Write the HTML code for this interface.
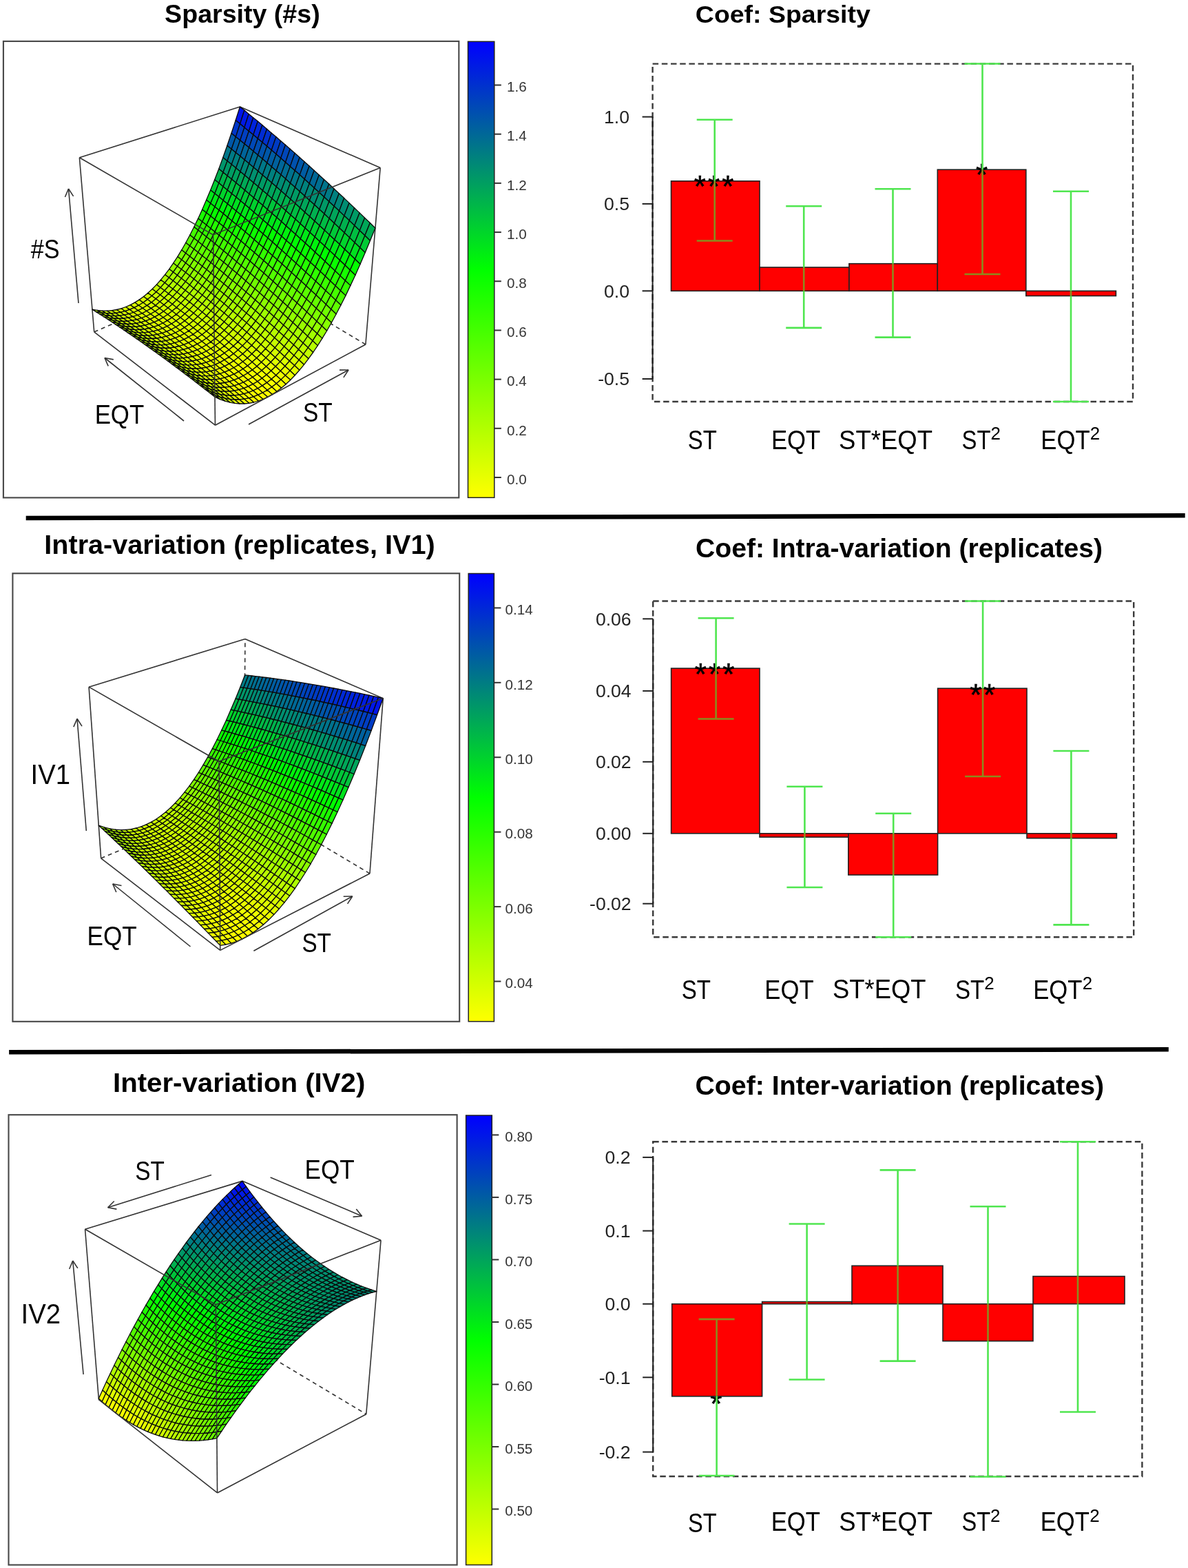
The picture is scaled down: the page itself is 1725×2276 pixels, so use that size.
<!DOCTYPE html>
<html><head><meta charset="utf-8"><title>Figure</title><style>html,body{margin:0;padding:0;background:#fff;}svg{display:block;filter:blur(0.5px);}</style></head><body>
<svg xmlns="http://www.w3.org/2000/svg" width="1725" height="2276" viewBox="0 0 1725 2276" font-family='"Liberation Sans", Arial, sans-serif' style="font-kerning:none">
<rect width="1725" height="2276" fill="#fff"/>
<line x1="37.7" y1="752.1" x2="1720.7" y2="748.3" stroke="#000" stroke-width="6.5"/>
<line x1="13.1" y1="1527.3" x2="1696.8" y2="1523.3" stroke="#000" stroke-width="6.5"/>
<text x="239.12" y="33.4" font-size="37.29" font-weight="bold" textLength="225.55" lengthAdjust="spacingAndGlyphs" fill="#000">Sparsity (#s)</text>
<text x="1009.86" y="33.4" font-size="35.88" font-weight="bold" textLength="253.94" lengthAdjust="spacingAndGlyphs" fill="#000">Coef: Sparsity</text>
<text x="64.35" y="803.5" font-size="38.66" font-weight="bold" textLength="567.32" lengthAdjust="spacingAndGlyphs" fill="#000">Intra-variation (replicates, IV1)</text>
<text x="1010" y="808.5" font-size="38.23" font-weight="bold" textLength="591.05" lengthAdjust="spacingAndGlyphs" fill="#000">Coef: Intra-variation (replicates)</text>
<text x="164.01" y="1585.1" font-size="39.24" font-weight="bold" textLength="366.29" lengthAdjust="spacingAndGlyphs" fill="#000">Inter-variation (IV2)</text>
<text x="1009.49" y="1588.5" font-size="38.52" font-weight="bold" textLength="593.67" lengthAdjust="spacingAndGlyphs" fill="#000">Coef: Inter-variation (replicates)</text>
<rect x="4.9" y="59.9" width="661.4" height="662.5" fill="none" stroke="#474747" stroke-width="2.1"/><line x1="136.72" y1="481.78" x2="115.36" y2="228.76" stroke="#333" stroke-width="1.6"/><line x1="136.72" y1="481.78" x2="347.33" y2="390.48" stroke="#333" stroke-width="1.6" stroke-dasharray="6 5"/><line x1="115.36" y1="228.76" x2="348.4" y2="154.94" stroke="#333" stroke-width="1.6"/><line x1="530.88" y1="499.97" x2="552.18" y2="243.48" stroke="#333" stroke-width="1.6"/><line x1="530.88" y1="499.97" x2="347.33" y2="390.48" stroke="#333" stroke-width="1.6" stroke-dasharray="6 5"/><line x1="552.18" y1="243.48" x2="348.4" y2="154.94" stroke="#333" stroke-width="1.6"/><line x1="347.33" y1="390.48" x2="348.4" y2="154.94" stroke="#333" stroke-width="1.6" stroke-dasharray="6 5"/><g stroke="#0a0a0a" stroke-width="1.3" stroke-linejoin="round"><path d="M263.7 377.1L269.7 367.3L263.8 362.7L257.8 372.6Z" fill="#7aff00"/><path d="M269.7 367.3L275.7 356.8L269.8 352.2L263.8 362.7Z" fill="#69ff00"/><path d="M257.6 386.4L263.7 377.1L257.8 372.6L251.7 381.9Z" fill="#89ff00"/><path d="M275.7 356.8L281.8 345.7L275.8 341.0L269.8 352.2Z" fill="#57ff00"/><path d="M251.5 395.0L257.6 386.4L251.7 381.9L245.7 390.6Z" fill="#97ff00"/><path d="M281.8 345.7L287.8 334.0L281.8 329.3L275.8 341.0Z" fill="#43ff00"/><path d="M245.4 403.1L251.5 395.0L245.7 390.6L239.6 398.7Z" fill="#a4ff00"/><path d="M287.8 334.0L293.8 321.7L287.8 316.9L281.8 329.3Z" fill="#2eff00"/><path d="M239.2 410.5L245.4 403.1L239.6 398.7L233.4 406.2Z" fill="#afff00"/><path d="M293.8 321.7L299.8 308.7L293.7 303.9L287.8 316.9Z" fill="#18ff00"/><path d="M233.0 417.4L239.2 410.5L233.4 406.2L227.3 413.1Z" fill="#baff00"/><path d="M269.6 381.7L275.7 371.9L269.7 367.3L263.7 377.1Z" fill="#7cff00"/><path d="M275.7 371.9L281.7 361.5L275.7 356.8L269.7 367.3Z" fill="#6bff00"/><path d="M263.5 390.9L269.6 381.7L263.7 377.1L257.6 386.4Z" fill="#8bff00"/><path d="M281.7 361.5L287.8 350.5L281.8 345.7L275.7 356.8Z" fill="#59ff00"/><path d="M299.8 308.7L305.8 295.0L299.7 290.1L293.7 303.9Z" fill="#01ff00"/><path d="M257.4 399.5L263.5 390.9L257.6 386.4L251.5 395.0Z" fill="#99ff00"/><path d="M226.8 423.7L233.0 417.4L227.3 413.1L221.1 419.5Z" fill="#c2ff00"/><path d="M287.8 350.5L293.8 338.8L287.8 334.0L281.8 345.7Z" fill="#46ff00"/><path d="M251.2 407.6L257.4 399.5L251.5 395.0L245.4 403.1Z" fill="#a6ff00"/><path d="M293.8 338.8L299.9 326.5L293.8 321.7L287.8 334.0Z" fill="#31ff00"/><path d="M305.8 295.0L311.9 280.7L305.7 275.8L299.7 290.1Z" fill="#00e718"/><path d="M245.1 415.0L251.2 407.6L245.4 403.1L239.2 410.5Z" fill="#b1ff00"/><path d="M220.5 429.5L226.8 423.7L221.1 419.5L214.8 425.2Z" fill="#caff00"/><path d="M299.9 326.5L305.9 313.5L299.8 308.7L293.8 321.7Z" fill="#1bff00"/><path d="M238.9 421.8L245.1 415.0L239.2 410.5L233.0 417.4Z" fill="#bbff00"/><path d="M311.9 280.7L317.9 265.6L311.7 260.7L305.7 275.8Z" fill="#00cd32"/><path d="M275.6 386.4L281.7 376.7L275.7 371.9L269.6 381.7Z" fill="#7eff00"/><path d="M281.7 376.7L287.7 366.3L281.7 361.5L275.7 371.9Z" fill="#6dff00"/><path d="M269.5 395.6L275.6 386.4L269.6 381.7L263.5 390.9Z" fill="#8dff00"/><path d="M214.2 434.6L220.5 429.5L214.8 425.2L208.5 430.5Z" fill="#d0ff00"/><path d="M305.9 313.5L312.0 299.9L305.8 295.0L299.8 308.7Z" fill="#04ff00"/><path d="M287.7 366.3L293.8 355.3L287.8 350.5L281.7 361.5Z" fill="#5cff00"/><path d="M263.3 404.1L269.5 395.6L263.5 390.9L257.4 399.5Z" fill="#9bff00"/><path d="M232.6 428.1L238.9 421.8L233.0 417.4L226.8 423.7Z" fill="#c3ff00"/><path d="M293.8 355.3L299.9 343.7L293.8 338.8L287.8 350.5Z" fill="#49ff00"/><path d="M257.1 412.1L263.3 404.1L257.4 399.5L251.2 407.6Z" fill="#a7ff00"/><path d="M299.9 343.7L306.0 331.4L299.9 326.5L293.8 338.8Z" fill="#34ff00"/><path d="M312.0 299.9L318.0 285.6L311.9 280.7L305.8 295.0Z" fill="#00ea15"/><path d="M317.9 265.6L324.0 249.9L317.8 244.9L311.7 260.7Z" fill="#00b14e"/><path d="M251.0 419.5L257.1 412.1L251.2 407.6L245.1 415.0Z" fill="#b2ff00"/><path d="M207.8 439.2L214.2 434.6L208.5 430.5L202.1 435.1Z" fill="#d5ff00"/><path d="M226.3 433.8L232.6 428.1L226.8 423.7L220.5 429.5Z" fill="#cbff00"/><path d="M306.0 331.4L312.0 318.5L305.9 313.5L299.9 326.5Z" fill="#1eff00"/><path d="M244.7 426.3L251.0 419.5L245.1 415.0L238.9 421.8Z" fill="#bcff00"/><path d="M318.0 285.6L324.1 270.7L317.9 265.6L311.9 280.7Z" fill="#00d02f"/><path d="M281.6 391.2L287.7 381.5L281.7 376.7L275.6 386.4Z" fill="#80ff00"/><path d="M287.7 381.5L293.8 371.2L287.7 366.3L281.7 376.7Z" fill="#70ff00"/><path d="M312.0 318.5L318.1 304.9L312.0 299.9L305.9 313.5Z" fill="#07ff00"/><path d="M275.5 400.3L281.6 391.2L275.6 386.4L269.5 395.6Z" fill="#8fff00"/><path d="M293.8 371.2L299.9 360.2L293.8 355.3L287.7 366.3Z" fill="#5eff00"/><path d="M219.9 438.9L226.3 433.8L220.5 429.5L214.2 434.6Z" fill="#d1ff00"/><path d="M324.0 249.9L330.1 233.5L323.8 228.5L317.8 244.9Z" fill="#00946b"/><path d="M269.3 408.8L275.5 400.3L269.5 395.6L263.3 404.1Z" fill="#9dff00"/><path d="M299.9 360.2L306.0 348.6L299.9 343.7L293.8 355.3Z" fill="#4bff00"/><path d="M201.3 443.2L207.8 439.2L202.1 435.1L195.7 439.1Z" fill="#d8ff00"/><path d="M238.4 432.5L244.7 426.3L238.9 421.8L232.6 428.1Z" fill="#c4ff00"/><path d="M263.1 416.7L269.3 408.8L263.3 404.1L257.1 412.1Z" fill="#a9ff00"/><path d="M306.0 348.6L312.1 336.4L306.0 331.4L299.9 343.7Z" fill="#37ff00"/><path d="M318.1 304.9L324.2 290.7L318.0 285.6L312.0 299.9Z" fill="#00ee11"/><path d="M324.1 270.7L330.2 255.0L324.0 249.9L317.9 265.6Z" fill="#00b54a"/><path d="M256.9 424.1L263.1 416.7L257.1 412.1L251.0 419.5Z" fill="#b4ff00"/><path d="M312.1 336.4L318.2 323.5L312.0 318.5L306.0 331.4Z" fill="#22ff00"/><path d="M213.5 443.4L219.9 438.9L214.2 434.6L207.8 439.2Z" fill="#d5ff00"/><path d="M232.1 438.1L238.4 432.5L232.6 428.1L226.3 433.8Z" fill="#ccff00"/><path d="M330.1 233.5L336.2 216.3L329.9 211.2L323.8 228.5Z" fill="#007689"/><path d="M324.2 290.7L330.3 275.7L324.1 270.7L318.0 285.6Z" fill="#00d42b"/><path d="M194.8 446.6L201.3 443.2L195.7 439.1L189.2 442.6Z" fill="#daff00"/><path d="M250.6 430.8L256.9 424.1L251.0 419.5L244.7 426.3Z" fill="#bdff00"/><path d="M318.2 323.5L324.4 310.0L318.1 304.9L312.0 318.5Z" fill="#0bff00"/><path d="M293.8 386.4L300.0 376.1L293.8 371.2L287.7 381.5Z" fill="#72ff00"/><path d="M287.7 396.0L293.8 386.4L287.7 381.5L281.6 391.2Z" fill="#83ff00"/><path d="M300.0 376.1L306.1 365.2L299.9 360.2L293.8 371.2Z" fill="#61ff00"/><path d="M330.2 255.0L336.3 238.6L330.1 233.5L324.0 249.9Z" fill="#009867"/><path d="M281.5 405.1L287.7 396.0L281.6 391.2L275.5 400.3Z" fill="#91ff00"/><path d="M306.1 365.2L312.2 353.6L306.0 348.6L299.9 360.2Z" fill="#4eff00"/><path d="M275.3 413.6L281.5 405.1L275.5 400.3L269.3 408.8Z" fill="#9fff00"/><path d="M225.8 443.2L232.1 438.1L226.3 433.8L219.9 438.9Z" fill="#d1ff00"/><path d="M207.1 447.3L213.5 443.4L207.8 439.2L201.3 443.2Z" fill="#d8ff00"/><path d="M244.3 437.0L250.6 430.8L244.7 426.3L238.4 432.5Z" fill="#c6ff00"/><path d="M324.4 310.0L330.5 295.8L324.2 290.7L318.1 304.9Z" fill="#00f10e"/><path d="M312.2 353.6L318.3 341.5L312.1 336.4L306.0 348.6Z" fill="#3aff00"/><path d="M330.3 275.7L336.5 260.1L330.2 255.0L324.1 270.7Z" fill="#00b946"/><path d="M269.1 421.4L275.3 413.6L269.3 408.8L263.1 416.7Z" fill="#abff00"/><path d="M336.2 216.3L342.4 198.4L336.0 193.3L329.9 211.2Z" fill="#0057a8"/><path d="M318.3 341.5L324.5 328.6L318.2 323.5L312.1 336.4Z" fill="#25ff00"/><path d="M188.2 449.4L194.8 446.6L189.2 442.6L182.6 445.5Z" fill="#dbff00"/><path d="M262.9 428.7L269.1 421.4L263.1 416.7L256.9 424.1Z" fill="#b5ff00"/><path d="M336.3 238.6L342.5 221.4L336.2 216.3L330.1 233.5Z" fill="#007a85"/><path d="M219.3 447.6L225.8 443.2L219.9 438.9L213.5 443.4Z" fill="#d6ff00"/><path d="M238.0 442.5L244.3 437.0L238.4 432.5L232.1 438.1Z" fill="#cdff00"/><path d="M330.5 295.8L336.6 280.9L330.3 275.7L324.2 290.7Z" fill="#00d827"/><path d="M324.5 328.6L330.6 315.2L324.4 310.0L318.2 323.5Z" fill="#0eff00"/><path d="M336.5 260.1L342.7 243.7L336.3 238.6L330.2 255.0Z" fill="#009c63"/><path d="M300.0 391.3L306.1 381.1L300.0 376.1L293.8 386.4Z" fill="#75ff00"/><path d="M200.5 450.7L207.1 447.3L201.3 443.2L194.8 446.6Z" fill="#daff00"/><path d="M256.6 435.4L262.9 428.7L256.9 424.1L250.6 430.8Z" fill="#bfff00"/><path d="M293.8 401.0L300.0 391.3L293.8 386.4L287.7 396.0Z" fill="#85ff00"/><path d="M306.1 381.1L312.3 370.2L306.1 365.2L300.0 376.1Z" fill="#64ff00"/><path d="M287.6 410.0L293.8 401.0L287.7 396.0L281.5 405.1Z" fill="#94ff00"/><path d="M312.3 370.2L318.4 358.7L312.2 353.6L306.1 365.2Z" fill="#51ff00"/><path d="M281.4 418.4L287.6 410.0L281.5 405.1L275.3 413.6Z" fill="#a1ff00"/><path d="M231.6 447.5L238.0 442.5L232.1 438.1L225.8 443.2Z" fill="#d2ff00"/><path d="M330.6 315.2L336.8 301.0L330.5 295.8L324.4 310.0Z" fill="#00f50a"/><path d="M336.6 280.9L342.8 265.3L336.5 260.1L330.3 275.7Z" fill="#00bd42"/><path d="M318.4 358.7L324.6 346.6L318.3 341.5L312.2 353.6Z" fill="#3dff00"/><path d="M342.4 198.4L348.6 179.6L342.2 174.5L336.0 193.3Z" fill="#0036c9"/><path d="M250.3 441.5L256.6 435.4L250.6 430.8L244.3 437.0Z" fill="#c7ff00"/><path d="M212.8 451.5L219.3 447.6L213.5 443.4L207.1 447.3Z" fill="#d9ff00"/><path d="M181.6 451.7L188.2 449.4L182.6 445.5L175.9 447.8Z" fill="#daff00"/><path d="M275.2 426.2L281.4 418.4L275.3 413.6L269.1 421.4Z" fill="#adff00"/><path d="M342.5 221.4L348.7 203.5L342.4 198.4L336.2 216.3Z" fill="#005ba4"/><path d="M324.6 346.6L330.8 333.8L324.5 328.6L318.3 341.5Z" fill="#28ff00"/><path d="M342.7 243.7L348.9 226.6L342.5 221.4L336.3 238.6Z" fill="#007f80"/><path d="M268.9 433.5L275.2 426.2L269.1 421.4L262.9 428.7Z" fill="#b7ff00"/><path d="M193.9 453.5L200.5 450.7L194.8 446.6L188.2 449.4Z" fill="#dbff00"/><path d="M336.8 301.0L343.0 286.1L336.6 280.9L330.5 295.8Z" fill="#00dc23"/><path d="M243.9 447.1L250.3 441.5L244.3 437.0L238.0 442.5Z" fill="#ceff00"/><path d="M225.2 452.0L231.6 447.5L225.8 443.2L219.3 447.6Z" fill="#d6ff00"/><path d="M330.8 333.8L336.9 320.4L330.6 315.2L324.5 328.6Z" fill="#12ff00"/><path d="M342.8 265.3L349.0 249.0L342.7 243.7L336.5 260.1Z" fill="#00a15e"/><path d="M306.2 396.4L312.4 386.2L306.1 381.1L300.0 391.3Z" fill="#78ff00"/><path d="M300.0 405.9L306.2 396.4L300.0 391.3L293.8 401.0Z" fill="#87ff00"/><path d="M312.4 386.2L318.5 375.4L312.3 370.2L306.1 381.1Z" fill="#67ff00"/><path d="M262.6 440.1L268.9 433.5L262.9 428.7L256.6 435.4Z" fill="#c0ff00"/><path d="M293.8 414.9L300.0 405.9L293.8 401.0L287.6 410.0Z" fill="#96ff00"/><path d="M206.3 454.8L212.8 451.5L207.1 447.3L200.5 450.7Z" fill="#dbff00"/><path d="M318.5 375.4L324.7 363.9L318.4 358.7L312.3 370.2Z" fill="#54ff00"/><path d="M348.6 179.6L354.8 160.1L348.4 154.9L342.2 174.5Z" fill="#0014eb"/><path d="M348.7 203.5L354.9 184.9L348.6 179.6L342.4 198.4Z" fill="#003ac5"/><path d="M287.5 423.3L293.8 414.9L287.6 410.0L281.4 418.4Z" fill="#a3ff00"/><path d="M336.9 320.4L343.1 306.3L336.8 301.0L330.6 315.2Z" fill="#00f906"/><path d="M343.0 286.1L349.2 270.6L342.8 265.3L336.6 280.9Z" fill="#00c13e"/><path d="M324.7 363.9L330.9 351.8L324.6 346.6L318.4 358.7Z" fill="#41ff00"/><path d="M174.8 453.3L181.6 451.7L175.9 447.8L169.2 449.5Z" fill="#d9ff00"/><path d="M348.9 226.6L355.1 208.8L348.7 203.5L342.5 221.4Z" fill="#005fa0"/><path d="M237.5 452.0L243.9 447.1L238.0 442.5L231.6 447.5Z" fill="#d3ff00"/><path d="M256.3 446.2L262.6 440.1L256.6 435.4L250.3 441.5Z" fill="#c8ff00"/><path d="M281.3 431.1L287.5 423.3L281.4 418.4L275.2 426.2Z" fill="#afff00"/><path d="M218.7 455.8L225.2 452.0L219.3 447.6L212.8 451.5Z" fill="#d9ff00"/><path d="M330.9 351.8L337.1 339.1L330.8 333.8L324.6 346.6Z" fill="#2cff00"/><path d="M349.0 249.0L355.3 231.9L348.9 226.6L342.7 243.7Z" fill="#00837c"/><path d="M187.2 455.6L193.9 453.5L188.2 449.4L181.6 451.7Z" fill="#daff00"/><path d="M343.1 306.3L349.4 291.5L343.0 286.1L336.8 301.0Z" fill="#00df20"/><path d="M275.0 438.3L281.3 431.1L275.2 426.2L268.9 433.5Z" fill="#b9ff00"/><path d="M337.1 339.1L343.3 325.7L336.9 320.4L330.8 333.8Z" fill="#15ff00"/><path d="M349.2 270.6L355.4 254.3L349.0 249.0L342.8 265.3Z" fill="#00a55a"/><path d="M199.7 457.5L206.3 454.8L200.5 450.7L193.9 453.5Z" fill="#dbff00"/><path d="M249.9 451.6L256.3 446.2L250.3 441.5L243.9 447.1Z" fill="#cfff00"/><path d="M231.1 456.4L237.5 452.0L231.6 447.5L225.2 452.0Z" fill="#d7ff00"/><path d="M312.4 401.5L318.6 391.3L312.4 386.2L306.2 396.4Z" fill="#7bff00"/><path d="M318.6 391.3L324.8 380.6L318.5 375.4L312.4 386.2Z" fill="#6aff00"/><path d="M306.2 411.0L312.4 401.5L306.2 396.4L300.0 405.9Z" fill="#8aff00"/><path d="M268.7 444.9L275.0 438.3L268.9 433.5L262.6 440.1Z" fill="#c2ff00"/><path d="M324.8 380.6L331.0 369.2L324.7 363.9L318.5 375.4Z" fill="#57ff00"/><path d="M354.9 184.9L361.2 165.4L354.8 160.1L348.6 179.6Z" fill="#0018e7"/><path d="M300.0 419.9L306.2 411.0L300.0 405.9L293.8 414.9Z" fill="#98ff00"/><path d="M355.1 208.8L361.4 190.2L354.9 184.9L348.7 203.5Z" fill="#003fc0"/><path d="M349.4 291.5L355.6 275.9L349.2 270.6L343.0 286.1Z" fill="#00c53a"/><path d="M343.3 325.7L349.5 311.6L343.1 306.3L336.9 320.4Z" fill="#00fc03"/><path d="M212.1 459.0L218.7 455.8L212.8 451.5L206.3 454.8Z" fill="#dbff00"/><path d="M167.9 454.4L174.8 453.3L169.2 449.5L162.3 450.7Z" fill="#d5ff00"/><path d="M331.0 369.2L337.3 357.1L330.9 351.8L324.7 363.9Z" fill="#44ff00"/><path d="M293.7 428.3L300.0 419.9L293.8 414.9L287.5 423.3Z" fill="#a5ff00"/><path d="M355.3 231.9L361.6 214.1L355.1 208.8L348.9 226.6Z" fill="#00649b"/><path d="M243.5 456.5L249.9 451.6L243.9 447.1L237.5 452.0Z" fill="#d4ff00"/><path d="M180.5 457.2L187.2 455.6L181.6 451.7L174.8 453.3Z" fill="#d8ff00"/><path d="M355.4 254.3L361.7 237.3L355.3 231.9L349.0 249.0Z" fill="#008778"/><path d="M337.3 357.1L343.5 344.4L337.1 339.1L330.9 351.8Z" fill="#2fff00"/><path d="M287.4 436.0L293.7 428.3L287.5 423.3L281.3 431.1Z" fill="#b1ff00"/><path d="M262.3 450.9L268.7 444.9L262.6 440.1L256.3 446.2Z" fill="#caff00"/><path d="M224.5 460.1L231.1 456.4L225.2 452.0L218.7 455.8Z" fill="#daff00"/><path d="M349.5 311.6L355.8 296.8L349.4 291.5L343.1 306.3Z" fill="#00e31c"/><path d="M193.0 459.7L199.7 457.5L193.9 453.5L187.2 455.6Z" fill="#daff00"/><path d="M355.6 275.9L361.9 259.7L355.4 254.3L349.2 270.6Z" fill="#00a956"/><path d="M343.5 344.4L349.7 331.1L343.3 325.7L337.1 339.1Z" fill="#19ff00"/><path d="M281.1 443.1L287.4 436.0L281.3 431.1L275.0 438.3Z" fill="#bbff00"/><path d="M318.7 406.7L324.9 396.6L318.6 391.3L312.4 401.5Z" fill="#7dff00"/><path d="M324.9 396.6L331.2 385.8L324.8 380.6L318.6 391.3Z" fill="#6dff00"/><path d="M256.0 456.3L262.3 450.9L256.3 446.2L249.9 451.6Z" fill="#d0ff00"/><path d="M205.5 461.7L212.1 459.0L206.3 454.8L199.7 457.5Z" fill="#dbff00"/><path d="M361.4 190.2L367.7 170.7L361.2 165.4L354.9 184.9Z" fill="#001de2"/><path d="M312.5 416.2L318.7 406.7L312.4 401.5L306.2 411.0Z" fill="#8dff00"/><path d="M361.6 214.1L367.9 195.5L361.4 190.2L355.1 208.8Z" fill="#0044bb"/><path d="M237.0 460.8L243.5 456.5L237.5 452.0L231.1 456.4Z" fill="#d8ff00"/><path d="M331.2 385.8L337.4 374.5L331.0 369.2L324.8 380.6Z" fill="#5bff00"/><path d="M306.2 425.0L312.5 416.2L306.2 411.0L300.0 419.9Z" fill="#9bff00"/><path d="M355.8 296.8L362.1 281.4L355.6 275.9L349.4 291.5Z" fill="#00c936"/><path d="M349.7 331.1L356.0 317.0L349.5 311.6L343.3 325.7Z" fill="#01ff00"/><path d="M274.8 449.7L281.1 443.1L275.0 438.3L268.7 444.9Z" fill="#c4ff00"/><path d="M361.7 237.3L368.0 219.5L361.6 214.1L355.3 231.9Z" fill="#006897"/><path d="M337.4 374.5L343.7 362.5L337.3 357.1L331.0 369.2Z" fill="#47ff00"/><path d="M161.0 454.9L167.9 454.4L162.3 450.7L155.4 451.2Z" fill="#d1ff00"/><path d="M299.9 433.3L306.2 425.0L300.0 419.9L293.7 428.3Z" fill="#a7ff00"/><path d="M218.0 463.3L224.5 460.1L218.7 455.8L212.1 459.0Z" fill="#dbff00"/><path d="M361.9 259.7L368.2 242.7L361.7 237.3L355.4 254.3Z" fill="#008c73"/><path d="M173.6 458.2L180.5 457.2L174.8 453.3L167.9 454.4Z" fill="#d5ff00"/><path d="M343.7 362.5L349.9 349.8L343.5 344.4L337.3 357.1Z" fill="#33ff00"/><path d="M293.6 441.0L299.9 433.3L293.7 428.3L287.4 436.0Z" fill="#b3ff00"/><path d="M249.5 461.1L256.0 456.3L249.9 451.6L243.5 456.5Z" fill="#d5ff00"/><path d="M356.0 317.0L362.3 302.3L355.8 296.8L349.5 311.6Z" fill="#00e718"/><path d="M268.4 455.6L274.8 449.7L268.7 444.9L262.3 450.9Z" fill="#cbff00"/><path d="M186.2 461.2L193.0 459.7L187.2 455.6L180.5 457.2Z" fill="#d8ff00"/><path d="M362.1 281.4L368.4 265.2L361.9 259.7L355.6 275.9Z" fill="#00ad52"/><path d="M230.5 464.6L237.0 460.8L231.1 456.4L224.5 460.1Z" fill="#daff00"/><path d="M349.9 349.8L356.2 336.5L349.7 331.1L343.5 344.4Z" fill="#1dff00"/><path d="M287.3 448.1L293.6 441.0L287.4 436.0L281.1 443.1Z" fill="#bdff00"/><path d="M198.7 463.8L205.5 461.7L199.7 457.5L193.0 459.7Z" fill="#daff00"/><path d="M367.9 195.5L374.3 176.1L367.7 170.7L361.4 190.2Z" fill="#0022dd"/><path d="M325.0 411.9L331.3 401.9L324.9 396.6L318.7 406.7Z" fill="#80ff00"/><path d="M368.0 219.5L374.4 201.0L367.9 195.5L361.6 214.1Z" fill="#0048b7"/><path d="M331.3 401.9L337.6 391.2L331.2 385.8L324.9 396.6Z" fill="#70ff00"/><path d="M318.8 421.4L325.0 411.9L318.7 406.7L312.5 416.2Z" fill="#8fff00"/><path d="M362.3 302.3L368.6 286.9L362.1 281.4L355.8 296.8Z" fill="#00cd32"/><path d="M337.6 391.2L343.8 379.9L337.4 374.5L331.2 385.8Z" fill="#5eff00"/><path d="M262.0 461.0L268.4 455.6L262.3 450.9L256.0 456.3Z" fill="#d1ff00"/><path d="M356.2 336.5L362.5 322.5L356.0 317.0L349.7 331.1Z" fill="#05ff00"/><path d="M368.2 242.7L374.6 225.0L368.0 219.5L361.7 237.3Z" fill="#006d92"/><path d="M312.5 430.2L318.8 421.4L312.5 416.2L306.2 425.0Z" fill="#9dff00"/><path d="M211.3 465.9L218.0 463.3L212.1 459.0L205.5 461.7Z" fill="#dbff00"/><path d="M243.0 465.4L249.5 461.1L243.5 456.5L237.0 460.8Z" fill="#d9ff00"/><path d="M343.8 379.9L350.1 367.9L343.7 362.5L337.4 374.5Z" fill="#4bff00"/><path d="M281.0 454.6L287.3 448.1L281.1 443.1L274.8 449.7Z" fill="#c5ff00"/><path d="M368.4 265.2L374.8 248.3L368.2 242.7L361.9 259.7Z" fill="#00906f"/><path d="M306.2 438.4L312.5 430.2L306.2 425.0L299.9 433.3Z" fill="#aaff00"/><path d="M153.9 454.7L161.0 454.9L155.4 451.2L148.4 451.1Z" fill="#cbff00"/><path d="M350.1 367.9L356.4 355.3L349.9 349.8L343.7 362.5Z" fill="#36ff00"/><path d="M166.6 458.6L173.6 458.2L167.9 454.4L161.0 454.9Z" fill="#d0ff00"/><path d="M223.9 467.7L230.5 464.6L224.5 460.1L218.0 463.3Z" fill="#dcff00"/><path d="M362.5 322.5L368.8 307.9L362.3 302.3L356.0 317.0Z" fill="#00ec13"/><path d="M299.9 446.1L306.2 438.4L299.9 433.3L293.6 441.0Z" fill="#b5ff00"/><path d="M179.3 462.2L186.2 461.2L180.5 457.2L173.6 458.2Z" fill="#d4ff00"/><path d="M368.6 286.9L375.0 270.7L368.4 265.2L362.1 281.4Z" fill="#00b24d"/><path d="M255.6 465.8L262.0 461.0L256.0 456.3L249.5 461.1Z" fill="#d6ff00"/><path d="M274.6 460.5L281.0 454.6L274.8 449.7L268.4 455.6Z" fill="#cdff00"/><path d="M356.4 355.3L362.7 342.1L356.2 336.5L349.9 349.8Z" fill="#21ff00"/><path d="M191.9 465.2L198.7 463.8L193.0 459.7L186.2 461.2Z" fill="#d7ff00"/><path d="M374.4 201.0L380.8 181.6L374.3 176.1L367.9 195.5Z" fill="#0027d8"/><path d="M236.5 469.0L243.0 465.4L237.0 460.8L230.5 464.6Z" fill="#dbff00"/><path d="M374.6 225.0L381.0 206.5L374.4 201.0L368.0 219.5Z" fill="#004db2"/><path d="M293.6 453.1L299.9 446.1L293.6 441.0L287.3 448.1Z" fill="#bfff00"/><path d="M331.4 417.3L337.7 407.3L331.3 401.9L325.0 411.9Z" fill="#83ff00"/><path d="M337.7 407.3L344.0 396.6L337.6 391.2L331.3 401.9Z" fill="#73ff00"/><path d="M368.8 307.9L375.2 292.5L368.6 286.9L362.3 302.3Z" fill="#00d22d"/><path d="M204.6 467.9L211.3 465.9L205.5 461.7L198.7 463.8Z" fill="#daff00"/><path d="M374.8 248.3L381.2 230.6L374.6 225.0L368.2 242.7Z" fill="#00728d"/><path d="M325.2 426.7L331.4 417.3L325.0 411.9L318.8 421.4Z" fill="#92ff00"/><path d="M362.7 342.1L369.0 328.1L362.5 322.5L356.2 336.5Z" fill="#09ff00"/><path d="M344.0 396.6L350.3 385.4L343.8 379.9L337.6 391.2Z" fill="#61ff00"/><path d="M268.2 465.8L274.6 460.5L268.4 455.6L262.0 461.0Z" fill="#d3ff00"/><path d="M318.9 435.5L325.2 426.7L318.8 421.4L312.5 430.2Z" fill="#a0ff00"/><path d="M350.3 385.4L356.6 373.4L350.1 367.9L343.8 379.9Z" fill="#4eff00"/><path d="M375.0 270.7L381.3 253.9L374.8 248.3L368.4 265.2Z" fill="#00956a"/><path d="M249.1 470.0L255.6 465.8L249.5 461.1L243.0 465.4Z" fill="#daff00"/><path d="M287.2 459.6L293.6 453.1L287.3 448.1L281.0 454.6Z" fill="#c7ff00"/><path d="M217.2 470.2L223.9 467.7L218.0 463.3L211.3 465.9Z" fill="#dbff00"/><path d="M312.5 443.7L318.9 435.5L312.5 430.2L306.2 438.4Z" fill="#acff00"/><path d="M356.6 373.4L362.9 360.9L356.4 355.3L350.1 367.9Z" fill="#3aff00"/><path d="M369.0 328.1L375.4 313.5L368.8 307.9L362.5 322.5Z" fill="#00f00f"/><path d="M146.8 454.0L153.9 454.7L148.4 451.1L141.2 450.4Z" fill="#c4ff00"/><path d="M375.2 292.5L381.5 276.4L375.0 270.7L368.6 286.9Z" fill="#00b649"/><path d="M159.6 458.4L166.6 458.6L161.0 454.9L153.9 454.7Z" fill="#caff00"/><path d="M229.9 472.1L236.5 469.0L230.5 464.6L223.9 467.7Z" fill="#dcff00"/><path d="M306.2 451.2L312.5 443.7L306.2 438.4L299.9 446.1Z" fill="#b7ff00"/><path d="M172.3 462.5L179.3 462.2L173.6 458.2L166.6 458.6Z" fill="#cfff00"/><path d="M362.9 360.9L369.2 347.7L362.7 342.1L356.4 355.3Z" fill="#24ff00"/><path d="M280.8 465.4L287.2 459.6L281.0 454.6L274.6 460.5Z" fill="#ceff00"/><path d="M381.0 206.5L387.5 187.2L380.8 181.6L374.4 201.0Z" fill="#002cd3"/><path d="M261.7 470.6L268.2 465.8L262.0 461.0L255.6 465.8Z" fill="#d7ff00"/><path d="M185.0 466.1L191.9 465.2L186.2 461.2L179.3 462.2Z" fill="#d4ff00"/><path d="M381.2 230.6L387.6 212.1L381.0 206.5L374.6 225.0Z" fill="#0052ad"/><path d="M375.4 313.5L381.8 298.1L375.2 292.5L368.8 307.9Z" fill="#00d629"/><path d="M299.9 458.2L306.2 451.2L299.9 446.1L293.6 453.1Z" fill="#c1ff00"/><path d="M381.3 253.9L387.8 236.2L381.2 230.6L374.8 248.3Z" fill="#007788"/><path d="M197.8 469.4L204.6 467.9L198.7 463.8L191.9 465.2Z" fill="#d7ff00"/><path d="M242.5 473.6L249.1 470.0L243.0 465.4L236.5 469.0Z" fill="#dcff00"/><path d="M344.2 412.7L350.5 402.1L344.0 396.6L337.7 407.3Z" fill="#76ff00"/><path d="M337.9 422.7L344.2 412.7L337.7 407.3L331.4 417.3Z" fill="#86ff00"/><path d="M369.2 347.7L375.6 333.8L369.0 328.1L362.7 342.1Z" fill="#0dff00"/><path d="M350.5 402.1L356.8 390.9L350.3 385.4L344.0 396.6Z" fill="#65ff00"/><path d="M331.6 432.1L337.9 422.7L331.4 417.3L325.2 426.7Z" fill="#95ff00"/><path d="M356.8 390.9L363.1 379.1L356.6 373.4L350.3 385.4Z" fill="#52ff00"/><path d="M210.5 472.2L217.2 470.2L211.3 465.9L204.6 467.9Z" fill="#daff00"/><path d="M381.5 276.4L388.0 259.5L381.3 253.9L375.0 270.7Z" fill="#009a65"/><path d="M325.3 440.8L331.6 432.1L325.2 426.7L318.9 435.5Z" fill="#a3ff00"/><path d="M274.4 470.7L280.8 465.4L274.6 460.5L268.2 465.8Z" fill="#d4ff00"/><path d="M293.5 464.6L299.9 458.2L293.6 453.1L287.2 459.6Z" fill="#c9ff00"/><path d="M363.1 379.1L369.5 366.5L362.9 360.9L356.6 373.4Z" fill="#3eff00"/><path d="M255.2 474.7L261.7 470.6L255.6 465.8L249.1 470.0Z" fill="#dbff00"/><path d="M318.9 448.9L325.3 440.8L318.9 435.5L312.5 443.7Z" fill="#afff00"/><path d="M375.6 333.8L382.0 319.2L375.4 313.5L369.0 328.1Z" fill="#00f40b"/><path d="M223.2 474.6L229.9 472.1L223.9 467.7L217.2 470.2Z" fill="#dcff00"/><path d="M381.8 298.1L388.2 282.1L381.5 276.4L375.2 292.5Z" fill="#00bb44"/><path d="M369.5 366.5L375.9 353.4L369.2 347.7L362.9 360.9Z" fill="#28ff00"/><path d="M387.6 212.1L394.1 192.9L387.5 187.2L381.0 206.5Z" fill="#0031ce"/><path d="M312.6 456.5L318.9 448.9L312.5 443.7L306.2 451.2Z" fill="#baff00"/><path d="M387.8 236.2L394.3 217.8L387.6 212.1L381.2 230.6Z" fill="#0057a8"/><path d="M235.9 476.6L242.5 473.6L236.5 469.0L229.9 472.1Z" fill="#ddff00"/><path d="M152.4 457.6L159.6 458.4L153.9 454.7L146.8 454.0Z" fill="#c2ff00"/><path d="M139.5 452.6L146.8 454.0L141.2 450.4L134.0 449.1Z" fill="#bbff00"/><path d="M165.2 462.2L172.3 462.5L166.6 458.6L159.6 458.4Z" fill="#c9ff00"/><path d="M287.1 470.4L293.5 464.6L287.2 459.6L280.8 465.4Z" fill="#d0ff00"/><path d="M267.9 475.4L274.4 470.7L268.2 465.8L261.7 470.6Z" fill="#d9ff00"/><path d="M178.0 466.4L185.0 466.1L179.3 462.2L172.3 462.5Z" fill="#cfff00"/><path d="M388.0 259.5L394.5 241.9L387.8 236.2L381.3 253.9Z" fill="#007b84"/><path d="M382.0 319.2L388.4 303.9L381.8 298.1L375.4 313.5Z" fill="#00da25"/><path d="M375.9 353.4L382.2 339.5L375.6 333.8L369.2 347.7Z" fill="#12ff00"/><path d="M190.8 470.2L197.8 469.4L191.9 465.2L185.0 466.1Z" fill="#d3ff00"/><path d="M350.7 418.3L357.0 407.7L350.5 402.1L344.2 412.7Z" fill="#7aff00"/><path d="M344.4 428.2L350.7 418.3L344.2 412.7L337.9 422.7Z" fill="#8aff00"/><path d="M306.2 463.4L312.6 456.5L306.2 451.2L299.9 458.2Z" fill="#c3ff00"/><path d="M357.0 407.7L363.4 396.6L356.8 390.9L350.5 402.1Z" fill="#68ff00"/><path d="M338.1 437.5L344.4 428.2L337.9 422.7L331.6 432.1Z" fill="#98ff00"/><path d="M248.6 478.3L255.2 474.7L249.1 470.0L242.5 473.6Z" fill="#ddff00"/><path d="M388.2 282.1L394.7 265.3L388.0 259.5L381.5 276.4Z" fill="#009e61"/><path d="M203.6 473.5L210.5 472.2L204.6 467.9L197.8 469.4Z" fill="#d7ff00"/><path d="M363.4 396.6L369.7 384.7L363.1 379.1L356.8 390.9Z" fill="#56ff00"/><path d="M331.7 446.2L338.1 437.5L331.6 432.1L325.3 440.8Z" fill="#a5ff00"/><path d="M216.4 476.5L223.2 474.6L217.2 470.2L210.5 472.2Z" fill="#daff00"/><path d="M369.7 384.7L376.1 372.3L369.5 366.5L363.1 379.1Z" fill="#42ff00"/><path d="M280.6 475.7L287.1 470.4L280.8 465.4L274.4 470.7Z" fill="#d6ff00"/><path d="M382.2 339.5L388.7 325.0L382.0 319.2L375.6 333.8Z" fill="#00f807"/><path d="M299.8 469.8L306.2 463.4L299.9 458.2L293.5 464.6Z" fill="#cbff00"/><path d="M388.4 303.9L394.9 287.9L388.2 282.1L381.8 298.1Z" fill="#00bf40"/><path d="M325.4 454.3L331.7 446.2L325.3 440.8L318.9 448.9Z" fill="#b1ff00"/><path d="M261.3 479.5L267.9 475.4L261.7 470.6L255.2 474.7Z" fill="#dcff00"/><path d="M394.3 217.8L400.8 198.6L394.1 192.9L387.6 212.1Z" fill="#0036c9"/><path d="M229.2 479.1L235.9 476.6L229.9 472.1L223.2 474.6Z" fill="#dcff00"/><path d="M376.1 372.3L382.5 359.1L375.9 353.4L369.5 366.5Z" fill="#2dff00"/><path d="M394.5 241.9L401.0 223.6L394.3 217.8L387.8 236.2Z" fill="#005ca3"/><path d="M319.0 461.8L325.4 454.3L318.9 448.9L312.6 456.5Z" fill="#bcff00"/><path d="M394.7 265.3L401.2 247.7L394.5 241.9L388.0 259.5Z" fill="#00807f"/><path d="M388.7 325.0L395.1 309.7L388.4 303.9L382.0 319.2Z" fill="#00df20"/><path d="M242.0 481.2L248.6 478.3L242.5 473.6L235.9 476.6Z" fill="#ddff00"/><path d="M293.4 475.5L299.8 469.8L293.5 464.6L287.1 470.4Z" fill="#d2ff00"/><path d="M382.5 359.1L388.9 345.3L382.2 339.5L375.9 353.4Z" fill="#16ff00"/><path d="M274.1 480.3L280.6 475.7L274.4 470.7L267.9 475.4Z" fill="#daff00"/><path d="M158.0 461.3L165.2 462.2L159.6 458.4L152.4 457.6Z" fill="#c1ff00"/><path d="M357.3 423.9L363.6 413.4L357.0 407.7L350.7 418.3Z" fill="#7dff00"/><path d="M171.0 466.1L178.0 466.4L172.3 462.5L165.2 462.2Z" fill="#c8ff00"/><path d="M350.9 433.8L357.3 423.9L350.7 418.3L344.4 428.2Z" fill="#8dff00"/><path d="M145.1 456.2L152.4 457.6L146.8 454.0L139.5 452.6Z" fill="#baff00"/><path d="M363.6 413.4L370.0 402.3L363.4 396.6L357.0 407.7Z" fill="#6cff00"/><path d="M394.9 287.9L401.4 271.1L394.7 265.3L388.2 282.1Z" fill="#00a35c"/><path d="M183.8 470.4L190.8 470.2L185.0 466.1L178.0 466.4Z" fill="#ceff00"/><path d="M312.6 468.7L319.0 461.8L312.6 456.5L306.2 463.4Z" fill="#c5ff00"/><path d="M344.6 443.0L350.9 433.8L344.4 428.2L338.1 437.5Z" fill="#9bff00"/><path d="M370.0 402.3L376.4 390.5L369.7 384.7L363.4 396.6Z" fill="#5aff00"/><path d="M196.7 474.3L203.6 473.5L197.8 469.4L190.8 470.2Z" fill="#d3ff00"/><path d="M254.7 483.0L261.3 479.5L255.2 474.7L248.6 478.3Z" fill="#deff00"/><path d="M338.2 451.7L344.6 443.0L338.1 437.5L331.7 446.2Z" fill="#a8ff00"/><path d="M209.6 477.8L216.4 476.5L210.5 472.2L203.6 473.5Z" fill="#d7ff00"/><path d="M388.9 345.3L395.4 330.8L388.7 325.0L382.2 339.5Z" fill="#00fd02"/><path d="M376.4 390.5L382.8 378.1L376.1 372.3L369.7 384.7Z" fill="#46ff00"/><path d="M395.1 309.7L401.6 293.8L394.9 287.9L388.4 303.9Z" fill="#00c43b"/><path d="M286.9 480.7L293.4 475.5L287.1 470.4L280.6 475.7Z" fill="#d7ff00"/><path d="M401.0 223.6L407.6 204.4L400.8 198.6L394.3 217.8Z" fill="#003bc4"/><path d="M331.8 459.7L338.2 451.7L331.7 446.2L325.4 454.3Z" fill="#b4ff00"/><path d="M306.2 475.0L312.6 468.7L306.2 463.4L299.8 469.8Z" fill="#cdff00"/><path d="M222.4 480.9L229.2 479.1L223.2 474.6L216.4 476.5Z" fill="#daff00"/><path d="M401.2 247.7L407.8 229.4L401.0 223.6L394.5 241.9Z" fill="#00619e"/><path d="M382.8 378.1L389.2 365.0L382.5 359.1L376.1 372.3Z" fill="#31ff00"/><path d="M267.6 484.3L274.1 480.3L267.9 475.4L261.3 479.5Z" fill="#ddff00"/><path d="M401.4 271.1L408.0 253.6L401.2 247.7L394.7 265.3Z" fill="#00857a"/><path d="M235.2 483.6L242.0 481.2L235.9 476.6L229.2 479.1Z" fill="#ddff00"/><path d="M325.5 467.2L331.8 459.7L325.4 454.3L319.0 461.8Z" fill="#bfff00"/><path d="M395.4 330.8L401.9 315.6L395.1 309.7L388.7 325.0Z" fill="#00e41b"/><path d="M389.2 365.0L395.7 351.2L388.9 345.3L382.5 359.1Z" fill="#1aff00"/><path d="M401.6 293.8L408.2 277.1L401.4 271.1L394.9 287.9Z" fill="#00a857"/><path d="M299.7 480.7L306.2 475.0L299.8 469.8L293.4 475.5Z" fill="#d4ff00"/><path d="M363.9 429.6L370.3 419.2L363.6 413.4L357.3 423.9Z" fill="#81ff00"/><path d="M357.5 439.4L363.9 429.6L357.3 423.9L350.9 433.8Z" fill="#90ff00"/><path d="M370.3 419.2L376.7 408.1L370.0 402.3L363.6 413.4Z" fill="#70ff00"/><path d="M248.1 485.9L254.7 483.0L248.6 478.3L242.0 481.2Z" fill="#deff00"/><path d="M280.4 485.3L286.9 480.7L280.6 475.7L274.1 480.3Z" fill="#dbff00"/><path d="M351.1 448.7L357.5 439.4L350.9 433.8L344.6 443.0Z" fill="#9eff00"/><path d="M376.7 408.1L383.1 396.3L376.4 390.5L370.0 402.3Z" fill="#5dff00"/><path d="M319.1 474.0L325.5 467.2L319.0 461.8L312.6 468.7Z" fill="#c8ff00"/><path d="M163.8 465.1L171.0 466.1L165.2 462.2L158.0 461.3Z" fill="#c0ff00"/><path d="M176.7 470.0L183.8 470.4L178.0 466.4L171.0 466.1Z" fill="#c7ff00"/><path d="M150.7 459.8L158.0 461.3L152.4 457.6L145.1 456.2Z" fill="#b8ff00"/><path d="M189.7 474.4L196.7 474.3L190.8 470.2L183.8 470.4Z" fill="#ceff00"/><path d="M395.7 351.2L402.1 336.8L395.4 330.8L388.9 345.3Z" fill="#02ff00"/><path d="M344.8 457.3L351.1 448.7L344.6 443.0L338.2 451.7Z" fill="#abff00"/><path d="M383.1 396.3L389.5 384.0L382.8 378.1L376.4 390.5Z" fill="#4aff00"/><path d="M401.9 315.6L408.4 299.7L401.6 293.8L395.1 309.7Z" fill="#00c936"/><path d="M202.6 478.5L209.6 477.8L203.6 473.5L196.7 474.3Z" fill="#d3ff00"/><path d="M260.9 487.8L267.6 484.3L261.3 479.5L254.7 483.0Z" fill="#dfff00"/><path d="M407.8 229.4L414.4 210.3L407.6 204.4L401.0 223.6Z" fill="#0041be"/><path d="M408.0 253.6L414.6 235.4L407.8 229.4L401.2 247.7Z" fill="#006699"/><path d="M215.6 482.1L222.4 480.9L216.4 476.5L209.6 477.8Z" fill="#d7ff00"/><path d="M338.4 465.3L344.8 457.3L338.2 451.7L331.8 459.7Z" fill="#b7ff00"/><path d="M389.5 384.0L395.9 370.9L389.2 365.0L382.8 378.1Z" fill="#35ff00"/><path d="M293.3 485.8L299.7 480.7L293.4 475.5L286.9 480.7Z" fill="#d9ff00"/><path d="M312.6 480.3L319.1 474.0L312.6 468.7L306.2 475.0Z" fill="#cfff00"/><path d="M408.2 277.1L414.8 259.6L408.0 253.6L401.4 271.1Z" fill="#008b74"/><path d="M228.5 485.4L235.2 483.6L229.2 479.1L222.4 480.9Z" fill="#dbff00"/><path d="M402.1 336.8L408.7 321.6L401.9 315.6L395.4 330.8Z" fill="#00e817"/><path d="M273.8 489.3L280.4 485.3L274.1 480.3L267.6 484.3Z" fill="#deff00"/><path d="M332.0 472.7L338.4 465.3L331.8 459.7L325.5 467.2Z" fill="#c1ff00"/><path d="M395.9 370.9L402.4 357.2L395.7 351.2L389.2 365.0Z" fill="#1fff00"/><path d="M241.4 488.2L248.1 485.9L242.0 481.2L235.2 483.6Z" fill="#ddff00"/><path d="M408.4 299.7L415.0 283.1L408.2 277.1L401.6 293.8Z" fill="#00ad52"/><path d="M370.6 435.4L377.0 425.0L370.3 419.2L363.9 429.6Z" fill="#84ff00"/><path d="M377.0 425.0L383.4 414.0L376.7 408.1L370.3 419.2Z" fill="#73ff00"/><path d="M364.2 445.2L370.6 435.4L363.9 429.6L357.5 439.4Z" fill="#94ff00"/><path d="M306.2 485.9L312.6 480.3L306.2 475.0L299.7 480.7Z" fill="#d6ff00"/><path d="M383.4 414.0L389.8 402.3L383.1 396.3L376.7 408.1Z" fill="#61ff00"/><path d="M357.8 454.4L364.2 445.2L357.5 439.4L351.1 448.7Z" fill="#a2ff00"/><path d="M286.7 490.3L293.3 485.8L286.9 480.7L280.4 485.3Z" fill="#ddff00"/><path d="M254.3 490.6L260.9 487.8L254.7 483.0L248.1 485.9Z" fill="#dfff00"/><path d="M325.6 479.5L332.0 472.7L325.5 467.2L319.1 474.0Z" fill="#caff00"/><path d="M402.4 357.2L408.9 342.8L402.1 336.8L395.7 351.2Z" fill="#07ff00"/><path d="M408.7 321.6L415.2 305.8L408.4 299.7L401.9 315.6Z" fill="#00ce31"/><path d="M389.8 402.3L396.3 389.9L389.5 384.0L383.1 396.3Z" fill="#4eff00"/><path d="M414.6 235.4L421.2 216.3L414.4 210.3L407.8 229.4Z" fill="#0046b9"/><path d="M351.4 462.9L357.8 454.4L351.1 448.7L344.8 457.3Z" fill="#aeff00"/><path d="M414.8 259.6L421.4 241.4L414.6 235.4L408.0 253.6Z" fill="#006c93"/><path d="M182.6 474.0L189.7 474.4L183.8 470.4L176.7 470.0Z" fill="#c7ff00"/><path d="M169.5 468.9L176.7 470.0L171.0 466.1L163.8 465.1Z" fill="#bfff00"/><path d="M195.6 478.6L202.6 478.5L196.7 474.3L189.7 474.4Z" fill="#cdff00"/><path d="M267.2 492.7L273.8 489.3L267.6 484.3L260.9 487.8Z" fill="#e0ff00"/><path d="M156.4 463.5L163.8 465.1L158.0 461.3L150.7 459.8Z" fill="#b7ff00"/><path d="M396.3 389.9L402.7 376.9L395.9 370.9L389.5 384.0Z" fill="#39ff00"/><path d="M208.6 482.8L215.6 482.1L209.6 477.8L202.6 478.5Z" fill="#d3ff00"/><path d="M345.0 470.9L351.4 462.9L344.8 457.3L338.4 465.3Z" fill="#baff00"/><path d="M415.0 283.1L421.6 265.7L414.8 259.6L408.2 277.1Z" fill="#00906f"/><path d="M299.7 491.0L306.2 485.9L299.7 480.7L293.3 485.8Z" fill="#dbff00"/><path d="M319.1 485.7L325.6 479.5L319.1 474.0L312.6 480.3Z" fill="#d2ff00"/><path d="M408.9 342.8L415.5 327.7L408.7 321.6L402.1 336.8Z" fill="#00ed12"/><path d="M221.6 486.6L228.5 485.4L222.4 480.9L215.6 482.1Z" fill="#d7ff00"/><path d="M402.7 376.9L409.3 363.3L402.4 357.2L395.9 370.9Z" fill="#23ff00"/><path d="M415.2 305.8L421.9 289.1L415.0 283.1L408.4 299.7Z" fill="#00b24d"/><path d="M234.6 489.9L241.4 488.2L235.2 483.6L228.5 485.4Z" fill="#dbff00"/><path d="M280.2 494.3L286.7 490.3L280.4 485.3L273.8 489.3Z" fill="#e0ff00"/><path d="M338.5 478.2L345.0 470.9L338.4 465.3L332.0 472.7Z" fill="#c4ff00"/><path d="M377.3 441.3L383.7 430.9L377.0 425.0L370.6 435.4Z" fill="#88ff00"/><path d="M383.7 430.9L390.1 419.9L383.4 414.0L377.0 425.0Z" fill="#77ff00"/><path d="M370.9 451.0L377.3 441.3L370.6 435.4L364.2 445.2Z" fill="#97ff00"/><path d="M247.5 492.9L254.3 490.6L248.1 485.9L241.4 488.2Z" fill="#deff00"/><path d="M390.1 419.9L396.6 408.3L389.8 402.3L383.4 414.0Z" fill="#65ff00"/><path d="M312.6 491.3L319.1 485.7L312.6 480.3L306.2 485.9Z" fill="#d8ff00"/><path d="M364.5 460.1L370.9 451.0L364.2 445.2L357.8 454.4Z" fill="#a5ff00"/><path d="M409.3 363.3L415.8 348.9L408.9 342.8L402.4 357.2Z" fill="#0cff00"/><path d="M415.5 327.7L422.1 311.9L415.2 305.8L408.7 321.6Z" fill="#00d32c"/><path d="M421.4 241.4L428.1 222.3L421.2 216.3L414.6 235.4Z" fill="#004cb3"/><path d="M396.6 408.3L403.1 396.0L396.3 389.9L389.8 402.3Z" fill="#52ff00"/><path d="M332.1 485.0L338.5 478.2L332.0 472.7L325.6 479.5Z" fill="#cdff00"/><path d="M293.1 495.5L299.7 491.0L293.3 485.8L286.7 490.3Z" fill="#dfff00"/><path d="M421.6 265.7L428.3 247.5L421.4 241.4L414.8 259.6Z" fill="#00718e"/><path d="M260.5 495.5L267.2 492.7L260.9 487.8L254.3 490.6Z" fill="#e0ff00"/><path d="M358.0 468.6L364.5 460.1L357.8 454.4L351.4 462.9Z" fill="#b2ff00"/><path d="M403.1 396.0L409.6 383.0L402.7 376.9L396.3 389.9Z" fill="#3eff00"/><path d="M421.9 289.1L428.5 271.8L421.6 265.7L415.0 283.1Z" fill="#00956a"/><path d="M351.6 476.5L358.0 468.6L351.4 462.9L345.0 470.9Z" fill="#bdff00"/><path d="M415.8 348.9L422.4 333.9L415.5 327.7L408.9 342.8Z" fill="#00f20d"/><path d="M273.5 497.6L280.2 494.3L273.8 489.3L267.2 492.7Z" fill="#e1ff00"/><path d="M188.5 478.0L195.6 478.6L189.7 474.4L182.6 474.0Z" fill="#c6ff00"/><path d="M201.6 482.8L208.6 482.8L202.6 478.5L195.6 478.6Z" fill="#cdff00"/><path d="M175.4 472.9L182.6 474.0L176.7 470.0L169.5 468.9Z" fill="#bfff00"/><path d="M325.7 491.1L332.1 485.0L325.6 479.5L319.1 485.7Z" fill="#d4ff00"/><path d="M306.1 496.3L312.6 491.3L306.2 485.9L299.7 491.0Z" fill="#ddff00"/><path d="M214.6 487.1L221.6 486.6L215.6 482.1L208.6 482.8Z" fill="#d3ff00"/><path d="M162.2 467.3L169.5 468.9L163.8 465.1L156.4 463.5Z" fill="#b6ff00"/><path d="M409.6 383.0L416.1 369.4L409.3 363.3L402.7 376.9Z" fill="#28ff00"/><path d="M422.1 311.9L428.8 295.3L421.9 289.1L415.2 305.8Z" fill="#00b748"/><path d="M227.7 491.0L234.6 489.9L228.5 485.4L221.6 486.6Z" fill="#d7ff00"/><path d="M345.2 483.8L351.6 476.5L345.0 470.9L338.5 478.2Z" fill="#c7ff00"/><path d="M286.5 499.4L293.1 495.5L286.7 490.3L280.2 494.3Z" fill="#e1ff00"/><path d="M384.1 447.2L390.5 436.9L383.7 430.9L377.3 441.3Z" fill="#8cff00"/><path d="M390.5 436.9L397.0 426.0L390.1 419.9L383.7 430.9Z" fill="#7bff00"/><path d="M240.7 494.6L247.5 492.9L241.4 488.2L234.6 489.9Z" fill="#dbff00"/><path d="M377.6 456.9L384.1 447.2L377.3 441.3L370.9 451.0Z" fill="#9bff00"/><path d="M397.0 426.0L403.4 414.4L396.6 408.3L390.1 419.9Z" fill="#6aff00"/><path d="M422.4 333.9L429.0 318.1L422.1 311.9L415.5 327.7Z" fill="#00d827"/><path d="M416.1 369.4L422.7 355.1L415.8 348.9L409.3 363.3Z" fill="#11ff00"/><path d="M428.3 247.5L435.1 228.5L428.1 222.3L421.4 241.4Z" fill="#0051ae"/><path d="M371.2 466.0L377.6 456.9L370.9 451.0L364.5 460.1Z" fill="#a8ff00"/><path d="M253.8 497.7L260.5 495.5L254.3 490.6L247.5 492.9Z" fill="#dfff00"/><path d="M403.4 414.4L410.0 402.1L403.1 396.0L396.6 408.3Z" fill="#57ff00"/><path d="M428.5 271.8L435.3 253.6L428.3 247.5L421.6 265.7Z" fill="#007788"/><path d="M319.2 496.7L325.7 491.1L319.1 485.7L312.6 491.3Z" fill="#daff00"/><path d="M338.7 490.6L345.2 483.8L338.5 478.2L332.1 485.0Z" fill="#cfff00"/><path d="M364.7 474.5L371.2 466.0L364.5 460.1L358.0 468.6Z" fill="#b5ff00"/><path d="M299.6 500.7L306.1 496.3L299.7 491.0L293.1 495.5Z" fill="#e0ff00"/><path d="M428.8 295.3L435.5 278.0L428.5 271.8L421.9 289.1Z" fill="#009a65"/><path d="M410.0 402.1L416.5 389.2L409.6 383.0L403.1 396.0Z" fill="#42ff00"/><path d="M266.8 500.4L273.5 497.6L267.2 492.7L260.5 495.5Z" fill="#e1ff00"/><path d="M422.7 355.1L429.3 340.1L422.4 333.9L415.8 348.9Z" fill="#00f708"/><path d="M358.3 482.3L364.7 474.5L358.0 468.6L351.6 476.5Z" fill="#c0ff00"/><path d="M429.0 318.1L435.7 301.6L428.8 295.3L422.1 311.9Z" fill="#00bd42"/><path d="M416.5 389.2L423.1 375.7L416.1 369.4L409.6 383.0Z" fill="#2cff00"/><path d="M279.9 502.7L286.5 499.4L280.2 494.3L273.5 497.6Z" fill="#e2ff00"/><path d="M332.2 496.7L338.7 490.6L332.1 485.0L325.7 491.1Z" fill="#d6ff00"/><path d="M312.6 501.6L319.2 496.7L312.6 491.3L306.1 496.3Z" fill="#dfff00"/><path d="M194.4 482.2L201.6 482.8L195.6 478.6L188.5 478.0Z" fill="#c6ff00"/><path d="M207.6 487.1L214.6 487.1L208.6 482.8L201.6 482.8Z" fill="#cdff00"/><path d="M181.2 476.8L188.5 478.0L182.6 474.0L175.4 472.9Z" fill="#beff00"/><path d="M220.7 491.5L227.7 491.0L221.6 486.6L214.6 487.1Z" fill="#d3ff00"/><path d="M351.9 489.6L358.3 482.3L351.6 476.5L345.2 483.8Z" fill="#c9ff00"/><path d="M397.3 443.0L403.8 432.1L397.0 426.0L390.5 436.9Z" fill="#7fff00"/><path d="M390.9 453.3L397.3 443.0L390.5 436.9L384.1 447.2Z" fill="#8fff00"/><path d="M168.0 471.1L175.4 472.9L169.5 468.9L162.2 467.3Z" fill="#b5ff00"/><path d="M435.3 253.6L442.1 234.7L435.1 228.5L428.3 247.5Z" fill="#0057a8"/><path d="M233.9 495.6L240.7 494.6L234.6 489.9L227.7 491.0Z" fill="#d8ff00"/><path d="M429.3 340.1L436.0 324.4L429.0 318.1L422.4 333.9Z" fill="#00dd22"/><path d="M403.8 432.1L410.3 420.5L403.4 414.4L397.0 426.0Z" fill="#6eff00"/><path d="M384.4 462.9L390.9 453.3L384.1 447.2L377.6 456.9Z" fill="#9eff00"/><path d="M423.1 375.7L429.7 361.4L422.7 355.1L416.1 369.4Z" fill="#15ff00"/><path d="M293.0 504.5L299.6 500.7L293.1 495.5L286.5 499.4Z" fill="#e3ff00"/><path d="M435.5 278.0L442.3 259.9L435.3 253.6L428.5 271.8Z" fill="#007c83"/><path d="M247.0 499.3L253.8 497.7L247.5 492.9L240.7 494.6Z" fill="#dcff00"/><path d="M410.3 420.5L416.9 408.4L410.0 402.1L403.4 414.4Z" fill="#5bff00"/><path d="M378.0 471.9L384.4 462.9L377.6 456.9L371.2 466.0Z" fill="#acff00"/><path d="M325.7 502.2L332.2 496.7L325.7 491.1L319.2 496.7Z" fill="#dcff00"/><path d="M435.7 301.6L442.5 284.3L435.5 278.0L428.8 295.3Z" fill="#00a05f"/><path d="M260.1 502.5L266.8 500.4L260.5 495.5L253.8 497.7Z" fill="#dfff00"/><path d="M345.4 496.2L351.9 489.6L345.2 483.8L338.7 490.6Z" fill="#d2ff00"/><path d="M416.9 408.4L423.4 395.5L416.5 389.2L410.0 402.1Z" fill="#47ff00"/><path d="M371.5 480.4L378.0 471.9L371.2 466.0L364.7 474.5Z" fill="#b8ff00"/><path d="M306.1 506.0L312.6 501.6L306.1 496.3L299.6 500.7Z" fill="#e2ff00"/><path d="M429.7 361.4L436.3 346.4L429.3 340.1L422.7 355.1Z" fill="#00fc03"/><path d="M273.2 505.3L279.9 502.7L273.5 497.6L266.8 500.4Z" fill="#e2ff00"/><path d="M436.0 324.4L442.7 307.9L435.7 301.6L429.0 318.1Z" fill="#00c23d"/><path d="M423.4 395.5L430.0 382.0L423.1 375.7L416.5 389.2Z" fill="#31ff00"/><path d="M365.1 488.2L371.5 480.4L364.7 474.5L358.3 482.3Z" fill="#c3ff00"/><path d="M338.9 502.3L345.4 496.2L338.7 490.6L332.2 496.7Z" fill="#d9ff00"/><path d="M286.3 507.8L293.0 504.5L286.5 499.4L279.9 502.7Z" fill="#e3ff00"/><path d="M319.2 507.1L325.7 502.2L319.2 496.7L312.6 501.6Z" fill="#e1ff00"/><path d="M442.3 259.9L449.1 241.0L442.1 234.7L435.3 253.6Z" fill="#005ca3"/><path d="M404.2 449.2L410.7 438.3L403.8 432.1L397.3 443.0Z" fill="#83ff00"/><path d="M436.3 346.4L443.0 330.7L436.0 324.4L429.3 340.1Z" fill="#00e21d"/><path d="M397.7 459.4L404.2 449.2L397.3 443.0L390.9 453.3Z" fill="#93ff00"/><path d="M430.0 382.0L436.7 367.7L429.7 361.4L423.1 375.7Z" fill="#1aff00"/><path d="M358.6 495.4L365.1 488.2L358.3 482.3L351.9 489.6Z" fill="#ccff00"/><path d="M410.7 438.3L417.3 426.8L410.3 420.5L403.8 432.1Z" fill="#72ff00"/><path d="M442.5 284.3L449.3 266.3L442.3 259.9L435.5 278.0Z" fill="#00827d"/><path d="M391.3 469.0L397.7 459.4L390.9 453.3L384.4 462.9Z" fill="#a2ff00"/><path d="M213.7 491.4L220.7 491.5L214.6 487.1L207.6 487.1Z" fill="#ccff00"/><path d="M200.4 486.4L207.6 487.1L201.6 482.8L194.4 482.2Z" fill="#c5ff00"/><path d="M226.9 496.0L233.9 495.6L227.7 491.0L220.7 491.5Z" fill="#d3ff00"/><path d="M187.2 480.9L194.4 482.2L188.5 478.0L181.2 476.8Z" fill="#bdff00"/><path d="M417.3 426.8L423.8 414.7L416.9 408.4L410.3 420.5Z" fill="#5fff00"/><path d="M384.8 478.0L391.3 469.0L384.4 462.9L378.0 471.9Z" fill="#afff00"/><path d="M240.1 500.3L247.0 499.3L240.7 494.6L233.9 495.6Z" fill="#d8ff00"/><path d="M299.5 509.8L306.1 506.0L299.6 500.7L293.0 504.5Z" fill="#e4ff00"/><path d="M173.9 475.0L181.2 476.8L175.4 472.9L168.0 471.1Z" fill="#b4ff00"/><path d="M442.7 307.9L449.5 290.7L442.5 284.3L435.7 301.6Z" fill="#00a55a"/><path d="M253.3 504.0L260.1 502.5L253.8 497.7L247.0 499.3Z" fill="#ddff00"/><path d="M423.8 414.7L430.4 401.9L423.4 395.5L416.9 408.4Z" fill="#4bff00"/><path d="M332.4 507.7L338.9 502.3L332.2 496.7L325.7 502.2Z" fill="#deff00"/><path d="M436.7 367.7L443.4 352.8L436.3 346.4L429.7 361.4Z" fill="#02ff00"/><path d="M378.3 486.3L384.8 478.0L378.0 471.9L371.5 480.4Z" fill="#bbff00"/><path d="M352.1 502.0L358.6 495.4L351.9 489.6L345.4 496.2Z" fill="#d5ff00"/><path d="M266.4 507.4L273.2 505.3L266.8 500.4L260.1 502.5Z" fill="#e0ff00"/><path d="M443.0 330.7L449.8 314.3L442.7 307.9L436.0 324.4Z" fill="#00c738"/><path d="M312.6 511.4L319.2 507.1L312.6 501.6L306.1 506.0Z" fill="#e4ff00"/><path d="M430.4 401.9L437.1 388.4L430.0 382.0L423.4 395.5Z" fill="#36ff00"/><path d="M371.9 494.1L378.3 486.3L371.5 480.4L365.1 488.2Z" fill="#c6ff00"/><path d="M279.6 510.4L286.3 507.8L279.9 502.7L273.2 505.3Z" fill="#e3ff00"/><path d="M449.3 266.3L456.2 247.4L449.1 241.0L442.3 259.9Z" fill="#00629d"/><path d="M443.4 352.8L450.1 337.2L443.0 330.7L436.3 346.4Z" fill="#00e817"/><path d="M345.6 508.0L352.1 502.0L345.4 496.2L338.9 502.3Z" fill="#dbff00"/><path d="M437.1 388.4L443.7 374.2L436.7 367.7L430.0 382.0Z" fill="#1fff00"/><path d="M449.5 290.7L456.4 272.7L449.3 266.3L442.5 284.3Z" fill="#008778"/><path d="M411.2 455.4L417.7 444.6L410.7 438.3L404.2 449.2Z" fill="#88ff00"/><path d="M404.7 465.6L411.2 455.4L404.2 449.2L397.7 459.4Z" fill="#97ff00"/><path d="M417.7 444.6L424.3 433.2L417.3 426.8L410.7 438.3Z" fill="#76ff00"/><path d="M325.8 512.6L332.4 507.7L325.7 502.2L319.2 507.1Z" fill="#e3ff00"/><path d="M292.8 513.0L299.5 509.8L293.0 504.5L286.3 507.8Z" fill="#e5ff00"/><path d="M398.2 475.1L404.7 465.6L397.7 459.4L391.3 469.0Z" fill="#a6ff00"/><path d="M365.4 501.3L371.9 494.1L365.1 488.2L358.6 495.4Z" fill="#cfff00"/><path d="M424.3 433.2L430.9 421.1L423.8 414.7L417.3 426.8Z" fill="#64ff00"/><path d="M449.8 314.3L456.6 297.1L449.5 290.7L442.7 307.9Z" fill="#00ab54"/><path d="M391.7 484.1L398.2 475.1L391.3 469.0L384.8 478.0Z" fill="#b3ff00"/><path d="M219.8 495.9L226.9 496.0L220.7 491.5L213.7 491.4Z" fill="#ccff00"/><path d="M430.9 421.1L437.5 408.3L430.4 401.9L423.8 414.7Z" fill="#50ff00"/><path d="M206.5 490.7L213.7 491.4L207.6 487.1L200.4 486.4Z" fill="#c5ff00"/><path d="M233.1 500.6L240.1 500.3L233.9 495.6L226.9 496.0Z" fill="#d3ff00"/><path d="M306.0 515.1L312.6 511.4L306.1 506.0L299.5 509.8Z" fill="#e6ff00"/><path d="M443.7 374.2L450.5 359.3L443.4 352.8L436.7 367.7Z" fill="#07ff00"/><path d="M193.2 485.1L200.4 486.4L194.4 482.2L187.2 480.9Z" fill="#bcff00"/><path d="M246.3 505.0L253.3 504.0L247.0 499.3L240.1 500.3Z" fill="#d8ff00"/><path d="M385.2 492.4L391.7 484.1L384.8 478.0L378.3 486.3Z" fill="#bfff00"/><path d="M450.1 337.2L456.9 320.8L449.8 314.3L443.0 330.7Z" fill="#00cd32"/><path d="M339.1 513.4L345.6 508.0L338.9 502.3L332.4 507.7Z" fill="#e1ff00"/><path d="M179.8 479.0L187.2 480.9L181.2 476.8L173.9 475.0Z" fill="#b3ff00"/><path d="M358.9 507.8L365.4 501.3L358.6 495.4L352.1 502.0Z" fill="#d7ff00"/><path d="M259.6 508.9L266.4 507.4L260.1 502.5L253.3 504.0Z" fill="#ddff00"/><path d="M437.5 408.3L444.1 394.9L437.1 388.4L430.4 401.9Z" fill="#3bff00"/><path d="M272.8 512.4L279.6 510.4L273.2 505.3L266.4 507.4Z" fill="#e1ff00"/><path d="M319.2 516.9L325.8 512.6L319.2 507.1L312.6 511.4Z" fill="#e6ff00"/><path d="M456.4 272.7L463.3 253.9L456.2 247.4L449.3 266.3Z" fill="#006897"/><path d="M378.7 500.1L385.2 492.4L378.3 486.3L371.9 494.1Z" fill="#c9ff00"/><path d="M450.5 359.3L457.2 343.7L450.1 337.2L443.4 352.8Z" fill="#00ed12"/><path d="M456.6 297.1L463.5 279.2L456.4 272.7L449.5 290.7Z" fill="#008d72"/><path d="M286.1 515.6L292.8 513.0L286.3 507.8L279.6 510.4Z" fill="#e4ff00"/><path d="M444.1 394.9L450.8 380.7L443.7 374.2L437.1 388.4Z" fill="#24ff00"/><path d="M418.2 461.8L424.7 451.0L417.7 444.6L411.2 455.4Z" fill="#8cff00"/><path d="M411.7 471.9L418.2 461.8L411.2 455.4L404.7 465.6Z" fill="#9bff00"/><path d="M424.7 451.0L431.3 439.6L424.3 433.2L417.7 444.6Z" fill="#7bff00"/><path d="M352.4 513.8L358.9 507.8L352.1 502.0L345.6 508.0Z" fill="#deff00"/><path d="M405.1 481.4L411.7 471.9L404.7 465.6L398.2 475.1Z" fill="#aaff00"/><path d="M456.9 320.8L463.8 303.7L456.6 297.1L449.8 314.3Z" fill="#00b04f"/><path d="M431.3 439.6L437.9 427.5L430.9 421.1L424.3 433.2Z" fill="#68ff00"/><path d="M332.5 518.2L339.1 513.4L332.4 507.7L325.8 512.6Z" fill="#e5ff00"/><path d="M372.2 507.2L378.7 500.1L371.9 494.1L365.4 501.3Z" fill="#d2ff00"/><path d="M299.3 518.3L306.0 515.1L299.5 509.8L292.8 513.0Z" fill="#e6ff00"/><path d="M398.6 490.3L405.1 481.4L398.2 475.1L391.7 484.1Z" fill="#b7ff00"/><path d="M437.9 427.5L444.6 414.8L437.5 408.3L430.9 421.1Z" fill="#55ff00"/><path d="M450.8 380.7L457.6 365.9L450.5 359.3L443.7 374.2Z" fill="#0dff00"/><path d="M457.2 343.7L464.1 327.4L456.9 320.8L450.1 337.2Z" fill="#00d22d"/><path d="M312.6 520.6L319.2 516.9L312.6 511.4L306.0 515.1Z" fill="#e8ff00"/><path d="M392.1 498.6L398.6 490.3L391.7 484.1L385.2 492.4Z" fill="#c2ff00"/><path d="M226.0 500.4L233.1 500.6L226.9 496.0L219.8 495.9Z" fill="#ccff00"/><path d="M239.4 505.3L246.3 505.0L240.1 500.3L233.1 500.6Z" fill="#d3ff00"/><path d="M444.6 414.8L451.3 401.4L444.1 394.9L437.5 408.3Z" fill="#40ff00"/><path d="M212.7 495.0L219.8 495.9L213.7 491.4L206.5 490.7Z" fill="#c5ff00"/><path d="M365.7 513.7L372.2 507.2L365.4 501.3L358.9 507.8Z" fill="#daff00"/><path d="M345.8 519.1L352.4 513.8L345.6 508.0L339.1 513.4Z" fill="#e3ff00"/><path d="M252.7 509.8L259.6 508.9L253.3 504.0L246.3 505.0Z" fill="#d9ff00"/><path d="M199.3 489.3L206.5 490.7L200.4 486.4L193.2 485.1Z" fill="#bcff00"/><path d="M463.5 279.2L470.5 260.5L463.3 253.9L456.4 272.7Z" fill="#006e91"/><path d="M266.0 513.9L272.8 512.4L266.4 507.4L259.6 508.9Z" fill="#deff00"/><path d="M185.8 483.1L193.2 485.1L187.2 480.9L179.8 479.0Z" fill="#b2ff00"/><path d="M457.6 365.9L464.4 350.4L457.2 343.7L450.5 359.3Z" fill="#00f20d"/><path d="M463.8 303.7L470.7 285.8L463.5 279.2L456.6 297.1Z" fill="#00936c"/><path d="M385.6 506.2L392.1 498.6L385.2 492.4L378.7 500.1Z" fill="#cdff00"/><path d="M325.9 522.4L332.5 518.2L325.8 512.6L319.2 516.9Z" fill="#e8ff00"/><path d="M279.3 517.5L286.1 515.6L279.6 510.4L272.8 512.4Z" fill="#e2ff00"/><path d="M451.3 401.4L458.0 387.3L450.8 380.7L444.1 394.9Z" fill="#2aff00"/><path d="M425.2 468.2L431.8 457.5L424.7 451.0L418.2 461.8Z" fill="#90ff00"/><path d="M431.8 457.5L438.4 446.1L431.3 439.6L424.7 451.0Z" fill="#7fff00"/><path d="M418.7 478.3L425.2 468.2L418.2 461.8L411.7 471.9Z" fill="#a0ff00"/><path d="M464.1 327.4L471.0 310.3L463.8 303.7L456.9 320.8Z" fill="#00b649"/><path d="M292.6 520.8L299.3 518.3L292.8 513.0L286.1 515.6Z" fill="#e5ff00"/><path d="M438.4 446.1L445.0 434.1L437.9 427.5L431.3 439.6Z" fill="#6dff00"/><path d="M359.2 519.7L365.7 513.7L358.9 507.8L352.4 513.8Z" fill="#e1ff00"/><path d="M412.1 487.7L418.7 478.3L411.7 471.9L405.1 481.4Z" fill="#aeff00"/><path d="M379.1 513.3L385.6 506.2L378.7 500.1L372.2 507.2Z" fill="#d6ff00"/><path d="M339.3 523.9L345.8 519.1L339.1 513.4L332.5 518.2Z" fill="#e7ff00"/><path d="M458.0 387.3L464.8 372.6L457.6 365.9L450.8 380.7Z" fill="#12ff00"/><path d="M445.0 434.1L451.7 421.4L444.6 414.8L437.9 427.5Z" fill="#5aff00"/><path d="M405.6 496.6L412.1 487.7L405.1 481.4L398.6 490.3Z" fill="#baff00"/><path d="M305.9 523.6L312.6 520.6L306.0 515.1L299.3 518.3Z" fill="#e8ff00"/><path d="M464.4 350.4L471.3 334.1L464.1 327.4L457.2 343.7Z" fill="#00d827"/><path d="M451.7 421.4L458.4 408.1L451.3 401.4L444.6 414.8Z" fill="#45ff00"/><path d="M399.1 504.8L405.6 496.6L398.6 490.3L392.1 498.6Z" fill="#c6ff00"/><path d="M470.7 285.8L477.7 267.1L470.5 260.5L463.5 279.2Z" fill="#00748b"/><path d="M319.3 526.1L325.9 522.4L319.2 516.9L312.6 520.6Z" fill="#e9ff00"/><path d="M372.6 519.8L379.1 513.3L372.2 507.2L365.7 513.7Z" fill="#ddff00"/><path d="M352.6 525.0L359.2 519.7L352.4 513.8L345.8 519.1Z" fill="#e6ff00"/><path d="M471.0 310.3L477.9 292.5L470.7 285.8L463.8 303.7Z" fill="#009966"/><path d="M464.8 372.6L471.6 357.1L464.4 350.4L457.6 365.9Z" fill="#00f807"/><path d="M245.7 510.0L252.7 509.8L246.3 505.0L239.4 505.3Z" fill="#d3ff00"/><path d="M232.3 505.0L239.4 505.3L233.1 500.6L226.0 500.4Z" fill="#ccff00"/><path d="M259.1 514.7L266.0 513.9L259.6 508.9L252.7 509.8Z" fill="#daff00"/><path d="M218.9 499.5L226.0 500.4L219.8 495.9L212.7 495.0Z" fill="#c4ff00"/><path d="M458.4 408.1L465.2 394.1L458.0 387.3L451.3 401.4Z" fill="#2fff00"/><path d="M392.6 512.4L399.1 504.8L392.1 498.6L385.6 506.2Z" fill="#d0ff00"/><path d="M272.5 518.9L279.3 517.5L272.8 512.4L266.0 513.9Z" fill="#dfff00"/><path d="M205.4 493.6L212.7 495.0L206.5 490.7L199.3 489.3Z" fill="#bbff00"/><path d="M471.3 334.1L478.2 317.1L471.0 310.3L464.1 327.4Z" fill="#00bc43"/><path d="M332.7 528.1L339.3 523.9L332.5 518.2L325.9 522.4Z" fill="#eaff00"/><path d="M432.3 474.7L438.9 464.0L431.8 457.5L425.2 468.2Z" fill="#95ff00"/><path d="M438.9 464.0L445.6 452.7L438.4 446.1L431.8 457.5Z" fill="#84ff00"/><path d="M425.8 484.7L432.3 474.7L425.2 468.2L418.7 478.3Z" fill="#a4ff00"/><path d="M285.8 522.7L292.6 520.8L286.1 515.6L279.3 517.5Z" fill="#e3ff00"/><path d="M191.9 487.2L199.3 489.3L193.2 485.1L185.8 483.1Z" fill="#b2ff00"/><path d="M445.6 452.7L452.2 440.7L445.0 434.1L438.4 446.1Z" fill="#72ff00"/><path d="M419.2 494.1L425.8 484.7L418.7 478.3L412.1 487.7Z" fill="#b2ff00"/><path d="M366.1 525.6L372.6 519.8L365.7 513.7L359.2 519.7Z" fill="#e3ff00"/><path d="M465.2 394.1L472.0 379.3L464.8 372.6L458.0 387.3Z" fill="#17ff00"/><path d="M299.2 526.1L305.9 523.6L299.3 518.3L292.6 520.8Z" fill="#e7ff00"/><path d="M452.2 440.7L458.9 428.1L451.7 421.4L445.0 434.1Z" fill="#5fff00"/><path d="M471.6 357.1L478.5 340.9L471.3 334.1L464.4 350.4Z" fill="#00de21"/><path d="M386.1 519.4L392.6 512.4L385.6 506.2L379.1 513.3Z" fill="#d9ff00"/><path d="M412.7 502.9L419.2 494.1L412.1 487.7L405.6 496.6Z" fill="#beff00"/><path d="M346.1 529.7L352.6 525.0L345.8 519.1L339.3 523.9Z" fill="#eaff00"/><path d="M312.6 529.1L319.3 526.1L312.6 520.6L305.9 523.6Z" fill="#e9ff00"/><path d="M458.9 428.1L465.6 414.8L458.4 408.1L451.7 421.4Z" fill="#4aff00"/><path d="M477.9 292.5L485.0 273.9L477.7 267.1L470.7 285.8Z" fill="#007a85"/><path d="M406.1 511.1L412.7 502.9L405.6 496.6L399.1 504.8Z" fill="#caff00"/><path d="M478.2 317.1L485.2 299.3L477.9 292.5L471.0 310.3Z" fill="#009f60"/><path d="M472.0 379.3L478.9 363.9L471.6 357.1L464.8 372.6Z" fill="#00fe01"/><path d="M379.5 525.8L386.1 519.4L379.1 513.3L372.6 519.8Z" fill="#e0ff00"/><path d="M326.0 531.6L332.7 528.1L325.9 522.4L319.3 526.1Z" fill="#ebff00"/><path d="M465.6 414.8L472.4 400.8L465.2 394.1L458.4 408.1Z" fill="#34ff00"/><path d="M359.5 530.9L366.1 525.6L359.2 519.7L352.6 525.0Z" fill="#e8ff00"/><path d="M478.5 340.9L485.5 323.9L478.2 317.1L471.3 334.1Z" fill="#00c23d"/><path d="M399.6 518.7L406.1 511.1L399.1 504.8L392.6 512.4Z" fill="#d4ff00"/><path d="M439.5 481.3L446.1 470.7L438.9 464.0L432.3 474.7Z" fill="#99ff00"/><path d="M252.1 514.8L259.1 514.7L252.7 509.8L245.7 510.0Z" fill="#d4ff00"/><path d="M446.1 470.7L452.8 459.4L445.6 452.7L438.9 464.0Z" fill="#89ff00"/><path d="M238.6 509.6L245.7 510.0L239.4 505.3L232.3 505.0Z" fill="#ccff00"/><path d="M265.5 519.6L272.5 518.9L266.0 513.9L259.1 514.7Z" fill="#daff00"/><path d="M432.9 491.3L439.5 481.3L432.3 474.7L425.8 484.7Z" fill="#a8ff00"/><path d="M225.1 504.0L232.3 505.0L226.0 500.4L218.9 499.5Z" fill="#c4ff00"/><path d="M452.8 459.4L459.4 447.5L452.2 440.7L445.6 452.7Z" fill="#77ff00"/><path d="M339.4 533.8L346.1 529.7L339.3 523.9L332.7 528.1Z" fill="#ecff00"/><path d="M279.0 524.0L285.8 522.7L279.3 517.5L272.5 518.9Z" fill="#e0ff00"/><path d="M426.3 500.6L432.9 491.3L425.8 484.7L419.2 494.1Z" fill="#b6ff00"/><path d="M472.4 400.8L479.3 386.2L472.0 379.3L465.2 394.1Z" fill="#1dff00"/><path d="M211.6 498.0L218.9 499.5L212.7 495.0L205.4 493.6Z" fill="#bbff00"/><path d="M478.9 363.9L485.8 347.7L478.5 340.9L471.6 357.1Z" fill="#00e31c"/><path d="M459.4 447.5L466.2 434.9L458.9 428.1L452.2 440.7Z" fill="#64ff00"/><path d="M292.4 528.0L299.2 526.1L292.6 520.8L285.8 522.7Z" fill="#e5ff00"/><path d="M373.0 531.7L379.5 525.8L372.6 519.8L366.1 525.6Z" fill="#e6ff00"/><path d="M198.0 491.5L205.4 493.6L199.3 489.3L191.9 487.2Z" fill="#b1ff00"/><path d="M393.1 525.7L399.6 518.7L392.6 512.4L386.1 519.4Z" fill="#dcff00"/><path d="M419.8 509.4L426.3 500.6L419.2 494.1L412.7 502.9Z" fill="#c2ff00"/><path d="M305.9 531.5L312.6 529.1L305.9 523.6L299.2 526.1Z" fill="#e8ff00"/><path d="M485.2 299.3L492.3 280.7L485.0 273.9L477.9 292.5Z" fill="#00807f"/><path d="M466.2 434.9L472.9 421.7L465.6 414.8L458.9 428.1Z" fill="#4fff00"/><path d="M352.9 535.5L359.5 530.9L352.6 525.0L346.1 529.7Z" fill="#ecff00"/><path d="M485.5 323.9L492.6 306.1L485.2 299.3L478.2 317.1Z" fill="#00a55a"/><path d="M479.3 386.2L486.2 370.8L478.9 363.9L472.0 379.3Z" fill="#04ff00"/><path d="M319.3 534.6L326.0 531.6L319.3 526.1L312.6 529.1Z" fill="#ebff00"/><path d="M413.2 517.5L419.8 509.4L412.7 502.9L406.1 511.1Z" fill="#cdff00"/><path d="M472.9 421.7L479.7 407.7L472.4 400.8L465.6 414.8Z" fill="#3aff00"/><path d="M485.8 347.7L492.8 330.8L485.5 323.9L478.5 340.9Z" fill="#00c837"/><path d="M386.5 532.0L393.1 525.7L386.1 519.4L379.5 525.8Z" fill="#e3ff00"/><path d="M332.8 537.3L339.4 533.8L332.7 528.1L326.0 531.6Z" fill="#edff00"/><path d="M366.4 536.9L373.0 531.7L366.1 525.6L359.5 530.9Z" fill="#ebff00"/><path d="M446.7 488.0L453.3 477.4L446.1 470.7L439.5 481.3Z" fill="#9eff00"/><path d="M453.3 477.4L460.0 466.2L452.8 459.4L446.1 470.7Z" fill="#8dff00"/><path d="M406.7 525.1L413.2 517.5L406.1 511.1L399.6 518.7Z" fill="#d7ff00"/><path d="M440.1 497.9L446.7 488.0L439.5 481.3L432.9 491.3Z" fill="#acff00"/><path d="M460.0 466.2L466.7 454.3L459.4 447.5L452.8 459.4Z" fill="#7cff00"/><path d="M479.7 407.7L486.6 393.1L479.3 386.2L472.4 400.8Z" fill="#22ff00"/><path d="M486.2 370.8L493.2 354.6L485.8 347.7L478.9 363.9Z" fill="#00e916"/><path d="M433.5 507.2L440.1 497.9L432.9 491.3L426.3 500.6Z" fill="#baff00"/><path d="M466.7 454.3L473.5 441.8L466.2 434.9L459.4 447.5Z" fill="#69ff00"/><path d="M258.5 519.8L265.5 519.6L259.1 514.7L252.1 514.8Z" fill="#d4ff00"/><path d="M346.3 539.6L352.9 535.5L346.1 529.7L339.4 533.8Z" fill="#eeff00"/><path d="M272.0 524.7L279.0 524.0L272.5 518.9L265.5 519.6Z" fill="#dbff00"/><path d="M245.0 514.4L252.1 514.8L245.7 510.0L238.6 509.6Z" fill="#cdff00"/><path d="M285.6 529.2L292.4 528.0L285.8 522.7L279.0 524.0Z" fill="#e1ff00"/><path d="M231.4 508.6L238.6 509.6L232.3 505.0L225.1 504.0Z" fill="#c4ff00"/><path d="M492.6 306.1L499.7 287.6L492.3 280.7L485.2 299.3Z" fill="#008778"/><path d="M380.0 537.8L386.5 532.0L379.5 525.8L373.0 531.7Z" fill="#e9ff00"/><path d="M426.9 515.9L433.5 507.2L426.3 500.6L419.8 509.4Z" fill="#c6ff00"/><path d="M299.1 533.3L305.9 531.5L299.2 526.1L292.4 528.0Z" fill="#e6ff00"/><path d="M400.1 532.0L406.7 525.1L399.6 518.7L393.1 525.7Z" fill="#dfff00"/><path d="M473.5 441.8L480.2 428.6L472.9 421.7L466.2 434.9Z" fill="#55ff00"/><path d="M217.8 502.4L225.1 504.0L218.9 499.5L211.6 498.0Z" fill="#bbff00"/><path d="M492.8 330.8L499.9 313.1L492.6 306.1L485.5 323.9Z" fill="#00ab54"/><path d="M486.6 393.1L493.6 377.7L486.2 370.8L479.3 386.2Z" fill="#0aff00"/><path d="M312.6 537.0L319.3 534.6L312.6 529.1L305.9 531.5Z" fill="#eaff00"/><path d="M359.8 541.5L366.4 536.9L359.5 530.9L352.9 535.5Z" fill="#efff00"/><path d="M204.2 495.8L211.6 498.0L205.4 493.6L198.0 491.5Z" fill="#b0ff00"/><path d="M420.4 524.0L426.9 515.9L419.8 509.4L413.2 517.5Z" fill="#d1ff00"/><path d="M480.2 428.6L487.1 414.7L479.7 407.7L472.9 421.7Z" fill="#3fff00"/><path d="M493.2 354.6L500.2 337.8L492.8 330.8L485.8 347.7Z" fill="#00ce31"/><path d="M326.1 540.2L332.8 537.3L326.0 531.6L319.3 534.6Z" fill="#edff00"/><path d="M393.6 538.3L400.1 532.0L393.1 525.7L386.5 532.0Z" fill="#e7ff00"/><path d="M460.6 484.2L467.3 473.0L460.0 466.2L453.3 477.4Z" fill="#92ff00"/><path d="M454.0 494.7L460.6 484.2L453.3 477.4L446.7 488.0Z" fill="#a2ff00"/><path d="M373.4 543.0L380.0 537.8L373.0 531.7L366.4 536.9Z" fill="#eeff00"/><path d="M467.3 473.0L474.0 461.2L466.7 454.3L460.0 466.2Z" fill="#81ff00"/><path d="M339.6 543.1L346.3 539.6L339.4 533.8L332.8 537.3Z" fill="#efff00"/><path d="M413.8 531.5L420.4 524.0L413.2 517.5L406.7 525.1Z" fill="#dbff00"/><path d="M447.3 504.6L454.0 494.7L446.7 488.0L440.1 497.9Z" fill="#b1ff00"/><path d="M487.1 414.7L494.0 400.1L486.6 393.1L479.7 407.7Z" fill="#28ff00"/><path d="M493.6 377.7L500.6 361.7L493.2 354.6L486.2 370.8Z" fill="#00ef10"/><path d="M474.0 461.2L480.8 448.7L473.5 441.8L466.7 454.3Z" fill="#6eff00"/><path d="M440.7 513.9L447.3 504.6L440.1 497.9L433.5 507.2Z" fill="#beff00"/><path d="M499.9 313.1L507.1 294.6L499.7 287.6L492.6 306.1Z" fill="#008d72"/><path d="M353.2 545.5L359.8 541.5L352.9 535.5L346.3 539.6Z" fill="#f1ff00"/><path d="M480.8 448.7L487.6 435.6L480.2 428.6L473.5 441.8Z" fill="#5aff00"/><path d="M500.2 337.8L507.4 320.1L499.9 313.1L492.8 330.8Z" fill="#00b14e"/><path d="M265.0 524.7L272.0 524.7L265.5 519.6L258.5 519.8Z" fill="#d5ff00"/><path d="M278.6 529.8L285.6 529.2L279.0 524.0L272.0 524.7Z" fill="#dcff00"/><path d="M434.1 522.6L440.7 513.9L433.5 507.2L426.9 515.9Z" fill="#caff00"/><path d="M387.0 544.0L393.6 538.3L386.5 532.0L380.0 537.8Z" fill="#ecff00"/><path d="M251.4 519.2L258.5 519.8L252.1 514.8L245.0 514.4Z" fill="#cdff00"/><path d="M407.3 538.4L413.8 531.5L406.7 525.1L400.1 532.0Z" fill="#e3ff00"/><path d="M292.2 534.5L299.1 533.3L292.4 528.0L285.6 529.2Z" fill="#e2ff00"/><path d="M494.0 400.1L501.0 384.8L493.6 377.7L486.6 393.1Z" fill="#10ff00"/><path d="M237.8 513.3L245.0 514.4L238.6 509.6L231.4 508.6Z" fill="#c4ff00"/><path d="M305.8 538.7L312.6 537.0L305.9 531.5L299.1 533.3Z" fill="#e7ff00"/><path d="M487.6 435.6L494.5 421.8L487.1 414.7L480.2 428.6Z" fill="#45ff00"/><path d="M500.6 361.7L507.7 344.9L500.2 337.8L493.2 354.6Z" fill="#00d42b"/><path d="M366.8 547.5L373.4 543.0L366.4 536.9L359.8 541.5Z" fill="#f1ff00"/><path d="M224.1 507.0L231.4 508.6L225.1 504.0L217.8 502.4Z" fill="#bbff00"/><path d="M427.6 530.6L434.1 522.6L426.9 515.9L420.4 524.0Z" fill="#d5ff00"/><path d="M319.3 542.5L326.1 540.2L319.3 534.6L312.6 537.0Z" fill="#ebff00"/><path d="M210.4 500.2L217.8 502.4L211.6 498.0L204.2 495.8Z" fill="#b0ff00"/><path d="M332.9 545.9L339.6 543.1L332.8 537.3L326.1 540.2Z" fill="#efff00"/><path d="M467.9 491.1L474.7 480.0L467.3 473.0L460.6 484.2Z" fill="#97ff00"/><path d="M400.7 544.7L407.3 538.4L400.1 532.0L393.6 538.3Z" fill="#eaff00"/><path d="M461.3 501.6L467.9 491.1L460.6 484.2L454.0 494.7Z" fill="#a7ff00"/><path d="M501.0 384.8L508.0 368.8L500.6 361.7L493.6 377.7Z" fill="#00f50a"/><path d="M494.5 421.8L501.4 407.2L494.0 400.1L487.1 414.7Z" fill="#2eff00"/><path d="M474.7 480.0L481.4 468.2L474.0 461.2L467.3 473.0Z" fill="#86ff00"/><path d="M454.6 511.5L461.3 501.6L454.0 494.7L447.3 504.6Z" fill="#b5ff00"/><path d="M421.0 538.1L427.6 530.6L420.4 524.0L413.8 531.5Z" fill="#deff00"/><path d="M380.4 549.1L387.0 544.0L380.0 537.8L373.4 543.0Z" fill="#f1ff00"/><path d="M481.4 468.2L488.2 455.8L480.8 448.7L474.0 461.2Z" fill="#73ff00"/><path d="M507.4 320.1L514.6 301.7L507.1 294.6L499.9 313.1Z" fill="#00936c"/><path d="M346.5 548.9L353.2 545.5L346.3 539.6L339.6 543.1Z" fill="#f1ff00"/><path d="M448.0 520.7L454.6 511.5L447.3 504.6L440.7 513.9Z" fill="#c3ff00"/><path d="M507.7 344.9L514.8 327.3L507.4 320.1L500.2 337.8Z" fill="#00b847"/><path d="M488.2 455.8L495.0 442.7L487.6 435.6L480.8 448.7Z" fill="#5fff00"/><path d="M501.4 407.2L508.4 392.0L501.0 384.8L494.0 400.1Z" fill="#16ff00"/><path d="M441.4 529.3L448.0 520.7L440.7 513.9L434.1 522.6Z" fill="#cfff00"/><path d="M360.2 551.5L366.8 547.5L359.8 541.5L353.2 545.5Z" fill="#f3ff00"/><path d="M414.4 544.9L421.0 538.1L413.8 531.5L407.3 538.4Z" fill="#e7ff00"/><path d="M394.1 550.3L400.7 544.7L393.6 538.3L387.0 544.0Z" fill="#efff00"/><path d="M508.0 368.8L515.1 352.0L507.7 344.9L500.6 361.7Z" fill="#00da25"/><path d="M495.0 442.7L502.0 428.9L494.5 421.8L487.6 435.6Z" fill="#4aff00"/><path d="M285.3 535.0L292.2 534.5L285.6 529.2L278.6 529.8Z" fill="#ddff00"/><path d="M271.6 529.8L278.6 529.8L272.0 524.7L265.0 524.7Z" fill="#d5ff00"/><path d="M298.9 539.8L305.8 538.7L299.1 533.3L292.2 534.5Z" fill="#e3ff00"/><path d="M257.9 524.2L265.0 524.7L258.5 519.8L251.4 519.2Z" fill="#cdff00"/><path d="M312.5 544.2L319.3 542.5L312.6 537.0L305.8 538.7Z" fill="#e9ff00"/><path d="M434.8 537.3L441.4 529.3L434.1 522.6L427.6 530.6Z" fill="#d9ff00"/><path d="M373.8 553.7L380.4 549.1L373.4 543.0L366.8 547.5Z" fill="#f4ff00"/><path d="M244.2 518.1L251.4 519.2L245.0 514.4L237.8 513.3Z" fill="#c4ff00"/><path d="M326.2 548.2L332.9 545.9L326.1 540.2L319.3 542.5Z" fill="#edff00"/><path d="M508.4 392.0L515.5 376.0L508.0 368.8L501.0 384.8Z" fill="#00fb04"/><path d="M502.0 428.9L508.9 414.4L501.4 407.2L494.5 421.8Z" fill="#34ff00"/><path d="M230.5 511.6L237.8 513.3L231.4 508.6L224.1 507.0Z" fill="#baff00"/><path d="M407.9 551.1L414.4 544.9L407.3 538.4L400.7 544.7Z" fill="#edff00"/><path d="M514.8 327.3L522.1 308.9L514.6 301.7L507.4 320.1Z" fill="#009a65"/><path d="M339.8 551.7L346.5 548.9L339.6 543.1L332.9 545.9Z" fill="#f1ff00"/><path d="M428.2 544.7L434.8 537.3L427.6 530.6L421.0 538.1Z" fill="#e2ff00"/><path d="M216.7 504.6L224.1 507.0L217.8 502.4L210.4 500.2Z" fill="#b0ff00"/><path d="M387.5 555.4L394.1 550.3L387.0 544.0L380.4 549.1Z" fill="#f4ff00"/><path d="M515.1 352.0L522.3 334.5L514.8 327.3L507.7 344.9Z" fill="#00be41"/><path d="M353.5 554.9L360.2 551.5L353.2 545.5L346.5 548.9Z" fill="#f4ff00"/><path d="M508.9 414.4L516.0 399.2L508.4 392.0L501.4 407.2Z" fill="#1cff00"/><path d="M515.5 376.0L522.7 359.3L515.1 352.0L508.0 368.8Z" fill="#00e11e"/><path d="M367.2 557.6L373.8 553.7L366.8 547.5L360.2 551.5Z" fill="#f6ff00"/><path d="M421.7 551.5L428.2 544.7L421.0 538.1L414.4 544.9Z" fill="#eaff00"/><path d="M401.3 556.7L407.9 551.1L400.7 544.7L394.1 550.3Z" fill="#f3ff00"/><path d="M292.0 540.3L298.9 539.8L292.2 534.5L285.3 535.0Z" fill="#deff00"/><path d="M516.0 399.2L523.1 383.3L515.5 376.0L508.4 392.0Z" fill="#03ff00"/><path d="M278.2 535.0L285.3 535.0L278.6 529.8L271.6 529.8Z" fill="#d6ff00"/><path d="M305.7 545.3L312.5 544.2L305.8 538.7L298.9 539.8Z" fill="#e4ff00"/><path d="M380.9 559.9L387.5 555.4L380.4 549.1L373.8 553.7Z" fill="#f7ff00"/><path d="M264.5 529.2L271.6 529.8L265.0 524.7L257.9 524.2Z" fill="#ceff00"/><path d="M319.4 549.8L326.2 548.2L319.3 542.5L312.5 544.2Z" fill="#eaff00"/><path d="M522.3 334.5L529.6 316.2L522.1 308.9L514.8 327.3Z" fill="#00a05f"/><path d="M250.7 522.9L257.9 524.2L251.4 519.2L244.2 518.1Z" fill="#c5ff00"/><path d="M333.1 553.9L339.8 551.7L332.9 545.9L326.2 548.2Z" fill="#efff00"/><path d="M415.1 557.7L421.7 551.5L414.4 544.9L407.9 551.1Z" fill="#f1ff00"/><path d="M522.7 359.3L529.9 341.8L522.3 334.5L515.1 352.0Z" fill="#00c43b"/><path d="M236.9 516.3L244.2 518.1L237.8 513.3L230.5 511.6Z" fill="#baff00"/><path d="M346.8 557.6L353.5 554.9L346.5 548.9L339.8 551.7Z" fill="#f3ff00"/><path d="M394.7 561.8L401.3 556.7L394.1 550.3L387.5 555.4Z" fill="#f7ff00"/><path d="M523.1 383.3L530.3 366.6L522.7 359.3L515.5 376.0Z" fill="#00e718"/><path d="M223.1 509.2L230.5 511.6L224.1 507.0L216.7 504.6Z" fill="#afff00"/><path d="M360.5 560.9L367.2 557.6L360.2 551.5L353.5 554.9Z" fill="#f6ff00"/><path d="M374.3 563.7L380.9 559.9L373.8 553.7L367.2 557.6Z" fill="#f8ff00"/><path d="M408.5 563.2L415.1 557.7L407.9 551.1L401.3 556.7Z" fill="#f6ff00"/><path d="M529.9 341.8L537.3 323.5L529.6 316.2L522.3 334.5Z" fill="#00a758"/><path d="M388.1 566.2L394.7 561.8L387.5 555.4L380.9 559.9Z" fill="#f9ff00"/><path d="M298.7 545.7L305.7 545.3L298.9 539.8L292.0 540.3Z" fill="#dfff00"/><path d="M530.3 366.6L537.5 349.2L529.9 341.8L522.7 359.3Z" fill="#00cb34"/><path d="M312.5 550.8L319.4 549.8L312.5 544.2L305.7 545.3Z" fill="#e6ff00"/><path d="M284.9 540.2L292.0 540.3L285.3 535.0L278.2 535.0Z" fill="#d7ff00"/><path d="M326.3 555.5L333.1 553.9L326.2 548.2L319.4 549.8Z" fill="#ecff00"/><path d="M271.1 534.3L278.2 535.0L271.6 529.8L264.5 529.2Z" fill="#ceff00"/><path d="M340.0 559.8L346.8 557.6L339.8 551.7L333.1 553.9Z" fill="#f1ff00"/><path d="M257.3 527.9L264.5 529.2L257.9 524.2L250.7 522.9Z" fill="#c5ff00"/><path d="M353.8 563.6L360.5 560.9L353.5 554.9L346.8 557.6Z" fill="#f5ff00"/><path d="M401.9 568.2L408.5 563.2L401.3 556.7L394.7 561.8Z" fill="#faff00"/><path d="M243.4 521.1L250.7 522.9L244.2 518.1L236.9 516.3Z" fill="#baff00"/><path d="M367.6 567.0L374.3 563.7L367.2 557.6L360.5 560.9Z" fill="#f8ff00"/><path d="M229.5 513.8L236.9 516.3L230.5 511.6L223.1 509.2Z" fill="#afff00"/><path d="M537.5 349.2L544.9 331.0L537.3 323.5L529.9 341.8Z" fill="#00ae51"/><path d="M381.4 570.0L388.1 566.2L380.9 559.9L374.3 563.7Z" fill="#fbff00"/><path d="M395.3 572.6L401.9 568.2L394.7 561.8L388.1 566.2Z" fill="#fcff00"/><path d="M319.4 556.5L326.3 555.5L319.4 549.8L312.5 550.8Z" fill="#e7ff00"/><path d="M305.5 551.2L312.5 550.8L305.7 545.3L298.7 545.7Z" fill="#e0ff00"/><path d="M333.2 561.3L340.0 559.8L333.1 553.9L326.3 555.5Z" fill="#edff00"/><path d="M291.7 545.6L298.7 545.7L292.0 540.3L284.9 540.2Z" fill="#d8ff00"/><path d="M347.0 565.7L353.8 563.6L346.8 557.6L340.0 559.8Z" fill="#f3ff00"/><path d="M277.8 539.5L284.9 540.2L278.2 535.0L271.1 534.3Z" fill="#cfff00"/><path d="M360.9 569.6L367.6 567.0L360.5 560.9L353.8 563.6Z" fill="#f7ff00"/><path d="M263.9 532.9L271.1 534.3L264.5 529.2L257.3 527.9Z" fill="#c5ff00"/><path d="M374.7 573.2L381.4 570.0L374.3 563.7L367.6 567.0Z" fill="#fbff00"/><path d="M250.0 525.9L257.3 527.9L250.7 522.9L243.4 521.1Z" fill="#baff00"/><path d="M388.6 576.3L395.3 572.6L388.1 566.2L381.4 570.0Z" fill="#fdff00"/><path d="M236.0 518.5L243.4 521.1L236.9 516.3L229.5 513.8Z" fill="#afff00"/><path d="M326.3 562.2L333.2 561.3L326.3 555.5L319.4 556.5Z" fill="#e9ff00"/><path d="M312.4 556.8L319.4 556.5L312.5 550.8L305.5 551.2Z" fill="#e1ff00"/><path d="M340.2 567.1L347.0 565.7L340.0 559.8L333.2 561.3Z" fill="#efff00"/><path d="M298.5 551.0L305.5 551.2L298.7 545.7L291.7 545.6Z" fill="#d9ff00"/><path d="M354.1 571.7L360.9 569.6L353.8 563.6L347.0 565.7Z" fill="#f5ff00"/><path d="M284.6 544.7L291.7 545.6L284.9 540.2L277.8 539.5Z" fill="#d0ff00"/><path d="M368.0 575.8L374.7 573.2L367.6 567.0L360.9 569.6Z" fill="#f9ff00"/><path d="M270.6 538.0L277.8 539.5L271.1 534.3L263.9 532.9Z" fill="#c6ff00"/><path d="M381.9 579.5L388.6 576.3L381.4 570.0L374.7 573.2Z" fill="#fdff00"/><path d="M256.6 530.9L263.9 532.9L257.3 527.9L250.0 525.9Z" fill="#bbff00"/><path d="M242.6 523.3L250.0 525.9L243.4 521.1L236.0 518.5Z" fill="#afff00"/><path d="M333.3 568.0L340.2 567.1L333.2 561.3L326.3 562.2Z" fill="#eaff00"/><path d="M347.3 573.1L354.1 571.7L347.0 565.7L340.2 567.1Z" fill="#f1ff00"/><path d="M319.4 562.5L326.3 562.2L319.4 556.5L312.4 556.8Z" fill="#e2ff00"/><path d="M361.3 577.8L368.0 575.8L360.9 569.6L354.1 571.7Z" fill="#f7ff00"/><path d="M305.4 556.5L312.4 556.8L305.5 551.2L298.5 551.0Z" fill="#daff00"/><path d="M375.2 582.0L381.9 579.5L374.7 573.2L368.0 575.8Z" fill="#fcff00"/><path d="M291.4 550.1L298.5 551.0L291.7 545.6L284.6 544.7Z" fill="#d0ff00"/><path d="M277.4 543.2L284.6 544.7L277.8 539.5L270.6 538.0Z" fill="#c6ff00"/><path d="M263.3 535.9L270.6 538.0L263.9 532.9L256.6 530.9Z" fill="#bbff00"/><path d="M249.2 528.2L256.6 530.9L250.0 525.9L242.6 523.3Z" fill="#afff00"/><path d="M340.4 573.9L347.3 573.1L340.2 567.1L333.3 568.0Z" fill="#ecff00"/><path d="M354.4 579.1L361.3 577.8L354.1 571.7L347.3 573.1Z" fill="#f3ff00"/><path d="M326.4 568.2L333.3 568.0L326.3 562.2L319.4 562.5Z" fill="#e4ff00"/><path d="M368.5 584.0L375.2 582.0L368.0 575.8L361.3 577.8Z" fill="#f9ff00"/><path d="M312.4 562.1L319.4 562.5L312.4 556.8L305.4 556.5Z" fill="#dbff00"/><path d="M298.3 555.5L305.4 556.5L298.5 551.0L291.4 550.1Z" fill="#d1ff00"/><path d="M284.2 548.5L291.4 550.1L284.6 544.7L277.4 543.2Z" fill="#c7ff00"/><path d="M270.1 541.1L277.4 543.2L270.6 538.0L263.3 535.9Z" fill="#bbff00"/><path d="M255.9 533.2L263.3 535.9L256.6 530.9L249.2 528.2Z" fill="#afff00"/><path d="M361.6 585.3L368.5 584.0L361.3 577.8L354.4 579.1Z" fill="#f5ff00"/><path d="M347.6 579.9L354.4 579.1L347.3 573.1L340.4 573.9Z" fill="#edff00"/><path d="M333.5 574.0L340.4 573.9L333.3 568.0L326.4 568.2Z" fill="#e5ff00"/><path d="M319.4 567.8L326.4 568.2L319.4 562.5L312.4 562.1Z" fill="#dcff00"/><path d="M305.3 561.1L312.4 562.1L305.4 556.5L298.3 555.5Z" fill="#d2ff00"/><path d="M291.1 553.9L298.3 555.5L291.4 550.1L284.2 548.5Z" fill="#c7ff00"/><path d="M276.9 546.3L284.2 548.5L277.4 543.2L270.1 541.1Z" fill="#bcff00"/><path d="M262.7 538.2L270.1 541.1L263.3 535.9L255.9 533.2Z" fill="#afff00"/><path d="M354.8 586.0L361.6 585.3L354.4 579.1L347.6 579.9Z" fill="#efff00"/><path d="M340.6 580.0L347.6 579.9L340.4 573.9L333.5 574.0Z" fill="#e7ff00"/><path d="M326.5 573.5L333.5 574.0L326.4 568.2L319.4 567.8Z" fill="#ddff00"/><path d="M312.3 566.7L319.4 567.8L312.4 562.1L305.3 561.1Z" fill="#d3ff00"/><path d="M298.1 559.4L305.3 561.1L298.3 555.5L291.1 553.9Z" fill="#c8ff00"/><path d="M283.8 551.6L291.1 553.9L284.2 548.5L276.9 546.3Z" fill="#bcff00"/><path d="M269.5 543.4L276.9 546.3L270.1 541.1L262.7 538.2Z" fill="#afff00"/><path d="M347.9 586.0L354.8 586.0L347.6 579.9L340.6 580.0Z" fill="#e8ff00"/><path d="M333.6 579.4L340.6 580.0L333.5 574.0L326.5 573.5Z" fill="#dfff00"/><path d="M319.4 572.4L326.5 573.5L319.4 567.8L312.3 566.7Z" fill="#d4ff00"/><path d="M305.1 564.9L312.3 566.7L305.3 561.1L298.1 559.4Z" fill="#c9ff00"/><path d="M290.8 557.0L298.1 559.4L291.1 553.9L283.8 551.6Z" fill="#bdff00"/><path d="M276.4 548.6L283.8 551.6L276.9 546.3L269.5 543.4Z" fill="#b0ff00"/><path d="M340.9 585.4L347.9 586.0L340.6 580.0L333.6 579.4Z" fill="#e0ff00"/><path d="M326.5 578.2L333.6 579.4L326.5 573.5L319.4 572.4Z" fill="#d6ff00"/><path d="M312.2 570.6L319.4 572.4L312.3 566.7L305.1 564.9Z" fill="#caff00"/><path d="M297.8 562.5L305.1 564.9L298.1 559.4L290.8 557.0Z" fill="#bdff00"/><path d="M283.4 554.0L290.8 557.0L283.8 551.6L276.4 548.6Z" fill="#b0ff00"/><path d="M333.8 584.1L340.9 585.4L333.6 579.4L326.5 578.2Z" fill="#d7ff00"/><path d="M319.4 576.3L326.5 578.2L319.4 572.4L312.2 570.6Z" fill="#cbff00"/><path d="M304.9 568.1L312.2 570.6L305.1 564.9L297.8 562.5Z" fill="#beff00"/><path d="M290.5 559.4L297.8 562.5L290.8 557.0L283.4 554.0Z" fill="#b0ff00"/><path d="M326.6 582.2L333.8 584.1L326.5 578.2L319.4 576.3Z" fill="#ccff00"/><path d="M312.1 573.8L319.4 576.3L312.2 570.6L304.9 568.1Z" fill="#bfff00"/><path d="M297.6 564.9L304.9 568.1L297.8 562.5L290.5 559.4Z" fill="#b1ff00"/><path d="M319.4 579.6L326.6 582.2L319.4 576.3L312.1 573.8Z" fill="#c0ff00"/><path d="M304.8 570.5L312.1 573.8L304.9 568.1L297.6 564.9Z" fill="#b2ff00"/><path d="M312.0 576.2L319.4 579.6L312.1 573.8L304.8 570.5Z" fill="#b2ff00"/></g><line x1="312.45" y1="617.22" x2="309.51" y2="340.88" stroke="#333" stroke-width="1.6"/><line x1="312.45" y1="617.22" x2="136.72" y2="481.78" stroke="#333" stroke-width="1.6"/><line x1="312.45" y1="617.22" x2="530.88" y2="499.97" stroke="#333" stroke-width="1.6"/><line x1="309.51" y1="340.88" x2="115.36" y2="228.76" stroke="#333" stroke-width="1.6"/><line x1="309.51" y1="340.88" x2="552.18" y2="243.48" stroke="#333" stroke-width="1.6"/><line x1="114" y1="440" x2="99.5" y2="274" stroke="#333" stroke-width="1.6"/><line x1="99.5" y1="274" x2="94.42" y2="285.97" stroke="#333" stroke-width="1.6"/><line x1="99.5" y1="274" x2="106.58" y2="284.9" stroke="#333" stroke-width="1.6"/><line x1="267" y1="611" x2="152" y2="519.5" stroke="#333" stroke-width="1.6"/><line x1="152" y1="519.5" x2="157.18" y2="531.42" stroke="#333" stroke-width="1.6"/><line x1="152" y1="519.5" x2="164.78" y2="521.87" stroke="#333" stroke-width="1.6"/><line x1="361" y1="616" x2="506" y2="537" stroke="#333" stroke-width="1.6"/><line x1="506" y1="537" x2="493" y2="537.13" stroke="#333" stroke-width="1.6"/><line x1="506" y1="537" x2="498.84" y2="547.85" stroke="#333" stroke-width="1.6"/><text x="44.85" y="375.3" font-size="39.24" textLength="41.82" lengthAdjust="spacingAndGlyphs" fill="#000">#S</text><text x="137.64" y="615" font-size="39.39" textLength="71.55" lengthAdjust="spacingAndGlyphs" fill="#000">EQT</text><text x="439.98" y="612.2" font-size="39.54" textLength="42.68" lengthAdjust="spacingAndGlyphs" fill="#000">ST</text><defs><linearGradient id="g1" x1="0" y1="0" x2="0" y2="1"><stop offset="0" stop-color="#0000ff"/><stop offset="0.5" stop-color="#00ff00"/><stop offset="1" stop-color="#ffff00"/></linearGradient></defs><rect x="679.5" y="60.3" width="38.3" height="662" fill="url(#g1)" stroke="#222" stroke-width="1.5"/><line x1="717.8" y1="693" x2="727.8" y2="693" stroke="#333" stroke-width="2"/><text x="736" y="702.8" font-size="20.62" fill="#333">0.0</text><line x1="717.8" y1="621.81" x2="727.8" y2="621.81" stroke="#333" stroke-width="2"/><text x="736" y="631.61" font-size="20.62" fill="#333">0.2</text><line x1="717.8" y1="550.62" x2="727.8" y2="550.62" stroke="#333" stroke-width="2"/><text x="736" y="560.42" font-size="20.62" fill="#333">0.4</text><line x1="717.8" y1="479.44" x2="727.8" y2="479.44" stroke="#333" stroke-width="2"/><text x="736" y="489.24" font-size="20.62" fill="#333">0.6</text><line x1="717.8" y1="408.25" x2="727.8" y2="408.25" stroke="#333" stroke-width="2"/><text x="736" y="418.05" font-size="20.62" fill="#333">0.8</text><line x1="717.8" y1="337.06" x2="727.8" y2="337.06" stroke="#333" stroke-width="2"/><text x="736" y="346.86" font-size="20.62" fill="#333">1.0</text><line x1="717.8" y1="265.88" x2="727.8" y2="265.88" stroke="#333" stroke-width="2"/><text x="736" y="275.68" font-size="20.62" fill="#333">1.2</text><line x1="717.8" y1="194.69" x2="727.8" y2="194.69" stroke="#333" stroke-width="2"/><text x="736" y="204.49" font-size="20.62" fill="#333">1.4</text><line x1="717.8" y1="123.5" x2="727.8" y2="123.5" stroke="#333" stroke-width="2"/><text x="736" y="133.3" font-size="20.62" fill="#333">1.6</text>
<rect x="18.4" y="832.3" width="648.8" height="650.5" fill="none" stroke="#474747" stroke-width="2.1"/><line x1="146.66" y1="1245.79" x2="129.07" y2="997.15" stroke="#333" stroke-width="1.6"/><line x1="146.66" y1="1245.79" x2="354.34" y2="1159.22" stroke="#333" stroke-width="1.6" stroke-dasharray="6 5"/><line x1="129.07" y1="997.15" x2="355.91" y2="927.49" stroke="#333" stroke-width="1.6"/><line x1="536.93" y1="1267.97" x2="556.25" y2="1013.61" stroke="#333" stroke-width="1.6"/><line x1="536.93" y1="1267.97" x2="354.34" y2="1159.22" stroke="#333" stroke-width="1.6" stroke-dasharray="6 5"/><line x1="556.25" y1="1013.61" x2="355.91" y2="927.49" stroke="#333" stroke-width="1.6"/><line x1="354.34" y1="1159.22" x2="355.91" y2="927.49" stroke="#333" stroke-width="1.6" stroke-dasharray="6 5"/><g stroke="#0a0a0a" stroke-width="1.3" stroke-linejoin="round"><path d="M299.8 1112.3L306.5 1100.6L301.7 1098.9L295.0 1110.4Z" fill="#4dff00"/><path d="M293.1 1123.4L299.8 1112.3L295.0 1110.4L288.3 1121.3Z" fill="#61ff00"/><path d="M306.5 1100.6L313.3 1088.2L308.4 1086.6L301.7 1098.9Z" fill="#38ff00"/><path d="M286.3 1133.7L293.1 1123.4L288.3 1121.3L281.5 1131.6Z" fill="#72ff00"/><path d="M313.3 1088.2L320.0 1075.0L315.1 1073.5L308.4 1086.6Z" fill="#22ff00"/><path d="M279.5 1143.4L286.3 1133.7L281.5 1131.6L274.8 1141.1Z" fill="#82ff00"/><path d="M320.0 1075.0L326.7 1061.1L321.8 1059.8L315.1 1073.5Z" fill="#0aff00"/><path d="M272.7 1152.3L279.5 1143.4L274.8 1141.1L268.0 1149.9Z" fill="#91ff00"/><path d="M326.7 1061.1L333.5 1046.5L328.5 1045.4L321.8 1059.8Z" fill="#00f00f"/><path d="M265.9 1160.7L272.7 1152.3L268.0 1149.9L261.2 1158.1Z" fill="#9eff00"/><path d="M333.5 1046.5L340.2 1031.2L335.2 1030.1L328.5 1045.4Z" fill="#00d52a"/><path d="M304.6 1114.2L311.4 1102.4L306.5 1100.6L299.8 1112.3Z" fill="#4bff00"/><path d="M297.9 1125.4L304.6 1114.2L299.8 1112.3L293.1 1123.4Z" fill="#5fff00"/><path d="M259.0 1168.3L265.9 1160.7L261.2 1158.1L254.3 1165.7Z" fill="#aaff00"/><path d="M311.4 1102.4L318.2 1089.8L313.3 1088.2L306.5 1100.6Z" fill="#36ff00"/><path d="M291.1 1135.9L297.9 1125.4L293.1 1123.4L286.3 1133.7Z" fill="#70ff00"/><path d="M318.2 1089.8L324.9 1076.5L320.0 1075.0L313.3 1088.2Z" fill="#20ff00"/><path d="M284.3 1145.7L291.1 1135.9L286.3 1133.7L279.5 1143.4Z" fill="#81ff00"/><path d="M340.2 1031.2L347.0 1015.0L342.0 1014.2L335.2 1030.1Z" fill="#00b847"/><path d="M324.9 1076.5L331.7 1062.5L326.7 1061.1L320.0 1075.0Z" fill="#07ff00"/><path d="M277.5 1154.8L284.3 1145.7L279.5 1143.4L272.7 1152.3Z" fill="#90ff00"/><path d="M252.1 1175.3L259.0 1168.3L254.3 1165.7L247.5 1172.5Z" fill="#b4ff00"/><path d="M331.7 1062.5L338.5 1047.7L333.5 1046.5L326.7 1061.1Z" fill="#00ed12"/><path d="M347.0 1015.0L353.8 998.1L348.8 997.4L342.0 1014.2Z" fill="#009a65"/><path d="M270.6 1163.2L277.5 1154.8L272.7 1152.3L265.9 1160.7Z" fill="#9dff00"/><path d="M245.2 1181.6L252.1 1175.3L247.5 1172.5L240.5 1178.7Z" fill="#bcff00"/><path d="M338.5 1047.7L345.3 1032.2L340.2 1031.2L333.5 1046.5Z" fill="#00d22d"/><path d="M309.5 1116.2L316.3 1104.2L311.4 1102.4L304.6 1114.2Z" fill="#49ff00"/><path d="M302.7 1127.5L309.5 1116.2L304.6 1114.2L297.9 1125.4Z" fill="#5dff00"/><path d="M263.8 1171.0L270.6 1163.2L265.9 1160.7L259.0 1168.3Z" fill="#a9ff00"/><path d="M316.3 1104.2L323.1 1091.5L318.2 1089.8L311.4 1102.4Z" fill="#34ff00"/><path d="M295.9 1138.1L302.7 1127.5L297.9 1125.4L291.1 1135.9Z" fill="#6fff00"/><path d="M353.8 998.1L360.7 980.4L355.6 979.9L348.8 997.4Z" fill="#007b84"/><path d="M323.1 1091.5L329.9 1078.1L324.9 1076.5L318.2 1089.8Z" fill="#1dff00"/><path d="M289.1 1148.0L295.9 1138.1L291.1 1135.9L284.3 1145.7Z" fill="#7fff00"/><path d="M345.3 1032.2L352.1 1015.9L347.0 1015.0L340.2 1031.2Z" fill="#00b54a"/><path d="M329.9 1078.1L336.7 1063.9L331.7 1062.5L324.9 1076.5Z" fill="#05ff00"/><path d="M282.3 1157.2L289.1 1148.0L284.3 1145.7L277.5 1154.8Z" fill="#8eff00"/><path d="M256.8 1178.1L263.8 1171.0L259.0 1168.3L252.1 1175.3Z" fill="#b3ff00"/><path d="M238.2 1187.2L245.2 1181.6L240.5 1178.7L233.5 1184.3Z" fill="#c3ff00"/><path d="M336.7 1063.9L343.5 1049.0L338.5 1047.7L331.7 1062.5Z" fill="#00ea15"/><path d="M275.4 1165.8L282.3 1157.2L277.5 1154.8L270.6 1163.2Z" fill="#9cff00"/><path d="M352.1 1015.9L358.9 998.9L353.8 998.1L347.0 1015.0Z" fill="#009768"/><path d="M249.9 1184.5L256.8 1178.1L252.1 1175.3L245.2 1181.6Z" fill="#bcff00"/><path d="M343.5 1049.0L350.3 1033.3L345.3 1032.2L338.5 1047.7Z" fill="#00cf30"/><path d="M268.5 1173.7L275.4 1165.8L270.6 1163.2L263.8 1171.0Z" fill="#a8ff00"/><path d="M307.6 1129.6L314.5 1118.2L309.5 1116.2L302.7 1127.5Z" fill="#5bff00"/><path d="M314.5 1118.2L321.3 1106.0L316.3 1104.2L309.5 1116.2Z" fill="#47ff00"/><path d="M231.1 1192.2L238.2 1187.2L233.5 1184.3L226.5 1189.2Z" fill="#c8ff00"/><path d="M300.8 1140.3L307.6 1129.6L302.7 1127.5L295.9 1138.1Z" fill="#6dff00"/><path d="M321.3 1106.0L328.1 1093.2L323.1 1091.5L316.3 1104.2Z" fill="#32ff00"/><path d="M294.0 1150.4L300.8 1140.3L295.9 1138.1L289.1 1148.0Z" fill="#7eff00"/><path d="M328.1 1093.2L334.9 1079.6L329.9 1078.1L323.1 1091.5Z" fill="#1bff00"/><path d="M358.9 998.9L365.8 981.0L360.7 980.4L353.8 998.1Z" fill="#007788"/><path d="M350.3 1033.3L357.2 1016.9L352.1 1015.9L345.3 1032.2Z" fill="#00b24d"/><path d="M261.6 1180.9L268.5 1173.7L263.8 1171.0L256.8 1178.1Z" fill="#b2ff00"/><path d="M287.1 1159.7L294.0 1150.4L289.1 1148.0L282.3 1157.2Z" fill="#8dff00"/><path d="M242.8 1190.3L249.9 1184.5L245.2 1181.6L238.2 1187.2Z" fill="#c3ff00"/><path d="M334.9 1079.6L341.7 1065.3L336.7 1063.9L329.9 1078.1Z" fill="#02ff00"/><path d="M280.2 1168.4L287.1 1159.7L282.3 1157.2L275.4 1165.8Z" fill="#9bff00"/><path d="M341.7 1065.3L348.6 1050.2L343.5 1049.0L336.7 1063.9Z" fill="#00e718"/><path d="M224.0 1196.6L231.1 1192.2L226.5 1189.2L219.4 1193.4Z" fill="#ccff00"/><path d="M357.2 1016.9L364.1 999.6L358.9 998.9L352.1 1015.9Z" fill="#00936c"/><path d="M254.6 1187.4L261.6 1180.9L256.8 1178.1L249.9 1184.5Z" fill="#bbff00"/><path d="M273.3 1176.4L280.2 1168.4L275.4 1165.8L268.5 1173.7Z" fill="#a7ff00"/><path d="M235.8 1195.4L242.8 1190.3L238.2 1187.2L231.1 1192.2Z" fill="#c8ff00"/><path d="M312.6 1131.8L319.4 1120.2L314.5 1118.2L307.6 1129.6Z" fill="#59ff00"/><path d="M348.6 1050.2L355.4 1034.4L350.3 1033.3L343.5 1049.0Z" fill="#00cb34"/><path d="M319.4 1120.2L326.3 1107.9L321.3 1106.0L314.5 1118.2Z" fill="#45ff00"/><path d="M305.7 1142.6L312.6 1131.8L307.6 1129.6L300.8 1140.3Z" fill="#6bff00"/><path d="M326.3 1107.9L333.1 1094.9L328.1 1093.2L321.3 1106.0Z" fill="#2fff00"/><path d="M298.9 1152.8L305.7 1142.6L300.8 1140.3L294.0 1150.4Z" fill="#7cff00"/><path d="M333.1 1094.9L339.9 1081.2L334.9 1079.6L328.1 1093.2Z" fill="#18ff00"/><path d="M364.1 999.6L371.0 981.6L365.8 981.0L358.9 998.9Z" fill="#00738c"/><path d="M266.3 1183.8L273.3 1176.4L268.5 1173.7L261.6 1180.9Z" fill="#b1ff00"/><path d="M247.6 1193.3L254.6 1187.4L249.9 1184.5L242.8 1190.3Z" fill="#c2ff00"/><path d="M292.0 1162.3L298.9 1152.8L294.0 1150.4L287.1 1159.7Z" fill="#8cff00"/><path d="M355.4 1034.4L362.3 1017.8L357.2 1016.9L350.3 1033.3Z" fill="#00ae51"/><path d="M216.8 1200.2L224.0 1196.6L219.4 1193.4L212.2 1196.9Z" fill="#ceff00"/><path d="M339.9 1081.2L346.8 1066.8L341.7 1065.3L334.9 1079.6Z" fill="#00fe01"/><path d="M285.1 1171.1L292.0 1162.3L287.1 1159.7L280.2 1168.4Z" fill="#9aff00"/><path d="M228.6 1199.8L235.8 1195.4L231.1 1192.2L224.0 1196.6Z" fill="#ccff00"/><path d="M346.8 1066.8L353.7 1051.5L348.6 1050.2L341.7 1065.3Z" fill="#00e41b"/><path d="M259.4 1190.4L266.3 1183.8L261.6 1180.9L254.6 1187.4Z" fill="#baff00"/><path d="M362.3 1017.8L369.2 1000.4L364.1 999.6L357.2 1016.9Z" fill="#00906f"/><path d="M278.1 1179.2L285.1 1171.1L280.2 1168.4L273.3 1176.4Z" fill="#a6ff00"/><path d="M240.5 1198.5L247.6 1193.3L242.8 1190.3L235.8 1195.4Z" fill="#c8ff00"/><path d="M317.5 1133.9L324.4 1122.2L319.4 1120.2L312.6 1131.8Z" fill="#57ff00"/><path d="M324.4 1122.2L331.3 1109.8L326.3 1107.9L319.4 1120.2Z" fill="#43ff00"/><path d="M310.7 1144.9L317.5 1133.9L312.6 1131.8L305.7 1142.6Z" fill="#6aff00"/><path d="M353.7 1051.5L360.6 1035.6L355.4 1034.4L348.6 1050.2Z" fill="#00c837"/><path d="M331.3 1109.8L338.2 1096.7L333.1 1094.9L326.3 1107.9Z" fill="#2dff00"/><path d="M303.8 1155.2L310.7 1144.9L305.7 1142.6L298.9 1152.8Z" fill="#7bff00"/><path d="M209.5 1203.2L216.8 1200.2L212.2 1196.9L204.9 1199.8Z" fill="#cfff00"/><path d="M252.3 1196.4L259.4 1190.4L254.6 1187.4L247.6 1193.3Z" fill="#c2ff00"/><path d="M271.2 1186.7L278.1 1179.2L273.3 1176.4L266.3 1183.8Z" fill="#b1ff00"/><path d="M338.2 1096.7L345.0 1082.8L339.9 1081.2L333.1 1094.9Z" fill="#16ff00"/><path d="M296.9 1164.8L303.8 1155.2L298.9 1152.8L292.0 1162.3Z" fill="#8bff00"/><path d="M221.4 1203.6L228.6 1199.8L224.0 1196.6L216.8 1200.2Z" fill="#cfff00"/><path d="M369.2 1000.4L376.2 982.2L371.0 981.6L364.1 999.6Z" fill="#006f90"/><path d="M360.6 1035.6L367.5 1018.8L362.3 1017.8L355.4 1034.4Z" fill="#00ab54"/><path d="M345.0 1082.8L351.9 1068.2L346.8 1066.8L339.9 1081.2Z" fill="#00fc03"/><path d="M233.3 1203.1L240.5 1198.5L235.8 1195.4L228.6 1199.8Z" fill="#ccff00"/><path d="M290.0 1173.8L296.9 1164.8L292.0 1162.3L285.1 1171.1Z" fill="#99ff00"/><path d="M264.1 1193.4L271.2 1186.7L266.3 1183.8L259.4 1190.4Z" fill="#baff00"/><path d="M351.9 1068.2L358.8 1052.9L353.7 1051.5L346.8 1066.8Z" fill="#00e11e"/><path d="M245.2 1201.8L252.3 1196.4L247.6 1193.3L240.5 1198.5Z" fill="#c8ff00"/><path d="M283.0 1182.0L290.0 1173.8L285.1 1171.1L278.1 1179.2Z" fill="#a5ff00"/><path d="M367.5 1018.8L374.5 1001.2L369.2 1000.4L362.3 1017.8Z" fill="#008c73"/><path d="M322.6 1136.2L329.5 1124.3L324.4 1122.2L317.5 1133.9Z" fill="#55ff00"/><path d="M329.5 1124.3L336.4 1111.8L331.3 1109.8L324.4 1122.2Z" fill="#41ff00"/><path d="M315.7 1147.3L322.6 1136.2L317.5 1133.9L310.7 1144.9Z" fill="#68ff00"/><path d="M202.2 1205.6L209.5 1203.2L204.9 1199.8L197.6 1202.0Z" fill="#ceff00"/><path d="M214.2 1206.7L221.4 1203.6L216.8 1200.2L209.5 1203.2Z" fill="#d0ff00"/><path d="M358.8 1052.9L365.8 1036.7L360.6 1035.6L353.7 1051.5Z" fill="#00c53a"/><path d="M336.4 1111.8L343.3 1098.5L338.2 1096.7L331.3 1109.8Z" fill="#2bff00"/><path d="M308.7 1157.7L315.7 1147.3L310.7 1144.9L303.8 1155.2Z" fill="#7aff00"/><path d="M257.1 1199.6L264.1 1193.4L259.4 1190.4L252.3 1196.4Z" fill="#c2ff00"/><path d="M276.0 1189.6L283.0 1182.0L278.1 1179.2L271.2 1186.7Z" fill="#b0ff00"/><path d="M226.1 1207.0L233.3 1203.1L228.6 1199.8L221.4 1203.6Z" fill="#cfff00"/><path d="M343.3 1098.5L350.2 1084.5L345.0 1082.8L338.2 1096.7Z" fill="#13ff00"/><path d="M301.8 1167.5L308.7 1157.7L303.8 1155.2L296.9 1164.8Z" fill="#89ff00"/><path d="M374.5 1001.2L381.5 982.8L376.2 982.2L369.2 1000.4Z" fill="#006c93"/><path d="M238.1 1206.4L245.2 1201.8L240.5 1198.5L233.3 1203.1Z" fill="#ccff00"/><path d="M350.2 1084.5L357.1 1069.7L351.9 1068.2L345.0 1082.8Z" fill="#00f906"/><path d="M365.8 1036.7L372.8 1019.8L367.5 1018.8L360.6 1035.6Z" fill="#00a857"/><path d="M294.9 1176.5L301.8 1167.5L296.9 1164.8L290.0 1173.8Z" fill="#98ff00"/><path d="M269.0 1196.5L276.0 1189.6L271.2 1186.7L264.1 1193.4Z" fill="#baff00"/><path d="M250.0 1205.0L257.1 1199.6L252.3 1196.4L245.2 1201.8Z" fill="#c8ff00"/><path d="M357.1 1069.7L364.0 1054.2L358.8 1052.9L351.9 1068.2Z" fill="#00df20"/><path d="M287.9 1184.9L294.9 1176.5L290.0 1173.8L283.0 1182.0Z" fill="#a4ff00"/><path d="M206.8 1209.1L214.2 1206.7L209.5 1203.2L202.2 1205.6Z" fill="#cfff00"/><path d="M194.7 1207.2L202.2 1205.6L197.6 1202.0L190.1 1203.6Z" fill="#ccff00"/><path d="M372.8 1019.8L379.8 1002.1L374.5 1001.2L367.5 1018.8Z" fill="#008976"/><path d="M327.6 1138.4L334.5 1126.4L329.5 1124.3L322.6 1136.2Z" fill="#54ff00"/><path d="M218.8 1210.2L226.1 1207.0L221.4 1203.6L214.2 1206.7Z" fill="#d0ff00"/><path d="M320.7 1149.7L327.6 1138.4L322.6 1136.2L315.7 1147.3Z" fill="#67ff00"/><path d="M334.5 1126.4L341.5 1113.8L336.4 1111.8L329.5 1124.3Z" fill="#3fff00"/><path d="M313.8 1160.2L320.7 1149.7L315.7 1147.3L308.7 1157.7Z" fill="#78ff00"/><path d="M261.9 1202.7L269.0 1196.5L264.1 1193.4L257.1 1199.6Z" fill="#c1ff00"/><path d="M341.5 1113.8L348.4 1100.3L343.3 1098.5L336.4 1111.8Z" fill="#29ff00"/><path d="M364.0 1054.2L371.0 1037.9L365.8 1036.7L358.8 1052.9Z" fill="#00c33c"/><path d="M230.8 1210.4L238.1 1206.4L233.3 1203.1L226.1 1207.0Z" fill="#cfff00"/><path d="M280.9 1192.6L287.9 1184.9L283.0 1182.0L276.0 1189.6Z" fill="#b0ff00"/><path d="M306.8 1170.1L313.8 1160.2L308.7 1157.7L301.8 1167.5Z" fill="#88ff00"/><path d="M348.4 1100.3L355.3 1086.2L350.2 1084.5L343.3 1098.5Z" fill="#11ff00"/><path d="M242.8 1209.8L250.0 1205.0L245.2 1201.8L238.1 1206.4Z" fill="#ccff00"/><path d="M299.8 1179.3L306.8 1170.1L301.8 1167.5L294.9 1176.5Z" fill="#97ff00"/><path d="M379.8 1002.1L386.8 983.5L381.5 982.8L374.5 1001.2Z" fill="#006897"/><path d="M355.3 1086.2L362.3 1071.3L357.1 1069.7L350.2 1084.5Z" fill="#00f708"/><path d="M371.0 1037.9L378.0 1020.8L372.8 1019.8L365.8 1036.7Z" fill="#00a55a"/><path d="M273.9 1199.6L280.9 1192.6L276.0 1189.6L269.0 1196.5Z" fill="#b9ff00"/><path d="M254.8 1208.3L261.9 1202.7L257.1 1199.6L250.0 1205.0Z" fill="#c8ff00"/><path d="M292.8 1187.8L299.8 1179.3L294.9 1176.5L287.9 1184.9Z" fill="#a4ff00"/><path d="M362.3 1071.3L369.3 1055.6L364.0 1054.2L357.1 1069.7Z" fill="#00dc23"/><path d="M211.5 1212.7L218.8 1210.2L214.2 1206.7L206.8 1209.1Z" fill="#d0ff00"/><path d="M199.4 1210.9L206.8 1209.1L202.2 1205.6L194.7 1207.2Z" fill="#cdff00"/><path d="M223.5 1213.7L230.8 1210.4L226.1 1207.0L218.8 1210.2Z" fill="#d0ff00"/><path d="M187.2 1208.2L194.7 1207.2L190.1 1203.6L182.6 1204.4Z" fill="#c8ff00"/><path d="M332.7 1140.7L339.7 1128.6L334.5 1126.4L327.6 1138.4Z" fill="#52ff00"/><path d="M325.8 1152.1L332.7 1140.7L327.6 1138.4L320.7 1149.7Z" fill="#65ff00"/><path d="M339.7 1128.6L346.6 1115.8L341.5 1113.8L334.5 1126.4Z" fill="#3dff00"/><path d="M378.0 1020.8L385.1 1002.9L379.8 1002.1L372.8 1019.8Z" fill="#008679"/><path d="M266.8 1206.0L273.9 1199.6L269.0 1196.5L261.9 1202.7Z" fill="#c1ff00"/><path d="M235.6 1213.9L242.8 1209.8L238.1 1206.4L230.8 1210.4Z" fill="#cfff00"/><path d="M318.8 1162.8L325.8 1152.1L320.7 1149.7L313.8 1160.2Z" fill="#77ff00"/><path d="M285.8 1195.6L292.8 1187.8L287.9 1184.9L280.9 1192.6Z" fill="#afff00"/><path d="M346.6 1115.8L353.6 1102.2L348.4 1100.3L341.5 1113.8Z" fill="#27ff00"/><path d="M369.3 1055.6L376.3 1039.1L371.0 1037.9L364.0 1054.2Z" fill="#00c03f"/><path d="M311.8 1172.8L318.8 1162.8L313.8 1160.2L306.8 1170.1Z" fill="#87ff00"/><path d="M247.6 1213.2L254.8 1208.3L250.0 1205.0L242.8 1209.8Z" fill="#cdff00"/><path d="M353.6 1102.2L360.6 1087.9L355.3 1086.2L348.4 1100.3Z" fill="#0fff00"/><path d="M304.8 1182.1L311.8 1172.8L306.8 1170.1L299.8 1179.3Z" fill="#96ff00"/><path d="M278.8 1202.7L285.8 1195.6L280.9 1192.6L273.9 1199.6Z" fill="#b9ff00"/><path d="M360.6 1087.9L367.6 1072.9L362.3 1071.3L355.3 1086.2Z" fill="#00f40b"/><path d="M385.1 1002.9L392.2 984.2L386.8 983.5L379.8 1002.1Z" fill="#00659a"/><path d="M259.6 1211.6L266.8 1206.0L261.9 1202.7L254.8 1208.3Z" fill="#c8ff00"/><path d="M376.3 1039.1L383.4 1021.9L378.0 1020.8L371.0 1037.9Z" fill="#00a25d"/><path d="M297.8 1190.7L304.8 1182.1L299.8 1179.3L292.8 1187.8Z" fill="#a3ff00"/><path d="M216.2 1216.4L223.5 1213.7L218.8 1210.2L211.5 1212.7Z" fill="#d0ff00"/><path d="M204.0 1214.6L211.5 1212.7L206.8 1209.1L199.4 1210.9Z" fill="#ceff00"/><path d="M228.3 1217.3L235.6 1213.9L230.8 1210.4L223.5 1213.7Z" fill="#d1ff00"/><path d="M191.8 1212.0L199.4 1210.9L194.7 1207.2L187.2 1208.2Z" fill="#c9ff00"/><path d="M367.6 1072.9L374.6 1057.0L369.3 1055.6L362.3 1071.3Z" fill="#00d926"/><path d="M240.4 1217.4L247.6 1213.2L242.8 1209.8L235.6 1213.9Z" fill="#d0ff00"/><path d="M179.6 1208.5L187.2 1208.2L182.6 1204.4L175.0 1204.6Z" fill="#c3ff00"/><path d="M337.8 1143.0L344.8 1130.8L339.7 1128.6L332.7 1140.7Z" fill="#50ff00"/><path d="M271.7 1209.2L278.8 1202.7L273.9 1199.6L266.8 1206.0Z" fill="#c1ff00"/><path d="M330.9 1154.6L337.8 1143.0L332.7 1140.7L325.8 1152.1Z" fill="#64ff00"/><path d="M344.8 1130.8L351.8 1117.8L346.6 1115.8L339.7 1128.6Z" fill="#3bff00"/><path d="M290.8 1198.7L297.8 1190.7L292.8 1187.8L285.8 1195.6Z" fill="#aeff00"/><path d="M323.9 1165.4L330.9 1154.6L325.8 1152.1L318.8 1162.8Z" fill="#76ff00"/><path d="M383.4 1021.9L390.4 1003.8L385.1 1002.9L378.0 1020.8Z" fill="#00827d"/><path d="M351.8 1117.8L358.8 1104.1L353.6 1102.2L346.6 1115.8Z" fill="#25ff00"/><path d="M316.9 1175.5L323.9 1165.4L318.8 1162.8L311.8 1172.8Z" fill="#86ff00"/><path d="M252.4 1216.6L259.6 1211.6L254.8 1208.3L247.6 1213.2Z" fill="#cdff00"/><path d="M374.6 1057.0L381.6 1040.4L376.3 1039.1L369.3 1055.6Z" fill="#00bd42"/><path d="M358.8 1104.1L365.8 1089.7L360.6 1087.9L353.6 1102.2Z" fill="#0dff00"/><path d="M309.9 1185.0L316.9 1175.5L311.8 1172.8L304.8 1182.1Z" fill="#95ff00"/><path d="M283.7 1205.9L290.8 1198.7L285.8 1195.6L278.8 1202.7Z" fill="#b8ff00"/><path d="M264.5 1215.0L271.7 1209.2L266.8 1206.0L259.6 1211.6Z" fill="#c8ff00"/><path d="M365.8 1089.7L372.8 1074.5L367.6 1072.9L360.6 1087.9Z" fill="#00f20d"/><path d="M208.7 1218.4L216.2 1216.4L211.5 1212.7L204.0 1214.6Z" fill="#ceff00"/><path d="M220.9 1220.1L228.3 1217.3L223.5 1213.7L216.2 1216.4Z" fill="#d1ff00"/><path d="M390.4 1003.8L397.6 984.9L392.2 984.2L385.1 1002.9Z" fill="#00619e"/><path d="M302.8 1193.7L309.9 1185.0L304.8 1182.1L297.8 1190.7Z" fill="#a2ff00"/><path d="M381.6 1040.4L388.7 1023.0L383.4 1021.9L376.3 1039.1Z" fill="#009f60"/><path d="M196.5 1215.8L204.0 1214.6L199.4 1210.9L191.8 1212.0Z" fill="#caff00"/><path d="M233.1 1221.0L240.4 1217.4L235.6 1213.9L228.3 1217.3Z" fill="#d1ff00"/><path d="M184.2 1212.3L191.8 1212.0L187.2 1208.2L179.6 1208.5Z" fill="#c4ff00"/><path d="M245.2 1221.0L252.4 1216.6L247.6 1213.2L240.4 1217.4Z" fill="#d0ff00"/><path d="M372.8 1074.5L379.9 1058.5L374.6 1057.0L367.6 1072.9Z" fill="#00d728"/><path d="M276.6 1212.5L283.7 1205.9L278.8 1202.7L271.7 1209.2Z" fill="#c1ff00"/><path d="M343.0 1145.4L350.0 1133.0L344.8 1130.8L337.8 1143.0Z" fill="#4fff00"/><path d="M336.0 1157.1L343.0 1145.4L337.8 1143.0L330.9 1154.6Z" fill="#62ff00"/><path d="M295.8 1201.8L302.8 1193.7L297.8 1190.7L290.8 1198.7Z" fill="#aeff00"/><path d="M350.0 1133.0L357.0 1119.9L351.8 1117.8L344.8 1130.8Z" fill="#39ff00"/><path d="M329.0 1168.0L336.0 1157.1L330.9 1154.6L323.9 1165.4Z" fill="#74ff00"/><path d="M171.8 1208.0L179.6 1208.5L175.0 1204.6L167.2 1204.1Z" fill="#bcff00"/><path d="M257.3 1220.1L264.5 1215.0L259.6 1211.6L252.4 1216.6Z" fill="#cdff00"/><path d="M388.7 1023.0L395.9 1004.7L390.4 1003.8L383.4 1021.9Z" fill="#007f80"/><path d="M357.0 1119.9L364.1 1106.1L358.8 1104.1L351.8 1117.8Z" fill="#23ff00"/><path d="M322.0 1178.3L329.0 1168.0L323.9 1165.4L316.9 1175.5Z" fill="#85ff00"/><path d="M379.9 1058.5L387.0 1041.7L381.6 1040.4L374.6 1057.0Z" fill="#00ba45"/><path d="M364.1 1106.1L371.1 1091.5L365.8 1089.7L358.8 1104.1Z" fill="#0aff00"/><path d="M314.9 1187.9L322.0 1178.3L316.9 1175.5L309.9 1185.0Z" fill="#94ff00"/><path d="M288.7 1209.2L295.8 1201.8L290.8 1198.7L283.7 1205.9Z" fill="#b8ff00"/><path d="M269.4 1218.4L276.6 1212.5L271.7 1209.2L264.5 1215.0Z" fill="#c8ff00"/><path d="M213.5 1222.2L220.9 1220.1L216.2 1216.4L208.7 1218.4Z" fill="#cfff00"/><path d="M225.7 1223.8L233.1 1221.0L228.3 1217.3L220.9 1220.1Z" fill="#d2ff00"/><path d="M201.2 1219.7L208.7 1218.4L204.0 1214.6L196.5 1215.8Z" fill="#cbff00"/><path d="M371.1 1091.5L378.2 1076.1L372.8 1074.5L365.8 1089.7Z" fill="#00f00f"/><path d="M307.9 1196.7L314.9 1187.9L309.9 1185.0L302.8 1193.7Z" fill="#a2ff00"/><path d="M237.9 1224.6L245.2 1221.0L240.4 1217.4L233.1 1221.0Z" fill="#d2ff00"/><path d="M387.0 1041.7L394.1 1024.1L388.7 1023.0L381.6 1040.4Z" fill="#009c63"/><path d="M395.9 1004.7L403.0 985.7L397.6 984.9L390.4 1003.8Z" fill="#005ea1"/><path d="M188.9 1216.3L196.5 1215.8L191.8 1212.0L184.2 1212.3Z" fill="#c5ff00"/><path d="M250.1 1224.6L257.3 1220.1L252.4 1216.6L245.2 1221.0Z" fill="#d1ff00"/><path d="M281.6 1215.9L288.7 1209.2L283.7 1205.9L276.6 1212.5Z" fill="#c1ff00"/><path d="M378.2 1076.1L385.3 1059.9L379.9 1058.5L372.8 1074.5Z" fill="#00d42b"/><path d="M300.8 1204.9L307.9 1196.7L302.8 1193.7L295.8 1201.8Z" fill="#aeff00"/><path d="M176.5 1212.0L184.2 1212.3L179.6 1208.5L171.8 1208.0Z" fill="#bdff00"/><path d="M341.2 1159.6L348.2 1147.8L343.0 1145.4L336.0 1157.1Z" fill="#61ff00"/><path d="M348.2 1147.8L355.3 1135.3L350.0 1133.0L343.0 1145.4Z" fill="#4dff00"/><path d="M334.2 1170.7L341.2 1159.6L336.0 1157.1L329.0 1168.0Z" fill="#73ff00"/><path d="M355.3 1135.3L362.3 1122.0L357.0 1119.9L350.0 1133.0Z" fill="#38ff00"/><path d="M262.2 1223.7L269.4 1218.4L264.5 1215.0L257.3 1220.1Z" fill="#cdff00"/><path d="M327.1 1181.1L334.2 1170.7L329.0 1168.0L322.0 1178.3Z" fill="#84ff00"/><path d="M362.3 1122.0L369.4 1108.0L364.1 1106.1L357.0 1119.9Z" fill="#21ff00"/><path d="M394.1 1024.1L401.3 1005.7L395.9 1004.7L388.7 1023.0Z" fill="#007c83"/><path d="M164.0 1206.9L171.8 1208.0L167.2 1204.1L159.4 1202.8Z" fill="#b3ff00"/><path d="M320.1 1190.8L327.1 1181.1L322.0 1178.3L314.9 1187.9Z" fill="#93ff00"/><path d="M385.3 1059.9L392.4 1043.0L387.0 1041.7L379.9 1058.5Z" fill="#00b748"/><path d="M293.7 1212.4L300.8 1204.9L295.8 1201.8L288.7 1209.2Z" fill="#b8ff00"/><path d="M274.4 1221.9L281.6 1215.9L276.6 1212.5L269.4 1218.4Z" fill="#c8ff00"/><path d="M369.4 1108.0L376.5 1093.3L371.1 1091.5L364.1 1106.1Z" fill="#08ff00"/><path d="M218.2 1226.0L225.7 1223.8L220.9 1220.1L213.5 1222.2Z" fill="#d0ff00"/><path d="M230.5 1227.6L237.9 1224.6L233.1 1221.0L225.7 1223.8Z" fill="#d2ff00"/><path d="M205.9 1223.6L213.5 1222.2L208.7 1218.4L201.2 1219.7Z" fill="#ccff00"/><path d="M242.7 1228.4L250.1 1224.6L245.2 1221.0L237.9 1224.6Z" fill="#d3ff00"/><path d="M313.0 1199.8L320.1 1190.8L314.9 1187.9L307.9 1196.7Z" fill="#a1ff00"/><path d="M193.5 1220.3L201.2 1219.7L196.5 1215.8L188.9 1216.3Z" fill="#c6ff00"/><path d="M376.5 1093.3L383.6 1077.8L378.2 1076.1L371.1 1091.5Z" fill="#00ed12"/><path d="M255.0 1228.2L262.2 1223.7L257.3 1220.1L250.1 1224.6Z" fill="#d1ff00"/><path d="M392.4 1043.0L399.6 1025.2L394.1 1024.1L387.0 1041.7Z" fill="#009966"/><path d="M286.6 1219.3L293.7 1212.4L288.7 1209.2L281.6 1215.9Z" fill="#c1ff00"/><path d="M401.3 1005.7L408.5 986.4L403.0 985.7L395.9 1004.7Z" fill="#005aa5"/><path d="M181.1 1216.1L188.9 1216.3L184.2 1212.3L176.5 1212.0Z" fill="#beff00"/><path d="M305.9 1208.1L313.0 1199.8L307.9 1196.7L300.8 1204.9Z" fill="#adff00"/><path d="M346.4 1162.2L353.5 1150.3L348.2 1147.8L341.2 1159.6Z" fill="#60ff00"/><path d="M267.2 1227.3L274.4 1221.9L269.4 1218.4L262.2 1223.7Z" fill="#ceff00"/><path d="M353.5 1150.3L360.6 1137.6L355.3 1135.3L348.2 1147.8Z" fill="#4cff00"/><path d="M383.6 1077.8L390.7 1061.5L385.3 1059.9L378.2 1076.1Z" fill="#00d22d"/><path d="M339.4 1173.4L346.4 1162.2L341.2 1159.6L334.2 1170.7Z" fill="#72ff00"/><path d="M360.6 1137.6L367.6 1124.2L362.3 1122.0L355.3 1135.3Z" fill="#36ff00"/><path d="M332.3 1183.9L339.4 1173.4L334.2 1170.7L327.1 1181.1Z" fill="#83ff00"/><path d="M168.6 1211.0L176.5 1212.0L171.8 1208.0L164.0 1206.9Z" fill="#b5ff00"/><path d="M367.6 1124.2L374.7 1110.0L369.4 1108.0L362.3 1122.0Z" fill="#1fff00"/><path d="M298.8 1215.7L305.9 1208.1L300.8 1204.9L293.7 1212.4Z" fill="#b8ff00"/><path d="M325.2 1193.8L332.3 1183.9L327.1 1181.1L320.1 1190.8Z" fill="#93ff00"/><path d="M399.6 1025.2L406.8 1006.7L401.3 1005.7L394.1 1024.1Z" fill="#007986"/><path d="M279.4 1225.4L286.6 1219.3L281.6 1215.9L274.4 1221.9Z" fill="#c8ff00"/><path d="M223.0 1229.9L230.5 1227.6L225.7 1223.8L218.2 1226.0Z" fill="#d1ff00"/><path d="M235.3 1231.5L242.7 1228.4L237.9 1224.6L230.5 1227.6Z" fill="#d3ff00"/><path d="M210.7 1227.5L218.2 1226.0L213.5 1222.2L205.9 1223.6Z" fill="#cdff00"/><path d="M390.7 1061.5L397.9 1044.3L392.4 1043.0L385.3 1059.9Z" fill="#00b44b"/><path d="M374.7 1110.0L381.8 1095.1L376.5 1093.3L369.4 1108.0Z" fill="#06ff00"/><path d="M247.6 1232.1L255.0 1228.2L250.1 1224.6L242.7 1228.4Z" fill="#d3ff00"/><path d="M198.3 1224.3L205.9 1223.6L201.2 1219.7L193.5 1220.3Z" fill="#c7ff00"/><path d="M156.0 1205.0L164.0 1206.9L159.4 1202.8L151.4 1200.9Z" fill="#a9ff00"/><path d="M318.1 1202.9L325.2 1193.8L320.1 1190.8L313.0 1199.8Z" fill="#a0ff00"/><path d="M259.9 1231.9L267.2 1227.3L262.2 1223.7L255.0 1228.2Z" fill="#d2ff00"/><path d="M381.8 1095.1L389.0 1079.5L383.6 1077.8L376.5 1093.3Z" fill="#00eb14"/><path d="M185.8 1220.1L193.5 1220.3L188.9 1216.3L181.1 1216.1Z" fill="#c0ff00"/><path d="M291.6 1222.7L298.8 1215.7L293.7 1212.4L286.6 1219.3Z" fill="#c1ff00"/><path d="M397.9 1044.3L405.1 1026.4L399.6 1025.2L392.4 1043.0Z" fill="#009669"/><path d="M311.0 1211.3L318.1 1202.9L313.0 1199.8L305.9 1208.1Z" fill="#adff00"/><path d="M406.8 1006.7L414.1 987.2L408.5 986.4L401.3 1005.7Z" fill="#0057a8"/><path d="M272.1 1230.9L279.4 1225.4L274.4 1221.9L267.2 1227.3Z" fill="#ceff00"/><path d="M351.7 1164.8L358.8 1152.7L353.5 1150.3L346.4 1162.2Z" fill="#5eff00"/><path d="M358.8 1152.7L365.9 1139.9L360.6 1137.6L353.5 1150.3Z" fill="#4aff00"/><path d="M344.6 1176.2L351.7 1164.8L346.4 1162.2L339.4 1173.4Z" fill="#71ff00"/><path d="M173.3 1215.1L181.1 1216.1L176.5 1212.0L168.6 1211.0Z" fill="#b6ff00"/><path d="M389.0 1079.5L396.2 1063.0L390.7 1061.5L383.6 1077.8Z" fill="#00cf30"/><path d="M365.9 1139.9L373.0 1126.4L367.6 1124.2L360.6 1137.6Z" fill="#34ff00"/><path d="M337.5 1186.8L344.6 1176.2L339.4 1173.4L332.3 1183.9Z" fill="#82ff00"/><path d="M227.9 1233.9L235.3 1231.5L230.5 1227.6L223.0 1229.9Z" fill="#d2ff00"/><path d="M373.0 1126.4L380.1 1112.1L374.7 1110.0L367.6 1124.2Z" fill="#1dff00"/><path d="M303.9 1219.1L311.0 1211.3L305.9 1208.1L298.8 1215.7Z" fill="#b8ff00"/><path d="M284.4 1229.0L291.6 1222.7L286.6 1219.3L279.4 1225.4Z" fill="#c8ff00"/><path d="M240.2 1235.3L247.6 1232.1L242.7 1228.4L235.3 1231.5Z" fill="#d4ff00"/><path d="M215.5 1231.5L223.0 1229.9L218.2 1226.0L210.7 1227.5Z" fill="#ceff00"/><path d="M330.4 1196.8L337.5 1186.8L332.3 1183.9L325.2 1193.8Z" fill="#92ff00"/><path d="M252.5 1235.9L259.9 1231.9L255.0 1228.2L247.6 1232.1Z" fill="#d4ff00"/><path d="M405.1 1026.4L412.4 1007.7L406.8 1006.7L399.6 1025.2Z" fill="#007689"/><path d="M160.6 1209.2L168.6 1211.0L164.0 1206.9L156.0 1205.0Z" fill="#abff00"/><path d="M203.0 1228.3L210.7 1227.5L205.9 1223.6L198.3 1224.3Z" fill="#c9ff00"/><path d="M396.2 1063.0L403.4 1045.7L397.9 1044.3L390.7 1061.5Z" fill="#00b24d"/><path d="M380.1 1112.1L387.3 1097.0L381.8 1095.1L374.7 1110.0Z" fill="#04ff00"/><path d="M323.3 1206.0L330.4 1196.8L325.2 1193.8L318.1 1202.9Z" fill="#a0ff00"/><path d="M264.9 1235.7L272.1 1230.9L267.2 1227.3L259.9 1231.9Z" fill="#d2ff00"/><path d="M190.5 1224.3L198.3 1224.3L193.5 1220.3L185.8 1220.1Z" fill="#c1ff00"/><path d="M296.7 1226.2L303.9 1219.1L298.8 1215.7L291.6 1222.7Z" fill="#c1ff00"/><path d="M387.3 1097.0L394.5 1081.2L389.0 1079.5L381.8 1095.1Z" fill="#00e916"/><path d="M316.2 1214.6L323.3 1206.0L318.1 1202.9L311.0 1211.3Z" fill="#acff00"/><path d="M277.2 1234.6L284.4 1229.0L279.4 1225.4L272.1 1230.9Z" fill="#ceff00"/><path d="M147.9 1202.4L156.0 1205.0L151.4 1200.9L143.3 1198.2Z" fill="#9dff00"/><path d="M177.9 1219.3L185.8 1220.1L181.1 1216.1L173.3 1215.1Z" fill="#b8ff00"/><path d="M403.4 1045.7L410.7 1027.6L405.1 1026.4L397.9 1044.3Z" fill="#00936c"/><path d="M357.0 1167.5L364.1 1155.2L358.8 1152.7L351.7 1164.8Z" fill="#5dff00"/><path d="M412.4 1007.7L419.7 988.0L414.1 987.2L406.8 1006.7Z" fill="#0054ab"/><path d="M349.9 1179.0L357.0 1167.5L351.7 1164.8L344.6 1176.2Z" fill="#70ff00"/><path d="M364.1 1155.2L371.3 1142.3L365.9 1139.9L358.8 1152.7Z" fill="#49ff00"/><path d="M342.8 1189.8L349.9 1179.0L344.6 1176.2L337.5 1186.8Z" fill="#81ff00"/><path d="M371.3 1142.3L378.4 1128.6L373.0 1126.4L365.9 1139.9Z" fill="#33ff00"/><path d="M394.5 1081.2L401.7 1064.6L396.2 1063.0L389.0 1079.5Z" fill="#00cd32"/><path d="M232.7 1237.9L240.2 1235.3L235.3 1231.5L227.9 1233.9Z" fill="#d3ff00"/><path d="M245.1 1239.3L252.5 1235.9L247.6 1232.1L240.2 1235.3Z" fill="#d5ff00"/><path d="M220.3 1235.6L227.9 1233.9L223.0 1229.9L215.5 1231.5Z" fill="#d0ff00"/><path d="M289.5 1232.6L296.7 1226.2L291.6 1222.7L284.4 1229.0Z" fill="#c8ff00"/><path d="M309.0 1222.5L316.2 1214.6L311.0 1211.3L303.9 1219.1Z" fill="#b7ff00"/><path d="M335.7 1199.8L342.8 1189.8L337.5 1186.8L330.4 1196.8Z" fill="#91ff00"/><path d="M378.4 1128.6L385.6 1114.2L380.1 1112.1L373.0 1126.4Z" fill="#1bff00"/><path d="M165.3 1213.5L173.3 1215.1L168.6 1211.0L160.6 1209.2Z" fill="#adff00"/><path d="M257.5 1239.8L264.9 1235.7L259.9 1231.9L252.5 1235.9Z" fill="#d5ff00"/><path d="M207.8 1232.5L215.5 1231.5L210.7 1227.5L203.0 1228.3Z" fill="#caff00"/><path d="M410.7 1027.6L418.0 1008.7L412.4 1007.7L405.1 1026.4Z" fill="#00728d"/><path d="M269.9 1239.5L277.2 1234.6L272.1 1230.9L264.9 1235.7Z" fill="#d3ff00"/><path d="M328.5 1209.2L335.7 1199.8L330.4 1196.8L323.3 1206.0Z" fill="#9fff00"/><path d="M385.6 1114.2L392.8 1098.9L387.3 1097.0L380.1 1112.1Z" fill="#02ff00"/><path d="M195.3 1228.5L203.0 1228.3L198.3 1224.3L190.5 1224.3Z" fill="#c3ff00"/><path d="M401.7 1064.6L408.9 1047.1L403.4 1045.7L396.2 1063.0Z" fill="#00af50"/><path d="M301.8 1229.7L309.0 1222.5L303.9 1219.1L296.7 1226.2Z" fill="#c1ff00"/><path d="M152.5 1206.7L160.6 1209.2L156.0 1205.0L147.9 1202.4Z" fill="#9fff00"/><path d="M282.2 1238.3L289.5 1232.6L284.4 1229.0L277.2 1234.6Z" fill="#cfff00"/><path d="M182.7 1223.6L190.5 1224.3L185.8 1220.1L177.9 1219.3Z" fill="#baff00"/><path d="M321.4 1217.9L328.5 1209.2L323.3 1206.0L316.2 1214.6Z" fill="#acff00"/><path d="M392.8 1098.9L400.0 1083.0L394.5 1081.2L387.3 1097.0Z" fill="#00e619"/><path d="M362.4 1170.2L369.5 1157.8L364.1 1155.2L357.0 1167.5Z" fill="#5cff00"/><path d="M355.2 1181.8L362.4 1170.2L357.0 1167.5L349.9 1179.0Z" fill="#6fff00"/><path d="M408.9 1047.1L416.3 1028.9L410.7 1027.6L403.4 1045.7Z" fill="#00906f"/><path d="M369.5 1157.8L376.7 1144.7L371.3 1142.3L364.1 1155.2Z" fill="#47ff00"/><path d="M237.6 1241.9L245.1 1239.3L240.2 1235.3L232.7 1237.9Z" fill="#d4ff00"/><path d="M225.2 1239.7L232.7 1237.9L227.9 1233.9L220.3 1235.6Z" fill="#d1ff00"/><path d="M250.1 1243.2L257.5 1239.8L252.5 1235.9L245.1 1239.3Z" fill="#d6ff00"/><path d="M348.1 1192.7L355.2 1181.8L349.9 1179.0L342.8 1189.8Z" fill="#81ff00"/><path d="M418.0 1008.7L425.4 988.9L419.7 988.0L412.4 1007.7Z" fill="#0051ae"/><path d="M376.7 1144.7L383.9 1130.9L378.4 1128.6L371.3 1142.3Z" fill="#31ff00"/><path d="M294.6 1236.2L301.8 1229.7L296.7 1226.2L289.5 1232.6Z" fill="#c9ff00"/><path d="M170.0 1217.8L177.9 1219.3L173.3 1215.1L165.3 1213.5Z" fill="#aeff00"/><path d="M314.2 1225.9L321.4 1217.9L316.2 1214.6L309.0 1222.5Z" fill="#b7ff00"/><path d="M400.0 1083.0L407.2 1066.2L401.7 1064.6L394.5 1081.2Z" fill="#00ca35"/><path d="M212.7 1236.6L220.3 1235.6L215.5 1231.5L207.8 1232.5Z" fill="#ccff00"/><path d="M262.5 1243.7L269.9 1239.5L264.9 1235.7L257.5 1239.8Z" fill="#d6ff00"/><path d="M340.9 1202.9L348.1 1192.7L342.8 1189.8L335.7 1199.8Z" fill="#91ff00"/><path d="M383.9 1130.9L391.1 1116.3L385.6 1114.2L378.4 1128.6Z" fill="#19ff00"/><path d="M200.1 1232.7L207.8 1232.5L203.0 1228.3L195.3 1228.5Z" fill="#c4ff00"/><path d="M274.9 1243.3L282.2 1238.3L277.2 1234.6L269.9 1239.5Z" fill="#d3ff00"/><path d="M333.8 1212.5L340.9 1202.9L335.7 1199.8L328.5 1209.2Z" fill="#9fff00"/><path d="M391.1 1116.3L398.3 1100.9L392.8 1098.9L385.6 1114.2Z" fill="#00ff00"/><path d="M416.3 1028.9L423.6 1009.8L418.0 1008.7L410.7 1027.6Z" fill="#006f90"/><path d="M307.0 1233.3L314.2 1225.9L309.0 1222.5L301.8 1229.7Z" fill="#c1ff00"/><path d="M407.2 1066.2L414.6 1048.6L408.9 1047.1L401.7 1064.6Z" fill="#00ad52"/><path d="M157.2 1211.1L165.3 1213.5L160.6 1209.2L152.5 1206.7Z" fill="#a1ff00"/><path d="M187.4 1227.8L195.3 1228.5L190.5 1224.3L182.7 1223.6Z" fill="#bbff00"/><path d="M287.3 1242.0L294.6 1236.2L289.5 1232.6L282.2 1238.3Z" fill="#cfff00"/><path d="M326.6 1221.3L333.8 1212.5L328.5 1209.2L321.4 1217.9Z" fill="#acff00"/><path d="M398.3 1100.9L405.5 1084.8L400.0 1083.0L392.8 1098.9Z" fill="#00e41b"/><path d="M242.6 1246.0L250.1 1243.2L245.1 1239.3L237.6 1241.9Z" fill="#d5ff00"/><path d="M230.1 1243.9L237.6 1241.9L232.7 1237.9L225.2 1239.7Z" fill="#d2ff00"/><path d="M367.8 1172.9L374.9 1160.4L369.5 1157.8L362.4 1170.2Z" fill="#5bff00"/><path d="M360.6 1184.7L367.8 1172.9L362.4 1170.2L355.2 1181.8Z" fill="#6eff00"/><path d="M255.1 1247.3L262.5 1243.7L257.5 1239.8L250.1 1243.2Z" fill="#d7ff00"/><path d="M174.7 1222.1L182.7 1223.6L177.9 1219.3L170.0 1217.8Z" fill="#b0ff00"/><path d="M374.9 1160.4L382.1 1147.2L376.7 1144.7L369.5 1157.8Z" fill="#46ff00"/><path d="M353.4 1195.7L360.6 1184.7L355.2 1181.8L348.1 1192.7Z" fill="#80ff00"/><path d="M299.7 1239.9L307.0 1233.3L301.8 1229.7L294.6 1236.2Z" fill="#c9ff00"/><path d="M217.5 1240.8L225.2 1239.7L220.3 1235.6L212.7 1236.6Z" fill="#cdff00"/><path d="M414.6 1048.6L421.9 1030.1L416.3 1028.9L408.9 1047.1Z" fill="#008d72"/><path d="M319.4 1229.4L326.6 1221.3L321.4 1217.9L314.2 1225.9Z" fill="#b7ff00"/><path d="M267.5 1247.7L274.9 1243.3L269.9 1239.5L262.5 1243.7Z" fill="#d6ff00"/><path d="M382.1 1147.2L389.4 1133.2L383.9 1130.9L376.7 1144.7Z" fill="#2fff00"/><path d="M423.6 1009.8L431.0 989.8L425.4 988.9L418.0 1008.7Z" fill="#004db2"/><path d="M405.5 1084.8L412.9 1067.8L407.2 1066.2L400.0 1083.0Z" fill="#00c837"/><path d="M346.3 1206.1L353.4 1195.7L348.1 1192.7L340.9 1202.9Z" fill="#90ff00"/><path d="M204.9 1237.0L212.7 1236.6L207.8 1232.5L200.1 1232.7Z" fill="#c6ff00"/><path d="M389.4 1133.2L396.6 1118.4L391.1 1116.3L383.9 1130.9Z" fill="#18ff00"/><path d="M280.0 1247.2L287.3 1242.0L282.2 1238.3L274.9 1243.3Z" fill="#d4ff00"/><path d="M339.1 1215.7L346.3 1206.1L340.9 1202.9L333.8 1212.5Z" fill="#9fff00"/><path d="M161.9 1215.5L170.0 1217.8L165.3 1213.5L157.2 1211.1Z" fill="#a3ff00"/><path d="M312.2 1236.9L319.4 1229.4L314.2 1225.9L307.0 1233.3Z" fill="#c1ff00"/><path d="M192.2 1232.2L200.1 1232.7L195.3 1228.5L187.4 1227.8Z" fill="#bdff00"/><path d="M396.6 1118.4L403.9 1102.9L398.3 1100.9L391.1 1116.3Z" fill="#00fd02"/><path d="M292.4 1245.8L299.7 1239.9L294.6 1236.2L287.3 1242.0Z" fill="#d0ff00"/><path d="M421.9 1030.1L429.3 1010.8L423.6 1009.8L416.3 1028.9Z" fill="#006c93"/><path d="M412.9 1067.8L420.2 1050.0L414.6 1048.6L407.2 1066.2Z" fill="#00aa55"/><path d="M331.9 1224.7L339.1 1215.7L333.8 1212.5L326.6 1221.3Z" fill="#acff00"/><path d="M247.6 1250.1L255.1 1247.3L250.1 1243.2L242.6 1246.0Z" fill="#d7ff00"/><path d="M235.0 1248.1L242.6 1246.0L237.6 1241.9L230.1 1243.9Z" fill="#d3ff00"/><path d="M403.9 1102.9L411.2 1086.6L405.5 1084.8L398.3 1100.9Z" fill="#00e21d"/><path d="M179.5 1226.5L187.4 1227.8L182.7 1223.6L174.7 1222.1Z" fill="#b2ff00"/><path d="M260.1 1251.3L267.5 1247.7L262.5 1243.7L255.1 1247.3Z" fill="#d8ff00"/><path d="M222.4 1245.1L230.1 1243.9L225.2 1239.7L217.5 1240.8Z" fill="#ceff00"/><path d="M373.2 1175.7L380.4 1163.0L374.9 1160.4L367.8 1172.9Z" fill="#5aff00"/><path d="M366.0 1187.6L373.2 1175.7L367.8 1172.9L360.6 1184.7Z" fill="#6dff00"/><path d="M304.9 1243.6L312.2 1236.9L307.0 1233.3L299.7 1239.9Z" fill="#c9ff00"/><path d="M380.4 1163.0L387.6 1149.7L382.1 1147.2L374.9 1160.4Z" fill="#45ff00"/><path d="M272.6 1251.7L280.0 1247.2L274.9 1243.3L267.5 1247.7Z" fill="#d7ff00"/><path d="M358.8 1198.8L366.0 1187.6L360.6 1184.7L353.4 1195.7Z" fill="#7fff00"/><path d="M324.7 1233.0L331.9 1224.7L326.6 1221.3L319.4 1229.4Z" fill="#b7ff00"/><path d="M420.2 1050.0L427.6 1031.4L421.9 1030.1L414.6 1048.6Z" fill="#008a75"/><path d="M209.8 1241.3L217.5 1240.8L212.7 1236.6L204.9 1237.0Z" fill="#c8ff00"/><path d="M387.6 1149.7L394.9 1135.5L389.4 1133.2L382.1 1147.2Z" fill="#2eff00"/><path d="M351.6 1209.3L358.8 1198.8L353.4 1195.7L346.3 1206.1Z" fill="#8fff00"/><path d="M411.2 1086.6L418.5 1069.5L412.9 1067.8L405.5 1084.8Z" fill="#00c53a"/><path d="M285.1 1251.1L292.4 1245.8L287.3 1242.0L280.0 1247.2Z" fill="#d5ff00"/><path d="M429.3 1010.8L436.8 990.7L431.0 989.8L423.6 1009.8Z" fill="#004ab5"/><path d="M166.6 1220.0L174.7 1222.1L170.0 1217.8L161.9 1215.5Z" fill="#a5ff00"/><path d="M394.9 1135.5L402.2 1120.6L396.6 1118.4L389.4 1133.2Z" fill="#16ff00"/><path d="M344.4 1219.1L351.6 1209.3L346.3 1206.1L339.1 1215.7Z" fill="#9eff00"/><path d="M197.1 1236.6L204.9 1237.0L200.1 1232.7L192.2 1232.2Z" fill="#bfff00"/><path d="M317.4 1240.5L324.7 1233.0L319.4 1229.4L312.2 1236.9Z" fill="#c1ff00"/><path d="M297.6 1249.7L304.9 1243.6L299.7 1239.9L292.4 1245.8Z" fill="#d0ff00"/><path d="M402.2 1120.6L409.5 1104.9L403.9 1102.9L396.6 1118.4Z" fill="#00fb04"/><path d="M337.2 1228.1L344.4 1219.1L339.1 1215.7L331.9 1224.7Z" fill="#acff00"/><path d="M418.5 1069.5L425.9 1051.5L420.2 1050.0L412.9 1067.8Z" fill="#00a758"/><path d="M427.6 1031.4L435.1 1012.0L429.3 1010.8L421.9 1030.1Z" fill="#006996"/><path d="M252.6 1254.3L260.1 1251.3L255.1 1247.3L247.6 1250.1Z" fill="#d8ff00"/><path d="M240.0 1252.3L247.6 1250.1L242.6 1246.0L235.0 1248.1Z" fill="#d5ff00"/><path d="M184.3 1231.0L192.2 1232.2L187.4 1227.8L179.5 1226.5Z" fill="#b4ff00"/><path d="M265.2 1255.4L272.6 1251.7L267.5 1247.7L260.1 1251.3Z" fill="#d9ff00"/><path d="M227.4 1249.4L235.0 1248.1L230.1 1243.9L222.4 1245.1Z" fill="#d0ff00"/><path d="M409.5 1104.9L416.8 1088.5L411.2 1086.6L403.9 1102.9Z" fill="#00e01f"/><path d="M310.1 1247.4L317.4 1240.5L312.2 1236.9L304.9 1243.6Z" fill="#caff00"/><path d="M277.7 1255.7L285.1 1251.1L280.0 1247.2L272.6 1251.7Z" fill="#d8ff00"/><path d="M371.5 1190.6L378.7 1178.5L373.2 1175.7L366.0 1187.6Z" fill="#6cff00"/><path d="M378.7 1178.5L385.9 1165.7L380.4 1163.0L373.2 1175.7Z" fill="#58ff00"/><path d="M330.0 1236.5L337.2 1228.1L331.9 1224.7L324.7 1233.0Z" fill="#b7ff00"/><path d="M214.7 1245.7L222.4 1245.1L217.5 1240.8L209.8 1241.3Z" fill="#c9ff00"/><path d="M364.2 1201.9L371.5 1190.6L366.0 1187.6L358.8 1198.8Z" fill="#7eff00"/><path d="M385.9 1165.7L393.2 1152.2L387.6 1149.7L380.4 1163.0Z" fill="#43ff00"/><path d="M357.0 1212.5L364.2 1201.9L358.8 1198.8L351.6 1209.3Z" fill="#8fff00"/><path d="M393.2 1152.2L400.5 1137.9L394.9 1135.5L387.6 1149.7Z" fill="#2cff00"/><path d="M290.3 1255.1L297.6 1249.7L292.4 1245.8L285.1 1251.1Z" fill="#d5ff00"/><path d="M171.4 1224.5L179.5 1226.5L174.7 1222.1L166.6 1220.0Z" fill="#a7ff00"/><path d="M425.9 1051.5L433.4 1032.8L427.6 1031.4L420.2 1050.0Z" fill="#008877"/><path d="M201.9 1241.0L209.8 1241.3L204.9 1237.0L197.1 1236.6Z" fill="#c1ff00"/><path d="M416.8 1088.5L424.2 1071.2L418.5 1069.5L411.2 1086.6Z" fill="#00c33c"/><path d="M435.1 1012.0L442.6 991.6L436.8 990.7L429.3 1010.8Z" fill="#0047b8"/><path d="M349.8 1222.4L357.0 1212.5L351.6 1209.3L344.4 1219.1Z" fill="#9eff00"/><path d="M400.5 1137.9L407.8 1122.8L402.2 1120.6L394.9 1135.5Z" fill="#14ff00"/><path d="M322.7 1244.2L330.0 1236.5L324.7 1233.0L317.4 1240.5Z" fill="#c2ff00"/><path d="M302.8 1253.6L310.1 1247.4L304.9 1243.6L297.6 1249.7Z" fill="#d1ff00"/><path d="M189.1 1235.5L197.1 1236.6L192.2 1232.2L184.3 1231.0Z" fill="#b6ff00"/><path d="M342.5 1231.6L349.8 1222.4L344.4 1219.1L337.2 1228.1Z" fill="#abff00"/><path d="M407.8 1122.8L415.1 1107.0L409.5 1104.9L402.2 1120.6Z" fill="#00f906"/><path d="M257.6 1258.5L265.2 1255.4L260.1 1251.3L252.6 1254.3Z" fill="#d9ff00"/><path d="M245.0 1256.6L252.6 1254.3L247.6 1250.1L240.0 1252.3Z" fill="#d6ff00"/><path d="M270.3 1259.6L277.7 1255.7L272.6 1251.7L265.2 1255.4Z" fill="#daff00"/><path d="M232.3 1253.8L240.0 1252.3L235.0 1248.1L227.4 1249.4Z" fill="#d2ff00"/><path d="M424.2 1071.2L431.7 1053.1L425.9 1051.5L418.5 1069.5Z" fill="#00a55a"/><path d="M433.4 1032.8L440.9 1013.1L435.1 1012.0L427.6 1031.4Z" fill="#006798"/><path d="M282.9 1259.8L290.3 1255.1L285.1 1251.1L277.7 1255.7Z" fill="#d9ff00"/><path d="M315.4 1251.2L322.7 1244.2L317.4 1240.5L310.1 1247.4Z" fill="#caff00"/><path d="M219.6 1250.1L227.4 1249.4L222.4 1245.1L214.7 1245.7Z" fill="#cbff00"/><path d="M335.3 1240.2L342.5 1231.6L337.2 1228.1L330.0 1236.5Z" fill="#b7ff00"/><path d="M377.0 1193.6L384.2 1181.4L378.7 1178.5L371.5 1190.6Z" fill="#6bff00"/><path d="M415.1 1107.0L422.5 1090.4L416.8 1088.5L409.5 1104.9Z" fill="#00de21"/><path d="M384.2 1181.4L391.5 1168.4L385.9 1165.7L378.7 1178.5Z" fill="#57ff00"/><path d="M369.7 1205.0L377.0 1193.6L371.5 1190.6L364.2 1201.9Z" fill="#7eff00"/><path d="M391.5 1168.4L398.8 1154.7L393.2 1152.2L385.9 1165.7Z" fill="#42ff00"/><path d="M176.2 1229.0L184.3 1231.0L179.5 1226.5L171.4 1224.5Z" fill="#aaff00"/><path d="M295.5 1259.1L302.8 1253.6L297.6 1249.7L290.3 1255.1Z" fill="#d6ff00"/><path d="M362.5 1215.8L369.7 1205.0L364.2 1201.9L357.0 1212.5Z" fill="#8eff00"/><path d="M206.8 1245.5L214.7 1245.7L209.8 1241.3L201.9 1241.0Z" fill="#c2ff00"/><path d="M398.8 1154.7L406.1 1140.3L400.5 1137.9L393.2 1152.2Z" fill="#2bff00"/><path d="M431.7 1053.1L439.2 1034.1L433.4 1032.8L425.9 1051.5Z" fill="#00857a"/><path d="M355.2 1225.8L362.5 1215.8L357.0 1212.5L349.8 1222.4Z" fill="#9eff00"/><path d="M328.0 1248.0L335.3 1240.2L330.0 1236.5L322.7 1244.2Z" fill="#c2ff00"/><path d="M422.5 1090.4L430.0 1072.9L424.2 1071.2L416.8 1088.5Z" fill="#00c13e"/><path d="M406.1 1140.3L413.5 1125.1L407.8 1122.8L400.5 1137.9Z" fill="#13ff00"/><path d="M308.1 1257.6L315.4 1251.2L310.1 1247.4L302.8 1253.6Z" fill="#d1ff00"/><path d="M440.9 1013.1L448.4 992.6L442.6 991.6L435.1 1012.0Z" fill="#0044bb"/><path d="M193.9 1240.0L201.9 1241.0L197.1 1236.6L189.1 1235.5Z" fill="#b8ff00"/><path d="M262.7 1262.8L270.3 1259.6L265.2 1255.4L257.6 1258.5Z" fill="#daff00"/><path d="M250.1 1260.9L257.6 1258.5L252.6 1254.3L245.0 1256.6Z" fill="#d8ff00"/><path d="M347.9 1235.2L355.2 1225.8L349.8 1222.4L342.5 1231.6Z" fill="#abff00"/><path d="M275.4 1263.8L282.9 1259.8L277.7 1255.7L270.3 1259.6Z" fill="#dbff00"/><path d="M237.3 1258.2L245.0 1256.6L240.0 1252.3L232.3 1253.8Z" fill="#d3ff00"/><path d="M413.5 1125.1L420.8 1109.1L415.1 1107.0L407.8 1122.8Z" fill="#00f708"/><path d="M288.0 1263.9L295.5 1259.1L290.3 1255.1L282.9 1259.8Z" fill="#daff00"/><path d="M224.6 1254.5L232.3 1253.8L227.4 1249.4L219.6 1250.1Z" fill="#cdff00"/><path d="M320.7 1255.1L328.0 1248.0L322.7 1244.2L315.4 1251.2Z" fill="#cbff00"/><path d="M430.0 1072.9L437.4 1054.6L431.7 1053.1L424.2 1071.2Z" fill="#00a25d"/><path d="M439.2 1034.1L446.7 1014.3L440.9 1013.1L433.4 1032.8Z" fill="#00649b"/><path d="M181.0 1233.6L189.1 1235.5L184.3 1231.0L176.2 1229.0Z" fill="#acff00"/><path d="M340.7 1243.8L347.9 1235.2L342.5 1231.6L335.3 1240.2Z" fill="#b8ff00"/><path d="M382.5 1196.6L389.8 1184.3L384.2 1181.4L377.0 1193.6Z" fill="#6aff00"/><path d="M389.8 1184.3L397.1 1171.2L391.5 1168.4L384.2 1181.4Z" fill="#56ff00"/><path d="M375.2 1208.2L382.5 1196.6L377.0 1193.6L369.7 1205.0Z" fill="#7dff00"/><path d="M420.8 1109.1L428.3 1092.3L422.5 1090.4L415.1 1107.0Z" fill="#00dc23"/><path d="M300.7 1263.2L308.1 1257.6L302.8 1253.6L295.5 1259.1Z" fill="#d7ff00"/><path d="M211.7 1250.0L219.6 1250.1L214.7 1245.7L206.8 1245.5Z" fill="#c4ff00"/><path d="M397.1 1171.2L404.4 1157.4L398.8 1154.7L391.5 1168.4Z" fill="#41ff00"/><path d="M368.0 1219.1L375.2 1208.2L369.7 1205.0L362.5 1215.8Z" fill="#8eff00"/><path d="M404.4 1157.4L411.8 1142.8L406.1 1140.3L398.8 1154.7Z" fill="#2aff00"/><path d="M360.7 1229.3L368.0 1219.1L362.5 1215.8L355.2 1225.8Z" fill="#9dff00"/><path d="M333.4 1251.8L340.7 1243.8L335.3 1240.2L328.0 1248.0Z" fill="#c2ff00"/><path d="M313.4 1261.6L320.7 1255.1L315.4 1251.2L308.1 1257.6Z" fill="#d2ff00"/><path d="M437.4 1054.6L445.0 1035.5L439.2 1034.1L431.7 1053.1Z" fill="#00827d"/><path d="M198.8 1244.6L206.8 1245.5L201.9 1241.0L193.9 1240.0Z" fill="#baff00"/><path d="M428.3 1092.3L435.8 1074.7L430.0 1072.9L422.5 1090.4Z" fill="#00bf40"/><path d="M411.8 1142.8L419.2 1127.4L413.5 1125.1L406.1 1140.3Z" fill="#11ff00"/><path d="M255.1 1265.3L262.7 1262.8L257.6 1258.5L250.1 1260.9Z" fill="#d9ff00"/><path d="M267.9 1267.1L275.4 1263.8L270.3 1259.6L262.7 1262.8Z" fill="#dcff00"/><path d="M242.4 1262.6L250.1 1260.9L245.0 1256.6L237.3 1258.2Z" fill="#d5ff00"/><path d="M280.6 1268.1L288.0 1263.9L282.9 1259.8L275.4 1263.8Z" fill="#dcff00"/><path d="M446.7 1014.3L454.3 993.6L448.4 992.6L440.9 1013.1Z" fill="#0041be"/><path d="M353.4 1238.8L360.7 1229.3L355.2 1225.8L347.9 1235.2Z" fill="#abff00"/><path d="M229.6 1259.1L237.3 1258.2L232.3 1253.8L224.6 1254.5Z" fill="#ceff00"/><path d="M293.3 1268.1L300.7 1263.2L295.5 1259.1L288.0 1263.9Z" fill="#dbff00"/><path d="M419.2 1127.4L426.6 1111.2L420.8 1109.1L413.5 1125.1Z" fill="#00f609"/><path d="M326.0 1259.0L333.4 1251.8L328.0 1248.0L320.7 1255.1Z" fill="#cbff00"/><path d="M185.9 1238.3L193.9 1240.0L189.1 1235.5L181.0 1233.6Z" fill="#aeff00"/><path d="M346.1 1247.5L353.4 1238.8L347.9 1235.2L340.7 1243.8Z" fill="#b8ff00"/><path d="M435.8 1074.7L443.3 1056.2L437.4 1054.6L430.0 1072.9Z" fill="#00a05f"/><path d="M216.7 1254.6L224.6 1254.5L219.6 1250.1L211.7 1250.0Z" fill="#c6ff00"/><path d="M388.1 1199.7L395.4 1187.2L389.8 1184.3L382.5 1196.6Z" fill="#6aff00"/><path d="M306.0 1267.3L313.4 1261.6L308.1 1257.6L300.7 1263.2Z" fill="#d8ff00"/><path d="M445.0 1035.5L452.6 1015.5L446.7 1014.3L439.2 1034.1Z" fill="#00619e"/><path d="M395.4 1187.2L402.8 1174.0L397.1 1171.2L389.8 1184.3Z" fill="#55ff00"/><path d="M380.8 1211.4L388.1 1199.7L382.5 1196.6L375.2 1208.2Z" fill="#7cff00"/><path d="M426.6 1111.2L434.1 1094.3L428.3 1092.3L420.8 1109.1Z" fill="#00da25"/><path d="M402.8 1174.0L410.1 1160.0L404.4 1157.4L397.1 1171.2Z" fill="#40ff00"/><path d="M373.5 1222.5L380.8 1211.4L375.2 1208.2L368.0 1219.1Z" fill="#8eff00"/><path d="M410.1 1160.0L417.5 1145.3L411.8 1142.8L404.4 1157.4Z" fill="#28ff00"/><path d="M203.8 1249.2L211.7 1250.0L206.8 1245.5L198.8 1244.6Z" fill="#bcff00"/><path d="M338.8 1255.6L346.1 1247.5L340.7 1243.8L333.4 1251.8Z" fill="#c2ff00"/><path d="M366.2 1232.8L373.5 1222.5L368.0 1219.1L360.7 1229.3Z" fill="#9dff00"/><path d="M318.7 1265.6L326.0 1259.0L320.7 1255.1L313.4 1261.6Z" fill="#d3ff00"/><path d="M260.3 1269.8L267.9 1267.1L262.7 1262.8L255.1 1265.3Z" fill="#dbff00"/><path d="M273.0 1271.5L280.6 1268.1L275.4 1263.8L267.9 1267.1Z" fill="#ddff00"/><path d="M247.5 1267.2L255.1 1265.3L250.1 1260.9L242.4 1262.6Z" fill="#d6ff00"/><path d="M443.3 1056.2L450.9 1036.9L445.0 1035.5L437.4 1054.6Z" fill="#00807f"/><path d="M285.8 1272.4L293.3 1268.1L288.0 1263.9L280.6 1268.1Z" fill="#ddff00"/><path d="M417.5 1145.3L424.9 1129.7L419.2 1127.4L411.8 1142.8Z" fill="#0fff00"/><path d="M434.1 1094.3L441.6 1076.5L435.8 1074.7L428.3 1092.3Z" fill="#00bd42"/><path d="M358.9 1242.4L366.2 1232.8L360.7 1229.3L353.4 1238.8Z" fill="#abff00"/><path d="M234.6 1263.6L242.4 1262.6L237.3 1258.2L229.6 1259.1Z" fill="#d0ff00"/><path d="M298.5 1272.4L306.0 1267.3L300.7 1263.2L293.3 1268.1Z" fill="#dcff00"/><path d="M452.6 1015.5L460.3 994.6L454.3 993.6L446.7 1014.3Z" fill="#003ec1"/><path d="M190.8 1243.0L198.8 1244.6L193.9 1240.0L185.9 1238.3Z" fill="#b0ff00"/><path d="M331.4 1263.0L338.8 1255.6L333.4 1251.8L326.0 1259.0Z" fill="#ccff00"/><path d="M424.9 1129.7L432.4 1113.4L426.6 1111.2L419.2 1127.4Z" fill="#00f40b"/><path d="M221.7 1259.2L229.6 1259.1L224.6 1254.5L216.7 1254.6Z" fill="#c8ff00"/><path d="M351.6 1251.3L358.9 1242.4L353.4 1238.8L346.1 1247.5Z" fill="#b8ff00"/><path d="M311.3 1271.5L318.7 1265.6L313.4 1261.6L306.0 1267.3Z" fill="#d9ff00"/><path d="M393.7 1202.8L401.1 1190.2L395.4 1187.2L388.1 1199.7Z" fill="#69ff00"/><path d="M441.6 1076.5L449.2 1057.9L443.3 1056.2L435.8 1074.7Z" fill="#009e61"/><path d="M386.4 1214.7L393.7 1202.8L388.1 1199.7L380.8 1211.4Z" fill="#7cff00"/><path d="M401.1 1190.2L408.5 1176.8L402.8 1174.0L395.4 1187.2Z" fill="#54ff00"/><path d="M450.9 1036.9L458.6 1016.7L452.6 1015.5L445.0 1035.5Z" fill="#005ea1"/><path d="M379.1 1225.9L386.4 1214.7L380.8 1211.4L373.5 1222.5Z" fill="#8dff00"/><path d="M408.5 1176.8L415.9 1162.7L410.1 1160.0L402.8 1174.0Z" fill="#3eff00"/><path d="M432.4 1113.4L439.9 1096.3L434.1 1094.3L426.6 1111.2Z" fill="#00d827"/><path d="M208.8 1253.9L216.7 1254.6L211.7 1250.0L203.8 1249.2Z" fill="#beff00"/><path d="M344.2 1259.5L351.6 1251.3L346.1 1247.5L338.8 1255.6Z" fill="#c3ff00"/><path d="M324.1 1269.7L331.4 1263.0L326.0 1259.0L318.7 1265.6Z" fill="#d3ff00"/><path d="M265.4 1274.3L273.0 1271.5L267.9 1267.1L260.3 1269.8Z" fill="#dcff00"/><path d="M371.7 1236.3L379.1 1225.9L373.5 1222.5L366.2 1232.8Z" fill="#9dff00"/><path d="M415.9 1162.7L423.3 1147.8L417.5 1145.3L410.1 1160.0Z" fill="#27ff00"/><path d="M278.2 1276.0L285.8 1272.4L280.6 1268.1L273.0 1271.5Z" fill="#deff00"/><path d="M252.6 1271.7L260.3 1269.8L255.1 1265.3L247.5 1267.2Z" fill="#d8ff00"/><path d="M291.0 1276.8L298.5 1272.4L293.3 1268.1L285.8 1272.4Z" fill="#dfff00"/><path d="M239.7 1268.3L247.5 1267.2L242.4 1262.6L234.6 1263.6Z" fill="#d2ff00"/><path d="M364.4 1246.1L371.7 1236.3L366.2 1232.8L358.9 1242.4Z" fill="#abff00"/><path d="M423.3 1147.8L430.8 1132.1L424.9 1129.7L417.5 1145.3Z" fill="#0eff00"/><path d="M195.7 1247.7L203.8 1249.2L198.8 1244.6L190.8 1243.0Z" fill="#b3ff00"/><path d="M449.2 1057.9L456.8 1038.4L450.9 1036.9L443.3 1056.2Z" fill="#007d82"/><path d="M439.9 1096.3L447.5 1078.3L441.6 1076.5L434.1 1094.3Z" fill="#00ba45"/><path d="M303.8 1276.7L311.3 1271.5L306.0 1267.3L298.5 1272.4Z" fill="#ddff00"/><path d="M336.9 1267.0L344.2 1259.5L338.8 1255.6L331.4 1263.0Z" fill="#ccff00"/><path d="M226.8 1263.9L234.6 1263.6L229.6 1259.1L221.7 1259.2Z" fill="#caff00"/><path d="M458.6 1016.7L466.3 995.6L460.3 994.6L452.6 1015.5Z" fill="#003bc4"/><path d="M357.1 1255.1L364.4 1246.1L358.9 1242.4L351.6 1251.3Z" fill="#b8ff00"/><path d="M430.8 1132.1L438.3 1115.6L432.4 1113.4L424.9 1129.7Z" fill="#00f20d"/><path d="M316.6 1275.7L324.1 1269.7L318.7 1265.6L311.3 1271.5Z" fill="#daff00"/><path d="M399.4 1206.0L406.8 1193.2L401.1 1190.2L393.7 1202.8Z" fill="#68ff00"/><path d="M392.0 1218.0L399.4 1206.0L393.7 1202.8L386.4 1214.7Z" fill="#7bff00"/><path d="M213.8 1258.7L221.7 1259.2L216.7 1254.6L208.8 1253.9Z" fill="#c1ff00"/><path d="M406.8 1193.2L414.2 1179.7L408.5 1176.8L401.1 1190.2Z" fill="#54ff00"/><path d="M447.5 1078.3L455.1 1059.5L449.2 1057.9L441.6 1076.5Z" fill="#009b64"/><path d="M384.7 1229.3L392.0 1218.0L386.4 1214.7L379.1 1225.9Z" fill="#8dff00"/><path d="M414.2 1179.7L421.6 1165.4L415.9 1162.7L408.5 1176.8Z" fill="#3dff00"/><path d="M456.8 1038.4L464.6 1018.0L458.6 1016.7L450.9 1036.9Z" fill="#005ba4"/><path d="M270.6 1278.8L278.2 1276.0L273.0 1271.5L265.4 1274.3Z" fill="#deff00"/><path d="M349.7 1263.4L357.1 1255.1L351.6 1251.3L344.2 1259.5Z" fill="#c3ff00"/><path d="M329.5 1273.8L336.9 1267.0L331.4 1263.0L324.1 1269.7Z" fill="#d4ff00"/><path d="M438.3 1115.6L445.8 1098.3L439.9 1096.3L432.4 1113.4Z" fill="#00d629"/><path d="M283.5 1280.4L291.0 1276.8L285.8 1272.4L278.2 1276.0Z" fill="#e0ff00"/><path d="M257.8 1276.3L265.4 1274.3L260.3 1269.8L252.6 1271.7Z" fill="#daff00"/><path d="M377.3 1239.9L384.7 1229.3L379.1 1225.9L371.7 1236.3Z" fill="#9dff00"/><path d="M296.3 1281.2L303.8 1276.7L298.5 1272.4L291.0 1276.8Z" fill="#e0ff00"/><path d="M421.6 1165.4L429.1 1150.4L423.3 1147.8L415.9 1162.7Z" fill="#26ff00"/><path d="M244.8 1272.9L252.6 1271.7L247.5 1267.2L239.7 1268.3Z" fill="#d4ff00"/><path d="M200.7 1252.5L208.8 1253.9L203.8 1249.2L195.7 1247.7Z" fill="#b5ff00"/><path d="M370.0 1249.8L377.3 1239.9L371.7 1236.3L364.4 1246.1Z" fill="#abff00"/><path d="M309.2 1281.0L316.6 1275.7L311.3 1271.5L303.8 1276.7Z" fill="#deff00"/><path d="M429.1 1150.4L436.6 1134.5L430.8 1132.1L423.3 1147.8Z" fill="#0cff00"/><path d="M231.8 1268.7L239.7 1268.3L234.6 1263.6L226.8 1263.9Z" fill="#ccff00"/><path d="M342.3 1271.1L349.7 1263.4L344.2 1259.5L336.9 1267.0Z" fill="#cdff00"/><path d="M455.1 1059.5L462.8 1039.9L456.8 1038.4L449.2 1057.9Z" fill="#007b84"/><path d="M445.8 1098.3L453.5 1080.2L447.5 1078.3L439.9 1096.3Z" fill="#00b847"/><path d="M322.0 1280.0L329.5 1273.8L324.1 1269.7L316.6 1275.7Z" fill="#dbff00"/><path d="M362.6 1259.0L370.0 1249.8L364.4 1246.1L357.1 1255.1Z" fill="#b8ff00"/><path d="M464.6 1018.0L472.4 996.7L466.3 995.6L458.6 1016.7Z" fill="#0038c7"/><path d="M436.6 1134.5L444.2 1117.9L438.3 1115.6L430.8 1132.1Z" fill="#00f00f"/><path d="M218.8 1263.5L226.8 1263.9L221.7 1259.2L213.8 1258.7Z" fill="#c3ff00"/><path d="M405.1 1209.2L412.5 1196.3L406.8 1193.2L399.4 1206.0Z" fill="#68ff00"/><path d="M397.7 1221.4L405.1 1209.2L399.4 1206.0L392.0 1218.0Z" fill="#7bff00"/><path d="M412.5 1196.3L420.0 1182.6L414.2 1179.7L406.8 1193.2Z" fill="#53ff00"/><path d="M275.9 1283.4L283.5 1280.4L278.2 1276.0L270.6 1278.8Z" fill="#dfff00"/><path d="M390.3 1232.8L397.7 1221.4L392.0 1218.0L384.7 1229.3Z" fill="#8dff00"/><path d="M288.8 1285.0L296.3 1281.2L291.0 1276.8L283.5 1280.4Z" fill="#e1ff00"/><path d="M262.9 1281.0L270.6 1278.8L265.4 1274.3L257.8 1276.3Z" fill="#dcff00"/><path d="M334.9 1278.0L342.3 1271.1L336.9 1267.0L329.5 1273.8Z" fill="#d5ff00"/><path d="M355.2 1267.4L362.6 1259.0L357.1 1255.1L349.7 1263.4Z" fill="#c4ff00"/><path d="M453.5 1080.2L461.1 1061.2L455.1 1059.5L447.5 1078.3Z" fill="#009966"/><path d="M420.0 1182.6L427.5 1168.2L421.6 1165.4L414.2 1179.7Z" fill="#3cff00"/><path d="M301.7 1285.6L309.2 1281.0L303.8 1276.7L296.3 1281.2Z" fill="#e1ff00"/><path d="M383.0 1243.6L390.3 1232.8L384.7 1229.3L377.3 1239.9Z" fill="#9dff00"/><path d="M444.2 1117.9L451.8 1100.4L445.8 1098.3L438.3 1115.6Z" fill="#00d42b"/><path d="M250.0 1277.7L257.8 1276.3L252.6 1271.7L244.8 1272.9Z" fill="#d6ff00"/><path d="M462.8 1039.9L470.6 1019.3L464.6 1018.0L456.8 1038.4Z" fill="#0058a7"/><path d="M205.7 1257.4L213.8 1258.7L208.8 1253.9L200.7 1252.5Z" fill="#b7ff00"/><path d="M427.5 1168.2L435.0 1153.0L429.1 1150.4L421.6 1165.4Z" fill="#24ff00"/><path d="M314.6 1285.4L322.0 1280.0L316.6 1275.7L309.2 1281.0Z" fill="#dfff00"/><path d="M375.6 1253.6L383.0 1243.6L377.3 1239.9L370.0 1249.8Z" fill="#acff00"/><path d="M237.0 1273.5L244.8 1272.9L239.7 1268.3L231.8 1268.7Z" fill="#ceff00"/><path d="M347.8 1275.2L355.2 1267.4L349.7 1263.4L342.3 1271.1Z" fill="#ceff00"/><path d="M435.0 1153.0L442.5 1137.0L436.6 1134.5L429.1 1150.4Z" fill="#0bff00"/><path d="M451.8 1100.4L459.5 1082.1L453.5 1080.2L445.8 1098.3Z" fill="#00b649"/><path d="M327.5 1284.3L334.9 1278.0L329.5 1273.8L322.0 1280.0Z" fill="#dcff00"/><path d="M461.1 1061.2L468.9 1041.4L462.8 1039.9L455.1 1059.5Z" fill="#007887"/><path d="M368.2 1262.9L375.6 1253.6L370.0 1249.8L362.6 1259.0Z" fill="#b9ff00"/><path d="M223.9 1268.3L231.8 1268.7L226.8 1263.9L218.8 1263.5Z" fill="#c5ff00"/><path d="M442.5 1137.0L450.1 1120.2L444.2 1117.9L436.6 1134.5Z" fill="#00ef10"/><path d="M470.6 1019.3L478.5 997.8L472.4 996.7L464.6 1018.0Z" fill="#0035ca"/><path d="M281.2 1288.1L288.8 1285.0L283.5 1280.4L275.9 1283.4Z" fill="#e1ff00"/><path d="M410.9 1212.5L418.3 1199.4L412.5 1196.3L405.1 1209.2Z" fill="#67ff00"/><path d="M403.5 1224.8L410.9 1212.5L405.1 1209.2L397.7 1221.4Z" fill="#7aff00"/><path d="M294.1 1289.6L301.7 1285.6L296.3 1281.2L288.8 1285.0Z" fill="#e3ff00"/><path d="M268.2 1285.7L275.9 1283.4L270.6 1278.8L262.9 1281.0Z" fill="#deff00"/><path d="M418.3 1199.4L425.8 1185.6L420.0 1182.6L412.5 1196.3Z" fill="#52ff00"/><path d="M340.4 1282.3L347.8 1275.2L342.3 1271.1L334.9 1278.0Z" fill="#d6ff00"/><path d="M396.0 1236.4L403.5 1224.8L397.7 1221.4L390.3 1232.8Z" fill="#8cff00"/><path d="M360.8 1271.5L368.2 1262.9L362.6 1259.0L355.2 1267.4Z" fill="#c4ff00"/><path d="M307.0 1290.1L314.6 1285.4L309.2 1281.0L301.7 1285.6Z" fill="#e3ff00"/><path d="M255.2 1282.5L262.9 1281.0L257.8 1276.3L250.0 1277.7Z" fill="#d8ff00"/><path d="M210.7 1262.3L218.8 1263.5L213.8 1258.7L205.7 1257.4Z" fill="#baff00"/><path d="M425.8 1185.6L433.3 1171.0L427.5 1168.2L420.0 1182.6Z" fill="#3bff00"/><path d="M388.6 1247.3L396.0 1236.4L390.3 1232.8L383.0 1243.6Z" fill="#9dff00"/><path d="M459.5 1082.1L467.2 1063.0L461.1 1061.2L453.5 1080.2Z" fill="#009768"/><path d="M450.1 1120.2L457.8 1102.6L451.8 1100.4L444.2 1117.9Z" fill="#00d22d"/><path d="M320.0 1289.8L327.5 1284.3L322.0 1280.0L314.6 1285.4Z" fill="#e1ff00"/><path d="M242.1 1278.3L250.0 1277.7L244.8 1272.9L237.0 1273.5Z" fill="#d1ff00"/><path d="M468.9 1041.4L476.7 1020.6L470.6 1019.3L462.8 1039.9Z" fill="#0056a9"/><path d="M433.3 1171.0L440.9 1155.7L435.0 1153.0L427.5 1168.2Z" fill="#23ff00"/><path d="M381.2 1257.4L388.6 1247.3L383.0 1243.6L375.6 1253.6Z" fill="#acff00"/><path d="M353.4 1279.4L360.8 1271.5L355.2 1267.4L347.8 1275.2Z" fill="#ceff00"/><path d="M440.9 1155.7L448.5 1139.5L442.5 1137.0L435.0 1153.0Z" fill="#09ff00"/><path d="M332.9 1288.7L340.4 1282.3L334.9 1278.0L327.5 1284.3Z" fill="#ddff00"/><path d="M229.0 1273.2L237.0 1273.5L231.8 1268.7L223.9 1268.3Z" fill="#c7ff00"/><path d="M373.8 1266.8L381.2 1257.4L375.6 1253.6L368.2 1262.9Z" fill="#b9ff00"/><path d="M457.8 1102.6L465.5 1084.1L459.5 1082.1L451.8 1100.4Z" fill="#00b44b"/><path d="M467.2 1063.0L475.0 1042.9L468.9 1041.4L461.1 1061.2Z" fill="#007689"/><path d="M286.5 1292.8L294.1 1289.6L288.8 1285.0L281.2 1288.1Z" fill="#e3ff00"/><path d="M273.5 1290.5L281.2 1288.1L275.9 1283.4L268.2 1285.7Z" fill="#dfff00"/><path d="M299.5 1294.2L307.0 1290.1L301.7 1285.6L294.1 1289.6Z" fill="#e4ff00"/><path d="M448.5 1139.5L456.1 1122.5L450.1 1120.2L442.5 1137.0Z" fill="#00ed12"/><path d="M409.2 1228.3L416.7 1215.8L410.9 1212.5L403.5 1224.8Z" fill="#7aff00"/><path d="M416.7 1215.8L424.2 1202.6L418.3 1199.4L410.9 1212.5Z" fill="#66ff00"/><path d="M345.9 1286.6L353.4 1279.4L347.8 1275.2L340.4 1282.3Z" fill="#d7ff00"/><path d="M215.8 1267.3L223.9 1268.3L218.8 1263.5L210.7 1262.3Z" fill="#bcff00"/><path d="M260.4 1287.3L268.2 1285.7L262.9 1281.0L255.2 1282.5Z" fill="#daff00"/><path d="M366.4 1275.6L373.8 1266.8L368.2 1262.9L360.8 1271.5Z" fill="#c5ff00"/><path d="M401.8 1240.0L409.2 1228.3L403.5 1224.8L396.0 1236.4Z" fill="#8cff00"/><path d="M312.5 1294.7L320.0 1289.8L314.6 1285.4L307.0 1290.1Z" fill="#e4ff00"/><path d="M424.2 1202.6L431.7 1188.6L425.8 1185.6L418.3 1199.4Z" fill="#51ff00"/><path d="M476.7 1020.6L484.6 999.0L478.5 997.8L470.6 1019.3Z" fill="#0032cd"/><path d="M394.4 1251.0L401.8 1240.0L396.0 1236.4L388.6 1247.3Z" fill="#9dff00"/><path d="M431.7 1188.6L439.3 1173.9L433.3 1171.0L425.8 1185.6Z" fill="#3aff00"/><path d="M247.3 1283.2L255.2 1282.5L250.0 1277.7L242.1 1278.3Z" fill="#d3ff00"/><path d="M325.4 1294.3L332.9 1288.7L327.5 1284.3L320.0 1289.8Z" fill="#e2ff00"/><path d="M465.5 1084.1L473.3 1064.7L467.2 1063.0L459.5 1082.1Z" fill="#00946b"/><path d="M456.1 1122.5L463.8 1104.7L457.8 1102.6L450.1 1120.2Z" fill="#00d02f"/><path d="M386.9 1261.3L394.4 1251.0L388.6 1247.3L381.2 1257.4Z" fill="#acff00"/><path d="M439.3 1173.9L446.9 1158.4L440.9 1155.7L433.3 1171.0Z" fill="#22ff00"/><path d="M475.0 1042.9L482.9 1022.0L476.7 1020.6L468.9 1041.4Z" fill="#0053ac"/><path d="M359.0 1283.6L366.4 1275.6L360.8 1271.5L353.4 1279.4Z" fill="#cfff00"/><path d="M234.2 1278.2L242.1 1278.3L237.0 1273.5L229.0 1273.2Z" fill="#caff00"/><path d="M338.5 1293.1L345.9 1286.6L340.4 1282.3L332.9 1288.7Z" fill="#deff00"/><path d="M379.5 1270.8L386.9 1261.3L381.2 1257.4L373.8 1266.8Z" fill="#b9ff00"/><path d="M446.9 1158.4L454.5 1142.0L448.5 1139.5L440.9 1155.7Z" fill="#08ff00"/><path d="M291.8 1297.5L299.5 1294.2L294.1 1289.6L286.5 1292.8Z" fill="#e5ff00"/><path d="M278.8 1295.3L286.5 1292.8L281.2 1288.1L273.5 1290.5Z" fill="#e1ff00"/><path d="M463.8 1104.7L471.6 1086.1L465.5 1084.1L457.8 1102.6Z" fill="#00b24d"/><path d="M304.9 1298.9L312.5 1294.7L307.0 1290.1L299.5 1294.2Z" fill="#e6ff00"/><path d="M473.3 1064.7L481.2 1044.5L475.0 1042.9L467.2 1063.0Z" fill="#00738c"/><path d="M220.9 1272.3L229.0 1273.2L223.9 1268.3L215.8 1267.3Z" fill="#bfff00"/><path d="M265.7 1292.2L273.5 1290.5L268.2 1285.7L260.4 1287.3Z" fill="#dcff00"/><path d="M351.5 1290.9L359.0 1283.6L353.4 1279.4L345.9 1286.6Z" fill="#d8ff00"/><path d="M317.9 1299.3L325.4 1294.3L320.0 1289.8L312.5 1294.7Z" fill="#e6ff00"/><path d="M415.1 1231.8L422.6 1219.2L416.7 1215.8L409.2 1228.3Z" fill="#7aff00"/><path d="M422.6 1219.2L430.1 1205.8L424.2 1202.6L416.7 1215.8Z" fill="#66ff00"/><path d="M372.1 1279.7L379.5 1270.8L373.8 1266.8L366.4 1275.6Z" fill="#c5ff00"/><path d="M454.5 1142.0L462.2 1124.9L456.1 1122.5L448.5 1139.5Z" fill="#00ec13"/><path d="M407.6 1243.6L415.1 1231.8L409.2 1228.3L401.8 1240.0Z" fill="#8cff00"/><path d="M430.1 1205.8L437.6 1191.7L431.7 1188.6L424.2 1202.6Z" fill="#50ff00"/><path d="M252.5 1288.1L260.4 1287.3L255.2 1282.5L247.3 1283.2Z" fill="#d5ff00"/><path d="M400.1 1254.8L407.6 1243.6L401.8 1240.0L394.4 1251.0Z" fill="#9dff00"/><path d="M482.9 1022.0L490.9 1000.1L484.6 999.0L476.7 1020.6Z" fill="#002fd0"/><path d="M331.0 1298.9L338.5 1293.1L332.9 1288.7L325.4 1294.3Z" fill="#e3ff00"/><path d="M437.6 1191.7L445.2 1176.8L439.3 1173.9L431.7 1188.6Z" fill="#39ff00"/><path d="M392.7 1265.2L400.1 1254.8L394.4 1251.0L386.9 1261.3Z" fill="#acff00"/><path d="M471.6 1086.1L479.4 1066.6L473.3 1064.7L465.5 1084.1Z" fill="#00926d"/><path d="M239.3 1283.2L247.3 1283.2L242.1 1278.3L234.2 1278.2Z" fill="#ccff00"/><path d="M364.6 1287.9L372.1 1279.7L366.4 1275.6L359.0 1283.6Z" fill="#d0ff00"/><path d="M462.2 1124.9L469.9 1106.9L463.8 1104.7L456.1 1122.5Z" fill="#00cf30"/><path d="M445.2 1176.8L452.9 1161.1L446.9 1158.4L439.3 1173.9Z" fill="#21ff00"/><path d="M344.0 1297.6L351.5 1290.9L345.9 1286.6L338.5 1293.1Z" fill="#dfff00"/><path d="M481.2 1044.5L489.1 1023.4L482.9 1022.0L475.0 1042.9Z" fill="#0051ae"/><path d="M385.2 1274.9L392.7 1265.2L386.9 1261.3L379.5 1270.8Z" fill="#baff00"/><path d="M297.2 1302.3L304.9 1298.9L299.5 1294.2L291.8 1297.5Z" fill="#e6ff00"/><path d="M284.1 1300.2L291.8 1297.5L286.5 1292.8L278.8 1295.3Z" fill="#e3ff00"/><path d="M452.9 1161.1L460.5 1144.6L454.5 1142.0L446.9 1158.4Z" fill="#07ff00"/><path d="M310.3 1303.6L317.9 1299.3L312.5 1294.7L304.9 1298.9Z" fill="#e8ff00"/><path d="M226.1 1277.4L234.2 1278.2L229.0 1273.2L220.9 1272.3Z" fill="#c1ff00"/><path d="M271.0 1297.1L278.8 1295.3L273.5 1290.5L265.7 1292.2Z" fill="#deff00"/><path d="M357.1 1295.3L364.6 1287.9L359.0 1283.6L351.5 1290.9Z" fill="#d9ff00"/><path d="M323.4 1304.0L331.0 1298.9L325.4 1294.3L317.9 1299.3Z" fill="#e7ff00"/><path d="M469.9 1106.9L477.8 1088.1L471.6 1086.1L463.8 1104.7Z" fill="#00b04f"/><path d="M377.8 1283.9L385.2 1274.9L379.5 1270.8L372.1 1279.7Z" fill="#c6ff00"/><path d="M479.4 1066.6L487.4 1046.1L481.2 1044.5L473.3 1064.7Z" fill="#00718e"/><path d="M421.0 1235.3L428.5 1222.6L422.6 1219.2L415.1 1231.8Z" fill="#79ff00"/><path d="M428.5 1222.6L436.0 1209.0L430.1 1205.8L422.6 1219.2Z" fill="#65ff00"/><path d="M257.8 1293.1L265.7 1292.2L260.4 1287.3L252.5 1288.1Z" fill="#d7ff00"/><path d="M413.4 1247.3L421.0 1235.3L415.1 1231.8L407.6 1243.6Z" fill="#8cff00"/><path d="M460.5 1144.6L468.3 1127.3L462.2 1124.9L454.5 1142.0Z" fill="#00ea15"/><path d="M436.0 1209.0L443.6 1194.8L437.6 1191.7L430.1 1205.8Z" fill="#50ff00"/><path d="M336.5 1303.5L344.0 1297.6L338.5 1293.1L331.0 1298.9Z" fill="#e4ff00"/><path d="M406.0 1258.6L413.4 1247.3L407.6 1243.6L400.1 1254.8Z" fill="#9dff00"/><path d="M443.6 1194.8L451.3 1179.7L445.2 1176.8L437.6 1191.7Z" fill="#38ff00"/><path d="M244.6 1288.3L252.5 1288.1L247.3 1283.2L239.3 1283.2Z" fill="#ceff00"/><path d="M489.1 1023.4L497.1 1001.3L490.9 1000.1L482.9 1022.0Z" fill="#002cd3"/><path d="M398.5 1269.2L406.0 1258.6L400.1 1254.8L392.7 1265.2Z" fill="#acff00"/><path d="M370.3 1292.2L377.8 1283.9L372.1 1279.7L364.6 1287.9Z" fill="#d1ff00"/><path d="M349.6 1302.1L357.1 1295.3L351.5 1290.9L344.0 1297.6Z" fill="#e0ff00"/><path d="M477.8 1088.1L485.7 1068.4L479.4 1066.6L471.6 1086.1Z" fill="#00906f"/><path d="M451.3 1179.7L458.9 1163.9L452.9 1161.1L445.2 1176.8Z" fill="#20ff00"/><path d="M468.3 1127.3L476.1 1109.2L469.9 1106.9L462.2 1124.9Z" fill="#00cd32"/><path d="M391.0 1279.0L398.5 1269.2L392.7 1265.2L385.2 1274.9Z" fill="#baff00"/><path d="M302.7 1307.2L310.3 1303.6L304.9 1298.9L297.2 1302.3Z" fill="#e8ff00"/><path d="M289.5 1305.1L297.2 1302.3L291.8 1297.5L284.1 1300.2Z" fill="#e5ff00"/><path d="M231.3 1282.5L239.3 1283.2L234.2 1278.2L226.1 1277.4Z" fill="#c4ff00"/><path d="M487.4 1046.1L495.4 1024.8L489.1 1023.4L481.2 1044.5Z" fill="#004eb1"/><path d="M315.8 1308.4L323.4 1304.0L317.9 1299.3L310.3 1303.6Z" fill="#e9ff00"/><path d="M276.3 1302.1L284.1 1300.2L278.8 1295.3L271.0 1297.1Z" fill="#e0ff00"/><path d="M458.9 1163.9L466.7 1147.2L460.5 1144.6L452.9 1161.1Z" fill="#06ff00"/><path d="M328.9 1308.7L336.5 1303.5L331.0 1298.9L323.4 1304.0Z" fill="#e9ff00"/><path d="M362.8 1299.8L370.3 1292.2L364.6 1287.9L357.1 1295.3Z" fill="#daff00"/><path d="M263.1 1298.2L271.0 1297.1L265.7 1292.2L257.8 1293.1Z" fill="#daff00"/><path d="M383.5 1288.1L391.0 1279.0L385.2 1274.9L377.8 1283.9Z" fill="#c7ff00"/><path d="M476.1 1109.2L484.0 1090.2L477.8 1088.1L469.9 1106.9Z" fill="#00ae51"/><path d="M426.9 1238.9L434.4 1226.0L428.5 1222.6L421.0 1235.3Z" fill="#79ff00"/><path d="M434.4 1226.0L442.0 1212.3L436.0 1209.0L428.5 1222.6Z" fill="#65ff00"/><path d="M419.3 1251.1L426.9 1238.9L421.0 1235.3L413.4 1247.3Z" fill="#8cff00"/><path d="M342.1 1308.1L349.6 1302.1L344.0 1297.6L336.5 1303.5Z" fill="#e6ff00"/><path d="M485.7 1068.4L493.6 1047.8L487.4 1046.1L479.4 1066.6Z" fill="#006f90"/><path d="M442.0 1212.3L449.7 1197.9L443.6 1194.8L436.0 1209.0Z" fill="#4fff00"/><path d="M466.7 1147.2L474.4 1129.8L468.3 1127.3L460.5 1144.6Z" fill="#00e916"/><path d="M411.8 1262.5L419.3 1251.1L413.4 1247.3L406.0 1258.6Z" fill="#9dff00"/><path d="M249.8 1293.4L257.8 1293.1L252.5 1288.1L244.6 1288.3Z" fill="#d1ff00"/><path d="M449.7 1197.9L457.3 1182.7L451.3 1179.7L443.6 1194.8Z" fill="#38ff00"/><path d="M376.0 1296.6L383.5 1288.1L377.8 1283.9L370.3 1292.2Z" fill="#d1ff00"/><path d="M404.3 1273.2L411.8 1262.5L406.0 1258.6L398.5 1269.2Z" fill="#adff00"/><path d="M355.3 1306.7L362.8 1299.8L357.1 1295.3L349.6 1302.1Z" fill="#e1ff00"/><path d="M495.4 1024.8L503.5 1002.6L497.1 1001.3L489.1 1023.4Z" fill="#0029d6"/><path d="M308.1 1312.1L315.8 1308.4L310.3 1303.6L302.7 1307.2Z" fill="#eaff00"/><path d="M457.3 1182.7L465.0 1166.7L458.9 1163.9L451.3 1179.7Z" fill="#1fff00"/><path d="M294.9 1310.1L302.7 1307.2L297.2 1302.3L289.5 1305.1Z" fill="#e7ff00"/><path d="M236.5 1287.7L244.6 1288.3L239.3 1283.2L231.3 1282.5Z" fill="#c6ff00"/><path d="M484.0 1090.2L491.9 1070.3L485.7 1068.4L477.8 1088.1Z" fill="#008e71"/><path d="M474.4 1129.8L482.3 1111.4L476.1 1109.2L468.3 1127.3Z" fill="#00cb34"/><path d="M396.8 1283.2L404.3 1273.2L398.5 1269.2L391.0 1279.0Z" fill="#bbff00"/><path d="M321.3 1313.3L328.9 1308.7L323.4 1304.0L315.8 1308.4Z" fill="#ebff00"/><path d="M281.7 1307.2L289.5 1305.1L284.1 1300.2L276.3 1302.1Z" fill="#e2ff00"/><path d="M334.5 1313.5L342.1 1308.1L336.5 1303.5L328.9 1308.7Z" fill="#eaff00"/><path d="M493.6 1047.8L501.7 1026.3L495.4 1024.8L487.4 1046.1Z" fill="#004bb4"/><path d="M368.5 1304.3L376.0 1296.6L370.3 1292.2L362.8 1299.8Z" fill="#dbff00"/><path d="M268.5 1303.3L276.3 1302.1L271.0 1297.1L263.1 1298.2Z" fill="#dcff00"/><path d="M465.0 1166.7L472.8 1149.9L466.7 1147.2L458.9 1163.9Z" fill="#04ff00"/><path d="M389.3 1292.4L396.8 1283.2L391.0 1279.0L383.5 1288.1Z" fill="#c7ff00"/><path d="M347.7 1312.8L355.3 1306.7L349.6 1302.1L342.1 1308.1Z" fill="#e7ff00"/><path d="M432.8 1242.6L440.4 1229.5L434.4 1226.0L426.9 1238.9Z" fill="#79ff00"/><path d="M425.3 1254.9L432.8 1242.6L426.9 1238.9L419.3 1251.1Z" fill="#8cff00"/><path d="M440.4 1229.5L448.1 1215.7L442.0 1212.3L434.4 1226.0Z" fill="#64ff00"/><path d="M255.2 1298.6L263.1 1298.2L257.8 1293.1L249.8 1293.4Z" fill="#d3ff00"/><path d="M482.3 1111.4L490.2 1092.3L484.0 1090.2L476.1 1109.2Z" fill="#00ac53"/><path d="M417.7 1266.4L425.3 1254.9L419.3 1251.1L411.8 1262.5Z" fill="#9dff00"/><path d="M448.1 1215.7L455.7 1201.1L449.7 1197.9L442.0 1212.3Z" fill="#4eff00"/><path d="M491.9 1070.3L500.0 1049.5L493.6 1047.8L485.7 1068.4Z" fill="#006c93"/><path d="M472.8 1149.9L480.7 1132.3L474.4 1129.8L466.7 1147.2Z" fill="#00e718"/><path d="M381.8 1301.0L389.3 1292.4L383.5 1288.1L376.0 1296.6Z" fill="#d2ff00"/><path d="M410.2 1277.3L417.7 1266.4L411.8 1262.5L404.3 1273.2Z" fill="#adff00"/><path d="M455.7 1201.1L463.5 1185.8L457.3 1182.7L449.7 1197.9Z" fill="#37ff00"/><path d="M361.0 1311.3L368.5 1304.3L362.8 1299.8L355.3 1306.7Z" fill="#e2ff00"/><path d="M241.8 1292.9L249.8 1293.4L244.6 1288.3L236.5 1287.7Z" fill="#c9ff00"/><path d="M313.6 1317.1L321.3 1313.3L315.8 1308.4L308.1 1312.1Z" fill="#ecff00"/><path d="M300.4 1315.1L308.1 1312.1L302.7 1307.2L294.9 1310.1Z" fill="#e9ff00"/><path d="M326.9 1318.2L334.5 1313.5L328.9 1308.7L321.3 1313.3Z" fill="#edff00"/><path d="M287.1 1312.3L294.9 1310.1L289.5 1305.1L281.7 1307.2Z" fill="#e5ff00"/><path d="M501.7 1026.3L509.9 1003.8L503.5 1002.6L495.4 1024.8Z" fill="#0027d8"/><path d="M402.7 1287.4L410.2 1277.3L404.3 1273.2L396.8 1283.2Z" fill="#bbff00"/><path d="M463.5 1185.8L471.2 1169.6L465.0 1166.7L457.3 1182.7Z" fill="#1eff00"/><path d="M480.7 1132.3L488.6 1113.8L482.3 1111.4L474.4 1129.8Z" fill="#00ca35"/><path d="M490.2 1092.3L498.2 1072.2L491.9 1070.3L484.0 1090.2Z" fill="#008c73"/><path d="M340.1 1318.3L347.7 1312.8L342.1 1308.1L334.5 1313.5Z" fill="#ecff00"/><path d="M273.8 1308.5L281.7 1307.2L276.3 1302.1L268.5 1303.3Z" fill="#deff00"/><path d="M374.2 1308.8L381.8 1301.0L376.0 1296.6L368.5 1304.3Z" fill="#dcff00"/><path d="M395.1 1296.8L402.7 1287.4L396.8 1283.2L389.3 1292.4Z" fill="#c8ff00"/><path d="M471.2 1169.6L479.0 1152.6L472.8 1149.9L465.0 1166.7Z" fill="#03ff00"/><path d="M500.0 1049.5L508.1 1027.8L501.7 1026.3L493.6 1047.8Z" fill="#0049b6"/><path d="M353.4 1317.6L361.0 1311.3L355.3 1306.7L347.7 1312.8Z" fill="#e9ff00"/><path d="M260.5 1303.8L268.5 1303.3L263.1 1298.2L255.2 1298.6Z" fill="#d6ff00"/><path d="M438.9 1246.2L446.5 1233.1L440.4 1229.5L432.8 1242.6Z" fill="#79ff00"/><path d="M431.3 1258.7L438.9 1246.2L432.8 1242.6L425.3 1254.9Z" fill="#8cff00"/><path d="M446.5 1233.1L454.2 1219.1L448.1 1215.7L440.4 1229.5Z" fill="#64ff00"/><path d="M423.7 1270.4L431.3 1258.7L425.3 1254.9L417.7 1266.4Z" fill="#9dff00"/><path d="M488.6 1113.8L496.5 1094.4L490.2 1092.3L482.3 1111.4Z" fill="#00ab54"/><path d="M454.2 1219.1L461.9 1204.4L455.7 1201.1L448.1 1215.7Z" fill="#4eff00"/><path d="M387.6 1305.5L395.1 1296.8L389.3 1292.4L381.8 1301.0Z" fill="#d3ff00"/><path d="M479.0 1152.6L486.9 1134.8L480.7 1132.3L472.8 1149.9Z" fill="#00e619"/><path d="M366.7 1316.0L374.2 1308.8L368.5 1304.3L361.0 1311.3Z" fill="#e4ff00"/><path d="M498.2 1072.2L506.3 1051.2L500.0 1049.5L491.9 1070.3Z" fill="#006a95"/><path d="M416.1 1281.4L423.7 1270.4L417.7 1266.4L410.2 1277.3Z" fill="#adff00"/><path d="M247.1 1298.2L255.2 1298.6L249.8 1293.4L241.8 1292.9Z" fill="#ccff00"/><path d="M305.9 1320.2L313.6 1317.1L308.1 1312.1L300.4 1315.1Z" fill="#ebff00"/><path d="M319.2 1322.1L326.9 1318.2L321.3 1313.3L313.6 1317.1Z" fill="#eeff00"/><path d="M461.9 1204.4L469.6 1188.8L463.5 1185.8L455.7 1201.1Z" fill="#36ff00"/><path d="M292.6 1317.4L300.4 1315.1L294.9 1310.1L287.1 1312.3Z" fill="#e7ff00"/><path d="M332.5 1323.1L340.1 1318.3L334.5 1313.5L326.9 1318.2Z" fill="#efff00"/><path d="M408.6 1291.6L416.1 1281.4L410.2 1277.3L402.7 1287.4Z" fill="#bcff00"/><path d="M279.3 1313.7L287.1 1312.3L281.7 1307.2L273.8 1308.5Z" fill="#e1ff00"/><path d="M345.8 1323.2L353.4 1317.6L347.7 1312.8L340.1 1318.3Z" fill="#edff00"/><path d="M469.6 1188.8L477.4 1172.5L471.2 1169.6L463.5 1185.8Z" fill="#1dff00"/><path d="M508.1 1027.8L516.3 1005.1L509.9 1003.8L501.7 1026.3Z" fill="#0024db"/><path d="M380.0 1313.4L387.6 1305.5L381.8 1301.0L374.2 1308.8Z" fill="#ddff00"/><path d="M486.9 1134.8L494.9 1116.1L488.6 1113.8L480.7 1132.3Z" fill="#00c837"/><path d="M496.5 1094.4L504.6 1074.2L498.2 1072.2L490.2 1092.3Z" fill="#008a75"/><path d="M401.0 1301.2L408.6 1291.6L402.7 1287.4L395.1 1296.8Z" fill="#c9ff00"/><path d="M265.9 1309.1L273.8 1308.5L268.5 1303.3L260.5 1303.8Z" fill="#d8ff00"/><path d="M359.1 1322.4L366.7 1316.0L361.0 1311.3L353.4 1317.6Z" fill="#eaff00"/><path d="M477.4 1172.5L485.3 1155.4L479.0 1152.6L471.2 1169.6Z" fill="#02ff00"/><path d="M506.3 1051.2L514.5 1029.3L508.1 1027.8L500.0 1049.5Z" fill="#0046b9"/><path d="M444.9 1250.0L452.6 1236.6L446.5 1233.1L438.9 1246.2Z" fill="#79ff00"/><path d="M437.3 1262.6L444.9 1250.0L438.9 1246.2L431.3 1258.7Z" fill="#8cff00"/><path d="M452.6 1236.6L460.3 1222.5L454.2 1219.1L446.5 1233.1Z" fill="#64ff00"/><path d="M429.7 1274.4L437.3 1262.6L431.3 1258.7L423.7 1270.4Z" fill="#9eff00"/><path d="M252.4 1303.6L260.5 1303.8L255.2 1298.6L247.1 1298.2Z" fill="#ceff00"/><path d="M460.3 1222.5L468.1 1207.6L461.9 1204.4L454.2 1219.1Z" fill="#4dff00"/><path d="M393.4 1310.0L401.0 1301.2L395.1 1296.8L387.6 1305.5Z" fill="#d4ff00"/><path d="M372.5 1320.7L380.0 1313.4L374.2 1308.8L366.7 1316.0Z" fill="#e5ff00"/><path d="M494.9 1116.1L502.9 1096.6L496.5 1094.4L488.6 1113.8Z" fill="#00a956"/><path d="M311.5 1325.4L319.2 1322.1L313.6 1317.1L305.9 1320.2Z" fill="#eeff00"/><path d="M324.8 1327.2L332.5 1323.1L326.9 1318.2L319.2 1322.1Z" fill="#f0ff00"/><path d="M422.1 1285.6L429.7 1274.4L423.7 1270.4L416.1 1281.4Z" fill="#aeff00"/><path d="M298.1 1322.6L305.9 1320.2L300.4 1315.1L292.6 1317.4Z" fill="#e9ff00"/><path d="M485.3 1155.4L493.2 1137.4L486.9 1134.8L479.0 1152.6Z" fill="#00e41b"/><path d="M338.1 1328.1L345.8 1323.2L340.1 1318.3L332.5 1323.1Z" fill="#f0ff00"/><path d="M504.6 1074.2L512.8 1053.0L506.3 1051.2L498.2 1072.2Z" fill="#006897"/><path d="M468.1 1207.6L475.9 1192.0L469.6 1188.8L461.9 1204.4Z" fill="#35ff00"/><path d="M284.7 1319.0L292.6 1317.4L287.1 1312.3L279.3 1313.7Z" fill="#e3ff00"/><path d="M414.5 1296.0L422.1 1285.6L416.1 1281.4L408.6 1291.6Z" fill="#bdff00"/><path d="M351.5 1328.2L359.1 1322.4L353.4 1317.6L345.8 1323.2Z" fill="#efff00"/><path d="M385.9 1318.1L393.4 1310.0L387.6 1305.5L380.0 1313.4Z" fill="#deff00"/><path d="M475.9 1192.0L483.7 1175.5L477.4 1172.5L469.6 1188.8Z" fill="#1cff00"/><path d="M271.3 1314.5L279.3 1313.7L273.8 1308.5L265.9 1309.1Z" fill="#dbff00"/><path d="M514.5 1029.3L522.8 1006.4L516.3 1005.1L508.1 1027.8Z" fill="#0021de"/><path d="M493.2 1137.4L501.3 1118.5L494.9 1116.1L486.9 1134.8Z" fill="#00c738"/><path d="M406.9 1305.6L414.5 1296.0L408.6 1291.6L401.0 1301.2Z" fill="#caff00"/><path d="M364.9 1327.3L372.5 1320.7L366.7 1316.0L359.1 1322.4Z" fill="#ecff00"/><path d="M502.9 1096.6L511.0 1076.2L504.6 1074.2L496.5 1094.4Z" fill="#008877"/><path d="M483.7 1175.5L491.6 1158.2L485.3 1155.4L477.4 1172.5Z" fill="#01ff00"/><path d="M451.1 1253.8L458.8 1240.3L452.6 1236.6L444.9 1250.0Z" fill="#78ff00"/><path d="M443.4 1266.5L451.1 1253.8L444.9 1250.0L437.3 1262.6Z" fill="#8cff00"/><path d="M257.8 1309.0L265.9 1309.1L260.5 1303.8L252.4 1303.6Z" fill="#d1ff00"/><path d="M458.8 1240.3L466.5 1226.0L460.3 1222.5L452.6 1236.6Z" fill="#63ff00"/><path d="M512.8 1053.0L521.0 1030.9L514.5 1029.3L506.3 1051.2Z" fill="#0044bb"/><path d="M435.7 1278.5L443.4 1266.5L437.3 1262.6L429.7 1274.4Z" fill="#9eff00"/><path d="M317.1 1330.6L324.8 1327.2L319.2 1322.1L311.5 1325.4Z" fill="#f0ff00"/><path d="M378.3 1325.5L385.9 1318.1L380.0 1313.4L372.5 1320.7Z" fill="#e6ff00"/><path d="M399.3 1314.6L406.9 1305.6L401.0 1301.2L393.4 1310.0Z" fill="#d5ff00"/><path d="M330.4 1332.4L338.1 1328.1L332.5 1323.1L324.8 1327.2Z" fill="#f2ff00"/><path d="M303.7 1327.9L311.5 1325.4L305.9 1320.2L298.1 1322.6Z" fill="#ecff00"/><path d="M466.5 1226.0L474.3 1211.0L468.1 1207.6L460.3 1222.5Z" fill="#4dff00"/><path d="M428.1 1289.8L435.7 1278.5L429.7 1274.4L422.1 1285.6Z" fill="#aeff00"/><path d="M343.8 1333.2L351.5 1328.2L345.8 1323.2L338.1 1328.1Z" fill="#f2ff00"/><path d="M501.3 1118.5L509.3 1098.8L502.9 1096.6L494.9 1116.1Z" fill="#00a758"/><path d="M290.2 1324.3L298.1 1322.6L292.6 1317.4L284.7 1319.0Z" fill="#e6ff00"/><path d="M491.6 1158.2L499.6 1140.0L493.2 1137.4L485.3 1155.4Z" fill="#00e31c"/><path d="M474.3 1211.0L482.1 1195.1L475.9 1192.0L468.1 1207.6Z" fill="#35ff00"/><path d="M357.2 1333.2L364.9 1327.3L359.1 1322.4L351.5 1328.2Z" fill="#f1ff00"/><path d="M420.5 1300.3L428.1 1289.8L422.1 1285.6L414.5 1296.0Z" fill="#bdff00"/><path d="M511.0 1076.2L519.3 1054.8L512.8 1053.0L504.6 1074.2Z" fill="#006699"/><path d="M391.8 1322.8L399.3 1314.6L393.4 1310.0L385.9 1318.1Z" fill="#dfff00"/><path d="M276.8 1319.9L284.7 1319.0L279.3 1313.7L271.3 1314.5Z" fill="#deff00"/><path d="M482.1 1195.1L490.0 1178.5L483.7 1175.5L475.9 1192.0Z" fill="#1bff00"/><path d="M370.7 1332.2L378.3 1325.5L372.5 1320.7L364.9 1327.3Z" fill="#edff00"/><path d="M412.9 1310.1L420.5 1300.3L414.5 1296.0L406.9 1305.6Z" fill="#cbff00"/><path d="M499.6 1140.0L507.7 1121.0L501.3 1118.5L493.2 1137.4Z" fill="#00c53a"/><path d="M521.0 1030.9L529.4 1007.8L522.8 1006.4L514.5 1029.3Z" fill="#001fe0"/><path d="M509.3 1098.8L517.5 1078.2L511.0 1076.2L502.9 1096.6Z" fill="#008679"/><path d="M263.2 1314.4L271.3 1314.5L265.9 1309.1L257.8 1309.0Z" fill="#d4ff00"/><path d="M490.0 1178.5L498.0 1161.0L491.6 1158.2L483.7 1175.5Z" fill="#00ff00"/><path d="M322.7 1335.9L330.4 1332.4L324.8 1327.2L317.1 1330.6Z" fill="#f2ff00"/><path d="M336.1 1337.6L343.8 1333.2L338.1 1328.1L330.4 1332.4Z" fill="#f4ff00"/><path d="M384.1 1330.4L391.8 1322.8L385.9 1318.1L378.3 1325.5Z" fill="#e8ff00"/><path d="M309.2 1333.3L317.1 1330.6L311.5 1325.4L303.7 1327.9Z" fill="#eeff00"/><path d="M405.3 1319.2L412.9 1310.1L406.9 1305.6L399.3 1314.6Z" fill="#d6ff00"/><path d="M349.6 1338.3L357.2 1333.2L351.5 1328.2L343.8 1333.2Z" fill="#f4ff00"/><path d="M519.3 1054.8L527.6 1032.5L521.0 1030.9L512.8 1053.0Z" fill="#0042bd"/><path d="M295.8 1329.7L303.7 1327.9L298.1 1322.6L290.2 1324.3Z" fill="#e8ff00"/><path d="M363.0 1338.2L370.7 1332.2L364.9 1327.3L357.2 1333.2Z" fill="#f2ff00"/><path d="M507.7 1121.0L515.8 1101.1L509.3 1098.8L501.3 1118.5Z" fill="#00a55a"/><path d="M498.0 1161.0L506.0 1142.7L499.6 1140.0L491.6 1158.2Z" fill="#00e21d"/><path d="M282.3 1325.3L290.2 1324.3L284.7 1319.0L276.8 1319.9Z" fill="#e0ff00"/><path d="M397.7 1327.6L405.3 1319.2L399.3 1314.6L391.8 1322.8Z" fill="#e1ff00"/><path d="M517.5 1078.2L525.8 1056.6L519.3 1054.8L511.0 1076.2Z" fill="#00639c"/><path d="M376.5 1337.2L384.1 1330.4L378.3 1325.5L370.7 1332.2Z" fill="#efff00"/><path d="M268.7 1320.0L276.8 1319.9L271.3 1314.5L263.2 1314.4Z" fill="#d7ff00"/><path d="M506.0 1142.7L514.2 1123.5L507.7 1121.0L499.6 1140.0Z" fill="#00c43b"/><path d="M328.4 1341.2L336.1 1337.6L330.4 1332.4L322.7 1335.9Z" fill="#f4ff00"/><path d="M341.9 1342.8L349.6 1338.3L343.8 1333.2L336.1 1337.6Z" fill="#f6ff00"/><path d="M515.8 1101.1L524.1 1080.3L517.5 1078.2L509.3 1098.8Z" fill="#00847b"/><path d="M314.9 1338.6L322.7 1335.9L317.1 1330.6L309.2 1333.3Z" fill="#f0ff00"/><path d="M527.6 1032.5L536.0 1009.2L529.4 1007.8L521.0 1030.9Z" fill="#001ce3"/><path d="M390.1 1335.3L397.7 1327.6L391.8 1322.8L384.1 1330.4Z" fill="#e9ff00"/><path d="M355.3 1343.5L363.0 1338.2L357.2 1333.2L349.6 1338.3Z" fill="#f6ff00"/><path d="M301.4 1335.2L309.2 1333.3L303.7 1327.9L295.8 1329.7Z" fill="#ebff00"/><path d="M368.9 1343.3L376.5 1337.2L370.7 1332.2L363.0 1338.2Z" fill="#f4ff00"/><path d="M525.8 1056.6L534.2 1034.1L527.6 1032.5L519.3 1054.8Z" fill="#003fc0"/><path d="M287.8 1330.8L295.8 1329.7L290.2 1324.3L282.3 1325.3Z" fill="#e3ff00"/><path d="M514.2 1123.5L522.4 1103.4L515.8 1101.1L507.7 1121.0Z" fill="#00a45b"/><path d="M382.4 1342.3L390.1 1335.3L384.1 1330.4L376.5 1337.2Z" fill="#f0ff00"/><path d="M274.2 1325.6L282.3 1325.3L276.8 1319.9L268.7 1320.0Z" fill="#daff00"/><path d="M524.1 1080.3L532.4 1058.5L525.8 1056.6L517.5 1078.2Z" fill="#00619e"/><path d="M334.1 1346.6L341.9 1342.8L336.1 1337.6L328.4 1341.2Z" fill="#f6ff00"/><path d="M347.6 1348.1L355.3 1343.5L349.6 1338.3L341.9 1342.8Z" fill="#f8ff00"/><path d="M320.5 1344.1L328.4 1341.2L322.7 1335.9L314.9 1338.6Z" fill="#f3ff00"/><path d="M361.2 1348.8L368.9 1343.3L363.0 1338.2L355.3 1343.5Z" fill="#f8ff00"/><path d="M307.0 1340.7L314.9 1338.6L309.2 1333.3L301.4 1335.2Z" fill="#edff00"/><path d="M522.4 1103.4L530.7 1082.4L524.1 1080.3L515.8 1101.1Z" fill="#00827d"/><path d="M534.2 1034.1L542.7 1010.6L536.0 1009.2L527.6 1032.5Z" fill="#001ae5"/><path d="M374.7 1348.5L382.4 1342.3L376.5 1337.2L368.9 1343.3Z" fill="#f6ff00"/><path d="M293.4 1336.4L301.4 1335.2L295.8 1329.7L287.8 1330.8Z" fill="#e6ff00"/><path d="M532.4 1058.5L540.9 1035.8L534.2 1034.1L525.8 1056.6Z" fill="#003dc2"/><path d="M279.8 1331.2L287.8 1330.8L282.3 1325.3L274.2 1325.6Z" fill="#ddff00"/><path d="M339.8 1352.0L347.6 1348.1L341.9 1342.8L334.1 1346.6Z" fill="#f9ff00"/><path d="M530.7 1082.4L539.1 1060.4L532.4 1058.5L524.1 1080.3Z" fill="#005fa0"/><path d="M326.3 1349.6L334.1 1346.6L328.4 1341.2L320.5 1344.1Z" fill="#f5ff00"/><path d="M353.4 1353.5L361.2 1348.8L355.3 1343.5L347.6 1348.1Z" fill="#faff00"/><path d="M312.7 1346.3L320.5 1344.1L314.9 1338.6L307.0 1340.7Z" fill="#f0ff00"/><path d="M367.0 1354.1L374.7 1348.5L368.9 1343.3L361.2 1348.8Z" fill="#faff00"/><path d="M299.0 1342.1L307.0 1340.7L301.4 1335.2L293.4 1336.4Z" fill="#e9ff00"/><path d="M540.9 1035.8L549.4 1012.1L542.7 1010.6L534.2 1034.1Z" fill="#0017e8"/><path d="M285.3 1336.9L293.4 1336.4L287.8 1330.8L279.8 1331.2Z" fill="#dfff00"/><path d="M539.1 1060.4L547.6 1037.5L540.9 1035.8L532.4 1058.5Z" fill="#003bc4"/><path d="M345.7 1357.5L353.4 1353.5L347.6 1348.1L339.8 1352.0Z" fill="#fbff00"/><path d="M332.0 1355.2L339.8 1352.0L334.1 1346.6L326.3 1349.6Z" fill="#f8ff00"/><path d="M359.3 1358.9L367.0 1354.1L361.2 1348.8L353.4 1353.5Z" fill="#fdff00"/><path d="M318.4 1351.9L326.3 1349.6L320.5 1344.1L312.7 1346.3Z" fill="#f3ff00"/><path d="M304.7 1347.8L312.7 1346.3L307.0 1340.7L299.0 1342.1Z" fill="#ecff00"/><path d="M291.0 1342.7L299.0 1342.1L293.4 1336.4L285.3 1336.9Z" fill="#e2ff00"/><path d="M547.6 1037.5L556.3 1013.6L549.4 1012.1L540.9 1035.8Z" fill="#0015ea"/><path d="M351.5 1363.1L359.3 1358.9L353.4 1353.5L345.7 1357.5Z" fill="#feff00"/><path d="M337.8 1360.8L345.7 1357.5L339.8 1352.0L332.0 1355.2Z" fill="#faff00"/><path d="M324.1 1357.6L332.0 1355.2L326.3 1349.6L318.4 1351.9Z" fill="#f5ff00"/><path d="M310.4 1353.5L318.4 1351.9L312.7 1346.3L304.7 1347.8Z" fill="#eeff00"/><path d="M296.6 1348.5L304.7 1347.8L299.0 1342.1L291.0 1342.7Z" fill="#e6ff00"/><path d="M343.7 1366.5L351.5 1363.1L345.7 1357.5L337.8 1360.8Z" fill="#fdff00"/><path d="M329.9 1363.4L337.8 1360.8L332.0 1355.2L324.1 1357.6Z" fill="#f8ff00"/><path d="M316.1 1359.3L324.1 1357.6L318.4 1351.9L310.4 1353.5Z" fill="#f1ff00"/><path d="M302.3 1354.4L310.4 1353.5L304.7 1347.8L296.6 1348.5Z" fill="#e9ff00"/><path d="M335.7 1369.2L343.7 1366.5L337.8 1360.8L329.9 1363.4Z" fill="#fbff00"/><path d="M321.9 1365.2L329.9 1363.4L324.1 1357.6L316.1 1359.3Z" fill="#f4ff00"/><path d="M308.1 1360.3L316.1 1359.3L310.4 1353.5L302.3 1354.4Z" fill="#ecff00"/><path d="M327.8 1371.2L335.7 1369.2L329.9 1363.4L321.9 1365.2Z" fill="#f7ff00"/><path d="M313.9 1366.3L321.9 1365.2L316.1 1359.3L308.1 1360.3Z" fill="#efff00"/><path d="M319.7 1372.4L327.8 1371.2L321.9 1365.2L313.9 1366.3Z" fill="#f2ff00"/></g><line x1="319.75" y1="1379.35" x2="318.03" y2="1105.22" stroke="#333" stroke-width="1.6"/><line x1="319.75" y1="1379.35" x2="146.66" y2="1245.79" stroke="#333" stroke-width="1.6"/><line x1="319.75" y1="1379.35" x2="536.93" y2="1267.97" stroke="#333" stroke-width="1.6"/><line x1="318.03" y1="1105.22" x2="129.07" y2="997.15" stroke="#333" stroke-width="1.6"/><line x1="318.03" y1="1105.22" x2="556.25" y2="1013.61" stroke="#333" stroke-width="1.6"/><line x1="125.3" y1="1206" x2="112" y2="1043.2" stroke="#333" stroke-width="1.6"/><line x1="112" y1="1043.2" x2="106.85" y2="1055.14" stroke="#333" stroke-width="1.6"/><line x1="112" y1="1043.2" x2="119.02" y2="1054.14" stroke="#333" stroke-width="1.6"/><line x1="276.5" y1="1374" x2="163.7" y2="1283" stroke="#333" stroke-width="1.6"/><line x1="163.7" y1="1283" x2="168.8" y2="1294.96" stroke="#333" stroke-width="1.6"/><line x1="163.7" y1="1283" x2="176.47" y2="1285.46" stroke="#333" stroke-width="1.6"/><line x1="368.4" y1="1380.3" x2="511.7" y2="1301" stroke="#333" stroke-width="1.6"/><line x1="511.7" y1="1301" x2="498.7" y2="1301.22" stroke="#333" stroke-width="1.6"/><line x1="511.7" y1="1301" x2="504.61" y2="1311.9" stroke="#333" stroke-width="1.6"/><text x="44.57" y="1138.4" font-size="39.83" textLength="57.4" lengthAdjust="spacingAndGlyphs" fill="#000">IV1</text><text x="126.52" y="1371.5" font-size="39.39" textLength="72.19" lengthAdjust="spacingAndGlyphs" fill="#000">EQT</text><text x="438.49" y="1382.2" font-size="38.95" textLength="42.37" lengthAdjust="spacingAndGlyphs" fill="#000">ST</text><defs><linearGradient id="g2" x1="0" y1="0" x2="0" y2="1"><stop offset="0" stop-color="#0000ff"/><stop offset="0.5" stop-color="#00ff00"/><stop offset="1" stop-color="#ffff00"/></linearGradient></defs><rect x="680.2" y="832.5" width="37.2" height="650.2" fill="url(#g2)" stroke="#222" stroke-width="1.5"/><line x1="717.4" y1="1424.5" x2="727.4" y2="1424.5" stroke="#333" stroke-width="2"/><text x="733.6" y="1434.3" font-size="20.62" fill="#333">0.04</text><line x1="717.4" y1="1316.08" x2="727.4" y2="1316.08" stroke="#333" stroke-width="2"/><text x="733.6" y="1325.88" font-size="20.62" fill="#333">0.06</text><line x1="717.4" y1="1207.66" x2="727.4" y2="1207.66" stroke="#333" stroke-width="2"/><text x="733.6" y="1217.46" font-size="20.62" fill="#333">0.08</text><line x1="717.4" y1="1099.24" x2="727.4" y2="1099.24" stroke="#333" stroke-width="2"/><text x="733.6" y="1109.04" font-size="20.62" fill="#333">0.10</text><line x1="717.4" y1="990.82" x2="727.4" y2="990.82" stroke="#333" stroke-width="2"/><text x="733.6" y="1000.62" font-size="20.62" fill="#333">0.12</text><line x1="717.4" y1="882.4" x2="727.4" y2="882.4" stroke="#333" stroke-width="2"/><text x="733.6" y="892.2" font-size="20.62" fill="#333">0.14</text>
<rect x="12.5" y="1618.2" width="651.1" height="653.3" fill="none" stroke="#474747" stroke-width="2.1"/><line x1="350.3" y1="1944.08" x2="351.85" y2="1714.36" stroke="#333" stroke-width="1.6" stroke-dasharray="6 5"/><line x1="350.3" y1="1944.08" x2="531.74" y2="2052.74" stroke="#333" stroke-width="1.6" stroke-dasharray="6 5"/><line x1="350.3" y1="1944.08" x2="143.43" y2="2031.71" stroke="#333" stroke-width="1.6" stroke-dasharray="6 5"/><line x1="351.85" y1="1714.36" x2="553.04" y2="1800.21" stroke="#333" stroke-width="1.6"/><line x1="351.85" y1="1714.36" x2="123.54" y2="1784.25" stroke="#333" stroke-width="1.6"/><line x1="531.74" y1="2052.74" x2="553.04" y2="1800.21" stroke="#333" stroke-width="1.6"/><line x1="143.43" y1="2031.71" x2="123.54" y2="1784.25" stroke="#333" stroke-width="1.6"/><g stroke="#0a0a0a" stroke-width="1.3" stroke-linejoin="round"><path d="M351.8 1714.4L346.1 1719.2L351.8 1727.0L357.5 1722.3Z" fill="#0009f6"/><path d="M346.1 1719.2L340.4 1724.3L346.0 1732.0L351.8 1727.0Z" fill="#000ff0"/><path d="M357.5 1722.3L351.8 1727.0L357.4 1734.7L363.1 1730.1Z" fill="#0014eb"/><path d="M340.4 1724.3L334.7 1729.6L340.3 1737.2L346.0 1732.0Z" fill="#0016e9"/><path d="M351.8 1727.0L346.0 1732.0L351.7 1739.5L357.4 1734.7Z" fill="#001ae5"/><path d="M363.1 1730.1L357.4 1734.7L363.1 1742.1L368.8 1737.6Z" fill="#001ee1"/><path d="M334.7 1729.6L328.9 1735.1L334.5 1742.7L340.3 1737.2Z" fill="#001de2"/><path d="M346.0 1732.0L340.3 1737.2L345.9 1744.6L351.7 1739.5Z" fill="#0020df"/><path d="M357.4 1734.7L351.7 1739.5L357.3 1746.9L363.1 1742.1Z" fill="#0024db"/><path d="M328.9 1735.1L323.1 1740.9L328.7 1748.3L334.5 1742.7Z" fill="#0025da"/><path d="M368.8 1737.6L363.1 1742.1L368.8 1749.4L374.5 1745.0Z" fill="#0028d7"/><path d="M340.3 1737.2L334.5 1742.7L340.1 1750.0L345.9 1744.6Z" fill="#0027d8"/><path d="M323.1 1740.9L317.3 1746.9L322.9 1754.2L328.7 1748.3Z" fill="#002dd2"/><path d="M351.7 1739.5L345.9 1744.6L351.6 1751.9L357.3 1746.9Z" fill="#002ad5"/><path d="M363.1 1742.1L357.3 1746.9L363.0 1754.1L368.8 1749.4Z" fill="#002dd2"/><path d="M334.5 1742.7L328.7 1748.3L334.3 1755.6L340.1 1750.0Z" fill="#002fd0"/><path d="M317.3 1746.9L311.5 1753.2L317.1 1760.4L322.9 1754.2Z" fill="#0036c9"/><path d="M374.5 1745.0L368.8 1749.4L374.5 1756.5L380.2 1752.2Z" fill="#0031ce"/><path d="M345.9 1744.6L340.1 1750.0L345.8 1757.1L351.6 1751.9Z" fill="#0031ce"/><path d="M328.7 1748.3L322.9 1754.2L328.5 1761.4L334.3 1755.6Z" fill="#0036c9"/><path d="M311.5 1753.2L305.7 1759.7L311.3 1766.8L317.1 1760.4Z" fill="#003fc0"/><path d="M357.3 1746.9L351.6 1751.9L357.3 1759.0L363.0 1754.1Z" fill="#0033cc"/><path d="M368.8 1749.4L363.0 1754.1L368.8 1761.1L374.5 1756.5Z" fill="#0037c8"/><path d="M340.1 1750.0L334.3 1755.6L340.0 1762.6L345.8 1757.1Z" fill="#0038c7"/><path d="M305.7 1759.7L299.8 1766.4L305.4 1773.4L311.3 1766.8Z" fill="#0048b7"/><path d="M322.9 1754.2L317.1 1760.4L322.7 1767.4L328.5 1761.4Z" fill="#003fc0"/><path d="M380.2 1752.2L374.5 1756.5L380.3 1763.4L386.0 1759.2Z" fill="#003ac5"/><path d="M351.6 1751.9L345.8 1757.1L351.5 1764.1L357.3 1759.0Z" fill="#003ac5"/><path d="M148.9 2017.7L143.3 2030.0L148.2 2034.5L153.8 2022.3Z" fill="#f1ff00"/><path d="M299.8 1766.4L294.0 1773.4L299.5 1780.2L305.4 1773.4Z" fill="#0052ad"/><path d="M334.3 1755.6L328.5 1761.4L334.2 1768.3L340.0 1762.6Z" fill="#0040bf"/><path d="M317.1 1760.4L311.3 1766.8L316.9 1773.7L322.7 1767.4Z" fill="#0048b7"/><path d="M363.0 1754.1L357.3 1759.0L363.0 1765.9L368.8 1761.1Z" fill="#003cc3"/><path d="M154.5 2005.5L148.9 2017.7L153.8 2022.3L159.5 2010.2Z" fill="#dcff00"/><path d="M294.0 1773.4L288.1 1780.5L293.7 1787.3L299.5 1780.2Z" fill="#005ca3"/><path d="M374.5 1756.5L368.8 1761.1L374.5 1767.9L380.3 1763.4Z" fill="#003fc0"/><path d="M345.8 1757.1L340.0 1762.6L345.7 1769.5L351.5 1764.1Z" fill="#0041be"/><path d="M311.3 1766.8L305.4 1773.4L311.0 1780.2L316.9 1773.7Z" fill="#0051ae"/><path d="M328.5 1761.4L322.7 1767.4L328.3 1774.2L334.2 1768.3Z" fill="#0048b7"/><path d="M160.2 1993.6L154.5 2005.5L159.5 2010.2L165.2 1998.3Z" fill="#c7ff00"/><path d="M386.0 1759.2L380.3 1763.4L386.1 1770.2L391.8 1766.1Z" fill="#0043bc"/><path d="M288.1 1780.5L282.3 1788.0L287.8 1794.6L293.7 1787.3Z" fill="#006798"/><path d="M357.3 1759.0L351.5 1764.1L357.2 1770.9L363.0 1765.9Z" fill="#0043bc"/><path d="M165.8 1981.8L160.2 1993.6L165.2 1998.3L170.9 1986.6Z" fill="#b2ff00"/><path d="M305.4 1773.4L299.5 1780.2L305.1 1786.9L311.0 1780.2Z" fill="#005aa5"/><path d="M282.3 1788.0L276.4 1795.6L281.9 1802.2L287.8 1794.6Z" fill="#00728d"/><path d="M340.0 1762.6L334.2 1768.3L339.9 1775.1L345.7 1769.5Z" fill="#0048b7"/><path d="M322.7 1767.4L316.9 1773.7L322.5 1780.4L328.3 1774.2Z" fill="#0050af"/><path d="M368.8 1761.1L363.0 1765.9L368.8 1772.6L374.5 1767.9Z" fill="#0045ba"/><path d="M171.5 1970.2L165.8 1981.8L170.9 1986.6L176.6 1975.1Z" fill="#9eff00"/><path d="M276.4 1795.6L270.5 1803.5L276.0 1809.9L281.9 1802.2Z" fill="#007e81"/><path d="M153.8 2022.3L148.2 2034.5L153.1 2038.9L158.8 2026.7Z" fill="#f3ff00"/><path d="M299.5 1780.2L293.7 1787.3L299.3 1793.9L305.1 1786.9Z" fill="#00659a"/><path d="M380.3 1763.4L374.5 1767.9L380.3 1774.5L386.1 1770.2Z" fill="#0048b7"/><path d="M351.5 1764.1L345.7 1769.5L351.4 1776.1L357.2 1770.9Z" fill="#0049b6"/><path d="M177.2 1958.8L171.5 1970.2L176.6 1975.1L182.4 1963.8Z" fill="#8aff00"/><path d="M316.9 1773.7L311.0 1780.2L316.6 1786.8L322.5 1780.4Z" fill="#0059a6"/><path d="M270.5 1803.5L264.7 1811.6L270.1 1817.9L276.0 1809.9Z" fill="#008a75"/><path d="M334.2 1768.3L328.3 1774.2L334.0 1780.9L339.9 1775.1Z" fill="#0050af"/><path d="M391.8 1766.1L386.1 1770.2L391.9 1776.7L397.6 1772.7Z" fill="#004bb4"/><path d="M159.5 2010.2L153.8 2022.3L158.8 2026.7L164.5 2014.7Z" fill="#ddff00"/><path d="M183.0 1947.5L177.2 1958.8L182.4 1963.8L188.1 1952.6Z" fill="#77ff00"/><path d="M293.7 1787.3L287.8 1794.6L293.4 1801.1L299.3 1793.9Z" fill="#006f90"/><path d="M264.7 1811.6L258.8 1819.9L264.3 1826.2L270.1 1817.9Z" fill="#009768"/><path d="M363.0 1765.9L357.2 1770.9L363.0 1777.5L368.8 1772.6Z" fill="#004bb4"/><path d="M188.7 1936.5L183.0 1947.5L188.1 1952.6L193.9 1941.7Z" fill="#64ff00"/><path d="M258.8 1819.9L252.9 1828.4L258.4 1834.6L264.3 1826.2Z" fill="#00a45b"/><path d="M311.0 1780.2L305.1 1786.9L310.7 1793.5L316.6 1786.8Z" fill="#00629d"/><path d="M345.7 1769.5L339.9 1775.1L345.6 1781.6L351.4 1776.1Z" fill="#0050af"/><path d="M165.2 1998.3L159.5 2010.2L164.5 2014.7L170.2 2002.9Z" fill="#c9ff00"/><path d="M287.8 1794.6L281.9 1802.2L287.5 1808.6L293.4 1801.1Z" fill="#007a85"/><path d="M328.3 1774.2L322.5 1780.4L328.1 1787.0L334.0 1780.9Z" fill="#0058a7"/><path d="M194.5 1925.6L188.7 1936.5L193.9 1941.7L199.7 1930.9Z" fill="#52ff00"/><path d="M252.9 1828.4L247.0 1837.2L252.5 1843.3L258.4 1834.6Z" fill="#00b14e"/><path d="M374.5 1767.9L368.8 1772.6L374.6 1779.1L380.3 1774.5Z" fill="#004db2"/><path d="M200.3 1915.0L194.5 1925.6L199.7 1930.9L205.5 1920.3Z" fill="#40ff00"/><path d="M247.0 1837.2L241.2 1846.2L246.6 1852.2L252.5 1843.3Z" fill="#00bf40"/><path d="M206.1 1904.5L200.3 1915.0L205.5 1920.3L211.4 1910.0Z" fill="#2eff00"/><path d="M170.9 1986.6L165.2 1998.3L170.2 2002.9L175.9 1991.3Z" fill="#b4ff00"/><path d="M281.9 1802.2L276.0 1809.9L281.6 1816.2L287.5 1808.6Z" fill="#008679"/><path d="M241.2 1846.2L235.3 1855.4L240.7 1861.3L246.6 1852.2Z" fill="#00ce31"/><path d="M305.1 1786.9L299.3 1793.9L304.8 1800.3L310.7 1793.5Z" fill="#006c93"/><path d="M211.9 1894.3L206.1 1904.5L211.4 1910.0L217.2 1899.8Z" fill="#1dff00"/><path d="M235.3 1855.4L229.5 1864.8L234.8 1870.6L240.7 1861.3Z" fill="#00dd22"/><path d="M386.1 1770.2L380.3 1774.5L386.2 1781.0L391.9 1776.7Z" fill="#0050af"/><path d="M357.2 1770.9L351.4 1776.1L357.1 1782.6L363.0 1777.5Z" fill="#0051ae"/><path d="M217.8 1884.3L211.9 1894.3L217.2 1899.8L223.1 1889.9Z" fill="#0dff00"/><path d="M229.5 1864.8L223.6 1874.4L228.9 1880.1L234.8 1870.6Z" fill="#00ec13"/><path d="M223.6 1874.4L217.8 1884.3L223.1 1889.9L228.9 1880.1Z" fill="#00fb04"/><path d="M322.5 1780.4L316.6 1786.8L322.3 1793.3L328.1 1787.0Z" fill="#00619e"/><path d="M339.9 1775.1L334.0 1780.9L339.7 1787.4L345.6 1781.6Z" fill="#0058a7"/><path d="M176.6 1975.1L170.9 1986.6L175.9 1991.3L181.7 1979.8Z" fill="#a0ff00"/><path d="M276.0 1809.9L270.1 1817.9L275.7 1824.1L281.6 1816.2Z" fill="#00916e"/><path d="M397.6 1772.7L391.9 1776.7L397.8 1783.1L403.5 1779.2Z" fill="#0053ac"/><path d="M299.3 1793.9L293.4 1801.1L298.9 1807.5L304.8 1800.3Z" fill="#007788"/><path d="M158.8 2026.7L153.1 2038.9L158.1 2043.1L163.8 2031.0Z" fill="#f4ff00"/><path d="M368.8 1772.6L363.0 1777.5L368.8 1783.9L374.6 1779.1Z" fill="#0053ac"/><path d="M182.4 1963.8L176.6 1975.1L181.7 1979.8L187.5 1968.6Z" fill="#8dff00"/><path d="M270.1 1817.9L264.3 1826.2L269.7 1832.3L275.7 1824.1Z" fill="#009e61"/><path d="M316.6 1786.8L310.7 1793.5L316.4 1799.8L322.3 1793.3Z" fill="#006a95"/><path d="M351.4 1776.1L345.6 1781.6L351.3 1788.0L357.1 1782.6Z" fill="#0058a7"/><path d="M188.1 1952.6L182.4 1963.8L187.5 1968.6L193.3 1957.5Z" fill="#7aff00"/><path d="M264.3 1826.2L258.4 1834.6L263.8 1840.6L269.7 1832.3Z" fill="#00ab54"/><path d="M293.4 1801.1L287.5 1808.6L293.0 1814.8L298.9 1807.5Z" fill="#00817e"/><path d="M334.0 1780.9L328.1 1787.0L333.8 1793.3L339.7 1787.4Z" fill="#00609f"/><path d="M164.5 2014.7L158.8 2026.7L163.8 2031.0L169.5 2019.1Z" fill="#dfff00"/><path d="M380.3 1774.5L374.6 1779.1L380.4 1785.4L386.2 1781.0Z" fill="#0055aa"/><path d="M193.9 1941.7L188.1 1952.6L193.3 1957.5L199.1 1946.6Z" fill="#67ff00"/><path d="M258.4 1834.6L252.5 1843.3L257.9 1849.2L263.8 1840.6Z" fill="#00b847"/><path d="M199.7 1930.9L193.9 1941.7L199.1 1946.6L204.9 1936.0Z" fill="#55ff00"/><path d="M252.5 1843.3L246.6 1852.2L252.0 1858.0L257.9 1849.2Z" fill="#00c53a"/><path d="M287.5 1808.6L281.6 1816.2L287.1 1822.4L293.0 1814.8Z" fill="#008d72"/><path d="M310.7 1793.5L304.8 1800.3L310.5 1806.6L316.4 1799.8Z" fill="#00748b"/><path d="M170.2 2002.9L164.5 2014.7L169.5 2019.1L175.3 2007.3Z" fill="#caff00"/><path d="M391.9 1776.7L386.2 1781.0L392.0 1787.2L397.8 1783.1Z" fill="#0057a8"/><path d="M363.0 1777.5L357.1 1782.6L362.9 1789.0L368.8 1783.9Z" fill="#0059a6"/><path d="M205.5 1920.3L199.7 1930.9L204.9 1936.0L210.8 1925.5Z" fill="#44ff00"/><path d="M246.6 1852.2L240.7 1861.3L246.1 1867.0L252.0 1858.0Z" fill="#00d42b"/><path d="M211.4 1910.0L205.5 1920.3L210.8 1925.5L216.6 1915.2Z" fill="#32ff00"/><path d="M240.7 1861.3L234.8 1870.6L240.2 1876.2L246.1 1867.0Z" fill="#00e21d"/><path d="M328.1 1787.0L322.3 1793.3L328.0 1799.5L333.8 1793.3Z" fill="#006897"/><path d="M345.6 1781.6L339.7 1787.4L345.5 1793.7L351.3 1788.0Z" fill="#005fa0"/><path d="M217.2 1899.8L211.4 1910.0L216.6 1915.2L222.5 1905.1Z" fill="#22ff00"/><path d="M234.8 1870.6L228.9 1880.1L234.3 1885.6L240.2 1876.2Z" fill="#00f10e"/><path d="M223.1 1889.9L217.2 1899.8L222.5 1905.1L228.4 1895.3Z" fill="#11ff00"/><path d="M228.9 1880.1L223.1 1889.9L228.4 1895.3L234.3 1885.6Z" fill="#02ff00"/><path d="M281.6 1816.2L275.7 1824.1L281.2 1830.2L287.1 1822.4Z" fill="#009867"/><path d="M403.5 1779.2L397.8 1783.1L403.7 1789.3L409.4 1785.5Z" fill="#005aa5"/><path d="M175.9 1991.3L170.2 2002.9L175.3 2007.3L181.0 1995.8Z" fill="#b6ff00"/><path d="M304.8 1800.3L298.9 1807.5L304.6 1813.6L310.5 1806.6Z" fill="#007e81"/><path d="M374.6 1779.1L368.8 1783.9L374.6 1790.1L380.4 1785.4Z" fill="#005aa5"/><path d="M275.7 1824.1L269.7 1832.3L275.3 1838.2L281.2 1830.2Z" fill="#00a45b"/><path d="M181.7 1979.8L175.9 1991.3L181.0 1995.8L186.8 1984.4Z" fill="#a3ff00"/><path d="M322.3 1793.3L316.4 1799.8L322.1 1806.0L328.0 1799.5Z" fill="#00718e"/><path d="M357.1 1782.6L351.3 1788.0L357.1 1794.2L362.9 1789.0Z" fill="#005fa0"/><path d="M339.7 1787.4L333.8 1793.3L339.6 1799.5L345.5 1793.7Z" fill="#006798"/><path d="M269.7 1832.3L263.8 1840.6L269.3 1846.4L275.3 1838.2Z" fill="#00b14e"/><path d="M298.9 1807.5L293.0 1814.8L298.6 1820.8L304.6 1813.6Z" fill="#008877"/><path d="M187.5 1968.6L181.7 1979.8L186.8 1984.4L192.6 1973.2Z" fill="#8fff00"/><path d="M386.2 1781.0L380.4 1785.4L386.3 1791.6L392.0 1787.2Z" fill="#005ca3"/><path d="M163.8 2031.0L158.1 2043.1L163.0 2047.1L168.8 2035.1Z" fill="#f4ff00"/><path d="M263.8 1840.6L257.9 1849.2L263.4 1854.9L269.3 1846.4Z" fill="#00be41"/><path d="M193.3 1957.5L187.5 1968.6L192.6 1973.2L198.5 1962.3Z" fill="#7dff00"/><path d="M316.4 1799.8L310.5 1806.6L316.1 1812.6L322.1 1806.0Z" fill="#007a85"/><path d="M293.0 1814.8L287.1 1822.4L292.7 1828.3L298.6 1820.8Z" fill="#00936c"/><path d="M368.8 1783.9L362.9 1789.0L368.8 1795.1L374.6 1790.1Z" fill="#00609f"/><path d="M397.8 1783.1L392.0 1787.2L398.0 1793.3L403.7 1789.3Z" fill="#005ea1"/><path d="M257.9 1849.2L252.0 1858.0L257.5 1863.6L263.4 1854.9Z" fill="#00cb34"/><path d="M199.1 1946.6L193.3 1957.5L198.5 1962.3L204.3 1951.5Z" fill="#6aff00"/><path d="M169.5 2019.1L163.8 2031.0L168.8 2035.1L174.6 2023.3Z" fill="#e0ff00"/><path d="M333.8 1793.3L328.0 1799.5L333.7 1805.6L339.6 1799.5Z" fill="#006f90"/><path d="M252.0 1858.0L246.1 1867.0L251.5 1872.5L257.5 1863.6Z" fill="#00d926"/><path d="M351.3 1788.0L345.5 1793.7L351.2 1799.8L357.1 1794.2Z" fill="#006699"/><path d="M204.9 1936.0L199.1 1946.6L204.3 1951.5L210.2 1940.9Z" fill="#59ff00"/><path d="M246.1 1867.0L240.2 1876.2L245.6 1881.6L251.5 1872.5Z" fill="#00e718"/><path d="M210.8 1925.5L204.9 1936.0L210.2 1940.9L216.1 1930.5Z" fill="#47ff00"/><path d="M409.4 1785.5L403.7 1789.3L409.7 1795.3L415.4 1791.6Z" fill="#00619e"/><path d="M287.1 1822.4L281.2 1830.2L286.8 1836.0L292.7 1828.3Z" fill="#009e61"/><path d="M240.2 1876.2L234.3 1885.6L239.7 1891.0L245.6 1881.6Z" fill="#00f609"/><path d="M216.6 1915.2L210.8 1925.5L216.1 1930.5L222.0 1920.3Z" fill="#36ff00"/><path d="M234.3 1885.6L228.4 1895.3L233.8 1900.5L239.7 1891.0Z" fill="#06ff00"/><path d="M222.5 1905.1L216.6 1915.2L222.0 1920.3L227.9 1910.3Z" fill="#26ff00"/><path d="M175.3 2007.3L169.5 2019.1L174.6 2023.3L180.3 2011.6Z" fill="#cbff00"/><path d="M310.5 1806.6L304.6 1813.6L310.2 1819.6L316.1 1812.6Z" fill="#00847b"/><path d="M228.4 1895.3L222.5 1905.1L227.9 1910.3L233.8 1900.5Z" fill="#16ff00"/><path d="M380.4 1785.4L374.6 1790.1L380.5 1796.2L386.3 1791.6Z" fill="#00619e"/><path d="M281.2 1830.2L275.3 1838.2L280.8 1843.9L286.8 1836.0Z" fill="#00aa55"/><path d="M328.0 1799.5L322.1 1806.0L327.8 1812.0L333.7 1805.6Z" fill="#007887"/><path d="M362.9 1789.0L357.1 1794.2L362.9 1800.3L368.8 1795.1Z" fill="#006699"/><path d="M181.0 1995.8L175.3 2007.3L180.3 2011.6L186.2 2000.1Z" fill="#b8ff00"/><path d="M345.5 1793.7L339.6 1799.5L345.3 1805.5L351.2 1799.8Z" fill="#006e91"/><path d="M392.0 1787.2L386.3 1791.6L392.2 1797.6L398.0 1793.3Z" fill="#00639c"/><path d="M304.6 1813.6L298.6 1820.8L304.3 1826.7L310.2 1819.6Z" fill="#008e71"/><path d="M275.3 1838.2L269.3 1846.4L274.9 1852.1L280.8 1843.9Z" fill="#00b649"/><path d="M186.8 1984.4L181.0 1995.8L186.2 2000.1L192.0 1988.8Z" fill="#a4ff00"/><path d="M269.3 1846.4L263.4 1854.9L268.9 1860.4L274.9 1852.1Z" fill="#00c33c"/><path d="M192.6 1973.2L186.8 1984.4L192.0 1988.8L197.8 1977.7Z" fill="#91ff00"/><path d="M374.6 1790.1L368.8 1795.1L374.6 1801.0L380.5 1796.2Z" fill="#006798"/><path d="M322.1 1806.0L316.1 1812.6L321.8 1818.5L327.8 1812.0Z" fill="#00817e"/><path d="M403.7 1789.3L398.0 1793.3L403.9 1799.2L409.7 1795.3Z" fill="#00659a"/><path d="M298.6 1820.8L292.7 1828.3L298.3 1834.1L304.3 1826.7Z" fill="#009966"/><path d="M263.4 1854.9L257.5 1863.6L263.0 1869.0L268.9 1860.4Z" fill="#00d02f"/><path d="M357.1 1794.2L351.2 1799.8L357.0 1805.7L362.9 1800.3Z" fill="#006d92"/><path d="M339.6 1799.5L333.7 1805.6L339.4 1811.5L345.3 1805.5Z" fill="#007689"/><path d="M198.5 1962.3L192.6 1973.2L197.8 1977.7L203.7 1966.8Z" fill="#7fff00"/><path d="M168.8 2035.1L163.0 2047.1L168.0 2051.0L173.8 2039.0Z" fill="#f5ff00"/><path d="M257.5 1863.6L251.5 1872.5L257.0 1877.9L263.0 1869.0Z" fill="#00de21"/><path d="M415.4 1791.6L409.7 1795.3L415.7 1801.1L421.4 1797.5Z" fill="#006798"/><path d="M204.3 1951.5L198.5 1962.3L203.7 1966.8L209.6 1956.1Z" fill="#6dff00"/><path d="M292.7 1828.3L286.8 1836.0L292.4 1841.7L298.3 1834.1Z" fill="#00a45b"/><path d="M251.5 1872.5L245.6 1881.6L251.1 1886.9L257.0 1877.9Z" fill="#00ec13"/><path d="M386.3 1791.6L380.5 1796.2L386.4 1802.1L392.2 1797.6Z" fill="#006798"/><path d="M210.2 1940.9L204.3 1951.5L209.6 1956.1L215.5 1945.6Z" fill="#5bff00"/><path d="M316.1 1812.6L310.2 1819.6L315.9 1825.3L321.8 1818.5Z" fill="#008a75"/><path d="M245.6 1881.6L239.7 1891.0L245.1 1896.2L251.1 1886.9Z" fill="#00fa05"/><path d="M174.6 2023.3L168.8 2035.1L173.8 2039.0L179.6 2027.3Z" fill="#e0ff00"/><path d="M216.1 1930.5L210.2 1940.9L215.5 1945.6L221.4 1935.3Z" fill="#4aff00"/><path d="M239.7 1891.0L233.8 1900.5L239.2 1905.6L245.1 1896.2Z" fill="#0aff00"/><path d="M222.0 1920.3L216.1 1930.5L221.4 1935.3L227.3 1925.2Z" fill="#3aff00"/><path d="M233.8 1900.5L227.9 1910.3L233.2 1915.3L239.2 1905.6Z" fill="#1aff00"/><path d="M227.9 1910.3L222.0 1920.3L227.3 1925.2L233.2 1915.3Z" fill="#29ff00"/><path d="M286.8 1836.0L280.8 1843.9L286.4 1849.5L292.4 1841.7Z" fill="#00b04f"/><path d="M368.8 1795.1L362.9 1800.3L368.8 1806.1L374.6 1801.0Z" fill="#006d92"/><path d="M333.7 1805.6L327.8 1812.0L333.5 1817.8L339.4 1811.5Z" fill="#007e81"/><path d="M351.2 1799.8L345.3 1805.5L351.1 1811.3L357.0 1805.7Z" fill="#00748b"/><path d="M180.3 2011.6L174.6 2023.3L179.6 2027.3L185.5 2015.7Z" fill="#ccff00"/><path d="M398.0 1793.3L392.2 1797.6L398.1 1803.3L403.9 1799.2Z" fill="#006996"/><path d="M310.2 1819.6L304.3 1826.7L309.9 1832.4L315.9 1825.3Z" fill="#00946b"/><path d="M280.8 1843.9L274.9 1852.1L280.4 1857.5L286.4 1849.5Z" fill="#00bc43"/><path d="M186.2 2000.1L180.3 2011.6L185.5 2015.7L191.3 2004.3Z" fill="#b9ff00"/><path d="M380.5 1796.2L374.6 1801.0L380.5 1806.8L386.4 1802.1Z" fill="#006d92"/><path d="M274.9 1852.1L268.9 1860.4L274.5 1865.8L280.4 1857.5Z" fill="#00c837"/><path d="M327.8 1812.0L321.8 1818.5L327.6 1824.2L333.5 1817.8Z" fill="#008778"/><path d="M409.7 1795.3L403.9 1799.2L409.9 1804.9L415.7 1801.1Z" fill="#006b94"/><path d="M304.3 1826.7L298.3 1834.1L304.0 1839.6L309.9 1832.4Z" fill="#009f60"/><path d="M192.0 1988.8L186.2 2000.1L191.3 2004.3L197.2 1993.1Z" fill="#a6ff00"/><path d="M362.9 1800.3L357.0 1805.7L362.9 1811.4L368.8 1806.1Z" fill="#00738c"/><path d="M345.3 1805.5L339.4 1811.5L345.2 1817.2L351.1 1811.3Z" fill="#007c83"/><path d="M268.9 1860.4L263.0 1869.0L268.5 1874.3L274.5 1865.8Z" fill="#00d52a"/><path d="M197.8 1977.7L192.0 1988.8L197.2 1993.1L203.1 1982.1Z" fill="#93ff00"/><path d="M421.4 1797.5L415.7 1801.1L421.7 1806.7L427.4 1803.2Z" fill="#006d92"/><path d="M263.0 1869.0L257.0 1877.9L262.5 1883.0L268.5 1874.3Z" fill="#00e21d"/><path d="M298.3 1834.1L292.4 1841.7L298.0 1847.1L304.0 1839.6Z" fill="#00a956"/><path d="M392.2 1797.6L386.4 1802.1L392.3 1807.7L398.1 1803.3Z" fill="#006d92"/><path d="M203.7 1966.8L197.8 1977.7L203.1 1982.1L209.0 1971.2Z" fill="#81ff00"/><path d="M321.8 1818.5L315.9 1825.3L321.6 1830.9L327.6 1824.2Z" fill="#00906f"/><path d="M257.0 1877.9L251.1 1886.9L256.5 1892.0L262.5 1883.0Z" fill="#00f00f"/><path d="M209.6 1956.1L203.7 1966.8L209.0 1971.2L214.9 1960.6Z" fill="#6fff00"/><path d="M173.8 2039.0L168.0 2051.0L173.1 2054.7L178.9 2042.8Z" fill="#f4ff00"/><path d="M251.1 1886.9L245.1 1896.2L250.6 1901.2L256.5 1892.0Z" fill="#00fe01"/><path d="M374.6 1801.0L368.8 1806.1L374.7 1811.8L380.5 1806.8Z" fill="#00738c"/><path d="M215.5 1945.6L209.6 1956.1L214.9 1960.6L220.8 1950.2Z" fill="#5eff00"/><path d="M339.4 1811.5L333.5 1817.8L339.3 1823.4L345.2 1817.2Z" fill="#00847b"/><path d="M292.4 1841.7L286.4 1849.5L292.0 1854.9L298.0 1847.1Z" fill="#00b54a"/><path d="M245.1 1896.2L239.2 1905.6L244.6 1910.5L250.6 1901.2Z" fill="#0eff00"/><path d="M221.4 1935.3L215.5 1945.6L220.8 1950.2L226.7 1940.0Z" fill="#4dff00"/><path d="M357.0 1805.7L351.1 1811.3L357.0 1817.0L362.9 1811.4Z" fill="#007a85"/><path d="M239.2 1905.6L233.2 1915.3L238.6 1920.1L244.6 1910.5Z" fill="#1dff00"/><path d="M227.3 1925.2L221.4 1935.3L226.7 1940.0L232.7 1929.9Z" fill="#3cff00"/><path d="M233.2 1915.3L227.3 1925.2L232.7 1929.9L238.6 1920.1Z" fill="#2cff00"/><path d="M403.9 1799.2L398.1 1803.3L404.1 1809.0L409.9 1804.9Z" fill="#006f90"/><path d="M315.9 1825.3L309.9 1832.4L315.6 1837.9L321.6 1830.9Z" fill="#009a65"/><path d="M179.6 2027.3L173.8 2039.0L178.9 2042.8L184.7 2031.1Z" fill="#e0ff00"/><path d="M286.4 1849.5L280.4 1857.5L286.0 1862.8L292.0 1854.9Z" fill="#00c03f"/><path d="M386.4 1802.1L380.5 1806.8L386.5 1812.4L392.3 1807.7Z" fill="#00738c"/><path d="M415.7 1801.1L409.9 1804.9L416.0 1810.4L421.7 1806.7Z" fill="#00708f"/><path d="M185.5 2015.7L179.6 2027.3L184.7 2031.1L190.6 2019.6Z" fill="#cdff00"/><path d="M333.5 1817.8L327.6 1824.2L333.3 1829.7L339.3 1823.4Z" fill="#008c73"/><path d="M280.4 1857.5L274.5 1865.8L280.0 1871.0L286.0 1862.8Z" fill="#00cd32"/><path d="M309.9 1832.4L304.0 1839.6L309.7 1845.0L315.6 1837.9Z" fill="#00a45b"/><path d="M368.8 1806.1L362.9 1811.4L368.8 1817.0L374.7 1811.8Z" fill="#007986"/><path d="M351.1 1811.3L345.2 1817.2L351.1 1822.8L357.0 1817.0Z" fill="#00817e"/><path d="M191.3 2004.3L185.5 2015.7L190.6 2019.6L196.5 2008.3Z" fill="#b9ff00"/><path d="M274.5 1865.8L268.5 1874.3L274.0 1879.4L280.0 1871.0Z" fill="#00d926"/><path d="M427.4 1803.2L421.7 1806.7L427.8 1812.2L433.5 1808.8Z" fill="#00738c"/><path d="M398.1 1803.3L392.3 1807.7L398.3 1813.3L404.1 1809.0Z" fill="#00738c"/><path d="M197.2 1993.1L191.3 2004.3L196.5 2008.3L202.4 1997.1Z" fill="#a6ff00"/><path d="M304.0 1839.6L298.0 1847.1L303.7 1852.4L309.7 1845.0Z" fill="#00ae51"/><path d="M327.6 1824.2L321.6 1830.9L327.4 1836.3L333.3 1829.7Z" fill="#00956a"/><path d="M268.5 1874.3L262.5 1883.0L268.0 1888.1L274.0 1879.4Z" fill="#00e619"/><path d="M203.1 1982.1L197.2 1993.1L202.4 1997.1L208.3 1986.2Z" fill="#94ff00"/><path d="M262.5 1883.0L256.5 1892.0L262.0 1896.9L268.0 1888.1Z" fill="#00f40b"/><path d="M380.5 1806.8L374.7 1811.8L380.6 1817.3L386.5 1812.4Z" fill="#007887"/><path d="M345.2 1817.2L339.3 1823.4L345.1 1828.8L351.1 1822.8Z" fill="#008976"/><path d="M209.0 1971.2L203.1 1982.1L208.3 1986.2L214.2 1975.5Z" fill="#82ff00"/><path d="M362.9 1811.4L357.0 1817.0L362.9 1822.4L368.8 1817.0Z" fill="#007f80"/><path d="M256.5 1892.0L250.6 1901.2L256.0 1906.0L262.0 1896.9Z" fill="#03ff00"/><path d="M298.0 1847.1L292.0 1854.9L297.7 1860.1L303.7 1852.4Z" fill="#00b946"/><path d="M409.9 1804.9L404.1 1809.0L410.2 1814.4L416.0 1810.4Z" fill="#00748b"/><path d="M214.9 1960.6L209.0 1971.2L214.2 1975.5L220.2 1964.9Z" fill="#71ff00"/><path d="M250.6 1901.2L244.6 1910.5L250.1 1915.3L256.0 1906.0Z" fill="#11ff00"/><path d="M321.6 1830.9L315.6 1837.9L321.4 1843.2L327.4 1836.3Z" fill="#009f60"/><path d="M220.8 1950.2L214.9 1960.6L220.2 1964.9L226.1 1954.6Z" fill="#60ff00"/><path d="M244.6 1910.5L238.6 1920.1L244.1 1924.8L250.1 1915.3Z" fill="#20ff00"/><path d="M226.7 1940.0L220.8 1950.2L226.1 1954.6L232.1 1944.4Z" fill="#4fff00"/><path d="M238.6 1920.1L232.7 1929.9L238.1 1934.5L244.1 1924.8Z" fill="#2fff00"/><path d="M232.7 1929.9L226.7 1940.0L232.1 1944.4L238.1 1934.5Z" fill="#3fff00"/><path d="M178.9 2042.8L173.1 2054.7L178.2 2058.2L184.0 2046.4Z" fill="#f4ff00"/><path d="M292.0 1854.9L286.0 1862.8L291.7 1867.9L297.7 1860.1Z" fill="#00c53a"/><path d="M392.3 1807.7L386.5 1812.4L392.5 1817.8L398.3 1813.3Z" fill="#007887"/><path d="M421.7 1806.7L416.0 1810.4L422.1 1815.8L427.8 1812.2Z" fill="#007689"/><path d="M339.3 1823.4L333.3 1829.7L339.1 1835.1L345.1 1828.8Z" fill="#00916e"/><path d="M184.7 2031.1L178.9 2042.8L184.0 2046.4L189.9 2034.8Z" fill="#e0ff00"/><path d="M315.6 1837.9L309.7 1845.0L315.4 1850.3L321.4 1843.2Z" fill="#00a956"/><path d="M286.0 1862.8L280.0 1871.0L285.6 1876.0L291.7 1867.9Z" fill="#00d12e"/><path d="M374.7 1811.8L368.8 1817.0L374.7 1822.4L380.6 1817.3Z" fill="#007e81"/><path d="M357.0 1817.0L351.1 1822.8L356.9 1828.1L362.9 1822.4Z" fill="#008679"/><path d="M433.5 1808.8L427.8 1812.2L434.0 1817.4L439.7 1814.2Z" fill="#007887"/><path d="M190.6 2019.6L184.7 2031.1L189.9 2034.8L195.8 2023.4Z" fill="#ccff00"/><path d="M280.0 1871.0L274.0 1879.4L279.6 1884.3L285.6 1876.0Z" fill="#00dd22"/><path d="M404.1 1809.0L398.3 1813.3L404.4 1818.6L410.2 1814.4Z" fill="#007887"/><path d="M309.7 1845.0L303.7 1852.4L309.4 1857.6L315.4 1850.3Z" fill="#00b34c"/><path d="M333.3 1829.7L327.4 1836.3L333.2 1841.6L339.1 1835.1Z" fill="#009a65"/><path d="M196.5 2008.3L190.6 2019.6L195.8 2023.4L201.7 2012.1Z" fill="#b9ff00"/><path d="M274.0 1879.4L268.0 1888.1L273.6 1892.9L279.6 1884.3Z" fill="#00ea15"/><path d="M386.5 1812.4L380.6 1817.3L386.6 1822.6L392.5 1817.8Z" fill="#007d82"/><path d="M351.1 1822.8L345.1 1828.8L351.0 1834.1L356.9 1828.1Z" fill="#008e71"/><path d="M202.4 1997.1L196.5 2008.3L201.7 2012.1L207.6 2001.0Z" fill="#a7ff00"/><path d="M268.0 1888.1L262.0 1896.9L267.6 1901.6L273.6 1892.9Z" fill="#00f708"/><path d="M368.8 1817.0L362.9 1822.4L368.8 1827.7L374.7 1822.4Z" fill="#00847b"/><path d="M416.0 1810.4L410.2 1814.4L416.3 1819.6L422.1 1815.8Z" fill="#007986"/><path d="M303.7 1852.4L297.7 1860.1L303.4 1865.1L309.4 1857.6Z" fill="#00be41"/><path d="M208.3 1986.2L202.4 1997.1L207.6 2001.0L213.6 1990.2Z" fill="#95ff00"/><path d="M262.0 1896.9L256.0 1906.0L261.6 1910.6L267.6 1901.6Z" fill="#06ff00"/><path d="M327.4 1836.3L321.4 1843.2L327.2 1848.3L333.2 1841.6Z" fill="#00a35c"/><path d="M214.2 1975.5L208.3 1986.2L213.6 1990.2L219.6 1979.5Z" fill="#83ff00"/><path d="M256.0 1906.0L250.1 1915.3L255.5 1919.8L261.6 1910.6Z" fill="#14ff00"/><path d="M220.2 1964.9L214.2 1975.5L219.6 1979.5L225.5 1969.0Z" fill="#72ff00"/><path d="M250.1 1915.3L244.1 1924.8L249.5 1929.2L255.5 1919.8Z" fill="#22ff00"/><path d="M297.7 1860.1L291.7 1867.9L297.3 1872.9L303.4 1865.1Z" fill="#00c936"/><path d="M226.1 1954.6L220.2 1964.9L225.5 1969.0L231.5 1958.8Z" fill="#61ff00"/><path d="M244.1 1924.8L238.1 1934.5L243.5 1938.9L249.5 1929.2Z" fill="#31ff00"/><path d="M398.3 1813.3L392.5 1817.8L398.5 1823.0L404.4 1818.6Z" fill="#007d82"/><path d="M232.1 1944.4L226.1 1954.6L231.5 1958.8L237.5 1948.7Z" fill="#51ff00"/><path d="M238.1 1934.5L232.1 1944.4L237.5 1948.7L243.5 1938.9Z" fill="#41ff00"/><path d="M427.8 1812.2L422.1 1815.8L428.2 1820.9L434.0 1817.4Z" fill="#007a85"/><path d="M345.1 1828.8L339.1 1835.1L345.0 1840.2L351.0 1834.1Z" fill="#009669"/><path d="M380.6 1817.3L374.7 1822.4L380.7 1827.6L386.6 1822.6Z" fill="#00837c"/><path d="M321.4 1843.2L315.4 1850.3L321.2 1855.3L327.2 1848.3Z" fill="#00ad52"/><path d="M362.9 1822.4L356.9 1828.1L362.8 1833.3L368.8 1827.7Z" fill="#008b74"/><path d="M291.7 1867.9L285.6 1876.0L291.3 1880.9L297.3 1872.9Z" fill="#00d42b"/><path d="M184.0 2046.4L178.2 2058.2L183.3 2061.6L189.1 2049.9Z" fill="#f3ff00"/><path d="M439.7 1814.2L434.0 1817.4L440.2 1822.5L445.9 1819.4Z" fill="#007c83"/><path d="M410.2 1814.4L404.4 1818.6L410.5 1823.7L416.3 1819.6Z" fill="#007d82"/><path d="M285.6 1876.0L279.6 1884.3L285.3 1889.1L291.3 1880.9Z" fill="#00e01f"/><path d="M189.9 2034.8L184.0 2046.4L189.1 2049.9L195.1 2038.3Z" fill="#dfff00"/><path d="M339.1 1835.1L333.2 1841.6L339.0 1846.6L345.0 1840.2Z" fill="#009e61"/><path d="M315.4 1850.3L309.4 1857.6L315.1 1862.5L321.2 1855.3Z" fill="#00b748"/><path d="M392.5 1817.8L386.6 1822.6L392.6 1827.7L398.5 1823.0Z" fill="#00827d"/><path d="M279.6 1884.3L273.6 1892.9L279.2 1897.5L285.3 1889.1Z" fill="#00ed12"/><path d="M195.8 2023.4L189.9 2034.8L195.1 2038.3L201.0 2026.9Z" fill="#ccff00"/><path d="M356.9 1828.1L351.0 1834.1L356.9 1839.1L362.8 1833.3Z" fill="#00926d"/><path d="M374.7 1822.4L368.8 1827.7L374.8 1832.8L380.7 1827.6Z" fill="#008976"/><path d="M422.1 1815.8L416.3 1819.6L422.4 1824.7L428.2 1820.9Z" fill="#007e81"/><path d="M273.6 1892.9L267.6 1901.6L273.2 1906.2L279.2 1897.5Z" fill="#00fa05"/><path d="M309.4 1857.6L303.4 1865.1L309.1 1869.9L315.1 1862.5Z" fill="#00c13e"/><path d="M201.7 2012.1L195.8 2023.4L201.0 2026.9L207.0 2015.8Z" fill="#b9ff00"/><path d="M333.2 1841.6L327.2 1848.3L333.0 1853.3L339.0 1846.6Z" fill="#00a758"/><path d="M267.6 1901.6L261.6 1910.6L267.1 1915.1L273.2 1906.2Z" fill="#08ff00"/><path d="M207.6 2001.0L201.7 2012.1L207.0 2015.8L212.9 2004.8Z" fill="#a7ff00"/><path d="M261.6 1910.6L255.5 1919.8L261.1 1924.2L267.1 1915.1Z" fill="#16ff00"/><path d="M404.4 1818.6L398.5 1823.0L404.6 1828.0L410.5 1823.7Z" fill="#00817e"/><path d="M213.6 1990.2L207.6 2001.0L212.9 2004.8L218.9 1994.0Z" fill="#95ff00"/><path d="M303.4 1865.1L297.3 1872.9L303.0 1877.6L309.1 1869.9Z" fill="#00cc33"/><path d="M434.0 1817.4L428.2 1820.9L434.4 1825.9L440.2 1822.5Z" fill="#007f80"/><path d="M351.0 1834.1L345.0 1840.2L350.9 1845.2L356.9 1839.1Z" fill="#009a65"/><path d="M255.5 1919.8L249.5 1929.2L255.0 1933.5L261.1 1924.2Z" fill="#24ff00"/><path d="M219.6 1979.5L213.6 1990.2L218.9 1994.0L224.9 1983.4Z" fill="#84ff00"/><path d="M249.5 1929.2L243.5 1938.9L249.0 1943.1L255.0 1933.5Z" fill="#33ff00"/><path d="M225.5 1969.0L219.6 1979.5L224.9 1983.4L230.9 1973.0Z" fill="#73ff00"/><path d="M386.6 1822.6L380.7 1827.6L386.7 1832.6L392.6 1827.7Z" fill="#008778"/><path d="M243.5 1938.9L237.5 1948.7L243.0 1952.9L249.0 1943.1Z" fill="#42ff00"/><path d="M368.8 1827.7L362.8 1833.3L368.8 1838.3L374.8 1832.8Z" fill="#008f70"/><path d="M231.5 1958.8L225.5 1969.0L230.9 1973.0L236.9 1962.8Z" fill="#62ff00"/><path d="M327.2 1848.3L321.2 1855.3L327.0 1860.2L333.0 1853.3Z" fill="#00b14e"/><path d="M237.5 1948.7L231.5 1958.8L236.9 1962.8L243.0 1952.9Z" fill="#52ff00"/><path d="M297.3 1872.9L291.3 1880.9L297.0 1885.5L303.0 1877.6Z" fill="#00d827"/><path d="M445.9 1819.4L440.2 1822.5L446.4 1827.4L452.1 1824.4Z" fill="#00807f"/><path d="M416.3 1819.6L410.5 1823.7L416.6 1828.7L422.4 1824.7Z" fill="#00817e"/><path d="M345.0 1840.2L339.0 1846.6L344.9 1851.5L350.9 1845.2Z" fill="#00a25d"/><path d="M291.3 1880.9L285.3 1889.1L290.9 1893.6L297.0 1885.5Z" fill="#00e31c"/><path d="M321.2 1855.3L315.1 1862.5L320.9 1867.3L327.0 1860.2Z" fill="#00ba45"/><path d="M189.1 2049.9L183.3 2061.6L188.4 2064.8L194.3 2053.2Z" fill="#f1ff00"/><path d="M398.5 1823.0L392.6 1827.7L398.7 1832.6L404.6 1828.0Z" fill="#008679"/><path d="M362.8 1833.3L356.9 1839.1L362.8 1844.0L368.8 1838.3Z" fill="#009669"/><path d="M285.3 1889.1L279.2 1897.5L284.9 1902.0L290.9 1893.6Z" fill="#00f00f"/><path d="M380.7 1827.6L374.8 1832.8L380.8 1837.7L386.7 1832.6Z" fill="#008d72"/><path d="M428.2 1820.9L422.4 1824.7L428.6 1829.6L434.4 1825.9Z" fill="#00827d"/><path d="M195.1 2038.3L189.1 2049.9L194.3 2053.2L200.3 2041.7Z" fill="#deff00"/><path d="M315.1 1862.5L309.1 1869.9L314.9 1874.6L320.9 1867.3Z" fill="#00c53a"/><path d="M279.2 1897.5L273.2 1906.2L278.8 1910.6L284.9 1902.0Z" fill="#00fc03"/><path d="M339.0 1846.6L333.0 1853.3L338.9 1858.1L344.9 1851.5Z" fill="#00ab54"/><path d="M201.0 2026.9L195.1 2038.3L200.3 2041.7L206.3 2030.4Z" fill="#cbff00"/><path d="M273.2 1906.2L267.1 1915.1L272.7 1919.4L278.8 1910.6Z" fill="#0aff00"/><path d="M410.5 1823.7L404.6 1828.0L410.7 1832.9L416.6 1828.7Z" fill="#00857a"/><path d="M207.0 2015.8L201.0 2026.9L206.3 2030.4L212.2 2019.2Z" fill="#b8ff00"/><path d="M440.2 1822.5L434.4 1825.9L440.7 1830.7L446.4 1827.4Z" fill="#00837c"/><path d="M309.1 1869.9L303.0 1877.6L308.8 1882.2L314.9 1874.6Z" fill="#00cf30"/><path d="M356.9 1839.1L350.9 1845.2L356.8 1850.0L362.8 1844.0Z" fill="#009e61"/><path d="M267.1 1915.1L261.1 1924.2L266.7 1928.4L272.7 1919.4Z" fill="#18ff00"/><path d="M212.9 2004.8L207.0 2015.8L212.2 2019.2L218.2 2008.3Z" fill="#a6ff00"/><path d="M392.6 1827.7L386.7 1832.6L392.8 1837.4L398.7 1832.6Z" fill="#008b74"/><path d="M374.8 1832.8L368.8 1838.3L374.8 1843.1L380.8 1837.7Z" fill="#00936c"/><path d="M261.1 1924.2L255.0 1933.5L260.6 1937.7L266.7 1928.4Z" fill="#26ff00"/><path d="M333.0 1853.3L327.0 1860.2L332.8 1864.8L338.9 1858.1Z" fill="#00b44b"/><path d="M218.9 1994.0L212.9 2004.8L218.2 2008.3L224.3 1997.6Z" fill="#95ff00"/><path d="M255.0 1933.5L249.0 1943.1L254.5 1947.1L260.6 1937.7Z" fill="#35ff00"/><path d="M224.9 1983.4L218.9 1994.0L224.3 1997.6L230.3 1987.1Z" fill="#84ff00"/><path d="M249.0 1943.1L243.0 1952.9L248.4 1956.8L254.5 1947.1Z" fill="#43ff00"/><path d="M303.0 1877.6L297.0 1885.5L302.7 1890.0L308.8 1882.2Z" fill="#00da25"/><path d="M452.1 1824.4L446.4 1827.4L452.7 1832.1L458.5 1829.2Z" fill="#00847b"/><path d="M230.9 1973.0L224.9 1983.4L230.3 1987.1L236.3 1976.8Z" fill="#73ff00"/><path d="M243.0 1952.9L236.9 1962.8L242.4 1966.7L248.4 1956.8Z" fill="#53ff00"/><path d="M236.9 1962.8L230.9 1973.0L236.3 1976.8L242.4 1966.7Z" fill="#63ff00"/><path d="M422.4 1824.7L416.6 1828.7L422.8 1833.4L428.6 1829.6Z" fill="#00857a"/><path d="M350.9 1845.2L344.9 1851.5L350.8 1856.2L356.8 1850.0Z" fill="#00a659"/><path d="M327.0 1860.2L320.9 1867.3L326.8 1871.8L332.8 1864.8Z" fill="#00bd42"/><path d="M297.0 1885.5L290.9 1893.6L296.6 1898.0L302.7 1890.0Z" fill="#00e619"/><path d="M404.6 1828.0L398.7 1832.6L404.9 1837.3L410.7 1832.9Z" fill="#008a75"/><path d="M368.8 1838.3L362.8 1844.0L368.8 1848.7L374.8 1843.1Z" fill="#009a65"/><path d="M386.7 1832.6L380.8 1837.7L386.9 1842.4L392.8 1837.4Z" fill="#00916e"/><path d="M434.4 1825.9L428.6 1829.6L434.9 1834.2L440.7 1830.7Z" fill="#00857a"/><path d="M290.9 1893.6L284.9 1902.0L290.6 1906.3L296.6 1898.0Z" fill="#00f20d"/><path d="M194.3 2053.2L188.4 2064.8L193.6 2067.9L199.5 2056.3Z" fill="#efff00"/><path d="M320.9 1867.3L314.9 1874.6L320.7 1879.1L326.8 1871.8Z" fill="#00c738"/><path d="M344.9 1851.5L338.9 1858.1L344.8 1862.6L350.8 1856.2Z" fill="#00ae51"/><path d="M284.9 1902.0L278.8 1910.6L284.5 1914.8L290.6 1906.3Z" fill="#00fe01"/><path d="M200.3 2041.7L194.3 2053.2L199.5 2056.3L205.5 2044.8Z" fill="#dcff00"/><path d="M416.6 1828.7L410.7 1832.9L416.9 1837.5L422.8 1833.4Z" fill="#008976"/><path d="M446.4 1827.4L440.7 1830.7L447.0 1835.3L452.7 1832.1Z" fill="#008679"/><path d="M278.8 1910.6L272.7 1919.4L278.4 1923.5L284.5 1914.8Z" fill="#0cff00"/><path d="M362.8 1844.0L356.8 1850.0L362.8 1854.6L368.8 1848.7Z" fill="#00a15e"/><path d="M314.9 1874.6L308.8 1882.2L314.6 1886.6L320.7 1879.1Z" fill="#00d22d"/><path d="M206.3 2030.4L200.3 2041.7L205.5 2044.8L211.5 2033.6Z" fill="#c9ff00"/><path d="M398.7 1832.6L392.8 1837.4L398.9 1842.0L404.9 1837.3Z" fill="#008e71"/><path d="M380.8 1837.7L374.8 1843.1L380.9 1847.7L386.9 1842.4Z" fill="#009768"/><path d="M272.7 1919.4L266.7 1928.4L272.3 1932.4L278.4 1923.5Z" fill="#19ff00"/><path d="M338.9 1858.1L332.8 1864.8L338.7 1869.3L344.8 1862.6Z" fill="#00b748"/><path d="M212.2 2019.2L206.3 2030.4L211.5 2033.6L217.6 2022.6Z" fill="#b7ff00"/><path d="M266.7 1928.4L260.6 1937.7L266.2 1941.6L272.3 1932.4Z" fill="#27ff00"/><path d="M458.5 1829.2L452.7 1832.1L459.1 1836.7L464.8 1833.8Z" fill="#008778"/><path d="M218.2 2008.3L212.2 2019.2L217.6 2022.6L223.6 2011.7Z" fill="#a5ff00"/><path d="M308.8 1882.2L302.7 1890.0L308.5 1894.3L314.6 1886.6Z" fill="#00dd22"/><path d="M428.6 1829.6L422.8 1833.4L429.1 1838.0L434.9 1834.2Z" fill="#008877"/><path d="M260.6 1937.7L254.5 1947.1L260.1 1951.0L266.2 1941.6Z" fill="#35ff00"/><path d="M224.3 1997.6L218.2 2008.3L223.6 2011.7L229.7 2001.1Z" fill="#94ff00"/><path d="M254.5 1947.1L248.4 1956.8L254.0 1960.6L260.1 1951.0Z" fill="#44ff00"/><path d="M230.3 1987.1L224.3 1997.6L229.7 2001.1L235.7 1990.6Z" fill="#83ff00"/><path d="M248.4 1956.8L242.4 1966.7L247.9 1970.4L254.0 1960.6Z" fill="#53ff00"/><path d="M236.3 1976.8L230.3 1987.1L235.7 1990.6L241.8 1980.4Z" fill="#73ff00"/><path d="M356.8 1850.0L350.8 1856.2L356.8 1860.7L362.8 1854.6Z" fill="#00a956"/><path d="M242.4 1966.7L236.3 1976.8L241.8 1980.4L247.9 1970.4Z" fill="#63ff00"/><path d="M332.8 1864.8L326.8 1871.8L332.6 1876.2L338.7 1869.3Z" fill="#00c03f"/><path d="M410.7 1832.9L404.9 1837.3L411.0 1841.9L416.9 1837.5Z" fill="#008d72"/><path d="M302.7 1890.0L296.6 1898.0L302.4 1902.2L308.5 1894.3Z" fill="#00e817"/><path d="M374.8 1843.1L368.8 1848.7L374.9 1853.3L380.9 1847.7Z" fill="#009d62"/><path d="M392.8 1837.4L386.9 1842.4L393.0 1847.0L398.9 1842.0Z" fill="#00946b"/><path d="M440.7 1830.7L434.9 1834.2L441.2 1838.7L447.0 1835.3Z" fill="#008877"/><path d="M296.6 1898.0L290.6 1906.3L296.3 1910.4L302.4 1902.2Z" fill="#00f40b"/><path d="M326.8 1871.8L320.7 1879.1L326.5 1883.4L332.6 1876.2Z" fill="#00ca35"/><path d="M350.8 1856.2L344.8 1862.6L350.7 1867.0L356.8 1860.7Z" fill="#00b14e"/><path d="M422.8 1833.4L416.9 1837.5L423.2 1842.0L429.1 1838.0Z" fill="#008c73"/><path d="M290.6 1906.3L284.5 1914.8L290.2 1918.8L296.3 1910.4Z" fill="#01ff00"/><path d="M452.7 1832.1L447.0 1835.3L453.4 1839.7L459.1 1836.7Z" fill="#008976"/><path d="M368.8 1848.7L362.8 1854.6L368.9 1859.0L374.9 1853.3Z" fill="#00a45b"/><path d="M199.5 2056.3L193.6 2067.9L198.8 2070.7L204.8 2059.2Z" fill="#edff00"/><path d="M404.9 1837.3L398.9 1842.0L405.1 1846.5L411.0 1841.9Z" fill="#00916e"/><path d="M284.5 1914.8L278.4 1923.5L284.0 1927.4L290.2 1918.8Z" fill="#0dff00"/><path d="M320.7 1879.1L314.6 1886.6L320.4 1890.8L326.5 1883.4Z" fill="#00d42b"/><path d="M386.9 1842.4L380.9 1847.7L387.0 1852.2L393.0 1847.0Z" fill="#009966"/><path d="M344.8 1862.6L338.7 1869.3L344.7 1873.6L350.7 1867.0Z" fill="#00b946"/><path d="M205.5 2044.8L199.5 2056.3L204.8 2059.2L210.8 2047.8Z" fill="#daff00"/><path d="M278.4 1923.5L272.3 1932.4L277.9 1936.3L284.0 1927.4Z" fill="#1aff00"/><path d="M464.8 1833.8L459.1 1836.7L465.5 1841.0L471.3 1838.3Z" fill="#008a75"/><path d="M434.9 1834.2L429.1 1838.0L435.4 1842.4L441.2 1838.7Z" fill="#008b74"/><path d="M211.5 2033.6L205.5 2044.8L210.8 2047.8L216.9 2036.7Z" fill="#c7ff00"/><path d="M272.3 1932.4L266.2 1941.6L271.8 1945.4L277.9 1936.3Z" fill="#28ff00"/><path d="M314.6 1886.6L308.5 1894.3L314.3 1898.4L320.4 1890.8Z" fill="#00df20"/><path d="M217.6 2022.6L211.5 2033.6L216.9 2036.7L222.9 2025.7Z" fill="#b5ff00"/><path d="M266.2 1941.6L260.1 1951.0L265.7 1954.7L271.8 1945.4Z" fill="#36ff00"/><path d="M362.8 1854.6L356.8 1860.7L362.8 1865.0L368.9 1859.0Z" fill="#00ab54"/><path d="M223.6 2011.7L217.6 2022.6L222.9 2025.7L229.0 2014.9Z" fill="#a4ff00"/><path d="M260.1 1951.0L254.0 1960.6L259.5 1964.2L265.7 1954.7Z" fill="#44ff00"/><path d="M416.9 1837.5L411.0 1841.9L417.3 1846.3L423.2 1842.0Z" fill="#00906f"/><path d="M338.7 1869.3L332.6 1876.2L338.6 1880.4L344.7 1873.6Z" fill="#00c23d"/><path d="M229.7 2001.1L223.6 2011.7L229.0 2014.9L235.1 2004.3Z" fill="#93ff00"/><path d="M254.0 1960.6L247.9 1970.4L253.4 1973.9L259.5 1964.2Z" fill="#53ff00"/><path d="M235.7 1990.6L229.7 2001.1L235.1 2004.3L241.2 1994.0Z" fill="#82ff00"/><path d="M380.9 1847.7L374.9 1853.3L381.0 1857.6L387.0 1852.2Z" fill="#00a05f"/><path d="M308.5 1894.3L302.4 1902.2L308.2 1906.2L314.3 1898.4Z" fill="#00ea15"/><path d="M247.9 1970.4L241.8 1980.4L247.3 1983.8L253.4 1973.9Z" fill="#62ff00"/><path d="M241.8 1980.4L235.7 1990.6L241.2 1994.0L247.3 1983.8Z" fill="#72ff00"/><path d="M398.9 1842.0L393.0 1847.0L399.2 1851.3L405.1 1846.5Z" fill="#009669"/><path d="M447.0 1835.3L441.2 1838.7L447.6 1843.1L453.4 1839.7Z" fill="#008b74"/><path d="M302.4 1902.2L296.3 1910.4L302.1 1914.3L308.2 1906.2Z" fill="#00f50a"/><path d="M356.8 1860.7L350.7 1867.0L356.7 1871.3L362.8 1865.0Z" fill="#00b34c"/><path d="M332.6 1876.2L326.5 1883.4L332.5 1887.5L338.6 1880.4Z" fill="#00cc33"/><path d="M429.1 1838.0L423.2 1842.0L429.5 1846.3L435.4 1842.4Z" fill="#008e71"/><path d="M459.1 1836.7L453.4 1839.7L459.8 1844.0L465.5 1841.0Z" fill="#008c73"/><path d="M296.3 1910.4L290.2 1918.8L295.9 1922.6L302.1 1914.3Z" fill="#02ff00"/><path d="M374.9 1853.3L368.9 1859.0L374.9 1863.2L381.0 1857.6Z" fill="#00a659"/><path d="M411.0 1841.9L405.1 1846.5L411.4 1850.8L417.3 1846.3Z" fill="#00946b"/><path d="M393.0 1847.0L387.0 1852.2L393.2 1856.4L399.2 1851.3Z" fill="#009c63"/><path d="M326.5 1883.4L320.4 1890.8L326.3 1894.8L332.5 1887.5Z" fill="#00d629"/><path d="M290.2 1918.8L284.0 1927.4L289.8 1931.2L295.9 1922.6Z" fill="#0eff00"/><path d="M350.7 1867.0L344.7 1873.6L350.6 1877.7L356.7 1871.3Z" fill="#00bb44"/><path d="M471.3 1838.3L465.5 1841.0L472.0 1845.2L477.7 1842.5Z" fill="#008d72"/><path d="M441.2 1838.7L435.4 1842.4L441.7 1846.6L447.6 1843.1Z" fill="#008e71"/><path d="M204.8 2059.2L198.8 2070.7L204.0 2073.4L210.1 2061.9Z" fill="#eaff00"/><path d="M284.0 1927.4L277.9 1936.3L283.6 1939.9L289.8 1931.2Z" fill="#1bff00"/><path d="M320.4 1890.8L314.3 1898.4L320.2 1902.3L326.3 1894.8Z" fill="#00e01f"/><path d="M210.8 2047.8L204.8 2059.2L210.1 2061.9L216.2 2050.6Z" fill="#d7ff00"/><path d="M277.9 1936.3L271.8 1945.4L277.5 1948.9L283.6 1939.9Z" fill="#28ff00"/><path d="M368.9 1859.0L362.8 1865.0L368.9 1869.2L374.9 1863.2Z" fill="#00ad52"/><path d="M423.2 1842.0L417.3 1846.3L423.6 1850.5L429.5 1846.3Z" fill="#00926d"/><path d="M216.9 2036.7L210.8 2047.8L216.2 2050.6L222.2 2039.5Z" fill="#c5ff00"/><path d="M271.8 1945.4L265.7 1954.7L271.3 1958.1L277.5 1948.9Z" fill="#36ff00"/><path d="M344.7 1873.6L338.6 1880.4L344.5 1884.5L350.6 1877.7Z" fill="#00c43b"/><path d="M387.0 1852.2L381.0 1857.6L387.1 1861.7L393.2 1856.4Z" fill="#00a25d"/><path d="M405.1 1846.5L399.2 1851.3L405.4 1855.5L411.4 1850.8Z" fill="#009966"/><path d="M222.9 2025.7L216.9 2036.7L222.2 2039.5L228.4 2028.6Z" fill="#b3ff00"/><path d="M265.7 1954.7L259.5 1964.2L265.2 1967.6L271.3 1958.1Z" fill="#44ff00"/><path d="M314.3 1898.4L308.2 1906.2L314.0 1910.1L320.2 1902.3Z" fill="#00eb14"/><path d="M453.4 1839.7L447.6 1843.1L454.0 1847.2L459.8 1844.0Z" fill="#008d72"/><path d="M229.0 2014.9L222.9 2025.7L228.4 2028.6L234.5 2017.9Z" fill="#a2ff00"/><path d="M259.5 1964.2L253.4 1973.9L259.0 1977.2L265.2 1967.6Z" fill="#53ff00"/><path d="M235.1 2004.3L229.0 2014.9L234.5 2017.9L240.6 2007.4Z" fill="#91ff00"/><path d="M253.4 1973.9L247.3 1983.8L252.9 1987.1L259.0 1977.2Z" fill="#62ff00"/><path d="M241.2 1994.0L235.1 2004.3L240.6 2007.4L246.7 1997.2Z" fill="#81ff00"/><path d="M247.3 1983.8L241.2 1994.0L246.7 1997.2L252.9 1987.1Z" fill="#71ff00"/><path d="M362.8 1865.0L356.7 1871.3L362.8 1875.3L368.9 1869.2Z" fill="#00b54a"/><path d="M308.2 1906.2L302.1 1914.3L307.9 1918.1L314.0 1910.1Z" fill="#00f609"/><path d="M338.6 1880.4L332.5 1887.5L338.4 1891.4L344.5 1884.5Z" fill="#00cd32"/><path d="M435.4 1842.4L429.5 1846.3L435.9 1850.4L441.7 1846.6Z" fill="#00916e"/><path d="M465.5 1841.0L459.8 1844.0L466.3 1848.0L472.0 1845.2Z" fill="#008e71"/><path d="M381.0 1857.6L374.9 1863.2L381.1 1867.3L387.1 1861.7Z" fill="#00a857"/><path d="M302.1 1914.3L295.9 1922.6L301.7 1926.3L307.9 1918.1Z" fill="#02ff00"/><path d="M417.3 1846.3L411.4 1850.8L417.6 1854.8L423.6 1850.5Z" fill="#009669"/><path d="M399.2 1851.3L393.2 1856.4L399.4 1860.5L405.4 1855.5Z" fill="#009e61"/><path d="M332.5 1887.5L326.3 1894.8L332.3 1898.6L338.4 1891.4Z" fill="#00d728"/><path d="M356.7 1871.3L350.6 1877.7L356.7 1881.7L362.8 1875.3Z" fill="#00bd42"/><path d="M295.9 1922.6L289.8 1931.2L295.5 1934.7L301.7 1926.3Z" fill="#0fff00"/><path d="M477.7 1842.5L472.0 1845.2L478.6 1849.1L484.3 1846.6Z" fill="#008f70"/><path d="M447.6 1843.1L441.7 1846.6L448.2 1850.6L454.0 1847.2Z" fill="#00906f"/><path d="M289.8 1931.2L283.6 1939.9L289.4 1943.4L295.5 1934.7Z" fill="#1bff00"/><path d="M326.3 1894.8L320.2 1902.3L326.1 1906.1L332.3 1898.6Z" fill="#00e11e"/><path d="M374.9 1863.2L368.9 1869.2L375.0 1873.1L381.1 1867.3Z" fill="#00af50"/><path d="M429.5 1846.3L423.6 1850.5L430.0 1854.4L435.9 1850.4Z" fill="#00946b"/><path d="M283.6 1939.9L277.5 1948.9L283.2 1952.3L289.4 1943.4Z" fill="#28ff00"/><path d="M210.1 2061.9L204.0 2073.4L209.3 2075.9L215.4 2064.5Z" fill="#e6ff00"/><path d="M350.6 1877.7L344.5 1884.5L350.6 1888.3L356.7 1881.7Z" fill="#00c53a"/><path d="M393.2 1856.4L387.1 1861.7L393.4 1865.7L399.4 1860.5Z" fill="#00a45b"/><path d="M411.4 1850.8L405.4 1855.5L411.7 1859.5L417.6 1854.8Z" fill="#009b64"/><path d="M459.8 1844.0L454.0 1847.2L460.5 1851.1L466.3 1848.0Z" fill="#008f70"/><path d="M277.5 1948.9L271.3 1958.1L277.0 1961.5L283.2 1952.3Z" fill="#35ff00"/><path d="M216.2 2050.6L210.1 2061.9L215.4 2064.5L221.5 2053.3Z" fill="#d4ff00"/><path d="M320.2 1902.3L314.0 1910.1L319.9 1913.7L326.1 1906.1Z" fill="#00eb14"/><path d="M271.3 1958.1L265.2 1967.6L270.8 1970.8L277.0 1961.5Z" fill="#43ff00"/><path d="M222.2 2039.5L216.2 2050.6L221.5 2053.3L227.7 2042.2Z" fill="#c2ff00"/><path d="M265.2 1967.6L259.0 1977.2L264.6 1980.4L270.8 1970.8Z" fill="#52ff00"/><path d="M228.4 2028.6L222.2 2039.5L227.7 2042.2L233.8 2031.4Z" fill="#b1ff00"/><path d="M368.9 1869.2L362.8 1875.3L368.9 1879.1L375.0 1873.1Z" fill="#00b649"/><path d="M259.0 1977.2L252.9 1987.1L258.5 1990.2L264.6 1980.4Z" fill="#60ff00"/><path d="M234.5 2017.9L228.4 2028.6L233.8 2031.4L240.0 2020.8Z" fill="#a0ff00"/><path d="M344.5 1884.5L338.4 1891.4L344.4 1895.2L350.6 1888.3Z" fill="#00ce31"/><path d="M252.9 1987.1L246.7 1997.2L252.3 2000.2L258.5 1990.2Z" fill="#70ff00"/><path d="M240.6 2007.4L234.5 2017.9L240.0 2020.8L246.1 2010.4Z" fill="#8fff00"/><path d="M441.7 1846.6L435.9 1850.4L442.3 1854.3L448.2 1850.6Z" fill="#00926d"/><path d="M246.7 1997.2L240.6 2007.4L246.1 2010.4L252.3 2000.2Z" fill="#7fff00"/><path d="M314.0 1910.1L307.9 1918.1L313.8 1921.6L319.9 1913.7Z" fill="#00f609"/><path d="M472.0 1845.2L466.3 1848.0L472.9 1851.9L478.6 1849.1Z" fill="#008f70"/><path d="M387.1 1861.7L381.1 1867.3L387.3 1871.1L393.4 1865.7Z" fill="#00aa55"/><path d="M423.6 1850.5L417.6 1854.8L424.0 1858.7L430.0 1854.4Z" fill="#009867"/><path d="M405.4 1855.5L399.4 1860.5L405.7 1864.3L411.7 1859.5Z" fill="#00a05f"/><path d="M307.9 1918.1L301.7 1926.3L307.6 1929.8L313.8 1921.6Z" fill="#03ff00"/><path d="M338.4 1891.4L332.3 1898.6L338.3 1902.3L344.4 1895.2Z" fill="#00d827"/><path d="M362.8 1875.3L356.7 1881.7L362.8 1885.4L368.9 1879.1Z" fill="#00be41"/><path d="M484.3 1846.6L478.6 1849.1L485.2 1852.9L490.9 1850.5Z" fill="#00906f"/><path d="M454.0 1847.2L448.2 1850.6L454.7 1854.5L460.5 1851.1Z" fill="#00916e"/><path d="M301.7 1926.3L295.5 1934.7L301.4 1938.1L307.6 1929.8Z" fill="#0eff00"/><path d="M381.1 1867.3L375.0 1873.1L381.2 1876.9L387.3 1871.1Z" fill="#00b04f"/><path d="M332.3 1898.6L326.1 1906.1L332.1 1909.6L338.3 1902.3Z" fill="#00e11e"/><path d="M295.5 1934.7L289.4 1943.4L295.2 1946.7L301.4 1938.1Z" fill="#1bff00"/><path d="M435.9 1850.4L430.0 1854.4L436.4 1858.2L442.3 1854.3Z" fill="#00956a"/><path d="M399.4 1860.5L393.4 1865.7L399.6 1869.5L405.7 1864.3Z" fill="#00a55a"/><path d="M356.7 1881.7L350.6 1888.3L356.7 1892.0L362.8 1885.4Z" fill="#00c639"/><path d="M417.6 1854.8L411.7 1859.5L418.0 1863.2L424.0 1858.7Z" fill="#009c63"/><path d="M289.4 1943.4L283.2 1952.3L289.0 1955.5L295.2 1946.7Z" fill="#27ff00"/><path d="M466.3 1848.0L460.5 1851.1L467.1 1854.9L472.9 1851.9Z" fill="#00916e"/><path d="M326.1 1906.1L319.9 1913.7L325.9 1917.2L332.1 1909.6Z" fill="#00ec13"/><path d="M283.2 1952.3L277.0 1961.5L282.7 1964.6L289.0 1955.5Z" fill="#35ff00"/><path d="M215.4 2064.5L209.3 2075.9L214.7 2078.3L220.8 2066.9Z" fill="#e2ff00"/><path d="M277.0 1961.5L270.8 1970.8L276.5 1973.8L282.7 1964.6Z" fill="#42ff00"/><path d="M375.0 1873.1L368.9 1879.1L375.1 1882.8L381.2 1876.9Z" fill="#00b748"/><path d="M221.5 2053.3L215.4 2064.5L220.8 2066.9L227.0 2055.7Z" fill="#d0ff00"/><path d="M448.2 1850.6L442.3 1854.3L448.8 1858.0L454.7 1854.5Z" fill="#00946b"/><path d="M350.6 1888.3L344.4 1895.2L350.5 1898.7L356.7 1892.0Z" fill="#00cf30"/><path d="M270.8 1970.8L264.6 1980.4L270.3 1983.3L276.5 1973.8Z" fill="#50ff00"/><path d="M227.7 2042.2L221.5 2053.3L227.0 2055.7L233.1 2044.8Z" fill="#bfff00"/><path d="M478.6 1849.1L472.9 1851.9L479.5 1855.5L485.2 1852.9Z" fill="#00916e"/><path d="M319.9 1913.7L313.8 1921.6L319.7 1925.0L325.9 1917.2Z" fill="#00f609"/><path d="M264.6 1980.4L258.5 1990.2L264.1 1993.0L270.3 1983.3Z" fill="#5fff00"/><path d="M233.8 2031.4L227.7 2042.2L233.1 2044.8L239.3 2034.0Z" fill="#aeff00"/><path d="M393.4 1865.7L387.3 1871.1L393.6 1874.8L399.6 1869.5Z" fill="#00ab54"/><path d="M258.5 1990.2L252.3 2000.2L257.9 2003.0L264.1 1993.0Z" fill="#6eff00"/><path d="M240.0 2020.8L233.8 2031.4L239.3 2034.0L245.5 2023.5Z" fill="#9dff00"/><path d="M430.0 1854.4L424.0 1858.7L430.4 1862.4L436.4 1858.2Z" fill="#009966"/><path d="M252.3 2000.2L246.1 2010.4L251.7 2013.1L257.9 2003.0Z" fill="#7dff00"/><path d="M246.1 2010.4L240.0 2020.8L245.5 2023.5L251.7 2013.1Z" fill="#8dff00"/><path d="M411.7 1859.5L405.7 1864.3L412.0 1868.0L418.0 1863.2Z" fill="#00a15e"/><path d="M313.8 1921.6L307.6 1929.8L313.5 1933.0L319.7 1925.0Z" fill="#02ff00"/><path d="M344.4 1895.2L338.3 1902.3L344.3 1905.7L350.5 1898.7Z" fill="#00d827"/><path d="M368.9 1879.1L362.8 1885.4L369.0 1889.0L375.1 1882.8Z" fill="#00bf40"/><path d="M490.9 1850.5L485.2 1852.9L491.9 1856.5L497.6 1854.2Z" fill="#00916e"/><path d="M460.5 1851.1L454.7 1854.5L461.2 1858.1L467.1 1854.9Z" fill="#00926d"/><path d="M307.6 1929.8L301.4 1938.1L307.3 1941.3L313.5 1933.0Z" fill="#0eff00"/><path d="M387.3 1871.1L381.2 1876.9L387.5 1880.4L393.6 1874.8Z" fill="#00b14e"/><path d="M442.3 1854.3L436.4 1858.2L442.9 1861.9L448.8 1858.0Z" fill="#009669"/><path d="M338.3 1902.3L332.1 1909.6L338.1 1913.0L344.3 1905.7Z" fill="#00e21d"/><path d="M301.4 1938.1L295.2 1946.7L301.0 1949.8L307.3 1941.3Z" fill="#1aff00"/><path d="M405.7 1864.3L399.6 1869.5L406.0 1873.0L412.0 1868.0Z" fill="#00a659"/><path d="M424.0 1858.7L418.0 1863.2L424.4 1866.8L430.4 1862.4Z" fill="#009d62"/><path d="M362.8 1885.4L356.7 1892.0L362.8 1895.4L369.0 1889.0Z" fill="#00c738"/><path d="M472.9 1851.9L467.1 1854.9L473.7 1858.4L479.5 1855.5Z" fill="#00916e"/><path d="M295.2 1946.7L289.0 1955.5L294.8 1958.6L301.0 1949.8Z" fill="#26ff00"/><path d="M332.1 1909.6L325.9 1917.2L331.9 1920.5L338.1 1913.0Z" fill="#00eb14"/><path d="M289.0 1955.5L282.7 1964.6L288.5 1967.5L294.8 1958.6Z" fill="#33ff00"/><path d="M381.2 1876.9L375.1 1882.8L381.3 1886.3L387.5 1880.4Z" fill="#00b847"/><path d="M454.7 1854.5L448.8 1858.0L455.4 1861.6L461.2 1858.1Z" fill="#00946b"/><path d="M356.7 1892.0L350.5 1898.7L356.6 1902.1L362.8 1895.4Z" fill="#00cf30"/><path d="M282.7 1964.6L276.5 1973.8L282.3 1976.7L288.5 1967.5Z" fill="#41ff00"/><path d="M485.2 1852.9L479.5 1855.5L486.2 1859.0L491.9 1856.5Z" fill="#00916e"/><path d="M220.8 2066.9L214.7 2078.3L220.1 2080.4L226.2 2069.1Z" fill="#deff00"/><path d="M325.9 1917.2L319.7 1925.0L325.7 1928.2L331.9 1920.5Z" fill="#00f609"/><path d="M399.6 1869.5L393.6 1874.8L399.9 1878.3L406.0 1873.0Z" fill="#00ab54"/><path d="M276.5 1973.8L270.3 1983.3L276.0 1986.1L282.3 1976.7Z" fill="#4eff00"/><path d="M436.4 1858.2L430.4 1862.4L436.9 1865.9L442.9 1861.9Z" fill="#009a65"/><path d="M227.0 2055.7L220.8 2066.9L226.2 2069.1L232.4 2058.0Z" fill="#ccff00"/><path d="M418.0 1863.2L412.0 1868.0L418.4 1871.5L424.4 1866.8Z" fill="#00a15e"/><path d="M270.3 1983.3L264.1 1993.0L269.8 1995.7L276.0 1986.1Z" fill="#5dff00"/><path d="M233.1 2044.8L227.0 2055.7L232.4 2058.0L238.6 2047.1Z" fill="#bbff00"/><path d="M264.1 1993.0L257.9 2003.0L263.6 2005.6L269.8 1995.7Z" fill="#6bff00"/><path d="M239.3 2034.0L233.1 2044.8L238.6 2047.1L244.9 2036.4Z" fill="#aaff00"/><path d="M257.9 2003.0L251.7 2013.1L257.3 2015.7L263.6 2005.6Z" fill="#7aff00"/><path d="M245.5 2023.5L239.3 2034.0L244.9 2036.4L251.1 2025.9Z" fill="#9aff00"/><path d="M251.7 2013.1L245.5 2023.5L251.1 2025.9L257.3 2015.7Z" fill="#8aff00"/><path d="M319.7 1925.0L313.5 1933.0L319.4 1936.1L325.7 1928.2Z" fill="#02ff00"/><path d="M350.5 1898.7L344.3 1905.7L350.4 1909.0L356.6 1902.1Z" fill="#00d827"/><path d="M497.6 1854.2L491.9 1856.5L498.7 1859.8L504.4 1857.7Z" fill="#00926d"/><path d="M375.1 1882.8L369.0 1889.0L375.2 1892.4L381.3 1886.3Z" fill="#00bf40"/><path d="M467.1 1854.9L461.2 1858.1L467.9 1861.5L473.7 1858.4Z" fill="#00936c"/><path d="M313.5 1933.0L307.3 1941.3L313.2 1944.3L319.4 1936.1Z" fill="#0dff00"/><path d="M393.6 1874.8L387.5 1880.4L393.8 1883.8L399.9 1878.3Z" fill="#00b14e"/><path d="M448.8 1858.0L442.9 1861.9L449.4 1865.3L455.4 1861.6Z" fill="#009768"/><path d="M344.3 1905.7L338.1 1913.0L344.2 1916.2L350.4 1909.0Z" fill="#00e11e"/><path d="M412.0 1868.0L406.0 1873.0L412.4 1876.4L418.4 1871.5Z" fill="#00a659"/><path d="M430.4 1862.4L424.4 1866.8L430.9 1870.2L436.9 1865.9Z" fill="#009d62"/><path d="M369.0 1889.0L362.8 1895.4L369.0 1898.7L375.2 1892.4Z" fill="#00c738"/><path d="M307.3 1941.3L301.0 1949.8L306.9 1952.7L313.2 1944.3Z" fill="#19ff00"/><path d="M479.5 1855.5L473.7 1858.4L480.4 1861.8L486.2 1859.0Z" fill="#00926d"/><path d="M301.0 1949.8L294.8 1958.6L300.7 1961.4L306.9 1952.7Z" fill="#25ff00"/><path d="M338.1 1913.0L331.9 1920.5L338.0 1923.5L344.2 1916.2Z" fill="#00eb14"/><path d="M387.5 1880.4L381.3 1886.3L387.6 1889.5L393.8 1883.8Z" fill="#00b847"/><path d="M461.2 1858.1L455.4 1861.6L462.0 1864.9L467.9 1861.5Z" fill="#00956a"/><path d="M294.8 1958.6L288.5 1967.5L294.4 1970.3L300.7 1961.4Z" fill="#31ff00"/><path d="M491.9 1856.5L486.2 1859.0L493.0 1862.3L498.7 1859.8Z" fill="#00926d"/><path d="M362.8 1895.4L356.6 1902.1L362.8 1905.3L369.0 1898.7Z" fill="#00cf30"/><path d="M406.0 1873.0L399.9 1878.3L406.3 1881.6L412.4 1876.4Z" fill="#00ac53"/><path d="M442.9 1861.9L436.9 1865.9L443.5 1869.2L449.4 1865.3Z" fill="#009a65"/><path d="M288.5 1967.5L282.3 1976.7L288.1 1979.4L294.4 1970.3Z" fill="#3fff00"/><path d="M331.9 1920.5L325.7 1928.2L331.7 1931.2L338.0 1923.5Z" fill="#00f50a"/><path d="M424.4 1866.8L418.4 1871.5L424.9 1874.8L430.9 1870.2Z" fill="#00a25d"/><path d="M282.3 1976.7L276.0 1986.1L281.8 1988.7L288.1 1979.4Z" fill="#4cff00"/><path d="M226.2 2069.1L220.1 2080.4L225.5 2082.4L231.7 2071.1Z" fill="#daff00"/><path d="M276.0 1986.1L269.8 1995.7L275.6 1998.3L281.8 1988.7Z" fill="#5aff00"/><path d="M504.4 1857.7L498.7 1859.8L505.6 1863.0L511.3 1861.0Z" fill="#00926d"/><path d="M473.7 1858.4L467.9 1861.5L474.6 1864.8L480.4 1861.8Z" fill="#00936c"/><path d="M381.3 1886.3L375.2 1892.4L381.5 1895.5L387.6 1889.5Z" fill="#00bf40"/><path d="M356.6 1902.1L350.4 1909.0L356.6 1912.1L362.8 1905.3Z" fill="#00d728"/><path d="M232.4 2058.0L226.2 2069.1L231.7 2071.1L238.0 2060.1Z" fill="#c8ff00"/><path d="M325.7 1928.2L319.4 1936.1L325.4 1939.0L331.7 1931.2Z" fill="#01ff00"/><path d="M269.8 1995.7L263.6 2005.6L269.3 2008.0L275.6 1998.3Z" fill="#68ff00"/><path d="M238.6 2047.1L232.4 2058.0L238.0 2060.1L244.2 2049.3Z" fill="#b7ff00"/><path d="M263.6 2005.6L257.3 2015.7L263.0 2018.0L269.3 2008.0Z" fill="#77ff00"/><path d="M244.9 2036.4L238.6 2047.1L244.2 2049.3L250.5 2038.6Z" fill="#a6ff00"/><path d="M257.3 2015.7L251.1 2025.9L256.7 2028.2L263.0 2018.0Z" fill="#86ff00"/><path d="M251.1 2025.9L244.9 2036.4L250.5 2038.6L256.7 2028.2Z" fill="#96ff00"/><path d="M455.4 1861.6L449.4 1865.3L456.1 1868.5L462.0 1864.9Z" fill="#009768"/><path d="M399.9 1878.3L393.8 1883.8L400.1 1887.0L406.3 1881.6Z" fill="#00b14e"/><path d="M319.4 1936.1L313.2 1944.3L319.2 1947.1L325.4 1939.0Z" fill="#0cff00"/><path d="M350.4 1909.0L344.2 1916.2L350.3 1919.1L356.6 1912.1Z" fill="#00e01f"/><path d="M436.9 1865.9L430.9 1870.2L437.5 1873.4L443.5 1869.2Z" fill="#009d62"/><path d="M418.4 1871.5L412.4 1876.4L418.8 1879.6L424.9 1874.8Z" fill="#00a659"/><path d="M486.2 1859.0L480.4 1861.8L487.2 1864.9L493.0 1862.3Z" fill="#00926d"/><path d="M375.2 1892.4L369.0 1898.7L375.3 1901.8L381.5 1895.5Z" fill="#00c639"/><path d="M313.2 1944.3L306.9 1952.7L312.9 1955.5L319.2 1947.1Z" fill="#17ff00"/><path d="M344.2 1916.2L338.0 1923.5L344.1 1926.4L350.3 1919.1Z" fill="#00ea15"/><path d="M306.9 1952.7L300.7 1961.4L306.6 1964.0L312.9 1955.5Z" fill="#23ff00"/><path d="M467.9 1861.5L462.0 1864.9L468.7 1868.0L474.6 1864.8Z" fill="#00956a"/><path d="M393.8 1883.8L387.6 1889.5L394.0 1892.6L400.1 1887.0Z" fill="#00b847"/><path d="M498.7 1859.8L493.0 1862.3L499.8 1865.3L505.6 1863.0Z" fill="#00916e"/><path d="M369.0 1898.7L362.8 1905.3L369.0 1908.2L375.3 1901.8Z" fill="#00ce31"/><path d="M300.7 1961.4L294.4 1970.3L300.3 1972.8L306.6 1964.0Z" fill="#2fff00"/><path d="M449.4 1865.3L443.5 1869.2L450.1 1872.3L456.1 1868.5Z" fill="#009a65"/><path d="M412.4 1876.4L406.3 1881.6L412.7 1884.6L418.8 1879.6Z" fill="#00ab54"/><path d="M430.9 1870.2L424.9 1874.8L431.4 1877.9L437.5 1873.4Z" fill="#00a15e"/><path d="M338.0 1923.5L331.7 1931.2L337.8 1934.0L344.1 1926.4Z" fill="#00f40b"/><path d="M294.4 1970.3L288.1 1979.4L294.0 1981.9L300.3 1972.8Z" fill="#3cff00"/><path d="M511.3 1861.0L505.6 1863.0L512.5 1866.0L518.2 1864.1Z" fill="#00916e"/><path d="M288.1 1979.4L281.8 1988.7L287.7 1991.1L294.0 1981.9Z" fill="#49ff00"/><path d="M480.4 1861.8L474.6 1864.8L481.4 1867.8L487.2 1864.9Z" fill="#00936c"/><path d="M387.6 1889.5L381.5 1895.5L387.8 1898.5L394.0 1892.6Z" fill="#00be41"/><path d="M362.8 1905.3L356.6 1912.1L362.8 1915.0L369.0 1908.2Z" fill="#00d629"/><path d="M331.7 1931.2L325.4 1939.0L331.5 1941.8L337.8 1934.0Z" fill="#00fe01"/><path d="M281.8 1988.7L275.6 1998.3L281.4 2000.6L287.7 1991.1Z" fill="#57ff00"/><path d="M231.7 2071.1L225.5 2082.4L231.0 2084.2L237.3 2073.0Z" fill="#d4ff00"/><path d="M275.6 1998.3L269.3 2008.0L275.0 2010.3L281.4 2000.6Z" fill="#65ff00"/><path d="M462.0 1864.9L456.1 1868.5L462.8 1871.5L468.7 1868.0Z" fill="#009768"/><path d="M238.0 2060.1L231.7 2071.1L237.3 2073.0L243.5 2062.0Z" fill="#c3ff00"/><path d="M269.3 2008.0L263.0 2018.0L268.7 2020.2L275.0 2010.3Z" fill="#74ff00"/><path d="M406.3 1881.6L400.1 1887.0L406.6 1889.9L412.7 1884.6Z" fill="#00b14e"/><path d="M244.2 2049.3L238.0 2060.1L243.5 2062.0L249.8 2051.2Z" fill="#b2ff00"/><path d="M263.0 2018.0L256.7 2028.2L262.4 2030.3L268.7 2020.2Z" fill="#83ff00"/><path d="M250.5 2038.6L244.2 2049.3L249.8 2051.2L256.1 2040.7Z" fill="#a2ff00"/><path d="M256.7 2028.2L250.5 2038.6L256.1 2040.7L262.4 2030.3Z" fill="#92ff00"/><path d="M325.4 1939.0L319.2 1947.1L325.2 1949.8L331.5 1941.8Z" fill="#0aff00"/><path d="M443.5 1869.2L437.5 1873.4L444.1 1876.4L450.1 1872.3Z" fill="#009d62"/><path d="M424.9 1874.8L418.8 1879.6L425.3 1882.6L431.4 1877.9Z" fill="#00a659"/><path d="M356.6 1912.1L350.3 1919.1L356.5 1921.9L362.8 1915.0Z" fill="#00df20"/><path d="M493.0 1862.3L487.2 1864.9L494.1 1867.9L499.8 1865.3Z" fill="#00926d"/><path d="M381.5 1895.5L375.3 1901.8L381.6 1904.6L387.8 1898.5Z" fill="#00c53a"/><path d="M319.2 1947.1L312.9 1955.5L318.9 1958.0L325.2 1949.8Z" fill="#15ff00"/><path d="M474.6 1864.8L468.7 1868.0L475.5 1870.9L481.4 1867.8Z" fill="#00946b"/><path d="M350.3 1919.1L344.1 1926.4L350.3 1929.1L356.5 1921.9Z" fill="#00e817"/><path d="M400.1 1887.0L394.0 1892.6L400.4 1895.5L406.6 1889.9Z" fill="#00b748"/><path d="M312.9 1955.5L306.6 1964.0L312.6 1966.5L318.9 1958.0Z" fill="#21ff00"/><path d="M505.6 1863.0L499.8 1865.3L506.8 1868.2L512.5 1866.0Z" fill="#00916e"/><path d="M375.3 1901.8L369.0 1908.2L375.4 1911.0L381.6 1904.6Z" fill="#00cd32"/><path d="M456.1 1868.5L450.1 1872.3L456.8 1875.3L462.8 1871.5Z" fill="#009966"/><path d="M418.8 1879.6L412.7 1884.6L419.2 1887.5L425.3 1882.6Z" fill="#00ab54"/><path d="M437.5 1873.4L431.4 1877.9L438.0 1880.8L444.1 1876.4Z" fill="#00a15e"/><path d="M306.6 1964.0L300.3 1972.8L306.2 1975.2L312.6 1966.5Z" fill="#2dff00"/><path d="M344.1 1926.4L337.8 1934.0L344.0 1936.6L350.3 1929.1Z" fill="#00f20d"/><path d="M300.3 1972.8L294.0 1981.9L299.9 1984.2L306.2 1975.2Z" fill="#39ff00"/><path d="M518.2 1864.1L512.5 1866.0L519.5 1868.8L525.2 1867.0Z" fill="#00916e"/><path d="M487.2 1864.9L481.4 1867.8L488.2 1870.7L494.1 1867.9Z" fill="#00926d"/><path d="M394.0 1892.6L387.8 1898.5L394.2 1901.3L400.4 1895.5Z" fill="#00bd42"/><path d="M369.0 1908.2L362.8 1915.0L369.1 1917.6L375.4 1911.0Z" fill="#00d52a"/><path d="M294.0 1981.9L287.7 1991.1L293.6 1993.3L299.9 1984.2Z" fill="#46ff00"/><path d="M337.8 1934.0L331.5 1941.8L337.7 1944.3L344.0 1936.6Z" fill="#00fc03"/><path d="M287.7 1991.1L281.4 2000.6L287.2 2002.7L293.6 1993.3Z" fill="#54ff00"/><path d="M468.7 1868.0L462.8 1871.5L469.6 1874.3L475.5 1870.9Z" fill="#009669"/><path d="M412.7 1884.6L406.6 1889.9L413.1 1892.7L419.2 1887.5Z" fill="#00b04f"/><path d="M281.4 2000.6L275.0 2010.3L280.9 2012.3L287.2 2002.7Z" fill="#61ff00"/><path d="M450.1 1872.3L444.1 1876.4L450.8 1879.2L456.8 1875.3Z" fill="#009c63"/><path d="M431.4 1877.9L425.3 1882.6L432.0 1885.4L438.0 1880.8Z" fill="#00a55a"/><path d="M275.0 2010.3L268.7 2020.2L274.5 2022.2L280.9 2012.3Z" fill="#70ff00"/><path d="M237.3 2073.0L231.0 2084.2L236.5 2085.8L242.9 2074.6Z" fill="#cfff00"/><path d="M499.8 1865.3L494.1 1867.9L501.0 1870.6L506.8 1868.2Z" fill="#00916e"/><path d="M331.5 1941.8L325.2 1949.8L331.3 1952.2L337.7 1944.3Z" fill="#07ff00"/><path d="M362.8 1915.0L356.5 1921.9L362.8 1924.5L369.1 1917.6Z" fill="#00dd22"/><path d="M268.7 2020.2L262.4 2030.3L268.2 2032.3L274.5 2022.2Z" fill="#7eff00"/><path d="M243.5 2062.0L237.3 2073.0L242.9 2074.6L249.2 2063.7Z" fill="#beff00"/><path d="M387.8 1898.5L381.6 1904.6L388.0 1907.3L394.2 1901.3Z" fill="#00c43b"/><path d="M262.4 2030.3L256.1 2040.7L261.8 2042.5L268.2 2032.3Z" fill="#8eff00"/><path d="M249.8 2051.2L243.5 2062.0L249.2 2063.7L255.5 2053.0Z" fill="#adff00"/><path d="M256.1 2040.7L249.8 2051.2L255.5 2053.0L261.8 2042.5Z" fill="#9dff00"/><path d="M325.2 1949.8L318.9 1958.0L325.0 1960.4L331.3 1952.2Z" fill="#12ff00"/><path d="M481.4 1867.8L475.5 1870.9L482.3 1873.7L488.2 1870.7Z" fill="#00936c"/><path d="M406.6 1889.9L400.4 1895.5L406.9 1898.2L413.1 1892.7Z" fill="#00b54a"/><path d="M356.5 1921.9L350.3 1929.1L356.5 1931.6L362.8 1924.5Z" fill="#00e619"/><path d="M512.5 1866.0L506.8 1868.2L513.8 1870.9L519.5 1868.8Z" fill="#00906f"/><path d="M318.9 1958.0L312.6 1966.5L318.6 1968.8L325.0 1960.4Z" fill="#1eff00"/><path d="M381.6 1904.6L375.4 1911.0L381.7 1913.6L388.0 1907.3Z" fill="#00cb34"/><path d="M462.8 1871.5L456.8 1875.3L463.6 1878.0L469.6 1874.3Z" fill="#009867"/><path d="M425.3 1882.6L419.2 1887.5L425.8 1890.2L432.0 1885.4Z" fill="#00a956"/><path d="M444.1 1876.4L438.0 1880.8L444.7 1883.5L450.8 1879.2Z" fill="#00a05f"/><path d="M312.6 1966.5L306.2 1975.2L312.3 1977.4L318.6 1968.8Z" fill="#29ff00"/><path d="M350.3 1929.1L344.0 1936.6L350.2 1939.0L356.5 1931.6Z" fill="#00f00f"/><path d="M494.1 1867.9L488.2 1870.7L495.2 1873.3L501.0 1870.6Z" fill="#00916e"/><path d="M525.2 1867.0L519.5 1868.8L526.6 1871.4L532.3 1869.7Z" fill="#008f70"/><path d="M400.4 1895.5L394.2 1901.3L400.7 1903.9L406.9 1898.2Z" fill="#00bc43"/><path d="M306.2 1975.2L299.9 1984.2L305.9 1986.2L312.3 1977.4Z" fill="#36ff00"/><path d="M375.4 1911.0L369.1 1917.6L375.5 1920.1L381.7 1913.6Z" fill="#00d32c"/><path d="M344.0 1936.6L337.7 1944.3L343.8 1946.6L350.2 1939.0Z" fill="#00f906"/><path d="M299.9 1984.2L293.6 1993.3L299.5 1995.3L305.9 1986.2Z" fill="#42ff00"/><path d="M475.5 1870.9L469.6 1874.3L476.4 1877.0L482.3 1873.7Z" fill="#00956a"/><path d="M419.2 1887.5L413.1 1892.7L419.7 1895.3L425.8 1890.2Z" fill="#00ae51"/><path d="M293.6 1993.3L287.2 2002.7L293.1 2004.7L299.5 1995.3Z" fill="#50ff00"/><path d="M456.8 1875.3L450.8 1879.2L457.6 1881.8L463.6 1878.0Z" fill="#009b64"/><path d="M438.0 1880.8L432.0 1885.4L438.6 1888.0L444.7 1883.5Z" fill="#00a35c"/><path d="M506.8 1868.2L501.0 1870.6L508.0 1873.2L513.8 1870.9Z" fill="#008f70"/><path d="M287.2 2002.7L280.9 2012.3L286.8 2014.2L293.1 2004.7Z" fill="#5dff00"/><path d="M369.1 1917.6L362.8 1924.5L369.1 1926.9L375.5 1920.1Z" fill="#00db24"/><path d="M337.7 1944.3L331.3 1952.2L337.5 1954.4L343.8 1946.6Z" fill="#05ff00"/><path d="M394.2 1901.3L388.0 1907.3L394.4 1909.8L400.7 1903.9Z" fill="#00c23d"/><path d="M280.9 2012.3L274.5 2022.2L280.4 2024.0L286.8 2014.2Z" fill="#6bff00"/><path d="M274.5 2022.2L268.2 2032.3L274.0 2034.0L280.4 2024.0Z" fill="#7aff00"/><path d="M242.9 2074.6L236.5 2085.8L242.2 2087.2L248.5 2076.1Z" fill="#c9ff00"/><path d="M268.2 2032.3L261.8 2042.5L267.6 2044.2L274.0 2034.0Z" fill="#89ff00"/><path d="M249.2 2063.7L242.9 2074.6L248.5 2076.1L254.9 2065.3Z" fill="#b8ff00"/><path d="M261.8 2042.5L255.5 2053.0L261.2 2054.6L267.6 2044.2Z" fill="#98ff00"/><path d="M255.5 2053.0L249.2 2063.7L254.9 2065.3L261.2 2054.6Z" fill="#a8ff00"/><path d="M488.2 1870.7L482.3 1873.7L489.3 1876.2L495.2 1873.3Z" fill="#00926d"/><path d="M331.3 1952.2L325.0 1960.4L331.1 1962.5L337.5 1954.4Z" fill="#0fff00"/><path d="M413.1 1892.7L406.9 1898.2L413.5 1900.7L419.7 1895.3Z" fill="#00b44b"/><path d="M519.5 1868.8L513.8 1870.9L520.9 1873.3L526.6 1871.4Z" fill="#008e71"/><path d="M362.8 1924.5L356.5 1931.6L362.8 1933.9L369.1 1926.9Z" fill="#00e41b"/><path d="M469.6 1874.3L463.6 1878.0L470.4 1880.5L476.4 1877.0Z" fill="#009768"/><path d="M388.0 1907.3L381.7 1913.6L388.2 1916.0L394.4 1909.8Z" fill="#00c936"/><path d="M432.0 1885.4L425.8 1890.2L432.5 1892.7L438.6 1888.0Z" fill="#00a857"/><path d="M325.0 1960.4L318.6 1968.8L324.7 1970.8L331.1 1962.5Z" fill="#1aff00"/><path d="M450.8 1879.2L444.7 1883.5L451.5 1886.0L457.6 1881.8Z" fill="#009e61"/><path d="M356.5 1931.6L350.2 1939.0L356.5 1941.2L362.8 1933.9Z" fill="#00ed12"/><path d="M501.0 1870.6L495.2 1873.3L502.2 1875.7L508.0 1873.2Z" fill="#00906f"/><path d="M532.3 1869.7L526.6 1871.4L533.8 1873.8L539.5 1872.2Z" fill="#008e71"/><path d="M318.6 1968.8L312.3 1977.4L318.4 1979.4L324.7 1970.8Z" fill="#26ff00"/><path d="M406.9 1898.2L400.7 1903.9L407.2 1906.2L413.5 1900.7Z" fill="#00ba45"/><path d="M381.7 1913.6L375.5 1920.1L381.9 1922.4L388.2 1916.0Z" fill="#00d12e"/><path d="M312.3 1977.4L305.9 1986.2L311.9 1988.1L318.4 1979.4Z" fill="#32ff00"/><path d="M482.3 1873.7L476.4 1877.0L483.4 1879.4L489.3 1876.2Z" fill="#00936c"/><path d="M350.2 1939.0L343.8 1946.6L350.1 1948.7L356.5 1941.2Z" fill="#00f609"/><path d="M425.8 1890.2L419.7 1895.3L426.3 1897.7L432.5 1892.7Z" fill="#00ac53"/><path d="M305.9 1986.2L299.5 1995.3L305.5 1997.2L311.9 1988.1Z" fill="#3eff00"/><path d="M463.6 1878.0L457.6 1881.8L464.4 1884.2L470.4 1880.5Z" fill="#009966"/><path d="M444.7 1883.5L438.6 1888.0L445.4 1890.4L451.5 1886.0Z" fill="#00a25d"/><path d="M513.8 1870.9L508.0 1873.2L515.2 1875.5L520.9 1873.3Z" fill="#008e71"/><path d="M299.5 1995.3L293.1 2004.7L299.1 2006.4L305.5 1997.2Z" fill="#4bff00"/><path d="M375.5 1920.1L369.1 1926.9L375.6 1929.1L381.9 1922.4Z" fill="#00d926"/><path d="M400.7 1903.9L394.4 1909.8L401.0 1912.1L407.2 1906.2Z" fill="#00c03f"/><path d="M343.8 1946.6L337.5 1954.4L343.7 1956.5L350.1 1948.7Z" fill="#01ff00"/><path d="M293.1 2004.7L286.8 2014.2L292.7 2015.9L299.1 2006.4Z" fill="#59ff00"/><path d="M286.8 2014.2L280.4 2024.0L286.3 2025.6L292.7 2015.9Z" fill="#66ff00"/><path d="M495.2 1873.3L489.3 1876.2L496.3 1878.5L502.2 1875.7Z" fill="#00906f"/><path d="M280.4 2024.0L274.0 2034.0L279.9 2035.5L286.3 2025.6Z" fill="#75ff00"/><path d="M419.7 1895.3L413.5 1900.7L420.1 1902.9L426.3 1897.7Z" fill="#00b24d"/><path d="M526.6 1871.4L520.9 1873.3L528.1 1875.6L533.8 1873.8Z" fill="#008c73"/><path d="M337.5 1954.4L331.1 1962.5L337.3 1964.4L343.7 1956.5Z" fill="#0cff00"/><path d="M274.0 2034.0L267.6 2044.2L273.4 2045.6L279.9 2035.5Z" fill="#83ff00"/><path d="M248.5 2076.1L242.2 2087.2L247.8 2088.4L254.2 2077.4Z" fill="#c2ff00"/><path d="M267.6 2044.2L261.2 2054.6L267.0 2056.0L273.4 2045.6Z" fill="#92ff00"/><path d="M369.1 1926.9L362.8 1933.9L369.2 1936.0L375.6 1929.1Z" fill="#00e11e"/><path d="M254.9 2065.3L248.5 2076.1L254.2 2077.4L260.6 2066.6Z" fill="#b2ff00"/><path d="M261.2 2054.6L254.9 2065.3L260.6 2066.6L267.0 2056.0Z" fill="#a2ff00"/><path d="M476.4 1877.0L470.4 1880.5L477.4 1882.8L483.4 1879.4Z" fill="#00956a"/><path d="M438.6 1888.0L432.5 1892.7L439.2 1895.0L445.4 1890.4Z" fill="#00a659"/><path d="M394.4 1909.8L388.2 1916.0L394.7 1918.2L401.0 1912.1Z" fill="#00c738"/><path d="M457.6 1881.8L451.5 1886.0L458.3 1888.3L464.4 1884.2Z" fill="#009c63"/><path d="M331.1 1962.5L324.7 1970.8L330.9 1972.7L337.3 1964.4Z" fill="#17ff00"/><path d="M508.0 1873.2L502.2 1875.7L509.3 1878.0L515.2 1875.5Z" fill="#008e71"/><path d="M539.5 1872.2L533.8 1873.8L541.1 1875.9L546.8 1874.5Z" fill="#008c73"/><path d="M362.8 1933.9L356.5 1941.2L362.8 1943.2L369.2 1936.0Z" fill="#00ea15"/><path d="M324.7 1970.8L318.4 1979.4L324.5 1981.1L330.9 1972.7Z" fill="#22ff00"/><path d="M413.5 1900.7L407.2 1906.2L413.9 1908.4L420.1 1902.9Z" fill="#00b748"/><path d="M388.2 1916.0L381.9 1922.4L388.4 1924.5L394.7 1918.2Z" fill="#00ce31"/><path d="M489.3 1876.2L483.4 1879.4L490.4 1881.6L496.3 1878.5Z" fill="#00916e"/><path d="M318.4 1979.4L311.9 1988.1L318.1 1989.8L324.5 1981.1Z" fill="#2eff00"/><path d="M432.5 1892.7L426.3 1897.7L433.1 1899.9L439.2 1895.0Z" fill="#00aa55"/><path d="M356.5 1941.2L350.1 1948.7L356.4 1950.6L362.8 1943.2Z" fill="#00f30c"/><path d="M470.4 1880.5L464.4 1884.2L471.3 1886.4L477.4 1882.8Z" fill="#009768"/><path d="M451.5 1886.0L445.4 1890.4L452.2 1892.5L458.3 1888.3Z" fill="#009f60"/><path d="M520.9 1873.3L515.2 1875.5L522.4 1877.7L528.1 1875.6Z" fill="#008c73"/><path d="M311.9 1988.1L305.5 1997.2L311.6 1998.8L318.1 1989.8Z" fill="#3aff00"/><path d="M407.2 1906.2L401.0 1912.1L407.6 1914.2L413.9 1908.4Z" fill="#00bd42"/><path d="M381.9 1922.4L375.6 1929.1L382.0 1931.1L388.4 1924.5Z" fill="#00d629"/><path d="M305.5 1997.2L299.1 2006.4L305.2 2007.9L311.6 1998.8Z" fill="#46ff00"/><path d="M350.1 1948.7L343.7 1956.5L350.0 1958.3L356.4 1950.6Z" fill="#00fd02"/><path d="M502.2 1875.7L496.3 1878.5L503.4 1880.7L509.3 1878.0Z" fill="#008e71"/><path d="M299.1 2006.4L292.7 2015.9L298.7 2017.3L305.2 2007.9Z" fill="#54ff00"/><path d="M426.3 1897.7L420.1 1902.9L426.8 1905.0L433.1 1899.9Z" fill="#00af50"/><path d="M533.8 1873.8L528.1 1875.6L535.4 1877.7L541.1 1875.9Z" fill="#008a75"/><path d="M292.7 2015.9L286.3 2025.6L292.3 2027.0L298.7 2017.3Z" fill="#61ff00"/><path d="M343.7 1956.5L337.3 1964.4L343.6 1966.2L350.0 1958.3Z" fill="#08ff00"/><path d="M483.4 1879.4L477.4 1882.8L484.4 1884.9L490.4 1881.6Z" fill="#00936c"/><path d="M375.6 1929.1L369.2 1936.0L375.7 1937.9L382.0 1931.1Z" fill="#00de21"/><path d="M286.3 2025.6L279.9 2035.5L285.8 2036.8L292.3 2027.0Z" fill="#6fff00"/><path d="M445.4 1890.4L439.2 1895.0L446.1 1897.1L452.2 1892.5Z" fill="#00a35c"/><path d="M464.4 1884.2L458.3 1888.3L465.3 1890.4L471.3 1886.4Z" fill="#009a65"/><path d="M401.0 1912.1L394.7 1918.2L401.3 1920.2L407.6 1914.2Z" fill="#00c43b"/><path d="M279.9 2035.5L273.4 2045.6L279.3 2046.9L285.8 2036.8Z" fill="#7dff00"/><path d="M273.4 2045.6L267.0 2056.0L272.9 2057.2L279.3 2046.9Z" fill="#8cff00"/><path d="M254.2 2077.4L247.8 2088.4L253.5 2089.4L260.0 2078.4Z" fill="#bbff00"/><path d="M267.0 2056.0L260.6 2066.6L266.4 2067.7L272.9 2057.2Z" fill="#9bff00"/><path d="M260.6 2066.6L254.2 2077.4L260.0 2078.4L266.4 2067.7Z" fill="#abff00"/><path d="M337.3 1964.4L330.9 1972.7L337.2 1974.3L343.6 1966.2Z" fill="#12ff00"/><path d="M515.2 1875.5L509.3 1878.0L516.5 1880.0L522.4 1877.7Z" fill="#008b74"/><path d="M369.2 1936.0L362.8 1943.2L369.3 1945.0L375.7 1937.9Z" fill="#00e619"/><path d="M420.1 1902.9L413.9 1908.4L420.6 1910.4L426.8 1905.0Z" fill="#00b44b"/><path d="M330.9 1972.7L324.5 1981.1L330.7 1982.7L337.2 1974.3Z" fill="#1dff00"/><path d="M394.7 1918.2L388.4 1924.5L395.0 1926.4L401.3 1920.2Z" fill="#00cb34"/><path d="M496.3 1878.5L490.4 1881.6L497.5 1883.6L503.4 1880.7Z" fill="#008f70"/><path d="M439.2 1895.0L433.1 1899.9L439.9 1901.8L446.1 1897.1Z" fill="#00a758"/><path d="M477.4 1882.8L471.3 1886.4L478.4 1888.4L484.4 1884.9Z" fill="#00946b"/><path d="M324.5 1981.1L318.1 1989.8L324.3 1991.3L330.7 1982.7Z" fill="#29ff00"/><path d="M458.3 1888.3L452.2 1892.5L459.1 1894.5L465.3 1890.4Z" fill="#009d62"/><path d="M362.8 1943.2L356.4 1950.6L362.9 1952.3L369.3 1945.0Z" fill="#00ef10"/><path d="M528.1 1875.6L522.4 1877.7L529.7 1879.6L535.4 1877.7Z" fill="#008976"/><path d="M318.1 1989.8L311.6 1998.8L317.8 2000.2L324.3 1991.3Z" fill="#35ff00"/><path d="M413.9 1908.4L407.6 1914.2L414.3 1916.0L420.6 1910.4Z" fill="#00ba45"/><path d="M388.4 1924.5L382.0 1931.1L388.6 1932.9L395.0 1926.4Z" fill="#00d22d"/><path d="M356.4 1950.6L350.0 1958.3L356.4 1959.9L362.9 1952.3Z" fill="#00f906"/><path d="M509.3 1878.0L503.4 1880.7L510.7 1882.6L516.5 1880.0Z" fill="#008b74"/><path d="M311.6 1998.8L305.2 2007.9L311.3 2009.3L317.8 2000.2Z" fill="#41ff00"/><path d="M433.1 1899.9L426.8 1905.0L433.6 1906.9L439.9 1901.8Z" fill="#00ac53"/><path d="M305.2 2007.9L298.7 2017.3L304.8 2018.6L311.3 2009.3Z" fill="#4eff00"/><path d="M490.4 1881.6L484.4 1884.9L491.5 1886.8L497.5 1883.6Z" fill="#00906f"/><path d="M452.2 1892.5L446.1 1897.1L453.0 1898.9L459.1 1894.5Z" fill="#00a05f"/><path d="M350.0 1958.3L343.6 1966.2L350.0 1967.7L356.4 1959.9Z" fill="#03ff00"/><path d="M382.0 1931.1L375.7 1937.9L382.2 1939.6L388.6 1932.9Z" fill="#00da25"/><path d="M298.7 2017.3L292.3 2027.0L298.3 2028.2L304.8 2018.6Z" fill="#5bff00"/><path d="M471.3 1886.4L465.3 1890.4L472.3 1892.2L478.4 1888.4Z" fill="#009768"/><path d="M407.6 1914.2L401.3 1920.2L408.0 1921.9L414.3 1916.0Z" fill="#00c03f"/><path d="M292.3 2027.0L285.8 2036.8L291.8 2037.9L298.3 2028.2Z" fill="#69ff00"/><path d="M285.8 2036.8L279.3 2046.9L285.3 2048.0L291.8 2037.9Z" fill="#77ff00"/><path d="M522.4 1877.7L516.5 1880.0L523.8 1881.8L529.7 1879.6Z" fill="#008877"/><path d="M343.6 1966.2L337.2 1974.3L343.5 1975.8L350.0 1967.7Z" fill="#0eff00"/><path d="M279.3 2046.9L272.9 2057.2L278.8 2058.2L285.3 2048.0Z" fill="#86ff00"/><path d="M272.9 2057.2L266.4 2067.7L272.3 2068.6L278.8 2058.2Z" fill="#95ff00"/><path d="M260.0 2078.4L253.5 2089.4L259.3 2090.2L265.8 2079.3Z" fill="#b4ff00"/><path d="M266.4 2067.7L260.0 2078.4L265.8 2079.3L272.3 2068.6Z" fill="#a4ff00"/><path d="M426.8 1905.0L420.6 1910.4L427.4 1912.2L433.6 1906.9Z" fill="#00b14e"/><path d="M375.7 1937.9L369.3 1945.0L375.8 1946.6L382.2 1939.6Z" fill="#00e21d"/><path d="M503.4 1880.7L497.5 1883.6L504.7 1885.4L510.7 1882.6Z" fill="#008c73"/><path d="M401.3 1920.2L395.0 1926.4L401.6 1928.1L408.0 1921.9Z" fill="#00c738"/><path d="M337.2 1974.3L330.7 1982.7L337.0 1984.1L343.5 1975.8Z" fill="#19ff00"/><path d="M446.1 1897.1L439.9 1901.8L446.8 1903.6L453.0 1898.9Z" fill="#00a45b"/><path d="M484.4 1884.9L478.4 1888.4L485.5 1890.2L491.5 1886.8Z" fill="#00916e"/><path d="M465.3 1890.4L459.1 1894.5L466.2 1896.3L472.3 1892.2Z" fill="#009a65"/><path d="M369.3 1945.0L362.9 1952.3L369.3 1953.8L375.8 1946.6Z" fill="#00eb14"/><path d="M330.7 1982.7L324.3 1991.3L330.5 1992.6L337.0 1984.1Z" fill="#24ff00"/><path d="M420.6 1910.4L414.3 1916.0L421.1 1917.7L427.4 1912.2Z" fill="#00b748"/><path d="M395.0 1926.4L388.6 1932.9L395.2 1934.5L401.6 1928.1Z" fill="#00ce31"/><path d="M324.3 1991.3L317.8 2000.2L324.0 2001.4L330.5 1992.6Z" fill="#2fff00"/><path d="M516.5 1880.0L510.7 1882.6L518.0 1884.3L523.8 1881.8Z" fill="#008877"/><path d="M362.9 1952.3L356.4 1959.9L362.9 1961.3L369.3 1953.8Z" fill="#00f40b"/><path d="M439.9 1901.8L433.6 1906.9L440.5 1908.5L446.8 1903.6Z" fill="#00a857"/><path d="M317.8 2000.2L311.3 2009.3L317.5 2010.4L324.0 2001.4Z" fill="#3bff00"/><path d="M497.5 1883.6L491.5 1886.8L498.7 1888.4L504.7 1885.4Z" fill="#008c73"/><path d="M459.1 1894.5L453.0 1898.9L460.0 1900.6L466.2 1896.3Z" fill="#009d62"/><path d="M311.3 2009.3L304.8 2018.6L311.0 2019.7L317.5 2010.4Z" fill="#48ff00"/><path d="M478.4 1888.4L472.3 1892.2L479.4 1893.9L485.5 1890.2Z" fill="#00936c"/><path d="M388.6 1932.9L382.2 1939.6L388.8 1941.1L395.2 1934.5Z" fill="#00d629"/><path d="M356.4 1959.9L350.0 1967.7L356.4 1969.1L362.9 1961.3Z" fill="#00fe01"/><path d="M414.3 1916.0L408.0 1921.9L414.7 1923.5L421.1 1917.7Z" fill="#00bc43"/><path d="M304.8 2018.6L298.3 2028.2L304.4 2029.1L311.0 2019.7Z" fill="#55ff00"/><path d="M298.3 2028.2L291.8 2037.9L297.9 2038.9L304.4 2029.1Z" fill="#62ff00"/><path d="M350.0 1967.7L343.5 1975.8L349.9 1977.0L356.4 1969.1Z" fill="#09ff00"/><path d="M291.8 2037.9L285.3 2048.0L291.3 2048.8L297.9 2038.9Z" fill="#70ff00"/><path d="M433.6 1906.9L427.4 1912.2L434.2 1913.7L440.5 1908.5Z" fill="#00ad52"/><path d="M382.2 1939.6L375.8 1946.6L382.4 1948.0L388.8 1941.1Z" fill="#00de21"/><path d="M285.3 2048.0L278.8 2058.2L284.8 2059.0L291.3 2048.8Z" fill="#7fff00"/><path d="M510.7 1882.6L504.7 1885.4L512.0 1886.9L518.0 1884.3Z" fill="#008877"/><path d="M278.8 2058.2L272.3 2068.6L278.3 2069.4L284.8 2059.0Z" fill="#8dff00"/><path d="M408.0 1921.9L401.6 1928.1L408.3 1929.5L414.7 1923.5Z" fill="#00c33c"/><path d="M272.3 2068.6L265.8 2079.3L271.7 2080.0L278.3 2069.4Z" fill="#9dff00"/><path d="M265.8 2079.3L259.3 2090.2L265.2 2090.8L271.7 2080.0Z" fill="#acff00"/><path d="M453.0 1898.9L446.8 1903.6L453.8 1905.1L460.0 1900.6Z" fill="#00a05f"/><path d="M343.5 1975.8L337.0 1984.1L343.4 1985.2L349.9 1977.0Z" fill="#13ff00"/><path d="M491.5 1886.8L485.5 1890.2L492.7 1891.8L498.7 1888.4Z" fill="#008e71"/><path d="M472.3 1892.2L466.2 1896.3L473.3 1897.8L479.4 1893.9Z" fill="#009669"/><path d="M375.8 1946.6L369.3 1953.8L375.9 1955.1L382.4 1948.0Z" fill="#00e619"/><path d="M337.0 1984.1L330.5 1992.6L336.9 1993.7L343.4 1985.2Z" fill="#1eff00"/><path d="M427.4 1912.2L421.1 1917.7L427.9 1919.1L434.2 1913.7Z" fill="#00b24d"/><path d="M401.6 1928.1L395.2 1934.5L401.9 1935.8L408.3 1929.5Z" fill="#00ca35"/><path d="M330.5 1992.6L324.0 2001.4L330.3 2002.4L336.9 1993.7Z" fill="#2aff00"/><path d="M369.3 1953.8L362.9 1961.3L369.4 1962.5L375.9 1955.1Z" fill="#00ef10"/><path d="M446.8 1903.6L440.5 1908.5L447.5 1910.0L453.8 1905.1Z" fill="#00a45b"/><path d="M504.7 1885.4L498.7 1888.4L506.0 1889.9L512.0 1886.9Z" fill="#008976"/><path d="M324.0 2001.4L317.5 2010.4L323.8 2011.3L330.3 2002.4Z" fill="#35ff00"/><path d="M466.2 1896.3L460.0 1900.6L467.1 1902.0L473.3 1897.8Z" fill="#009966"/><path d="M485.5 1890.2L479.4 1893.9L486.6 1895.3L492.7 1891.8Z" fill="#00906f"/><path d="M395.2 1934.5L388.8 1941.1L395.5 1942.4L401.9 1935.8Z" fill="#00d12e"/><path d="M421.1 1917.7L414.7 1923.5L421.6 1924.8L427.9 1919.1Z" fill="#00b847"/><path d="M362.9 1961.3L356.4 1969.1L362.9 1970.2L369.4 1962.5Z" fill="#00f807"/><path d="M317.5 2010.4L311.0 2019.7L317.2 2020.5L323.8 2011.3Z" fill="#42ff00"/><path d="M311.0 2019.7L304.4 2029.1L310.6 2029.9L317.2 2020.5Z" fill="#4eff00"/><path d="M440.5 1908.5L434.2 1913.7L441.2 1915.0L447.5 1910.0Z" fill="#00a956"/><path d="M304.4 2029.1L297.9 2038.9L304.0 2039.6L310.6 2029.9Z" fill="#5bff00"/><path d="M356.4 1969.1L349.9 1977.0L356.4 1978.1L362.9 1970.2Z" fill="#03ff00"/><path d="M388.8 1941.1L382.4 1948.0L389.0 1949.2L395.5 1942.4Z" fill="#00d926"/><path d="M297.9 2038.9L291.3 2048.8L297.5 2049.4L304.0 2039.6Z" fill="#69ff00"/><path d="M414.7 1923.5L408.3 1929.5L415.2 1930.8L421.6 1924.8Z" fill="#00be41"/><path d="M460.0 1900.6L453.8 1905.1L460.8 1906.5L467.1 1902.0Z" fill="#009c63"/><path d="M291.3 2048.8L284.8 2059.0L290.9 2059.5L297.5 2049.4Z" fill="#77ff00"/><path d="M498.7 1888.4L492.7 1891.8L500.0 1893.1L506.0 1889.9Z" fill="#008a75"/><path d="M479.4 1893.9L473.3 1897.8L480.5 1899.2L486.6 1895.3Z" fill="#00926d"/><path d="M284.8 2059.0L278.3 2069.4L284.3 2069.9L290.9 2059.5Z" fill="#86ff00"/><path d="M349.9 1977.0L343.4 1985.2L349.8 1986.2L356.4 1978.1Z" fill="#0dff00"/><path d="M278.3 2069.4L271.7 2080.0L277.7 2080.4L284.3 2069.9Z" fill="#95ff00"/><path d="M271.7 2080.0L265.2 2090.8L271.1 2091.2L277.7 2080.4Z" fill="#a4ff00"/><path d="M382.4 1948.0L375.9 1955.1L382.5 1956.2L389.0 1949.2Z" fill="#00e11e"/><path d="M434.2 1913.7L427.9 1919.1L434.9 1920.4L441.2 1915.0Z" fill="#00ae51"/><path d="M343.4 1985.2L336.9 1993.7L343.3 1994.6L349.8 1986.2Z" fill="#18ff00"/><path d="M408.3 1929.5L401.9 1935.8L408.7 1937.0L415.2 1930.8Z" fill="#00c53a"/><path d="M453.8 1905.1L447.5 1910.0L454.6 1911.2L460.8 1906.5Z" fill="#00a05f"/><path d="M336.9 1993.7L330.3 2002.4L336.7 2003.2L343.3 1994.6Z" fill="#23ff00"/><path d="M375.9 1955.1L369.4 1962.5L376.0 1963.5L382.5 1956.2Z" fill="#00ea15"/><path d="M473.3 1897.8L467.1 1902.0L474.3 1903.2L480.5 1899.2Z" fill="#00956a"/><path d="M492.7 1891.8L486.6 1895.3L493.9 1896.6L500.0 1893.1Z" fill="#008b74"/><path d="M330.3 2002.4L323.8 2011.3L330.1 2012.1L336.7 2003.2Z" fill="#2fff00"/><path d="M427.9 1919.1L421.6 1924.8L428.5 1925.9L434.9 1920.4Z" fill="#00b34c"/><path d="M401.9 1935.8L395.5 1942.4L402.3 1943.4L408.7 1937.0Z" fill="#00cc33"/><path d="M369.4 1962.5L362.9 1970.2L369.5 1971.1L376.0 1963.5Z" fill="#00f30c"/><path d="M323.8 2011.3L317.2 2020.5L323.5 2021.2L330.1 2012.1Z" fill="#3bff00"/><path d="M447.5 1910.0L441.2 1915.0L448.3 1916.1L454.6 1911.2Z" fill="#00a45b"/><path d="M317.2 2020.5L310.6 2029.9L316.9 2030.5L323.5 2021.2Z" fill="#47ff00"/><path d="M362.9 1970.2L356.4 1978.1L362.9 1978.9L369.5 1971.1Z" fill="#00fc03"/><path d="M395.5 1942.4L389.0 1949.2L395.8 1950.1L402.3 1943.4Z" fill="#00d32c"/><path d="M310.6 2029.9L304.0 2039.6L310.3 2040.1L316.9 2030.5Z" fill="#54ff00"/><path d="M421.6 1924.8L415.2 1930.8L422.1 1931.8L428.5 1925.9Z" fill="#00b946"/><path d="M467.1 1902.0L460.8 1906.5L468.0 1907.6L474.3 1903.2Z" fill="#009867"/><path d="M486.6 1895.3L480.5 1899.2L487.7 1900.3L493.9 1896.6Z" fill="#008d72"/><path d="M304.0 2039.6L297.5 2049.4L303.6 2049.9L310.3 2040.1Z" fill="#61ff00"/><path d="M297.5 2049.4L290.9 2059.5L297.0 2059.9L303.6 2049.9Z" fill="#6fff00"/><path d="M356.4 1978.1L349.8 1986.2L356.4 1986.9L362.9 1978.9Z" fill="#07ff00"/><path d="M290.9 2059.5L284.3 2069.9L290.4 2070.2L297.0 2059.9Z" fill="#7dff00"/><path d="M389.0 1949.2L382.5 1956.2L389.3 1957.1L395.8 1950.1Z" fill="#00db24"/><path d="M284.3 2069.9L277.7 2080.4L283.8 2080.7L290.4 2070.2Z" fill="#8cff00"/><path d="M441.2 1915.0L434.9 1920.4L441.9 1921.4L448.3 1916.1Z" fill="#00a956"/><path d="M277.7 2080.4L271.1 2091.2L277.1 2091.4L283.8 2080.7Z" fill="#9bff00"/><path d="M415.2 1930.8L408.7 1937.0L415.6 1937.9L422.1 1931.8Z" fill="#00c03f"/><path d="M349.8 1986.2L343.3 1994.6L349.8 1995.2L356.4 1986.9Z" fill="#12ff00"/><path d="M460.8 1906.5L454.6 1911.2L461.7 1912.2L468.0 1907.6Z" fill="#009b64"/><path d="M382.5 1956.2L376.0 1963.5L382.7 1964.3L389.3 1957.1Z" fill="#00e41b"/><path d="M343.3 1994.6L336.7 2003.2L343.1 2003.8L349.8 1995.2Z" fill="#1cff00"/><path d="M480.5 1899.2L474.3 1903.2L481.5 1904.2L487.7 1900.3Z" fill="#00906f"/><path d="M434.9 1920.4L428.5 1925.9L435.5 1926.9L441.9 1921.4Z" fill="#00ae51"/><path d="M408.7 1937.0L402.3 1943.4L409.2 1944.2L415.6 1937.9Z" fill="#00c639"/><path d="M336.7 2003.2L330.1 2012.1L336.5 2012.5L343.1 2003.8Z" fill="#28ff00"/><path d="M376.0 1963.5L369.5 1971.1L376.2 1971.8L382.7 1964.3Z" fill="#00ed12"/><path d="M330.1 2012.1L323.5 2021.2L329.9 2021.6L336.5 2012.5Z" fill="#33ff00"/><path d="M454.6 1911.2L448.3 1916.1L455.4 1917.0L461.7 1912.2Z" fill="#009f60"/><path d="M323.5 2021.2L316.9 2030.5L323.2 2030.8L329.9 2021.6Z" fill="#40ff00"/><path d="M402.3 1943.4L395.8 1950.1L402.6 1950.9L409.2 1944.2Z" fill="#00ce31"/><path d="M369.5 1971.1L362.9 1978.9L369.6 1979.5L376.2 1971.8Z" fill="#00f609"/><path d="M474.3 1903.2L468.0 1907.6L475.3 1908.5L481.5 1904.2Z" fill="#00936c"/><path d="M428.5 1925.9L422.1 1931.8L429.1 1932.6L435.5 1926.9Z" fill="#00b44b"/><path d="M316.9 2030.5L310.3 2040.1L316.6 2040.3L323.2 2030.8Z" fill="#4cff00"/><path d="M310.3 2040.1L303.6 2049.9L309.9 2050.1L316.6 2040.3Z" fill="#59ff00"/><path d="M362.9 1978.9L356.4 1986.9L363.0 1987.4L369.6 1979.5Z" fill="#00ff00"/><path d="M303.6 2049.9L297.0 2059.9L303.2 2060.0L309.9 2050.1Z" fill="#67ff00"/><path d="M395.8 1950.1L389.3 1957.1L396.1 1957.7L402.6 1950.9Z" fill="#00d52a"/><path d="M448.3 1916.1L441.9 1921.4L449.0 1922.2L455.4 1917.0Z" fill="#00a45b"/><path d="M297.0 2059.9L290.4 2070.2L296.6 2070.2L303.2 2060.0Z" fill="#75ff00"/><path d="M422.1 1931.8L415.6 1937.9L422.6 1938.6L429.1 1932.6Z" fill="#00ba45"/><path d="M290.4 2070.2L283.8 2080.7L289.9 2080.7L296.6 2070.2Z" fill="#83ff00"/><path d="M356.4 1986.9L349.8 1995.2L356.3 1995.6L363.0 1987.4Z" fill="#0bff00"/><path d="M283.8 2080.7L277.1 2091.4L283.2 2091.3L289.9 2080.7Z" fill="#92ff00"/><path d="M468.0 1907.6L461.7 1912.2L469.0 1913.0L475.3 1908.5Z" fill="#009669"/><path d="M389.3 1957.1L382.7 1964.3L389.5 1964.8L396.1 1957.7Z" fill="#00dd22"/><path d="M349.8 1995.2L343.1 2003.8L349.7 2004.1L356.3 1995.6Z" fill="#15ff00"/><path d="M441.9 1921.4L435.5 1926.9L442.6 1927.5L449.0 1922.2Z" fill="#00a956"/><path d="M415.6 1937.9L409.2 1944.2L416.1 1944.8L422.6 1938.6Z" fill="#00c03f"/><path d="M343.1 2003.8L336.5 2012.5L343.0 2012.8L349.7 2004.1Z" fill="#20ff00"/><path d="M382.7 1964.3L376.2 1971.8L382.9 1972.2L389.5 1964.8Z" fill="#00e619"/><path d="M461.7 1912.2L455.4 1917.0L462.7 1917.7L469.0 1913.0Z" fill="#009a65"/><path d="M336.5 2012.5L329.9 2021.6L336.3 2021.8L343.0 2012.8Z" fill="#2cff00"/><path d="M409.2 1944.2L402.6 1950.9L409.6 1951.4L416.1 1944.8Z" fill="#00c738"/><path d="M435.5 1926.9L429.1 1932.6L436.2 1933.2L442.6 1927.5Z" fill="#00ae51"/><path d="M376.2 1971.8L369.6 1979.5L376.3 1979.8L382.9 1972.2Z" fill="#00ef10"/><path d="M329.9 2021.6L323.2 2030.8L329.7 2031.0L336.3 2021.8Z" fill="#38ff00"/><path d="M323.2 2030.8L316.6 2040.3L323.0 2040.4L329.7 2031.0Z" fill="#44ff00"/><path d="M369.6 1979.5L363.0 1987.4L369.7 1987.7L376.3 1979.8Z" fill="#00f807"/><path d="M455.4 1917.0L449.0 1922.2L456.3 1922.7L462.7 1917.7Z" fill="#009e61"/><path d="M316.6 2040.3L309.9 2050.1L316.3 2050.1L323.0 2040.4Z" fill="#51ff00"/><path d="M402.6 1950.9L396.1 1957.7L403.0 1958.1L409.6 1951.4Z" fill="#00cf30"/><path d="M309.9 2050.1L303.2 2060.0L309.5 2060.0L316.3 2050.1Z" fill="#5eff00"/><path d="M429.1 1932.6L422.6 1938.6L429.7 1939.1L436.2 1933.2Z" fill="#00b44b"/><path d="M303.2 2060.0L296.6 2070.2L302.8 2070.1L309.5 2060.0Z" fill="#6cff00"/><path d="M363.0 1987.4L356.3 1995.6L363.0 1995.8L369.7 1987.7Z" fill="#03ff00"/><path d="M296.6 2070.2L289.9 2080.7L296.1 2080.5L302.8 2070.1Z" fill="#7aff00"/><path d="M289.9 2080.7L283.2 2091.3L289.4 2091.1L296.1 2080.5Z" fill="#88ff00"/><path d="M396.1 1957.7L389.5 1964.8L396.4 1965.2L403.0 1958.1Z" fill="#00d728"/><path d="M356.3 1995.6L349.7 2004.1L356.3 2004.2L363.0 1995.8Z" fill="#0eff00"/><path d="M449.0 1922.2L442.6 1927.5L449.9 1928.0L456.3 1922.7Z" fill="#00a35c"/><path d="M422.6 1938.6L416.1 1944.8L423.2 1945.2L429.7 1939.1Z" fill="#00ba45"/><path d="M349.7 2004.1L343.0 2012.8L349.6 2012.9L356.3 2004.2Z" fill="#18ff00"/><path d="M389.5 1964.8L382.9 1972.2L389.8 1972.4L396.4 1965.2Z" fill="#00df20"/><path d="M343.0 2012.8L336.3 2021.8L342.9 2021.7L349.6 2012.9Z" fill="#24ff00"/><path d="M416.1 1944.8L409.6 1951.4L416.6 1951.6L423.2 1945.2Z" fill="#00c13e"/><path d="M442.6 1927.5L436.2 1933.2L443.4 1933.5L449.9 1928.0Z" fill="#00a857"/><path d="M382.9 1972.2L376.3 1979.8L383.1 1980.0L389.8 1972.4Z" fill="#00e817"/><path d="M336.3 2021.8L329.7 2031.0L336.2 2030.9L342.9 2021.7Z" fill="#2fff00"/><path d="M329.7 2031.0L323.0 2040.4L329.4 2040.2L336.2 2030.9Z" fill="#3bff00"/><path d="M376.3 1979.8L369.7 1987.7L376.5 1987.8L383.1 1980.0Z" fill="#00f10e"/><path d="M409.6 1951.4L403.0 1958.1L410.0 1958.3L416.6 1951.6Z" fill="#00c837"/><path d="M323.0 2040.4L316.3 2050.1L322.7 2049.8L329.4 2040.2Z" fill="#48ff00"/><path d="M436.2 1933.2L429.7 1939.1L436.9 1939.3L443.4 1933.5Z" fill="#00ad52"/><path d="M316.3 2050.1L309.5 2060.0L315.9 2059.7L322.7 2049.8Z" fill="#55ff00"/><path d="M369.7 1987.7L363.0 1995.8L369.8 1995.8L376.5 1987.8Z" fill="#00fa05"/><path d="M309.5 2060.0L302.8 2070.1L309.2 2069.7L315.9 2059.7Z" fill="#62ff00"/><path d="M403.0 1958.1L396.4 1965.2L403.4 1965.2L410.0 1958.3Z" fill="#00cf30"/><path d="M302.8 2070.1L296.1 2080.5L302.4 2080.0L309.2 2069.7Z" fill="#70ff00"/><path d="M296.1 2080.5L289.4 2091.1L295.6 2090.6L302.4 2080.0Z" fill="#7eff00"/><path d="M363.0 1995.8L356.3 2004.2L363.0 2004.1L369.8 1995.8Z" fill="#05ff00"/><path d="M429.7 1939.1L423.2 1945.2L430.3 1945.4L436.9 1939.3Z" fill="#00b34c"/><path d="M396.4 1965.2L389.8 1972.4L396.7 1972.4L403.4 1965.2Z" fill="#00d728"/><path d="M356.3 2004.2L349.6 2012.9L356.3 2012.7L363.0 2004.1Z" fill="#10ff00"/><path d="M423.2 1945.2L416.6 1951.6L423.7 1951.7L430.3 1945.4Z" fill="#00ba45"/><path d="M349.6 2012.9L342.9 2021.7L349.6 2021.5L356.3 2012.7Z" fill="#1bff00"/><path d="M389.8 1972.4L383.1 1980.0L390.1 1979.9L396.7 1972.4Z" fill="#00e01f"/><path d="M342.9 2021.7L336.2 2030.9L342.8 2030.5L349.6 2021.5Z" fill="#26ff00"/><path d="M416.6 1951.6L410.0 1958.3L417.1 1958.3L423.7 1951.7Z" fill="#00c03f"/><path d="M336.2 2030.9L329.4 2040.2L336.0 2039.8L342.8 2030.5Z" fill="#32ff00"/><path d="M383.1 1980.0L376.5 1987.8L383.3 1987.6L390.1 1979.9Z" fill="#00e916"/><path d="M329.4 2040.2L322.7 2049.8L329.2 2049.3L336.0 2039.8Z" fill="#3eff00"/><path d="M376.5 1987.8L369.8 1995.8L376.6 1995.6L383.3 1987.6Z" fill="#00f20d"/><path d="M322.7 2049.8L315.9 2059.7L322.4 2059.1L329.2 2049.3Z" fill="#4bff00"/><path d="M410.0 1958.3L403.4 1965.2L410.5 1965.1L417.1 1958.3Z" fill="#00c837"/><path d="M315.9 2059.7L309.2 2069.7L315.6 2069.1L322.4 2059.1Z" fill="#58ff00"/><path d="M309.2 2069.7L302.4 2080.0L308.8 2079.4L315.6 2069.1Z" fill="#66ff00"/><path d="M369.8 1995.8L363.0 2004.1L369.9 2003.8L376.6 1995.6Z" fill="#00fc03"/><path d="M302.4 2080.0L295.6 2090.6L302.0 2089.9L308.8 2079.4Z" fill="#74ff00"/><path d="M403.4 1965.2L396.7 1972.4L403.8 1972.2L410.5 1965.1Z" fill="#00cf30"/><path d="M363.0 2004.1L356.3 2012.7L363.1 2012.3L369.9 2003.8Z" fill="#07ff00"/><path d="M356.3 2012.7L349.6 2021.5L356.3 2021.0L363.1 2012.3Z" fill="#12ff00"/><path d="M396.7 1972.4L390.1 1979.9L397.1 1979.6L403.8 1972.2Z" fill="#00d827"/><path d="M349.6 2021.5L342.8 2030.5L349.5 2029.9L356.3 2021.0Z" fill="#1dff00"/><path d="M390.1 1979.9L383.3 1987.6L390.3 1987.2L397.1 1979.6Z" fill="#00e01f"/><path d="M342.8 2030.5L336.0 2039.8L342.7 2039.2L349.5 2029.9Z" fill="#28ff00"/><path d="M336.0 2039.8L329.2 2049.3L335.8 2048.6L342.7 2039.2Z" fill="#35ff00"/><path d="M383.3 1987.6L376.6 1995.6L383.6 1995.1L390.3 1987.2Z" fill="#00e916"/><path d="M329.2 2049.3L322.4 2059.1L329.0 2058.3L335.8 2048.6Z" fill="#41ff00"/><path d="M322.4 2059.1L315.6 2069.1L322.1 2068.3L329.0 2058.3Z" fill="#4eff00"/><path d="M376.6 1995.6L369.9 2003.8L376.8 2003.2L383.6 1995.1Z" fill="#00f30c"/><path d="M315.6 2069.1L308.8 2079.4L315.3 2078.5L322.1 2068.3Z" fill="#5bff00"/><path d="M308.8 2079.4L302.0 2089.9L308.4 2088.9L315.3 2078.5Z" fill="#69ff00"/><path d="M369.9 2003.8L363.1 2012.3L370.0 2011.6L376.8 2003.2Z" fill="#00fd02"/><path d="M363.1 2012.3L356.3 2021.0L363.1 2020.2L370.0 2011.6Z" fill="#08ff00"/><path d="M356.3 2021.0L349.5 2029.9L356.3 2029.1L363.1 2020.2Z" fill="#13ff00"/><path d="M349.5 2029.9L342.7 2039.2L349.4 2038.3L356.3 2029.1Z" fill="#1eff00"/><path d="M342.7 2039.2L335.8 2048.6L342.5 2047.7L349.4 2038.3Z" fill="#2aff00"/><path d="M335.8 2048.6L329.0 2058.3L335.6 2057.3L342.5 2047.7Z" fill="#36ff00"/><path d="M329.0 2058.3L322.1 2068.3L328.7 2067.2L335.6 2057.3Z" fill="#43ff00"/><path d="M322.1 2068.3L315.3 2078.5L321.8 2077.3L328.7 2067.2Z" fill="#50ff00"/><path d="M315.3 2078.5L308.4 2088.9L314.9 2087.7L321.8 2077.3Z" fill="#5eff00"/></g><line x1="531.74" y1="2052.74" x2="315.55" y2="2166.97" stroke="#333" stroke-width="1.6"/><line x1="553.04" y1="1800.21" x2="313.32" y2="1893.8" stroke="#333" stroke-width="1.6"/><line x1="143.43" y1="2031.71" x2="315.55" y2="2166.97" stroke="#333" stroke-width="1.6"/><line x1="123.54" y1="1784.25" x2="313.32" y2="1893.8" stroke="#333" stroke-width="1.6"/><line x1="315.55" y1="2166.97" x2="313.32" y2="1893.8" stroke="#333" stroke-width="1.6"/><line x1="121.1" y1="1995" x2="105.7" y2="1830" stroke="#333" stroke-width="1.6"/><line x1="105.7" y1="1830" x2="100.69" y2="1842" stroke="#333" stroke-width="1.6"/><line x1="105.7" y1="1830" x2="112.84" y2="1840.86" stroke="#333" stroke-width="1.6"/><line x1="307" y1="1705.5" x2="156.6" y2="1752.7" stroke="#333" stroke-width="1.6"/><line x1="156.6" y1="1752.7" x2="169.38" y2="1755.09" stroke="#333" stroke-width="1.6"/><line x1="156.6" y1="1752.7" x2="165.72" y2="1743.44" stroke="#333" stroke-width="1.6"/><line x1="392.6" y1="1708.9" x2="525.5" y2="1765.2" stroke="#333" stroke-width="1.6"/><line x1="525.5" y1="1765.2" x2="517.31" y2="1755.1" stroke="#333" stroke-width="1.6"/><line x1="525.5" y1="1765.2" x2="512.55" y2="1766.34" stroke="#333" stroke-width="1.6"/><text x="196.19" y="1712.6" font-size="39.1" textLength="42.58" lengthAdjust="spacingAndGlyphs" fill="#000">ST</text><text x="442.62" y="1711" font-size="39.39" textLength="72.19" lengthAdjust="spacingAndGlyphs" fill="#000">EQT</text><text x="30.57" y="1921.3" font-size="39.83" textLength="57.46" lengthAdjust="spacingAndGlyphs" fill="#000">IV2</text><defs><linearGradient id="g3" x1="0" y1="0" x2="0" y2="1"><stop offset="0" stop-color="#0000ff"/><stop offset="0.5" stop-color="#00ff00"/><stop offset="1" stop-color="#ffff00"/></linearGradient></defs><rect x="676.6" y="1619" width="37.7" height="652.5" fill="url(#g3)" stroke="#222" stroke-width="1.5"/><line x1="714.3" y1="2190.5" x2="724.3" y2="2190.5" stroke="#333" stroke-width="2"/><text x="733.2" y="2200.3" font-size="20.62" fill="#333">0.50</text><line x1="714.3" y1="2099.98" x2="724.3" y2="2099.98" stroke="#333" stroke-width="2"/><text x="733.2" y="2109.78" font-size="20.62" fill="#333">0.55</text><line x1="714.3" y1="2009.47" x2="724.3" y2="2009.47" stroke="#333" stroke-width="2"/><text x="733.2" y="2019.27" font-size="20.62" fill="#333">0.60</text><line x1="714.3" y1="1918.95" x2="724.3" y2="1918.95" stroke="#333" stroke-width="2"/><text x="733.2" y="1928.75" font-size="20.62" fill="#333">0.65</text><line x1="714.3" y1="1828.43" x2="724.3" y2="1828.43" stroke="#333" stroke-width="2"/><text x="733.2" y="1838.23" font-size="20.62" fill="#333">0.70</text><line x1="714.3" y1="1737.92" x2="724.3" y2="1737.92" stroke="#333" stroke-width="2"/><text x="733.2" y="1747.72" font-size="20.62" fill="#333">0.75</text><line x1="714.3" y1="1647.4" x2="724.3" y2="1647.4" stroke="#333" stroke-width="2"/><text x="733.2" y="1657.2" font-size="20.62" fill="#333">0.80</text>
<rect x="947.6" y="92.6" width="697.4" height="490.4" fill="none" stroke="#3a3a3a" stroke-width="2.4" stroke-dasharray="8.5 4.7"/><line x1="947.6" y1="169.6" x2="947.6" y2="550" stroke="#222" stroke-width="2"/><line x1="932.6" y1="169.6" x2="947.6" y2="169.6" stroke="#222" stroke-width="2"/><text x="914" y="179" font-size="26.55" fill="#222" text-anchor="end">1.0</text><line x1="932.6" y1="295.9" x2="947.6" y2="295.9" stroke="#222" stroke-width="2"/><text x="914" y="305.3" font-size="26.55" fill="#222" text-anchor="end">0.5</text><line x1="932.6" y1="422.3" x2="947.6" y2="422.3" stroke="#222" stroke-width="2"/><text x="914" y="431.7" font-size="26.55" fill="#222" text-anchor="end">0.0</text><line x1="932.6" y1="550" x2="947.6" y2="550" stroke="#222" stroke-width="2"/><text x="914" y="559.4" font-size="26.55" fill="#222" text-anchor="end">-0.5</text><rect x="974.5" y="262.8" width="128.5" height="159.5" fill="#ff0000" stroke="#222" stroke-width="1.6"/><rect x="1103" y="388" width="129.9" height="34.3" fill="#ff0000" stroke="#222" stroke-width="1.6"/><rect x="1232.9" y="382.7" width="128.4" height="39.6" fill="#ff0000" stroke="#222" stroke-width="1.6"/><rect x="1361.3" y="246.2" width="128.5" height="176.1" fill="#ff0000" stroke="#222" stroke-width="1.6"/><rect x="1489.8" y="422.3" width="130.6" height="7.2" fill="#ff0000" stroke="#222" stroke-width="1.6"/><text x="1016.3" y="285.56" font-size="44" text-anchor="middle" fill="#000" stroke="#000" stroke-width="0.6">*</text><text x="1036.6" y="285.56" font-size="44" text-anchor="middle" fill="#000" stroke="#000" stroke-width="0.6">*</text><text x="1056.9" y="285.56" font-size="44" text-anchor="middle" fill="#000" stroke="#000" stroke-width="0.6">*</text><text x="1425.6" y="269.06" font-size="44" text-anchor="middle" fill="#000" stroke="#000" stroke-width="0.6">*</text><line x1="1037.7" y1="173.8" x2="1037.7" y2="262.8" stroke="#4fe64f" stroke-width="2.6"/><line x1="1037.7" y1="262.8" x2="1037.7" y2="349.5" stroke="#8a8c1e" stroke-width="2.6"/><line x1="1011.7" y1="173.8" x2="1063.7" y2="173.8" stroke="#4fe64f" stroke-width="2.6"/><line x1="1011.7" y1="349.5" x2="1063.7" y2="349.5" stroke="#8a8c1e" stroke-width="2.6"/><line x1="1167.2" y1="299.2" x2="1167.2" y2="388" stroke="#4fe64f" stroke-width="2.6"/><line x1="1167.2" y1="388" x2="1167.2" y2="422.3" stroke="#8a8c1e" stroke-width="2.6"/><line x1="1167.2" y1="422.3" x2="1167.2" y2="475.9" stroke="#4fe64f" stroke-width="2.6"/><line x1="1141.2" y1="299.2" x2="1193.2" y2="299.2" stroke="#4fe64f" stroke-width="2.6"/><line x1="1141.2" y1="475.9" x2="1193.2" y2="475.9" stroke="#4fe64f" stroke-width="2.6"/><line x1="1296.5" y1="274.2" x2="1296.5" y2="382.7" stroke="#4fe64f" stroke-width="2.6"/><line x1="1296.5" y1="382.7" x2="1296.5" y2="422.3" stroke="#8a8c1e" stroke-width="2.6"/><line x1="1296.5" y1="422.3" x2="1296.5" y2="489.6" stroke="#4fe64f" stroke-width="2.6"/><line x1="1270.5" y1="274.2" x2="1322.5" y2="274.2" stroke="#4fe64f" stroke-width="2.6"/><line x1="1270.5" y1="489.6" x2="1322.5" y2="489.6" stroke="#4fe64f" stroke-width="2.6"/><line x1="1426.5" y1="92.5" x2="1426.5" y2="246.2" stroke="#4fe64f" stroke-width="2.6"/><line x1="1426.5" y1="246.2" x2="1426.5" y2="398" stroke="#8a8c1e" stroke-width="2.6"/><line x1="1400.5" y1="92.5" x2="1452.5" y2="92.5" stroke="#4fe64f" stroke-width="2.6"/><line x1="1400.5" y1="398" x2="1452.5" y2="398" stroke="#8a8c1e" stroke-width="2.6"/><line x1="1555" y1="277.8" x2="1555" y2="422.3" stroke="#4fe64f" stroke-width="2.6"/><line x1="1555" y1="422.3" x2="1555" y2="429.5" stroke="#8a8c1e" stroke-width="2.6"/><line x1="1555" y1="429.5" x2="1555" y2="583" stroke="#4fe64f" stroke-width="2.6"/><line x1="1529" y1="277.8" x2="1581" y2="277.8" stroke="#4fe64f" stroke-width="2.6"/><line x1="1529" y1="583" x2="1581" y2="583" stroke="#4fe64f" stroke-width="2.6"/><text x="998.81" y="651.6" font-size="38.37" textLength="42.05" lengthAdjust="spacingAndGlyphs" fill="#000">ST</text><text x="1119.95" y="651.6" font-size="38.37" textLength="71.34" lengthAdjust="spacingAndGlyphs" fill="#000">EQT</text><text x="1218.04" y="651.6" font-size="38.37" textLength="136" lengthAdjust="spacingAndGlyphs" fill="#000">ST*EQT</text><text x="1396.61" y="651.6" font-size="38.37" textLength="42.05" lengthAdjust="spacingAndGlyphs" fill="#000">ST</text><text x="1438.6" y="638.1" font-size="25.21" textLength="14.41" lengthAdjust="spacingAndGlyphs" fill="#000">2</text><text x="1511.25" y="651.6" font-size="38.37" textLength="71.34" lengthAdjust="spacingAndGlyphs" fill="#000">EQT</text><text x="1582.8" y="638.1" font-size="25.21" textLength="14.41" lengthAdjust="spacingAndGlyphs" fill="#000">2</text>
<rect x="948.2" y="872.5" width="698" height="487.8" fill="none" stroke="#3a3a3a" stroke-width="2.4" stroke-dasharray="8.5 4.7"/><line x1="948.2" y1="898.3" x2="948.2" y2="1311.7" stroke="#222" stroke-width="2"/><line x1="933.2" y1="898.3" x2="948.2" y2="898.3" stroke="#222" stroke-width="2"/><text x="916.6" y="907.7" font-size="26.55" fill="#222" text-anchor="end">0.06</text><line x1="933.2" y1="1002.9" x2="948.2" y2="1002.9" stroke="#222" stroke-width="2"/><text x="916.6" y="1012.3" font-size="26.55" fill="#222" text-anchor="end">0.04</text><line x1="933.2" y1="1105.8" x2="948.2" y2="1105.8" stroke="#222" stroke-width="2"/><text x="916.6" y="1115.2" font-size="26.55" fill="#222" text-anchor="end">0.02</text><line x1="933.2" y1="1209.8" x2="948.2" y2="1209.8" stroke="#222" stroke-width="2"/><text x="916.6" y="1219.2" font-size="26.55" fill="#222" text-anchor="end">0.00</text><line x1="933.2" y1="1311.7" x2="948.2" y2="1311.7" stroke="#222" stroke-width="2"/><text x="916.6" y="1321.1" font-size="26.55" fill="#222" text-anchor="end">-0.02</text><rect x="974.6" y="970.1" width="128.4" height="239.7" fill="#ff0000" stroke="#222" stroke-width="1.6"/><rect x="1103" y="1209.8" width="128.8" height="5.3" fill="#ff0000" stroke="#222" stroke-width="1.6"/><rect x="1231.8" y="1209.8" width="129.8" height="60.2" fill="#ff0000" stroke="#222" stroke-width="1.6"/><rect x="1361.6" y="999.2" width="129.4" height="210.6" fill="#ff0000" stroke="#222" stroke-width="1.6"/><rect x="1491" y="1209.8" width="130.4" height="6.9" fill="#ff0000" stroke="#222" stroke-width="1.6"/><text x="1017.3" y="993.56" font-size="44" text-anchor="middle" fill="#000" stroke="#000" stroke-width="0.6">*</text><text x="1037.6" y="993.56" font-size="44" text-anchor="middle" fill="#000" stroke="#000" stroke-width="0.6">*</text><text x="1057.9" y="993.56" font-size="44" text-anchor="middle" fill="#000" stroke="#000" stroke-width="0.6">*</text><text x="1416.7" y="1023.56" font-size="44" text-anchor="middle" fill="#000" stroke="#000" stroke-width="0.6">*</text><text x="1436.5" y="1023.56" font-size="44" text-anchor="middle" fill="#000" stroke="#000" stroke-width="0.6">*</text><line x1="1039.6" y1="897.3" x2="1039.6" y2="970.1" stroke="#4fe64f" stroke-width="2.6"/><line x1="1039.6" y1="970.1" x2="1039.6" y2="1043.5" stroke="#8a8c1e" stroke-width="2.6"/><line x1="1013.6" y1="897.3" x2="1065.6" y2="897.3" stroke="#4fe64f" stroke-width="2.6"/><line x1="1013.6" y1="1043.5" x2="1065.6" y2="1043.5" stroke="#8a8c1e" stroke-width="2.6"/><line x1="1168.4" y1="1141.7" x2="1168.4" y2="1209.8" stroke="#4fe64f" stroke-width="2.6"/><line x1="1168.4" y1="1209.8" x2="1168.4" y2="1215.1" stroke="#8a8c1e" stroke-width="2.6"/><line x1="1168.4" y1="1215.1" x2="1168.4" y2="1288" stroke="#4fe64f" stroke-width="2.6"/><line x1="1142.4" y1="1141.7" x2="1194.4" y2="1141.7" stroke="#4fe64f" stroke-width="2.6"/><line x1="1142.4" y1="1288" x2="1194.4" y2="1288" stroke="#4fe64f" stroke-width="2.6"/><line x1="1297.2" y1="1180.8" x2="1297.2" y2="1209.8" stroke="#4fe64f" stroke-width="2.6"/><line x1="1297.2" y1="1209.8" x2="1297.2" y2="1270" stroke="#8a8c1e" stroke-width="2.6"/><line x1="1297.2" y1="1270" x2="1297.2" y2="1360.3" stroke="#4fe64f" stroke-width="2.6"/><line x1="1271.2" y1="1180.8" x2="1323.2" y2="1180.8" stroke="#4fe64f" stroke-width="2.6"/><line x1="1271.2" y1="1360.3" x2="1323.2" y2="1360.3" stroke="#4fe64f" stroke-width="2.6"/><line x1="1427.1" y1="872.5" x2="1427.1" y2="999.2" stroke="#4fe64f" stroke-width="2.6"/><line x1="1427.1" y1="999.2" x2="1427.1" y2="1127" stroke="#8a8c1e" stroke-width="2.6"/><line x1="1401.1" y1="872.5" x2="1453.1" y2="872.5" stroke="#4fe64f" stroke-width="2.6"/><line x1="1401.1" y1="1127" x2="1453.1" y2="1127" stroke="#8a8c1e" stroke-width="2.6"/><line x1="1555.4" y1="1090" x2="1555.4" y2="1209.8" stroke="#4fe64f" stroke-width="2.6"/><line x1="1555.4" y1="1209.8" x2="1555.4" y2="1216.7" stroke="#8a8c1e" stroke-width="2.6"/><line x1="1555.4" y1="1216.7" x2="1555.4" y2="1342.4" stroke="#4fe64f" stroke-width="2.6"/><line x1="1529.4" y1="1090" x2="1581.4" y2="1090" stroke="#4fe64f" stroke-width="2.6"/><line x1="1529.4" y1="1342.4" x2="1581.4" y2="1342.4" stroke="#4fe64f" stroke-width="2.6"/><text x="989.7" y="1450" font-size="38.66" textLength="42.26" lengthAdjust="spacingAndGlyphs" fill="#000">ST</text><text x="1110.36" y="1449.6" font-size="38.66" textLength="71.24" lengthAdjust="spacingAndGlyphs" fill="#000">EQT</text><text x="1209.05" y="1448.7" font-size="38.66" textLength="135.49" lengthAdjust="spacingAndGlyphs" fill="#000">ST*EQT</text><text x="1387" y="1449.6" font-size="38.66" textLength="42.26" lengthAdjust="spacingAndGlyphs" fill="#000">ST</text><text x="1429.2" y="1436.1" font-size="25.21" textLength="14.41" lengthAdjust="spacingAndGlyphs" fill="#000">2</text><text x="1500.26" y="1449.6" font-size="38.66" textLength="71.24" lengthAdjust="spacingAndGlyphs" fill="#000">EQT</text><text x="1571.7" y="1436.1" font-size="25.21" textLength="14.41" lengthAdjust="spacingAndGlyphs" fill="#000">2</text>
<rect x="948.2" y="1657.2" width="710.2" height="485.8" fill="none" stroke="#3a3a3a" stroke-width="2.4" stroke-dasharray="8.5 4.7"/><line x1="948.2" y1="1679.9" x2="948.2" y2="2107.6" stroke="#222" stroke-width="2"/><line x1="933.2" y1="1679.9" x2="948.2" y2="1679.9" stroke="#222" stroke-width="2"/><text x="915.5" y="1689.3" font-size="26.55" fill="#222" text-anchor="end">0.2</text><line x1="933.2" y1="1786.6" x2="948.2" y2="1786.6" stroke="#222" stroke-width="2"/><text x="915.5" y="1796" font-size="26.55" fill="#222" text-anchor="end">0.1</text><line x1="933.2" y1="1892.7" x2="948.2" y2="1892.7" stroke="#222" stroke-width="2"/><text x="915.5" y="1902.1" font-size="26.55" fill="#222" text-anchor="end">0.0</text><line x1="933.2" y1="1999.3" x2="948.2" y2="1999.3" stroke="#222" stroke-width="2"/><text x="915.5" y="2008.7" font-size="26.55" fill="#222" text-anchor="end">-0.1</text><line x1="933.2" y1="2107.6" x2="948.2" y2="2107.6" stroke="#222" stroke-width="2"/><text x="915.5" y="2117" font-size="26.55" fill="#222" text-anchor="end">-0.2</text><text x="1039.9" y="2053.06" font-size="44" text-anchor="middle" fill="#000" stroke="#000" stroke-width="0.6">*</text><rect x="975.7" y="1892.7" width="130.9" height="134.1" fill="#ff0000" stroke="#222" stroke-width="1.6"/><rect x="1106.6" y="1889.5" width="130.4" height="3.2" fill="#ff0000" stroke="#222" stroke-width="1.6"/><rect x="1237" y="1837.3" width="132" height="55.4" fill="#ff0000" stroke="#222" stroke-width="1.6"/><rect x="1369" y="1892.7" width="131" height="53.9" fill="#ff0000" stroke="#222" stroke-width="1.6"/><rect x="1500" y="1852.6" width="133" height="40.1" fill="#ff0000" stroke="#222" stroke-width="1.6"/><line x1="1040.6" y1="1914.9" x2="1040.6" y2="2026.8" stroke="#8a8c1e" stroke-width="2.6"/><line x1="1040.6" y1="2026.8" x2="1040.6" y2="2142" stroke="#4fe64f" stroke-width="2.6"/><line x1="1014.6" y1="1914.9" x2="1066.6" y2="1914.9" stroke="#8a8c1e" stroke-width="2.6"/><line x1="1014.6" y1="2142" x2="1066.6" y2="2142" stroke="#4fe64f" stroke-width="2.6"/><line x1="1171.6" y1="1776.5" x2="1171.6" y2="1889.5" stroke="#4fe64f" stroke-width="2.6"/><line x1="1171.6" y1="1889.5" x2="1171.6" y2="1892.7" stroke="#8a8c1e" stroke-width="2.6"/><line x1="1171.6" y1="1892.7" x2="1171.6" y2="2002.5" stroke="#4fe64f" stroke-width="2.6"/><line x1="1145.6" y1="1776.5" x2="1197.6" y2="1776.5" stroke="#4fe64f" stroke-width="2.6"/><line x1="1145.6" y1="2002.5" x2="1197.6" y2="2002.5" stroke="#4fe64f" stroke-width="2.6"/><line x1="1303.6" y1="1698.4" x2="1303.6" y2="1837.3" stroke="#4fe64f" stroke-width="2.6"/><line x1="1303.6" y1="1837.3" x2="1303.6" y2="1892.7" stroke="#8a8c1e" stroke-width="2.6"/><line x1="1303.6" y1="1892.7" x2="1303.6" y2="1975.6" stroke="#4fe64f" stroke-width="2.6"/><line x1="1277.6" y1="1698.4" x2="1329.6" y2="1698.4" stroke="#4fe64f" stroke-width="2.6"/><line x1="1277.6" y1="1975.6" x2="1329.6" y2="1975.6" stroke="#4fe64f" stroke-width="2.6"/><line x1="1434.5" y1="1751.2" x2="1434.5" y2="1892.7" stroke="#4fe64f" stroke-width="2.6"/><line x1="1434.5" y1="1892.7" x2="1434.5" y2="1946.6" stroke="#8a8c1e" stroke-width="2.6"/><line x1="1434.5" y1="1946.6" x2="1434.5" y2="2143.5" stroke="#4fe64f" stroke-width="2.6"/><line x1="1408.5" y1="1751.2" x2="1460.5" y2="1751.2" stroke="#4fe64f" stroke-width="2.6"/><line x1="1408.5" y1="2143.5" x2="1460.5" y2="2143.5" stroke="#4fe64f" stroke-width="2.6"/><line x1="1565" y1="1657.2" x2="1565" y2="1852.6" stroke="#4fe64f" stroke-width="2.6"/><line x1="1565" y1="1852.6" x2="1565" y2="1892.7" stroke="#8a8c1e" stroke-width="2.6"/><line x1="1565" y1="1892.7" x2="1565" y2="2049.5" stroke="#4fe64f" stroke-width="2.6"/><line x1="1539" y1="1657.2" x2="1591" y2="1657.2" stroke="#4fe64f" stroke-width="2.6"/><line x1="1539" y1="2049.5" x2="1591" y2="2049.5" stroke="#4fe64f" stroke-width="2.6"/><text x="999.02" y="2223.5" font-size="38.95" textLength="41.63" lengthAdjust="spacingAndGlyphs" fill="#000">ST</text><text x="1119.76" y="2222.2" font-size="38.95" textLength="71.24" lengthAdjust="spacingAndGlyphs" fill="#000">EQT</text><text x="1218.34" y="2221.8" font-size="38.95" textLength="135.69" lengthAdjust="spacingAndGlyphs" fill="#000">ST*EQT</text><text x="1396.52" y="2222.2" font-size="38.95" textLength="41.63" lengthAdjust="spacingAndGlyphs" fill="#000">ST</text><text x="1438.1" y="2208.7" font-size="25.21" textLength="14.41" lengthAdjust="spacingAndGlyphs" fill="#000">2</text><text x="1510.76" y="2222.2" font-size="38.95" textLength="71.24" lengthAdjust="spacingAndGlyphs" fill="#000">EQT</text><text x="1582.2" y="2208.7" font-size="25.21" textLength="14.41" lengthAdjust="spacingAndGlyphs" fill="#000">2</text>
</svg>
</body></html>
